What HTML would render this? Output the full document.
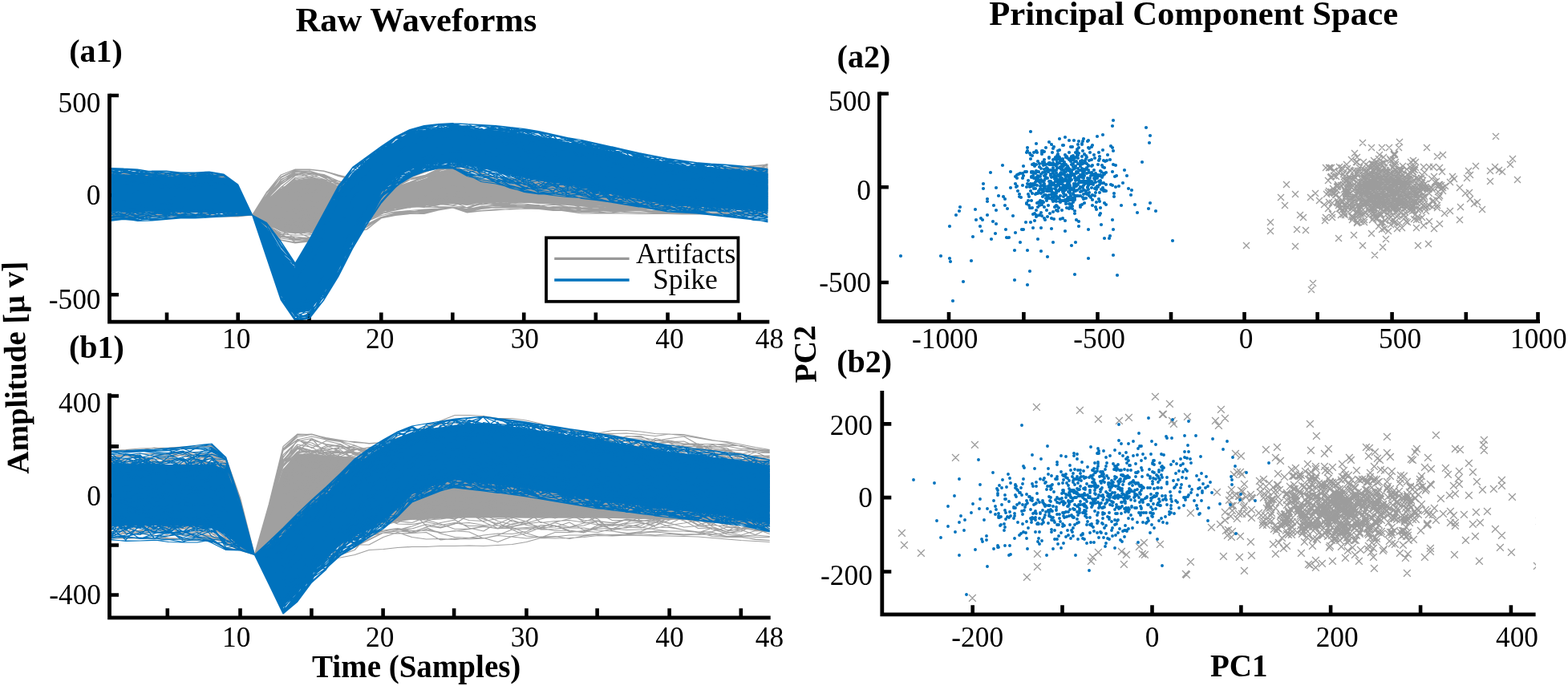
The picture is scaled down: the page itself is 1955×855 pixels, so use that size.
<!DOCTYPE html>
<html><head><meta charset="utf-8"><title>Raw Waveforms and Principal Component Space</title>
<style>html,body{margin:0;padding:0;background:#fff;width:1955px;height:855px;overflow:hidden}svg{display:block}</style>
</head><body>
<svg width="1955" height="855" viewBox="0 0 1955 855"><defs>
<clipPath id="ca1"><rect x="139" y="117" width="819" height="284"/></clipPath>
<clipPath id="cb1"><rect x="139" y="490" width="822" height="280"/></clipPath>
<clipPath id="ca2"><rect x="1098" y="114" width="822" height="287"/></clipPath>
<clipPath id="cb2"><rect x="1101" y="487" width="814" height="278"/></clipPath>
</defs>
<path d="M208.0 401.1v-11.5M296.7 401.1v-11.5M385.5 401.1v-11.5M475.3 401.1v-11.5M564.3 401.1v-11.5M653.2 401.1v-11.5M742.8 401.1v-11.5M832.5 401.1v-11.5M921.7 401.1v-11.5M136.5 119.0h11.5M136.5 243.2h11.5M136.5 367.3h11.5" stroke="#000" stroke-width="4.6" fill="none"/>
<path d="M208.8 769.8v-11.5M299.5 769.8v-11.5M388.4 769.8v-11.5M477.6 769.8v-11.5M566.1 769.8v-11.5M656.4 769.8v-11.5M744.6 769.8v-11.5M834.6 769.8v-11.5M923.8 769.8v-11.5M136.5 493.5h11.5M136.5 556.4h11.5M136.5 617.5h11.5M136.5 679.5h11.5M136.5 741.5h11.5" stroke="#000" stroke-width="4.6" fill="none"/>
<path d="M1183.0 400.6v-11.5M1276.4 400.6v-11.5M1368.5 400.6v-11.5M1460.0 400.6v-11.5M1551.5 400.6v-11.5M1642.6 400.6v-11.5M1735.6 400.6v-11.5M1827.8 400.6v-11.5M1917.5 400.6v-11.5M1096.4 116.8h11.5M1096.4 233.3h11.5M1096.4 352.0h11.5" stroke="#000" stroke-width="4.6" fill="none"/>
<path d="M1212.7 765.8v-11.5M1324.5 765.8v-11.5M1436.5 765.8v-11.5M1547.4 765.8v-11.5M1659.1 765.8v-11.5M1771.1 765.8v-11.5M1883.9 765.8v-11.5M1099.8 528.4h11.5M1099.8 620.1h11.5M1099.8 712.5h11.5" stroke="#000" stroke-width="4.6" fill="none"/>
<g clip-path="url(#ca1)" fill="none" stroke-linejoin="round">
<path d="M136.0 223.0L153.9 223.2L171.7 223.5L189.6 223.7L207.4 224.0L225.3 224.5L243.1 225.0L261.0 225.5L278.8 225.9L296.7 240.7L314.6 268.0L332.4 250.8L350.3 235.4L368.1 224.8L386.0 221.8L403.8 223.7L421.7 231.4L439.5 233.2L457.4 234.9L475.3 237.7L493.1 234.7L511.0 228.8L528.8 222.9L546.7 216.0L564.5 209.2L582.4 218.0L600.3 224.7L618.1 229.6L636.0 230.1L653.8 230.6L671.7 230.6L689.5 230.6L707.4 230.7L725.2 230.7L743.1 229.9L761.0 229.1L778.8 228.2L796.7 227.4L814.5 226.6L832.4 225.8L850.2 223.9L868.1 221.9L885.9 220.0L903.8 218.0L921.7 216.1L939.5 213.7L957.4 211.3L957.4 260.7L939.5 259.3L921.7 257.9L903.8 257.8L885.9 257.6L868.1 257.5L850.2 257.3L832.4 257.2L814.5 257.0L796.7 256.9L778.8 256.8L761.0 256.6L743.1 256.5L725.2 256.3L707.4 255.3L689.5 254.4L671.7 253.4L653.8 252.4L636.0 252.4L618.1 252.4L600.3 252.3L582.4 256.0L564.5 253.8L546.7 254.0L528.8 256.1L511.0 258.2L493.1 260.3L475.3 264.3L457.4 271.1L439.5 276.9L421.7 283.6L403.8 286.4L386.0 289.2L368.1 291.2L350.3 288.6L332.4 279.2L314.6 268.0L296.7 265.4L278.8 262.1L261.0 261.8L243.1 261.5L225.3 261.3L207.4 261.0L189.6 261.0L171.7 261.0L153.9 261.0L136.0 261.0Z" fill="#A0A0A0"/>
<path transform="translate(136.00 0) scale(17.8560 0.5)" vector-effect="non-scaling-stroke" stroke="#A0A0A0" stroke-width="1.2" d="M0 486l1-1 1-4 1-1 1-3 1 3 1 8 1-2 1-1 1 21 1 30 1-5 1-11 1-8 1 1 1-12 1 6 1-12 1-4 1-3 1-4 1-11 1-5 1-7 1-7 1 3 1 9 1 9 1 3 1-3 1 2 1-1 1 1 1 6 1-2 1 0 1 4 1-3 1-1 1 1 1-2 1-7 1 0 1 6 1-10 1 4 1 0M0 482l1 0 1-9 1 0 1 2 1-2 1 3 1-1 1 3 1 25 1 33 1-15 1-18 1-13 1-16 1-1 1 12 1 6 1 5 1-7 1-9 1-6 1-18 1-12 1-9 1 23 1 9 1 6 1-1 1 0 1 6 1-2 1 0 1 1 1-2 1-1 1-5 1-1 1-2 1 5 1-1 1-3 1 0 1-6 1 2 1-4 1 0M0 453l1-8 1-6 1 2 1-1 1 5 1 13 1-3 1-2 1 30 1 53 1-31 1-29 1-14 1-2 1-7 1 14 1 4 1-2 1 8 1-9 1-7 1-10 1-13 1-16 1 17 1 6 1 9 1 4 1-3 1 4 1-3 1 4 1-2 1 3 1-1 1-6 1 4 1 4 1-3 1-5 1-5 1-8 1 2 1-6 1-5 1-9M0 459l1 8 1 0 1 5 1 0 1-3 1 0 1-1 1 2 1 23 1 43 1-25 1-25 1 1 1-11 1-5 1 16 1 9 1-9 1 1 1-8 1-15 1-5 1-11 1-9 1 12 1 12 1 6 1 1 1-2 1-2 1 6 1 0 1 2 1-1 1-2 1-3 1 2 1-2 1-1 1-2 1 2 1 0 1-2 1-7 1-11 1 4M0 508l1 3 1 3 1 2 1 3 1-4 1 6 1-8 1 4 1 9 1 10 1 24 1 25 1-11 1-22 1 3 1-10 1-9 1-4 1-17 1-13 1-3 1-4 1-7 1-1 1 4 1-5 1 5 1-1 1-2 1 5 1 2 1 4 1 0 1-2 1-2 1-1 1 3 1-2 1 4 1 1 1 9 1-8 1 4 1-1 1 1 1-8M0 477l1-1 1 0 1-2 1 5 1 0 1-10 1-1 1-6 1 19 1 55 1-23 1-16 1-21 1-9 1 16 1 12 1 0 1-2 1 0 1-4 1-7 1-9 1-16 1-6 1 9 1 11 1 2 1 1 1 1 1-3 1 7 1 5 1-2 1 1 1-1 1-11 1 1 1 0 1-1 1-6 1-2 1-3 1 5 1-1 1-3 1 7M0 467l1-7 1 10 1 5 1 3 1 2 1 0 1 0 1-2 1 20 1 38 1-11 1-9 1-14 1-13 1-5 1 20 1-2 1-4 1-4 1-11 1-9 1-6 1-13 1-10 1 13 1 8 1 3 1 1 1-1 1 5 1-1 1 3 1 5 1-3 1-3 1 0 1-1 1-5 1 1 1 6 1-5 1-5 1-8 1 0 1-9 1-8M0 510l1 7 1 7 1-1 1 1 1 7 1-3 1-5 1-6 1 9 1 10 1 25 1 12 1-4 1-7 1-1 1-4 1-10 1-9 1-14 1-7 1-4 1-5 1-3 1 8 1 4 1-10 1-6 1 1 1-5 1-1 1 6 1 5 1 1 1-5 1 0 1-1 1 4 1 10 1-1 1-4 1-5 1 0 1 0 1-5 1 5 1-4M0 520l1 3 1-5 1 1 1-2 1-2 1-2 1-5 1-4 1 17 1 15 1 14 1 18 1-13 1-8 1 1 1 3 1-12 1-4 1-11 1-12 1-8 1-1 1-4 1-12 1 16 1-3 1 4 1-2 1-1 1-2 1 9 1 0 1 6 1-4 1 0 1-7 1 0 1 4 1-5 1 5 1 1 1-5 1-2 1-2 1 3 1-1M0 461l1-4 1-4 1 3 1 6 1-5 1 3 1-1 1-1 1 32 1 46 1-20 1-24 1-12 1-7 1-4 1 17 1-1 1 3 1 0 1-10 1-10 1-10 1-6 1-16 1 15 1 4 1 12 1-2 1-2 1 2 1 5 1-4 1-2 1-1 1-3 1 2 1-2 1-2 1 3 1-5 1 0 1-7 1-7 1-10 1 11 1-4M0 490l1 1 1 0 1 9 1-7 1-7 1-2 1-3 1 7 1 22 1 26 1-9 1-7 1 6 1-28 1 10 1 1 1 4 1-8 1-3 1-11 1-10 1 0 1-4 1-8 1 6 1-3 1 7 1 2 1 2 1 1 1-1 1 2 1 2 1 5 1 5 1-2 1-5 1-1 1-3 1-4 1-1 1-5 1 3 1-1 1 1 1-1M0 459l1 1 1-1 1 3 1 2 1-5 1 4 1-4 1 1 1 28 1 48 1-29 1-21 1-15 1-6 1 2 1 9 1 3 1 1 1 4 1-9 1-8 1-8 1-12 1-12 1 19 1 3 1 11 1 2 1 2 1 2 1-2 1 0 1 3 1 0 1-1 1-7 1 2 1 3 1 2 1-3 1-11 1 2 1-4 1-16 1 1 1-10M0 446l1 8 1-2 1 2 1 8 1 5 1-3 1-2 1-6 1 26 1 54 1-30 1-27 1-11 1-15 1 3 1 18 1 4 1 5 1 2 1-9 1-10 1-17 1-20 1-9 1 18 1 14 1 5 1 1 1 1 1-1 1-5 1 2 1 5 1 0 1-2 1-1 1 2 1-12 1 0 1 1 1 0 1 4 1 1 1-5 1-4 1-2M0 470l1 5 1 8 1-4 1-2 1 1 1 5 1-2 1 6 1 13 1 36 1-15 1-10 1-5 1-21 1-6 1 14 1-4 1-6 1 7 1-4 1-8 1-12 1-5 1-12 1 18 1 1 1 4 1 1 1 0 1 3 1 1 1-2 1 1 1-2 1 3 1-4 1-2 1 4 1 7 1 4 1-6 1-4 1 2 1-7 1-10 1-2M0 490l1-6 1-4 1 8 1-2 1 3 1 4 1 4 1 0 1 17 1 22 1-1 1-6 1 6 1-5 1-8 1 3 1-7 1-1 1-12 1-9 1-7 1 4 1-4 1-6 1 10 1 3 1-1 1-2 1 2 1 2 1 2 1-2 1 7 1 3 1-1 1-1 1-10 1 1 1-1 1 0 1 1 1-4 1-10 1 2 1-4 1 0M0 466l1-10 1 10 1 2 1 6 1 9 1-3 1-9 1-3 1 22 1 46 1-23 1-31 1-9 1-14 1 11 1 14 1 0 1 2 1 0 1-7 1-15 1-8 1-1 1 1 1 16 1 4 1 1 1 3 1-1 1-1 1-1 1 1 1-1 1-2 1-4 1-2 1 8 1-2 1-3 1-1 1 0 1-9 1-4 1 3 1-2 1-3M0 519l1 2 1-2 1 8 1-10 1-1 1 1 1 5 1 4 1 10 1 0 1 25 1 19 1 0 1 2 1-13 1-17 1-9 1-14 1-9 1-4 1-2 1 3 1-6 1-8 1 3 1-8 1 0 1 3 1 0 1-3 1 6 1 3 1 4 1 2 1 2 1 1 1 4 1 1 1 0 1 1 1-7 1 0 1 0 1 2 1-5 1 15M0 478l1-5 1 2 1 3 1-1 1 4 1 0 1 5 1-1 1 20 1 31 1 5 1-7 1-11 1-12 1 6 1-4 1-6 1-2 1-7 1-8 1-9 1-15 1-13 1-6 1 18 1 7 1 2 1 2 1 5 1 3 1 1 1-1 1 4 1-2 1-4 1-2 1 6 1 0 1 4 1-5 1 2 1-5 1-3 1 11 1 1 1-6M0 484l1 5 1-3 1-9 1 0 1 3 1 2 1 7 1 1 1 19 1 27 1-4 1 7 1-3 1-9 1-6 1 12 1-17 1-8 1-4 1-5 1-11 1-7 1-11 1-7 1 10 1-1 1 7 1 3 1-2 1 0 1 4 1-2 1 2 1-4 1 4 1 7 1 5 1-4 1 0 1-4 1-3 1 3 1-11 1 3 1-3 1 6M0 484l1 3 1 4 1 0 1 2 1-3 1-8 1 7 1 4 1 17 1 26 1 2 1-4 1-12 1-6 1 8 1-7 1 2 1-9 1-9 1-2 1-8 1-13 1-9 1 0 1 15 1-2 1 5 1 2 1-2 1 2 1 0 1-1 1 0 1 0 1 0 1-2 1-2 1 5 1 0 1 2 1 2 1-1 1 8 1-10 1 2 1-5M0 539l1-8 1-4 1 4 1 2 1 2 1 0 1 0 1 2 1 1 1-2 1 26 1 27 1 1 1 4 1-8 1-12 1-11 1-17 1-17 1-11 1-2 1 0 1 1 1-1 1 8 1-10 1-2 1 1 1 2 1 0 1 1 1 1 1 3 1-3 1 4 1-1 1 2 1-2 1 2 1 2 1-1 1 7 1 1 1 3 1 3 1 1M0 477l1 0 1 0 1-2 1-8 1 2 1-7 1 6 1 0 1 24 1 44 1-18 1-23 1-25 1-7 1-6 1 15 1 17 1-3 1 5 1-10 1-7 1-9 1-10 1-5 1 22 1 3 1 4 1-3 1 3 1-1 1 4 1 0 1 5 1-9 1-1 1 2 1-2 1-4 1-1 1-8 1 0 1 10 1 2 1-10 1-7 1-4M0 504l1-2 1 6 1 5 1-3 1-4 1-5 1 0 1-7 1 22 1 20 1 9 1 21 1 10 1-17 1 1 1 3 1-20 1-14 1-10 1-13 1 1 1-15 1-10 1-2 1 10 1 1 1 4 1 0 1 4 1-4 1 2 1 1 1 3 1 1 1-2 1-2 1 5 1 1 1-2 1 8 1 8 1-10 1 0 1 12 1 2 1 0M0 475l1 0 1-1 1 5 1-1 1-1 1-4 1 3 1-2 1 24 1 38 1-9 1-6 1-7 1-7 1-3 1 4 1 0 1-9 1 2 1-7 1-12 1-10 1-13 1-6 1 10 1 11 1 3 1-5 1 0 1-3 1 4 1 6 1 3 1-5 1-2 1 7 1 0 1-1 1 3 1 7 1 0 1-5 1-3 1-1 1-8 1-9M0 479l1 1 1 2 1 12 1-6 1 0 1 0 1 3 1 4 1 14 1 27 1-12 1-14 1-2 1-2 1-7 1 7 1-1 1 1 1-6 1-7 1-14 1-11 1 0 1-18 1 14 1 9 1 6 1-1 1 2 1 2 1 1 1-4 1 2 1-2 1 0 1 2 1 3 1 3 1-3 1 2 1 3 1 1 1 3 1-6 1-4 1 3M0 450l1-2 1-1 1-6 1-1 1 3 1 7 1 6 1 0 1 27 1 53 1-33 1-30 1-16 1 8 1-1 1 0 1 0 1-1 1 5 1 1 1-11 1-17 1-9 1-6 1 14 1 10 1 9 1 2 1 3 1 3 1 3 1 2 1 3 1-2 1-9 1-3 1-1 1-4 1 2 1-6 1-8 1 4 1-2 1-4 1 0 1 0M0 475l1 2 1 2 1-1 1 5 1 9 1-1 1-3 1 11 1 13 1 24 1-2 1 2 1-11 1 3 1-6 1-2 1-4 1-1 1-8 1-6 1-8 1 5 1-13 1 1 1 5 1-4 1 5 1 1 1 3 1 0 1-2 1-1 1 2 1 1 1 4 1-1 1 2 1 3 1-3 1-10 1-7 1-7 1 8 1-5 1 7 1 3M0 534l1-2 1-2 1 0 1 0 1-2 1 0 1 6 1-7 1 7 1 2 1 25 1 27 1 6 1 1 1-19 1 2 1-19 1-9 1-16 1-16 1-6 1-1 1 4 1 1 1 5 1-15 1 4 1 4 1-1 1 0 1-3 1 5 1 10 1 0 1 2 1 0 1-4 1 3 1-5 1 0 1 1 1 4 1 1 1 1 1-1 1-5M0 481l1-5 1-3 1 1 1-5 1-1 1-1 1 7 1 6 1 28 1 28 1-10 1-2 1-9 1-7 1 14 1-1 1-13 1-9 1 1 1-5 1-13 1-11 1-5 1-3 1 8 1 7 1 6 1-4 1 0 1 3 1 0 1-5 1 2 1 4 1 5 1-8 1 10 1-6 1 3 1 2 1 1 1-3 1-9 1 1 1-6 1-16M0 543l1 0 1-2 1 0 1-1 1 0 1 0 1 0 1 0 1 0 1-4 1 33 1 29 1 7 1-4 1-5 1-6 1-11 1-7 1-29 1-7 1-3 1-2 1-7 1-6 1 11 1-4 1-3 1 0 1-2 1 1 1 1 1 5 1 5 1 0 1 0 1 0 1 0 1 1 1 0 1 1 1 0 1 0 1 1 1-1 1 3 1 2M0 474l1 2 1 4 1-6 1-2 1-1 1 7 1 10 1 3 1 15 1 30 1-9 1 2 1-16 1-29 1 26 1 14 1-15 1-4 1-5 1-7 1-13 1-11 1-6 1-6 1 18 1 2 1 11 1-4 1 1 1-6 1-2 1 6 1-2 1 2 1-1 1-4 1-1 1-2 1-1 1 2 1 1 1-5 1-6 1 1 1-1 1 5M0 543l1-1 1-1 1-2 1-1 1-1 1 1 1 0 1 1 1 1 1-4 1 33 1 30 1 7 1-4 1-6 1-6 1-11 1-8 1-27 1-7 1-4 1 0 1-9 1-6 1 12 1-4 1-2 1-3 1-1 1 1 1 2 1 3 1 3 1-2 1 4 1 1 1 1 1-1 1 0 1 1 1 1 1-1 1 1 1 2 1 2 1 2M0 493l1 7 1-7 1 1 1 7 1-2 1-2 1 1 1-2 1 21 1 19 1 5 1-7 1 1 1-6 1-23 1 10 1-9 1-2 1 3 1-11 1-10 1 0 1-7 1 3 1 8 1-6 1 3 1 4 1 2 1 0 1 0 1 1 1-2 1 7 1-2 1-6 1-2 1 3 1 2 1-3 1-5 1-1 1-9 1-6 1 7 1-2M0 503l1 1 1-2 1 8 1-1 1-4 1 1 1 0 1-5 1 13 1 22 1-5 1-3 1-6 1-6 1-12 1 9 1-2 1-1 1-8 1-3 1-11 1-7 1-1 1-9 1 8 1 6 1 3 1-1 1 1 1 5 1-6 1-1 1 0 1-3 1-1 1-1 1 3 1-2 1 2 1 2 1-4 1 1 1 8 1-1 1-4 1-1M0 462l1 4 1-5 1-1 1 6 1-2 1 1 1-4 1-2 1 27 1 50 1-23 1-24 1-21 1-6 1 9 1 13 1 10 1-2 1 3 1-9 1-9 1-17 1-13 1-12 1 14 1 3 1 13 1 1 1 0 1 0 1 1 1 2 1-3 1-3 1 1 1 0 1-2 1-2 1-4 1-2 1 3 1-8 1 6 1 0 1-7 1 0M0 435l1-1 1 2 1 2 1 1 1 3 1-4 1 5 1-2 1 32 1 63 1-45 1-42 1-22 1-1 1 11 1 23 1-1 1 3 1 6 1-2 1-18 1-6 1-15 1-16 1 21 1 19 1 10 1 4 1 0 1 3 1 2 1-2 1 3 1-3 1-3 1-6 1-3 1 1 1-8 1 0 1-3 1-3 1-15 1-2 1 0 1-9M0 470l1 7 1 0 1 7 1-8 1 7 1 1 1 5 1-3 1 18 1 32 1-4 1-9 1-9 1-12 1 12 1 15 1-13 1-13 1 1 1-3 1-6 1-4 1-14 1-8 1 3 1-1 1 11 1-1 1 7 1 1 1-2 1 3 1 6 1 0 1-7 1 1 1 3 1-4 1-4 1 2 1-2 1-7 1-3 1-5 1 2 1 1M0 518l1-8 1 3 1 4 1 1 1 4 1-4 1-4 1 5 1 4 1 13 1 13 1 7 1 0 1-13 1-9 1-1 1-5 1-2 1-15 1-2 1-9 1-8 1 0 1-2 1 2 1 6 1-1 1 2 1 1 1 5 1 0 1 4 1-1 1 3 1-3 1-2 1 8 1-1 1-1 1 8 1-1 1-6 1 2 1-8 1 8 1 8M0 465l1 2 1 1 1-3 1 4 1-8 1 2 1 1 1 2 1 27 1 43 1-20 1-18 1-18 1-14 1-3 1 20 1-2 1 4 1 6 1-3 1-4 1-12 1-17 1-4 1 13 1 9 1 4 1 3 1 1 1 2 1 0 1 0 1 0 1-1 1 1 1-5 1 4 1-3 1 1 1-5 1-5 1 6 1-7 1-11 1-6 1-4M0 538l1 1 1-3 1 1 1 0 1 2 1-1 1 0 1 1 1 0 1-3 1 32 1 17 1 14 1-1 1-7 1-13 1-7 1-12 1-18 1-6 1-5 1-1 1-6 1-5 1 9 1-10 1 1 1-1 1-1 1 1 1 3 1 0 1 1 1 1 1 0 1 1 1-1 1 7 1 2 1 0 1 0 1 3 1 0 1 0 1 3 1 2M0 520l1 10 1-7 1 3 1-6 1 8 1-2 1-1 1 4 1 7 1 0 1 22 1 8 1 6 1-3 1-6 1-7 1-12 1-12 1-7 1-3 1-12 1-4 1-6 1 3 1 1 1-5 1-1 1 4 1 1 1 1 1 4 1 1 1-3 1 3 1 2 1 0 1 4 1 4 1-5 1-4 1 8 1 5 1-5 1-7 1 0 1 0M0 444l1-5 1-3 1 6 1-2 1 2 1 5 1 5 1-2 1 30 1 56 1-32 1-26 1-32 1-6 1 9 1 17 1 11 1 5 1-2 1-8 1-17 1-11 1-14 1 1 1 13 1 2 1 9 1 2 1-2 1-1 1 0 1 2 1 0 1-3 1 2 1-3 1-3 1-6 1-2 1 0 1-9 1-3 1 1 1-5 1-3 1-9M0 525l1-1 1-9 1-4 1 6 1 8 1 0 1 5 1-5 1 5 1 6 1 22 1 7 1 12 1 6 1-18 1-13 1-7 1-12 1-18 1-2 1-4 1-6 1 6 1-1 1 0 1-6 1-3 1-1 1 2 1 1 1 1 1 8 1 4 1 2 1 0 1 1 1 4 1-3 1 6 1-7 1-2 1-7 1-1 1 3 1 11 1-3M0 482l1-3 1-4 1 3 1-6 1 5 1 3 1-1 1-1 1 19 1 39 1-12 1 2 1-3 1-10 1-10 1 14 1 4 1-12 1-7 1-3 1-8 1 0 1-13 1-5 1 1 1 10 1 1 1-7 1 2 1 1 1 7 1 0 1 0 1 1 1 4 1-2 1 2 1-1 1-4 1-2 1-3 1-7 1 5 1-10 1 6 1 4M0 476l1 1 1 4 1 4 1 1 1 4 1-3 1 1 1-7 1 23 1 32 1-9 1 0 1-4 1-31 1 4 1 0 1 7 1 9 1-9 1-7 1-10 1-7 1-6 1-1 1 2 1 8 1 0 1 1 1 3 1 2 1-3 1-1 1-1 1 0 1 3 1-5 1 1 1 2 1 1 1-1 1 4 1-2 1 0 1-2 1 7 1-17M0 515l1-1 1-4 1-6 1 1 1 1 1 6 1-5 1 10 1 10 1 9 1 15 1 9 1-5 1-4 1 0 1 0 1-17 1-6 1-11 1-5 1 3 1-3 1-7 1-10 1 1 1-7 1 7 1 0 1 2 1 1 1 3 1 7 1-1 1-1 1-2 1 4 1-3 1-3 1-4 1-3 1 5 1 13 1-5 1 5 1 3 1-5M0 475l1-2 1 10 1-10 1 3 1 3 1-2 1 2 1 5 1 19 1 33 1-6 1-22 1 2 1 12 1 0 1 5 1-19 1-6 1-6 1-8 1-5 1-12 1-11 1-18 1 16 1 9 1 6 1 0 1 7 1-3 1-1 1-1 1 6 1 6 1-1 1-4 1-3 1 3 1-5 1 4 1 2 1-4 1-1 1 0 1 5 1-12M0 512l1-3 1 2 1 0 1-4 1-5 1 0 1 10 1 11 1 8 1 5 1 21 1 15 1 5 1-15 1-12 1 1 1-11 1-13 1-7 1-8 1-1 1-5 1-6 1-1 1 5 1-8 1 1 1 3 1 2 1 5 1-4 1 1 1 1 1 1 1-1 1-1 1 4 1 0 1-4 1 6 1 4 1-4 1 3 1-5 1 8 1 0M0 461l1-3 1 3 1 2 1 1 1-1 1-15 1 6 1-4 1 34 1 52 1-23 1-23 1-16 1-5 1-1 1 10 1-2 1 9 1 2 1-3 1-12 1-10 1-12 1-8 1 17 1 7 1 4 1-1 1 5 1-1 1 0 1 4 1 3 1-1 1-4 1 6 1-2 1-2 1-4 1-10 1-9 1 0 1 0 1-4 1-9 1-11M0 465l1 7 1 7 1 12 1 1 1-6 1-5 1-15 1 1 1 26 1 43 1-12 1-8 1-9 1-1 1 8 1-6 1-7 1-9 1 6 1-3 1-7 1-15 1-9 1-10 1 12 1 5 1 7 1-1 1 3 1 1 1 0 1 0 1-1 1 2 1-2 1 0 1-2 1-7 1 4 1-6 1 1 1 0 1-10 1-6 1-3 1-4M0 459l1-2 1 1 1-2 1 2 1-3 1 1 1 4 1 1 1 25 1 50 1-31 1-25 1-21 1-11 1 10 1 30 1-5 1 0 1 2 1-15 1-10 1-13 1-6 1-14 1 13 1 12 1 11 1-1 1 2 1-3 1 0 1 4 1 7 1-1 1-1 1 1 1 0 1 3 1-1 1-7 1-4 1-5 1-4 1-4 1-10 1-17M0 453l1 4 1 3 1-5 1 6 1 7 1 1 1 9 1 7 1 13 1 38 1-12 1-12 1-8 1-15 1-6 1 4 1-4 1 2 1-2 1-8 1-7 1-9 1-9 1-20 1 15 1 11 1 11 1 0 1 5 1 0 1 1 1 1 1 3 1-3 1 3 1 0 1-2 1-2 1 0 1 1 1 0 1-4 1 0 1-5 1 3 1-6M0 440l1-1 1-4 1 0 1-1 1 7 1 1 1-4 1 3 1 31 1 64 1-45 1-50 1-17 1-1 1 4 1 11 1 9 1 11 1 4 1-3 1-14 1-5 1-15 1-15 1 20 1 15 1 8 1 2 1-1 1-4 1 5 1-2 1-2 1-1 1-6 1-4 1-1 1-2 1-1 1-1 1-5 1-3 1-2 1-7 1-4 1-4M0 514l1 0 1-7 1 2 1-3 1 5 1 1 1-3 1 6 1 11 1 10 1 19 1 11 1-1 1-4 1-11 1-3 1-10 1-1 1-8 1-10 1 0 1-7 1-5 1 1 1 3 1 0 1-3 1-5 1 3 1-1 1 0 1-8 1 7 1 3 1 2 1 3 1 5 1-3 1 2 1-5 1-3 1 4 1 0 1-8 1 4 1 0M0 466l1-2 1-7 1-3 1 11 1-6 1 3 1 5 1 4 1 19 1 46 1-24 1-15 1-20 1-15 1 13 1 18 1-1 1-5 1 2 1-6 1-8 1-16 1-10 1-12 1 10 1 12 1 9 1 0 1 2 1-3 1 1 1 3 1 2 1 2 1-6 1-6 1 1 1 1 1 8 1-2 1-9 1 1 1-9 1-10 1 13 1-3M0 506l1 8 1-2 1 4 1-8 1-7 1 8 1 6 1 0 1 9 1 12 1 9 1 17 1 3 1-4 1-6 1 1 1-12 1-9 1-18 1-6 1 1 1-10 1-8 1 0 1 9 1-5 1-5 1 2 1-3 1-1 1 4 1 1 1 4 1 10 1 0 1 0 1-6 1-4 1-5 1-2 1-5 1-2 1 0 1-4 1-5 1-4M0 496l1 5 1 4 1-4 1 2 1-8 1 12 1 3 1-3 1 7 1 22 1-2 1-6 1 3 1-3 1-5 1 10 1-14 1-3 1-8 1-10 1-4 1-11 1 2 1-8 1 18 1-8 1 5 1-4 1-3 1 3 1 4 1-3 1 6 1-3 1 1 1 1 1 2 1-8 1 7 1 1 1-4 1-6 1-9 1-6 1 6 1 0M0 451l1 9 1-2 1-3 1 7 1 2 1-1 1-3 1-6 1 26 1 56 1-34 1-25 1-13 1-4 1 4 1 6 1-8 1 5 1 5 1-5 1-11 1-15 1-16 1-10 1 21 1 13 1 13 1 1 1-1 1 1 1 7 1-3 1 4 1 2 1 2 1-6 1 4 1-3 1-5 1-5 1-2 1-4 1-5 1 2 1-9 1-11M0 509l1 4 1-7 1 5 1 1 1 6 1-8 1 1 1-2 1 6 1 21 1 9 1 4 1-7 1 5 1 4 1 3 1-18 1-9 1-7 1-10 1-9 1-2 1 0 1-11 1-5 1-2 1 4 1 2 1 4 1 2 1 0 1 3 1-1 1 1 1-1 1 10 1 2 1-5 1-4 1-2 1-8 1-2 1-2 1 7 1 0 1-3M0 441l1 3 1 1 1 7 1-3 1 7 1 1 1 0 1-9 1 28 1 60 1-30 1-26 1-14 1-12 1 0 1 10 1 9 1 4 1 2 1-7 1-10 1-10 1-18 1-3 1 15 1 10 1 12 1 2 1-2 1 1 1-4 1-2 1-7 1 4 1-7 1 2 1-3 1-4 1 0 1-2 1 0 1 5 1-3 1-1 1-10 1-1M0 485l1 0 1 1 1 2 1 2 1-2 1-2 1 5 1-7 1 19 1 33 1-12 1-12 1 0 1-16 1 25 1-14 1 7 1 2 1-5 1-9 1-7 1-12 1-5 1-13 1 10 1 7 1 0 1 0 1 2 1-2 1 5 1 2 1-4 1 1 1-3 1-1 1 1 1-2 1 4 1-4 1 3 1-2 1 3 1-6 1-3 1-7M0 505l1 9 1 2 1-3 1-4 1 0 1-2 1 6 1 2 1 5 1 16 1 11 1 7 1-5 1 4 1-11 1-4 1-12 1-15 1-1 1-10 1-8 1-9 1-2 1-5 1 10 1-5 1 5 1-2 1 3 1 3 1 2 1 8 1 2 1 1 1-1 1-3 1 3 1 2 1-7 1 3 1 0 1 2 1-1 1-9 1-7 1 13M0 480l1 5 1 0 1-7 1-7 1-1 1 7 1 5 1 2 1 22 1 30 1-10 1-7 1-11 1-11 1 2 1 11 1-3 1-8 1-1 1 1 1-11 1-13 1-6 1-2 1 14 1-3 1 8 1-1 1-3 1 1 1 2 1 4 1 3 1 0 1 2 1-1 1 2 1-7 1-6 1 3 1-7 1-2 1 0 1-2 1-2 1 10M0 431l1 5 1-1 1-1 1 1 1 4 1-3 1 1 1 0 1 32 1 67 1-49 1-45 1-18 1-2 1 4 1 12 1 7 1 6 1 10 1-6 1-13 1-12 1-13 1-9 1 13 1 14 1 11 1 1 1 1 1 3 1-5 1 0 1 0 1-3 1-3 1 1 1-2 1 2 1-2 1-5 1-5 1-3 1-3 1-4 1-5 1-4M0 524l1-6 1-3 1 3 1-3 1 0 1-3 1 2 1 4 1 12 1 6 1 28 1 19 1 20 1-4 1-8 1-14 1-33 1-9 1-11 1-1 1-10 1 3 1-7 1 3 1-10 1-3 1 1 1 3 1 0 1-1 1 5 1 4 1 3 1 3 1 2 1-2 1-6 1-5 1 7 1 3 1-1 1-2 1 0 1 0 1 0 1-1M0 538l1-2 1-4 1-2 1 4 1 2 1 0 1 1 1-1 1 1 1-1 1 33 1 30 1 6 1-4 1-6 1-7 1-19 1-17 1-15 1-7 1-3 1 0 1-4 1-5 1 10 1-10 1-1 1 1 1-1 1 3 1 1 1-2 1 0 1 4 1 2 1 4 1 0 1 1 1 1 1 1 1 0 1 0 1 0 1-1 1 4 1 4M0 486l1-5 1-3 1-2 1-4 1 3 1 1 1 8 1 1 1 19 1 32 1-17 1-15 1-19 1 5 1 0 1 19 1-2 1-2 1-5 1-8 1-8 1-6 1-15 1-7 1 22 1-1 1 2 1-2 1-4 1 5 1 0 1 2 1 6 1 5 1-7 1 1 1 0 1-2 1-1 1-5 1 3 1-2 1-3 1 1 1 0 1-3M0 505l1-1 1-3 1-6 1-2 1-4 1 3 1 2 1-8 1 20 1 30 1-1 1-7 1 6 1-11 1-11 1 0 1-1 1 2 1-2 1-7 1-12 1-10 1-11 1-6 1 4 1 7 1 9 1 0 1 2 1-1 1-2 1 0 1 7 1 3 1-2 1 4 1-3 1 5 1-1 1-4 1 1 1-6 1-7 1-8 1 3 1 1M0 479l1 8 1-3 1-3 1 6 1 6 1 0 1-9 1-2 1 23 1 31 1-2 1-14 1-3 1-11 1 10 1 1 1-1 1-9 1-10 1-9 1-10 1-11 1-2 1 0 1 11 1-2 1 6 1-1 1 5 1 1 1 2 1-1 1-6 1-2 1-3 1 3 1 1 1-3 1-1 1 6 1-6 1-6 1-2 1-4 1-2 1 4M0 516l1 3 1 2 1 2 1 0 1 1 1 6 1-2 1 0 1 6 1 2 1 26 1 28 1 7 1-4 1-7 1-14 1-18 1-15 1-10 1-10 1-6 1-1 1-1 1-8 1 15 1-9 1-1 1 3 1 0 1 0 1 8 1-2 1 1 1 3 1-4 1 0 1 2 1 8 1-4 1 0 1 2 1 0 1-5 1 3 1 4 1 5M0 520l1 0 1 0 1-7 1 0 1 1 1-1 1 1 1-3 1 16 1 9 1 22 1 17 1 0 1 4 1-6 1-8 1-17 1-11 1-16 1-5 1-8 1-3 1-5 1 4 1 3 1-3 1-4 1 2 1-1 1 2 1 1 1 5 1-6 1 2 1-5 1 6 1-7 1-2 1-4 1 9 1-5 1 3 1-2 1-8 1 3 1 9M0 486l1-3 1-1 1-2 1 2 1 9 1 0 1-1 1-4 1 16 1 34 1-10 1-15 1-10 1-7 1 17 1-12 1 1 1 2 1-7 1-8 1-6 1-1 1-15 1-16 1 19 1 10 1 3 1-6 1 6 1 0 1 4 1 0 1-1 1-2 1 4 1 4 1-11 1-4 1 7 1-4 1-8 1-1 1-2 1-2 1-3 1-2M0 475l1-4 1-1 1 1 1 6 1 2 1-1 1 3 1 1 1 22 1 32 1-3 1-1 1-14 1-14 1 3 1 6 1-8 1-12 1-6 1-4 1-6 1-5 1-17 1-3 1 9 1 8 1 8 1-2 1-1 1-5 1 0 1-3 1 5 1 1 1 4 1 0 1-3 1 1 1-3 1 1 1-1 1-8 1-2 1-1 1-4 1 4M0 525l1-1 1-9 1 3 1 0 1-7 1 6 1 6 1-1 1 7 1 7 1 24 1 11 1 6 1 15 1-7 1-6 1-16 1-19 1-13 1-7 1-7 1-2 1 2 1 1 1-1 1-12 1-4 1 5 1 2 1 4 1-1 1-1 1 3 1 2 1-2 1 2 1 3 1 2 1-4 1-8 1 2 1 4 1 1 1-1 1 1 1 10M0 484l1-5 1-2 1 3 1-3 1-4 1 3 1 8 1 2 1 23 1 27 1-6 1-15 1-13 1 10 1 0 1 9 1-4 1-7 1-7 1-7 1-6 1-7 1-7 1-8 1 5 1 3 1 2 1 4 1-5 1 2 1 8 1 0 1-3 1-1 1 5 1-2 1 1 1-1 1-3 1 11 1-5 1-6 1-6 1 0 1 0 1 3M0 478l1 5 1 0 1 0 1-5 1 1 1 0 1 3 1-3 1 23 1 34 1-11 1-11 1-13 1 8 1-18 1 11 1-8 1 1 1 4 1-7 1-7 1-10 1 1 1-1 1 13 1-7 1 1 1 4 1-1 1 1 1 2 1-3 1 4 1 0 1 1 1-3 1 1 1-3 1 3 1 3 1 1 1-1 1-1 1-17 1 5 1-3M0 484l1-5 1 0 1 5 1 7 1-3 1-3 1 8 1-4 1 24 1 23 1-3 1 2 1 6 1-22 1 10 1-3 1-1 1-11 1-12 1-5 1-5 1 1 1-3 1-5 1 3 1-5 1 2 1-2 1 0 1-6 1 4 1 2 1 10 1 1 1-4 1 1 1-6 1-2 1-8 1 7 1 1 1-7 1-2 1 5 1 1 1 1M0 458l1 2 1 5 1-4 1-4 1 8 1-4 1 7 1 2 1 26 1 40 1-13 1-11 1-25 1-13 1 6 1 18 1 3 1 4 1-6 1-9 1-8 1-12 1-14 1-17 1 19 1 3 1 9 1-3 1 4 1-3 1 4 1-5 1 0 1 4 1-4 1 0 1-3 1-9 1 3 1 0 1-7 1 1 1-6 1-7 1-1 1-6M0 531l1 5 1 2 1-5 1-5 1 5 1 1 1 2 1 2 1 1 1-3 1 26 1 27 1 6 1 2 1-5 1-12 1-7 1-9 1-22 1-9 1-4 1-4 1-4 1-4 1 8 1-8 1-1 1-1 1 3 1 2 1-5 1 2 1 4 1 4 1 0 1 0 1 0 1 3 1-1 1 0 1-1 1 4 1 0 1-4 1 7 1 3M0 496l1 5 1 3 1-5 1-2 1-6 1 9 1 2 1 5 1 9 1 20 1 4 1 1 1-4 1-5 1 1 1 3 1-19 1 1 1-10 1-8 1-1 1-4 1-11 1-16 1 12 1 4 1 3 1-3 1 0 1-2 1 4 1 5 1 4 1-3 1 1 1 1 1-3 1-1 1 8 1-2 1 1 1-5 1-2 1-11 1 1 1 8M0 540l1 0 1-1 1-2 1-1 1 1 1-2 1 2 1-2 1 0 1 1 1 22 1 15 1 21 1-2 1-3 1-3 1-12 1-15 1-18 1-7 1-4 1-2 1-8 1-3 1 6 1-8 1-2 1 0 1 2 1 5 1 3 1 3 1 1 1-1 1 0 1 0 1-1 1 4 1-1 1-2 1 3 1 4 1 0 1 1 1 2 1 2M0 465l1 9 1-6 1 7 1-6 1 0 1 4 1 3 1 1 1 15 1 44 1-23 1-3 1-16 1-6 1-10 1 8 1-6 1 7 1 1 1-5 1-12 1-11 1-5 1-16 1 7 1 14 1 6 1 1 1 4 1-1 1 4 1-2 1 6 1 3 1-5 1-2 1-5 1 0 1 4 1-10 1 2 1-9 1-6 1-11 1 12 1-2M0 486l1 6 1-10 1 3 1 11 1-2 1 0 1 4 1-4 1 16 1 26 1 2 1 2 1-10 1-3 1-3 1 11 1-6 1-11 1-16 1-4 1-4 1-12 1-17 1-11 1 20 1 1 1 5 1 3 1 4 1 1 1 1 1 0 1 6 1 2 1-2 1-7 1-3 1 3 1-3 1 3 1 0 1-1 1 1 1 0 1-6 1-3M0 534l1 0 1 4 1-1 1-2 1-2 1 3 1 2 1 1 1 1 1-4 1 33 1 29 1 6 1-3 1-6 1-6 1-15 1-9 1-24 1-9 1-3 1-6 1-3 1-2 1 8 1-7 1-3 1 0 1-3 1 3 1 1 1 2 1 3 1 2 1-3 1-3 1 3 1 4 1 2 1 3 1 3 1 1 1 0 1-1 1 1 1 3M0 492l1 0 1-1 1 3 1 1 1 1 1 1 1-3 1-4 1 20 1 26 1-1 1-4 1 13 1-15 1-5 1 4 1-14 1-4 1 2 1-6 1-6 1-6 1-9 1-1 1 4 1-4 1 4 1 2 1 1 1 2 1-6 1 5 1 8 1 2 1-4 1-5 1 0 1-5 1 3 1-4 1 2 1 5 1-14 1 1 1-4 1-8M0 467l1 5 1-7 1 6 1 9 1 1 1 0 1-1 1-7 1 25 1 38 1-13 1 2 1-9 1-8 1 5 1-10 1-11 1-3 1-1 1-4 1-10 1-3 1-5 1-7 1 7 1 6 1 7 1-4 1 1 1 2 1 1 1 4 1 3 1-6 1-2 1-5 1 1 1-4 1 2 1-1 1 1 1-5 1-11 1 7 1-5 1 5M0 500l1 7 1-1 1 4 1-10 1 3 1-2 1-1 1 0 1 15 1 21 1 1 1 2 1-10 1 6 1-7 1 5 1-11 1-3 1-4 1-10 1-7 1-13 1-6 1 0 1 5 1 4 1-3 1-4 1-1 1 2 1 3 1 3 1 2 1 3 1-2 1-4 1-4 1 10 1-9 1-1 1 7 1 1 1-6 1-1 1 6 1 6M0 466l1 1 1 4 1 4 1-4 1-8 1 3 1 8 1 2 1 21 1 39 1-17 1-12 1-22 1-7 1 0 1 19 1-10 1-3 1-3 1-4 1-12 1-8 1-16 1-12 1 22 1 9 1 10 1 1 1 0 1-4 1 4 1 1 1 3 1-9 1-6 1-6 1-2 1 6 1 3 1-3 1-2 1 1 1-5 1-1 1-3 1-17M0 484l1-4 1-2 1-3 1-2 1 6 1-1 1-4 1-12 1 27 1 47 1-32 1-14 1-4 1-18 1 14 1 15 1-5 1 4 1-7 1-9 1-13 1-11 1-4 1-15 1 12 1 10 1 11 1 1 1 4 1 0 1-3 1 1 1 2 1-2 1 1 1 6 1-3 1-1 1 4 1-6 1-6 1-7 1 1 1 1 1-3 1-2M0 522l1-8 1 1 1 0 1 4 1-1 1-3 1-1 1-6 1 13 1 15 1 14 1 7 1 0 1-9 1-7 1 9 1-12 1-5 1-14 1-6 1-11 1-5 1-6 1 3 1 8 1-4 1 4 1 0 1 1 1 4 1 1 1 0 1 2 1-1 1 1 1 4 1 2 1-3 1-6 1 0 1 0 1 5 1-2 1-2 1 6 1-1M0 490l1 4 1-1 1-2 1-7 1 2 1-1 1 1 1-3 1 20 1 33 1-10 1 0 1-8 1-22 1-6 1 0 1-2 1 6 1 1 1-8 1-7 1-11 1-16 1-14 1 14 1 16 1 3 1 6 1 4 1 0 1 0 1-1 1 1 1 2 1-2 1 3 1 2 1-1 1-1 1-4 1-2 1-8 1 0 1-2 1-6 1 11M0 451l1 3 1-7 1-1 1-3 1 0 1 5 1 5 1 8 1 29 1 46 1-20 1-24 1-9 1-13 1-5 1 23 1 1 1-1 1 2 1-6 1-17 1-11 1-18 1-10 1 13 1 18 1 9 1-2 1 1 1-3 1 1 1 3 1 1 1-8 1-1 1 2 1 0 1 3 1-7 1 0 1-7 1-1 1-2 1 0 1-7 1-3M0 442l1 6 1 1 1-6 1-1 1 4 1 10 1 5 1 4 1 18 1 53 1-30 1-24 1-16 1-10 1 16 1 18 1-6 1-6 1 10 1-11 1-7 1-5 1-19 1-12 1 11 1 12 1 9 1 5 1 1 1-2 1 2 1-2 1-2 1 5 1-6 1-4 1-2 1-6 1-9 1 3 1-6 1-5 1-4 1-7 1-8 1-1M0 541l1 0 1-4 1 0 1-3 1 3 1 0 1 0 1 1 1 1 1-3 1 32 1 23 1 4 1-1 1-7 1-4 1-10 1-12 1-20 1-8 1-2 1-6 1-3 1-4 1 4 1-8 1-1 1 2 1 2 1-3 1 3 1 8 1 3 1 2 1 0 1-3 1-2 1 3 1 2 1-1 1 1 1 1 1-3 1 1 1 7 1 4M0 492l1-5 1-6 1-10 1 7 1-1 1 12 1 1 1-1 1 11 1 36 1-9 1-10 1-28 1 7 1 9 1 1 1-3 1-1 1 0 1-7 1-3 1-11 1-14 1-10 1 0 1 7 1 12 1 2 1-1 1 2 1-4 1 1 1 4 1 2 1-3 1 3 1 6 1-4 1 1 1-10 1-10 1 2 1 0 1-1 1-4 1-3M0 515l1-4 1-10 1 7 1 1 1 2 1 0 1 9 1-3 1 9 1 10 1 6 1 1 1-2 1 0 1-8 1 14 1-17 1-10 1-6 1-11 1-4 1-3 1-8 1 7 1 4 1-4 1-2 1-4 1 0 1 1 1 1 1 5 1-5 1-2 1-4 1 7 1 0 1-1 1-3 1 5 1-2 1 2 1-10 1 8 1 3 1 5M0 513l1-1 1 4 1 1 1-2 1 1 1-2 1 4 1 4 1 6 1 8 1 18 1 12 1 16 1-11 1-19 1 8 1-10 1-18 1-8 1-11 1-10 1-4 1-7 1-7 1 9 1-4 1 4 1 2 1 3 1 1 1-2 1-1 1 3 1 6 1 3 1-2 1 3 1-5 1 5 1-2 1 3 1 2 1-3 1 1 1-5 1 2M0 537l1-3 1-5 1-9 1 2 1-10 1-3 1 3 1-5 1 18 1 11 1 15 1 8 1-9 1-14 1 6 1 6 1-8 1-8 1-13 1-6 1-11 1-5 1 2 1 4 1 1 1-7 1 5 1 4 1-6 1 0 1 2 1 5 1-2 1 2 1-2 1 9 1-1 1-3 1-2 1 3 1 1 1-7 1 0 1-8 1-1 1-5M0 444l1-3 1 5 1 5 1-1 1-4 1 5 1-7 1-4 1 37 1 59 1-32 1-30 1-31 1-8 1 12 1 11 1 2 1 1 1 6 1-1 1-9 1-16 1-17 1-14 1 22 1 12 1 12 1-4 1 1 1 3 1 4 1-3 1-1 1 2 1-2 1-3 1 2 1-1 1 3 1-1 1-8 1-5 1-4 1-11 1-8 1 2M0 449l1 0 1-2 1 2 1 1 1 5 1-4 1-1 1-1 1 36 1 51 1-35 1-34 1-29 1-5 1 7 1 31 1-11 1 10 1 6 1-9 1-13 1-14 1-14 1-9 1 10 1 21 1 9 1 5 1 1 1 2 1 0 1 2 1-2 1-6 1 0 1 0 1 4 1-11 1-3 1 0 1-11 1-5 1 7 1 1 1-13 1 3M0 519l1 0 1 0 1-6 1-2 1 4 1 1 1 9 1-4 1-1 1 16 1 13 1 14 1 3 1-11 1 9 1-9 1-8 1-12 1-16 1-2 1-15 1-7 1-2 1-3 1 12 1-5 1 1 1 6 1-2 1 1 1-2 1 0 1 5 1 2 1 0 1-3 1 3 1-7 1 0 1 0 1-2 1 2 1-2 1-3 1 14 1 6M0 515l1 4 1 2 1 4 1 7 1-4 1-2 1-2 1-17 1 9 1 20 1 13 1 8 1 13 1 6 1-12 1 5 1-7 1-15 1-20 1-4 1-7 1-7 1-5 1-5 1 10 1-5 1 3 1 0 1-4 1 1 1 4 1-1 1 11 1-3 1-4 1 4 1 1 1-2 1-2 1 1 1 2 1 2 1-4 1 1 1 6 1 4M0 428l1 1 1 1 1 1 1 1 1 1 1 1 1 1 1 1 1 30 1 70 1-56 1-44 1-14 1 0 1 4 1 10 1 9 1 6 1 7 1-5 1-12 1-12 1-13 1-8 1 12 1 11 1 11 1 2 1 1 1 0 1-1 1-1 1-1 1-1 1-2 1-2 1-2 1-1 1-3 1-3 1-3 1-3 1-3 1-3 1-3 1-3M0 458l1-10 1 1 1-1 1 6 1 6 1-3 1 9 1-3 1 20 1 53 1-31 1-26 1-22 1-9 1-1 1 28 1 2 1 10 1-1 1-14 1-7 1-12 1-13 1-3 1 13 1 13 1 6 1-2 1 2 1-2 1 4 1 3 1-1 1 0 1-1 1-3 1 1 1-4 1 0 1-8 1-3 1-1 1-8 1-5 1-6 1 2M0 469l1 6 1 0 1-9 1 1 1 6 1-2 1 5 1 2 1 21 1 37 1-19 1-19 1-14 1-1 1 3 1 6 1-1 1 0 1-6 1-7 1-12 1-10 1-11 1-11 1 13 1 14 1 9 1-3 1 2 1-2 1 7 1-1 1 0 1-1 1-1 1-1 1 5 1-2 1 2 1 0 1-9 1 4 1-1 1-1 1-10 1 1M0 491l1 12 1 1 1-3 1 0 1 3 1 4 1 1 1 3 1 13 1 11 1 5 1-4 1-3 1 8 1-1 1-9 1-10 1-1 1-11 1-7 1-6 1-14 1-4 1-2 1 11 1-5 1 3 1-1 1 2 1 2 1 2 1 7 1 4 1-4 1-3 1 5 1-3 1 4 1 4 1-6 1-4 1-2 1-6 1-6 1-1 1 6M0 472l1-2 1-5 1 10 1-11 1 1 1 6 1-4 1 6 1 27 1 36 1-15 1-20 1-7 1-4 1 3 1 16 1-3 1 1 1-4 1-13 1-8 1-8 1-18 1-1 1 12 1 5 1 3 1 1 1 2 1-1 1 1 1-5 1 6 1-4 1-8 1-2 1-1 1 4 1-3 1 1 1-6 1 10 1 0 1 6 1-10 1 1M0 464l1 3 1-9 1-4 1-3 1-3 1 1 1 1 1-2 1 34 1 54 1-33 1-28 1-15 1-4 1 0 1 22 1 7 1 3 1-1 1-1 1-5 1-14 1-14 1-5 1 7 1 9 1 6 1-2 1 1 1-4 1 0 1-5 1 10 1 4 1 2 1-2 1 1 1 1 1 0 1-2 1-10 1-2 1-8 1-10 1-9 1 1M0 502l1 10 1 7 1-4 1-3 1 0 1 5 1-2 1-5 1 13 1 13 1 9 1 17 1 4 1 1 1-3 1-1 1-14 1-16 1-12 1-8 1-1 1 1 1-5 1-8 1 1 1-5 1 6 1 0 1-1 1-1 1 4 1 2 1 1 1 0 1 5 1-2 1 5 1 3 1-3 1 1 1-3 1-6 1-2 1-5 1 5 1 2M0 504l1-15 1 4 1-7 1 4 1-1 1 4 1 9 1-7 1 17 1 24 1-4 1 4 1-2 1-7 1-5 1 26 1-15 1-17 1-9 1-7 1-7 1-6 1-12 1 0 1 8 1-3 1 4 1 1 1 4 1 3 1 1 1 1 1 3 1 6 1-4 1 1 1 1 1-5 1 0 1 0 1-4 1 2 1 4 1 3 1-3 1 1M0 535l1 2 1 2 1-1 1 0 1 1 1 0 1 1 1-1 1 1 1-4 1 33 1 29 1 6 1-3 1-5 1-6 1-11 1-13 1-23 1-8 1-4 1 1 1-9 1-5 1 11 1-8 1-4 1 1 1-2 1 5 1 4 1-1 1 1 1 0 1-2 1-1 1 2 1 1 1-3 1 1 1 5 1-2 1-1 1 8 1 4 1 1M0 452l1-6 1 1 1-1 1 4 1-9 1-4 1 1 1 7 1 33 1 58 1-38 1-27 1-22 1-7 1 9 1 23 1 1 1 4 1 2 1-8 1-15 1-10 1-15 1-14 1 23 1 13 1 10 1-4 1 3 1-2 1-2 1-2 1 5 1 2 1-5 1-5 1-1 1-2 1 6 1-11 1-11 1-2 1-2 1-1 1 0 1 8M0 471l1-6 1 4 1 6 1-1 1 7 1 0 1 7 1 0 1 13 1 35 1-19 1-26 1-7 1 6 1 17 1 3 1-7 1-8 1 2 1-6 1-11 1-6 1-8 1-19 1 18 1 6 1 5 1 0 1 5 1 5 1 4 1-5 1-2 1 2 1-6 1-4 1-6 1 8 1 3 1-1 1-3 1-5 1-5 1 1 1-6 1 6M0 465l1 8 1-1 1 3 1-2 1-9 1 5 1-4 1 9 1 18 1 44 1-23 1-15 1-11 1-13 1 12 1 0 1 0 1-2 1 3 1-3 1-11 1-6 1-7 1-19 1 10 1 10 1 8 1 3 1-4 1 4 1 4 1 1 1-4 1 0 1-2 1 3 1-1 1 2 1-3 1 4 1-14 1-6 1 2 1-9 1 3 1-8M0 480l1 0 1 3 1 0 1 0 1 11 1 0 1-5 1 5 1 18 1 24 1 8 1-6 1 1 1 0 1-8 1-1 1-26 1-4 1 5 1-13 1-9 1-6 1-5 1 2 1 0 1 3 1 8 1-4 1 1 1 7 1 4 1 1 1-8 1-1 1 2 1-2 1 0 1 11 1-4 1-7 1-1 1-4 1-3 1-2 1 4 1 0M0 452l1 3 1-2 1 6 1 3 1-5 1 2 1 9 1 5 1 20 1 43 1-24 1-34 1-14 1-4 1 6 1 11 1 2 1-2 1 5 1-4 1-12 1-8 1-22 1-16 1 25 1 17 1 7 1-1 1-4 1 2 1 2 1-4 1 2 1 0 1 0 1-6 1 1 1-7 1 5 1-3 1-9 1 4 1 1 1-9 1 8 1-13M0 500l1-12 1 6 1-1 1 0 1-4 1 3 1-3 1-2 1 18 1 31 1-2 1-10 1-10 1-4 1 3 1 12 1-2 1-9 1-7 1-7 1-4 1-5 1-11 1-17 1 23 1 2 1 3 1 0 1-2 1-2 1 1 1 1 1 0 1-5 1 0 1 4 1-2 1 1 1-8 1 0 1 0 1-5 1-8 1 5 1-3 1 6M0 478l1-3 1-7 1 2 1 0 1 5 1-1 1-1 1 6 1 24 1 33 1-6 1-7 1-6 1-3 1-3 1 1 1-6 1 6 1-9 1-10 1-11 1-10 1-9 1-16 1 5 1 12 1 4 1 3 1 3 1 4 1 6 1 0 1-2 1-5 1-3 1 0 1-8 1 2 1 0 1 2 1-4 1-1 1-6 1-3 1-11 1 1M0 525l1 1 1-5 1 7 1-4 1 4 1 0 1-5 1 6 1 4 1 3 1 27 1 21 1 2 1 0 1-11 1-5 1-18 1-17 1-12 1-8 1-3 1 2 1-12 1 1 1-4 1-5 1 3 1-4 1-1 1 5 1 5 1 3 1 1 1 9 1 0 1-3 1 7 1 2 1-3 1 5 1 0 1 1 1 0 1-6 1 8 1 3M0 453l1 6 1-1 1 1 1 3 1 1 1-6 1 5 1 5 1 27 1 42 1-17 1-14 1-6 1-14 1 9 1 13 1-5 1 1 1-4 1-14 1-7 1-11 1-12 1-12 1 18 1 6 1 3 1 1 1 2 1-3 1-1 1-1 1-1 1 0 1 3 1 4 1 1 1 0 1 1 1-1 1-8 1-3 1-4 1-6 1-8 1-7M0 468l1 5 1 2 1 1 1 2 1 4 1-2 1 0 1-6 1 17 1 45 1-18 1-25 1-5 1 11 1-4 1 19 1 3 1-4 1-1 1-9 1-13 1-8 1-13 1-16 1 7 1 16 1 3 1 0 1-1 1 1 1 1 1-1 1-2 1-4 1-2 1 3 1 8 1 2 1 5 1-2 1-5 1-10 1-3 1-13 1-1 1 10M0 501l1-4 1-7 1-1 1 0 1 7 1 9 1-5 1-2 1 14 1 24 1-4 1-1 1-2 1-1 1-11 1 5 1-14 1 3 1-8 1-7 1-8 1-8 1-12 1-14 1 25 1 3 1 5 1 7 1-2 1 2 1 0 1 5 1 1 1-1 1-3 1 0 1 3 1-10 1 0 1-3 1-2 1-9 1 5 1-5 1 1 1-2M0 439l1-5 1 0 1 2 1 2 1 2 1 2 1 12 1 1 1 24 1 57 1-41 1-36 1-25 1-8 1 17 1 17 1 2 1 3 1 6 1-1 1-11 1-8 1-29 1-11 1 24 1 20 1 7 1-5 1 3 1-2 1-5 1 0 1 4 1 3 1 0 1-6 1 7 1-8 1-2 1-11 1 3 1-3 1 0 1-5 1-7 1-5M0 444l1 3 1-4 1 0 1 1 1 7 1 0 1-1 1-3 1 26 1 63 1-44 1-39 1-21 1-1 1 7 1 18 1 7 1 4 1 5 1-5 1-19 1-7 1-20 1-10 1 18 1 18 1 10 1-2 1 4 1 0 1-1 1 0 1 2 1 0 1-2 1-9 1-3 1-1 1 6 1-4 1-6 1 0 1-7 1-6 1-6 1-11M0 513l1-2 1-5 1 2 1 8 1-4 1-4 1 4 1-7 1 8 1 23 1 4 1 5 1-2 1 3 1-2 1-2 1-10 1-3 1-7 1-5 1-3 1-20 1-9 1-2 1 11 1-7 1 9 1 2 1-1 1 2 1 1 1 0 1 4 1-1 1-4 1-1 1 1 1-3 1 7 1-4 1 9 1 3 1-6 1 0 1 8 1-1M0 456l1 10 1-9 1 3 1 0 1 0 1-1 1 0 1 6 1 26 1 45 1-22 1-30 1-12 1-6 1 11 1 10 1 3 1-3 1 3 1-7 1-4 1-16 1-8 1-11 1 12 1 4 1 9 1-4 1-3 1 4 1-4 1 6 1-1 1 0 1-1 1 0 1-3 1-3 1-1 1 1 1 1 1 1 1-4 1-7 1-14 1 1M0 505l1 5 1 6 1-1 1 3 1 0 1-9 1-1 1-1 1 15 1 14 1 8 1 3 1 1 1-1 1 6 1 2 1-12 1-9 1-12 1-8 1 0 1-17 1-6 1-1 1 13 1-9 1 3 1 3 1-2 1-4 1 2 1-1 1 5 1-2 1 7 1 0 1-3 1-2 1-3 1 2 1 7 1-2 1 4 1-7 1 3 1 16M0 459l1 4 1-11 1-6 1-2 1 8 1-1 1 1 1 5 1 28 1 51 1-31 1-20 1-26 1 8 1-4 1 7 1 6 1 3 1-4 1-4 1-16 1-14 1-8 1-17 1 22 1 12 1 16 1 0 1-3 1-3 1-1 1 1 1 2 1 2 1-1 1-1 1-1 1-2 1-1 1-1 1-1 1-8 1-12 1-7 1-1 1-16M0 477l1-3 1-4 1 9 1 6 1-3 1 6 1 4 1-8 1 27 1 25 1-10 1-17 1-11 1-16 1 4 1 18 1-3 1-4 1 4 1-11 1-6 1-11 1-9 1-9 1 12 1 4 1 4 1-1 1 3 1 0 1-2 1-1 1 0 1 1 1 0 1 0 1-2 1 0 1-6 1-12 1 1 1-7 1-3 1-5 1 6 1-7M0 489l1-5 1-5 1 6 1 4 1 5 1 9 1 0 1 0 1 12 1 21 1 1 1-6 1 12 1-23 1 1 1 7 1-7 1-10 1-6 1-8 1-10 1-7 1-9 1-7 1 16 1-2 1 7 1-1 1 3 1 1 1 2 1-2 1 0 1-2 1 1 1 3 1 4 1-3 1-1 1-8 1-10 1-2 1-1 1-6 1-7 1 8M0 451l1 14 1 1 1-2 1 4 1-4 1 9 1-8 1-4 1 27 1 48 1-22 1-30 1-20 1 0 1 9 1 18 1-1 1 9 1-6 1-8 1-8 1-12 1-14 1-13 1 12 1 6 1 8 1-2 1 4 1-3 1 8 1 6 1 3 1-4 1-4 1 3 1-2 1-1 1-5 1 1 1-8 1-2 1-12 1-5 1 1 1-5M0 477l1-2 1 5 1-13 1 4 1 3 1-6 1-4 1 8 1 20 1 44 1-19 1-18 1-9 1-12 1 6 1 17 1-2 1-13 1 5 1-6 1-13 1-3 1-19 1 2 1 8 1 12 1 5 1-4 1 1 1 2 1 2 1 4 1-3 1 0 1 1 1-3 1-5 1-4 1 3 1 1 1-7 1-8 1 5 1-11 1 0 1-6M0 439l1-1 1 7 1 9 1-4 1 3 1 2 1-5 1-4 1 35 1 55 1-39 1-37 1-25 1-8 1 9 1 24 1 0 1-1 1 8 1-9 1-13 1-8 1-5 1-14 1 11 1 17 1 4 1 1 1 5 1 2 1-4 1-4 1 3 1-2 1-3 1 0 1-3 1-6 1 2 1-6 1-6 1-5 1-2 1-4 1-3 1-4M0 507l1-2 1-8 1-2 1 7 1 16 1-7 1-4 1 3 1 13 1 13 1 12 1-1 1-1 1 7 1 9 1-7 1-14 1-8 1-8 1-8 1-9 1-4 1-2 1-7 1-1 1 0 1 4 1 2 1 0 1-1 1 1 1-2 1 0 1-1 1 0 1 5 1-4 1 1 1-1 1 7 1 0 1-2 1 3 1-1 1-2 1 11M0 513l1 2 1 0 1-3 1-8 1 3 1 0 1 2 1-1 1 9 1 19 1 6 1 13 1-5 1-3 1 6 1-11 1-12 1-13 1-2 1-7 1-9 1-13 1-7 1 2 1 7 1-2 1 6 1-3 1 1 1 4 1-1 1-1 1 3 1 0 1 0 1 1 1 1 1-4 1-2 1 2 1 4 1 5 1-7 1 4 1 4 1-2M0 501l1 7 1-8 1 2 1-2 1-2 1 6 1 2 1-6 1 13 1 23 1-2 1 5 1-5 1-3 1 0 1 12 1-12 1-11 1-3 1-11 1-9 1-13 1-2 1-4 1 11 1-1 1 2 1-2 1-2 1 3 1 2 1 7 1-2 1-3 1-3 1 5 1-5 1 3 1 5 1-3 1 1 1-12 1-2 1-9 1 4 1 2M0 470l1 0 1-3 1-3 1-6 1 2 1 12 1-4 1 3 1 21 1 44 1-18 1-20 1-30 1-7 1 15 1 9 1 4 1-3 1-5 1-3 1-9 1-12 1-13 1-8 1 13 1 12 1 7 1-5 1 2 1 0 1 0 1 3 1 0 1 2 1 3 1-1 1-8 1-3 1 4 1-4 1-6 1-2 1 0 1-1 1 0 1-8M0 475l1 0 1-9 1 2 1-3 1 10 1 8 1 7 1 2 1 13 1 31 1-7 1-5 1-19 1-11 1 5 1 17 1-8 1 5 1 0 1-15 1-10 1-14 1-11 1-11 1 13 1 9 1 7 1 1 1-1 1 1 1 0 1 2 1 0 1 1 1-6 1 2 1 5 1-2 1-8 1 4 1-5 1-17 1 0 1 3 1 1 1 6M0 500l1-9 1-3 1 4 1 5 1-3 1-1 1 5 1-7 1 13 1 32 1-2 1-2 1-20 1 3 1-6 1 14 1-4 1-3 1-4 1-9 1-3 1-1 1-7 1 2 1 1 1-1 1 2 1-4 1 0 1 0 1 0 1 2 1 5 1-2 1 0 1-5 1 1 1 5 1 2 1 0 1-4 1-6 1-1 1-7 1-5 1 9M0 473l1-9 1 1 1-6 1 2 1-4 1 3 1 1 1 0 1 29 1 46 1-22 1-16 1-16 1-7 1 16 1-10 1-2 1-6 1 6 1-6 1 4 1-10 1-5 1-6 1 6 1 6 1 9 1-1 1-1 1 1 1-5 1-3 1 2 1 1 1-5 1-2 1-1 1-1 1 2 1-3 1-2 1-10 1-7 1 0 1-11 1 1M0 449l1 5 1-2 1-3 1-1 1 4 1 14 1-10 1 2 1 27 1 51 1-28 1-41 1-7 1-13 1 6 1 7 1 2 1 5 1 11 1-3 1-13 1-8 1-15 1-11 1 17 1 13 1 6 1 1 1 1 1 1 1-2 1 6 1-2 1 0 1-1 1 2 1-11 1 7 1-4 1-9 1-2 1 7 1-3 1-12 1-7 1 5M0 430l1 0 1 4 1 0 1 2 1-1 1 0 1 2 1 2 1 29 1 68 1-50 1-45 1-17 1-1 1 4 1 11 1 8 1 6 1 7 1-6 1-12 1-12 1-13 1-8 1 13 1 17 1 13 1-2 1 3 1-1 1-1 1-2 1 0 1 1 1-2 1-4 1-4 1-2 1-1 1 0 1-8 1-4 1-4 1-4 1-3 1-3M0 429l1 2 1 1 1 1 1 0 1 1 1 1 1 1 1 1 1 30 1 69 1-55 1-39 1-17 1-3 1 4 1 13 1 9 1 7 1 5 1-7 1-10 1-13 1-13 1-9 1 15 1 12 1 14 1-1 1 3 1 1 1-4 1 0 1-1 1-2 1-2 1-4 1-2 1-1 1 0 1-5 1-5 1-1 1-2 1-4 1-6 1-3M0 486l1 9 1 0 1 2 1-6 1-3 1-1 1 4 1 0 1 17 1 28 1 0 1 8 1-7 1-14 1-2 1 13 1-13 1-6 1-8 1-5 1-7 1-11 1-8 1 0 1 13 1 1 1 4 1-3 1-1 1 3 1-3 1 1 1-4 1-1 1-1 1-3 1 3 1-2 1 0 1-1 1-3 1 7 1-4 1 0 1-7 1-1M0 467l1-2 1 2 1 8 1-2 1-1 1-1 1 12 1 5 1 17 1 31 1-12 1-15 1-13 1-6 1-8 1 5 1 4 1 1 1-7 1-5 1-4 1-13 1-9 1-18 1 21 1 4 1 5 1 2 1 8 1-1 1-3 1 2 1 2 1 4 1-6 1-6 1-1 1 1 1 1 1 2 1-10 1-5 1-2 1 2 1 0 1-5M0 445l1 4 1 10 1-5 1 4 1-8 1-4 1-2 1-1 1 30 1 63 1-44 1-39 1-18 1-5 1 5 1 26 1 4 1 3 1 5 1-6 1-11 1-16 1-10 1-7 1 19 1 8 1 4 1 0 1 2 1 3 1-1 1-2 1 5 1-5 1 2 1 0 1-8 1-1 1-4 1-7 1-9 1-5 1-2 1-3 1-4 1-5M0 467l1-6 1-5 1 6 1 3 1-2 1 2 1 6 1 9 1 17 1 39 1-8 1-12 1-3 1-32 1 13 1 6 1-14 1 5 1 3 1-3 1-7 1-11 1-15 1-13 1 14 1 8 1 5 1 1 1 3 1 1 1 7 1 5 1-6 1-4 1-6 1-5 1 2 1-4 1-4 1-2 1 2 1-3 1-4 1 3 1 0 1-1M0 516l1 2 1-1 1 6 1 3 1-5 1 7 1-6 1 6 1 6 1 2 1 18 1 16 1 5 1-8 1 2 1-12 1-10 1-9 1-18 1-4 1-8 1-13 1-4 1 0 1 15 1-6 1 6 1 3 1 2 1 4 1 1 1-1 1 3 1 2 1 0 1-2 1-6 1 3 1 2 1-6 1 2 1 4 1-1 1 5 1 6 1-8M0 473l1 4 1 5 1-12 1 0 1 4 1 6 1 6 1-6 1 18 1 38 1-16 1-23 1-4 1 2 1 1 1-8 1-3 1 5 1-4 1-6 1-9 1-5 1-10 1-8 1 11 1 7 1 7 1 2 1 0 1 4 1-5 1 4 1 0 1 2 1-1 1 1 1 3 1-6 1-2 1-4 1-2 1-11 1-2 1-3 1-6 1-2M0 431l1 1 1 3 1-2 1 0 1 1 1 0 1 1 1 1 1 30 1 70 1-57 1-36 1-18 1-3 1 4 1 11 1 8 1 6 1 7 1-4 1-12 1-13 1-13 1-8 1 13 1 12 1 10 1 2 1 1 1-1 1 1 1 0 1-2 1-2 1-3 1-2 1-1 1 0 1-1 1-5 1-4 1-3 1-4 1-3 1-3 1-3M0 442l1-7 1-1 1 1 1 1 1 0 1 4 1 1 1 1 1 32 1 62 1-47 1-31 1-22 1-6 1 11 1 11 1 9 1 4 1 3 1-3 1-17 1-10 1-17 1-11 1 23 1 15 1 8 1 0 1 0 1-3 1-2 1 1 1 2 1-6 1-1 1 1 1-1 1-4 1 2 1-8 1-1 1 2 1-13 1-3 1-4 1-4M0 445l1-5 1 2 1 4 1-2 1-2 1 1 1 3 1 2 1 31 1 57 1-40 1-49 1-15 1 9 1-6 1 16 1 9 1 10 1 8 1-3 1-13 1-11 1-12 1-17 1 22 1 12 1 10 1-2 1 3 1-4 1 0 1-8 1-1 1 2 1-2 1 0 1-7 1 6 1 0 1-4 1-2 1-3 1 2 1-5 1-15 1-6M0 536l1-3 1 2 1-1 1 1 1-6 1-2 1 4 1 0 1 6 1-1 1 32 1 26 1 5 1-7 1-6 1-16 1-23 1 0 1-15 1-4 1-3 1-3 1-2 1-2 1 3 1-6 1-5 1 1 1 6 1 1 1 5 1-1 1 3 1-1 1 1 1-3 1-3 1 2 1-5 1-1 1 5 1-1 1-2 1-3 1 7 1 4M0 484l1 9 1-4 1-10 1 3 1 1 1 2 1-5 1 7 1 19 1 30 1-12 1-5 1-8 1 7 1-6 1-3 1-2 1-7 1 0 1-10 1-7 1-9 1-8 1-9 1 9 1 7 1 5 1 2 1 0 1-4 1 3 1 6 1 2 1 1 1 1 1-3 1-6 1 4 1 3 1 0 1-1 1-2 1-3 1-1 1-2 1 0M0 436l1 3 1 0 1-6 1 3 1-2 1 6 1 4 1 4 1 28 1 60 1-44 1-37 1-26 1-2 1 9 1 20 1-1 1 0 1 10 1-6 1-11 1-6 1-7 1-15 1 20 1 16 1 6 1 0 1 2 1-2 1-3 1-3 1 0 1-3 1 1 1-3 1 3 1 1 1-8 1 0 1-7 1 1 1-4 1-6 1-3 1-11M0 496l1-1 1 1 1-5 1 3 1-4 1 4 1 3 1 3 1 12 1 24 1 8 1 3 1-11 1 5 1-10 1 7 1-16 1-5 1-9 1-4 1-9 1-10 1-6 1-11 1 7 1 7 1-1 1 4 1 0 1 0 1 3 1 3 1 0 1 0 1 2 1 2 1-1 1-4 1-4 1-2 1 2 1 2 1 0 1 5 1-3 1-4M0 479l1-12 1 1 1 2 1 0 1 10 1 3 1 1 1-7 1 22 1 37 1-17 1-16 1-18 1-1 1 12 1 10 1-6 1-12 1 4 1-4 1-11 1-12 1-9 1-15 1 18 1 3 1 6 1 2 1-3 1 2 1 3 1-3 1 5 1-3 1 1 1 0 1-3 1-2 1-7 1-4 1-4 1 7 1 2 1-10 1 2 1-2M0 471l1 3 1-3 1-2 1 1 1-3 1 2 1 1 1-1 1 22 1 45 1-17 1-14 1-20 1 1 1 1 1 12 1 2 1-8 1-1 1-9 1-12 1-2 1-7 1-20 1 17 1 5 1 11 1 0 1 0 1 1 1 1 1 0 1 0 1-2 1 1 1-5 1-1 1-1 1-2 1 1 1-8 1-4 1-5 1 2 1-5 1-1M0 489l1 5 1-2 1 1 1 2 1 5 1 4 1 7 1-1 1 9 1 17 1 8 1 15 1-1 1-12 1-4 1 0 1-10 1-12 1-15 1-7 1-2 1-5 1-16 1-3 1 3 1 12 1 4 1-3 1 3 1 0 1 3 1 2 1-2 1 2 1-4 1 5 1 0 1-4 1-6 1 7 1 5 1-7 1 6 1-1 1-2 1 0M0 483l1-2 1-9 1 9 1 3 1-6 1-2 1-3 1 2 1 24 1 37 1-16 1-18 1-5 1-6 1 17 1-3 1 0 1-5 1-5 1-3 1-9 1-14 1-11 1-4 1 6 1 12 1 7 1-1 1 4 1 4 1 0 1 0 1 4 1 2 1-7 1-3 1-3 1-3 1-7 1 2 1-2 1-2 1 4 1-6 1-3 1-1"/>
<path d="M136.0 217.2L153.9 217.2L171.7 218.2L189.6 219.2L207.4 220.2L225.3 220.2L243.1 220.2L261.0 220.2L278.8 222.1L296.7 233.8L314.6 268.0L332.4 285.9L350.3 316.4L368.1 334.5L386.0 305.2L403.8 273.4L421.7 239.5L439.5 215.2L457.4 201.8L475.3 188.2L493.1 176.2L511.0 167.2L528.8 162.2L546.7 160.1L564.5 159.2L582.4 160.2L600.3 161.3L618.1 162.3L636.0 164.4L653.8 166.4L671.7 169.5L689.5 173.4L707.4 177.4L725.2 180.4L743.1 184.4L761.0 188.4L778.8 192.4L796.7 196.4L814.5 199.9L832.4 203.3L850.2 205.8L868.1 208.3L885.9 209.6L903.8 210.9L921.7 212.2L939.5 214.2L957.4 216.2L957.4 262.8L939.5 261.3L921.7 259.8L903.8 259.1L885.9 258.4L868.1 257.7L850.2 256.2L832.4 254.7L814.5 251.6L796.7 248.6L778.8 245.3L761.0 241.9L743.1 238.6L725.2 233.6L707.4 229.6L689.5 227.6L671.7 225.5L653.8 221.6L636.0 217.6L618.1 213.7L600.3 209.7L582.4 205.8L564.5 202.8L546.7 202.9L528.8 205.8L511.0 211.8L493.1 221.8L475.3 235.8L457.4 269.2L439.5 300.8L421.7 333.5L403.8 365.6L386.0 387.8L368.1 390.5L350.3 368.6L332.4 318.1L314.6 268.0L296.7 265.2L278.8 264.9L261.0 263.9L243.1 263.9L225.3 263.9L207.4 263.9L189.6 263.8L171.7 263.8L153.9 263.8L136.0 263.8Z" fill="#0072BD"/>
<path transform="translate(136.00 0) scale(17.8560 0.5)" vector-effect="non-scaling-stroke" stroke="#0072BD" stroke-width="1.2" d="M0 467l1 8 1-2 1 12 1-14 1 3 1-14 1 5 1 1 1 30 1 40 1 66 1 94 1 43 1-36 1-87 1-96 1-39 1-38 1-41 1-23 1-31 1 14 1-19 1-3 1 14 1-13 1 23 1 15 1-4 1-7 1 8 1-8 1 36 1 7 1-3 1 2 1 21 1 23 1-16 1 1 1-9 1 22 1 5 1 25 1-10 1-6M0 469l1-21 1 15 1 3 1-5 1-7 1 16 1 14 1-12 1 18 1 46 1 56 1 68 1 24 1-41 1-54 1-71 1-59 1-48 1-31 1-22 1-2 1-14 1-9 1 11 1 8 1-8 1 0 1 17 1 8 1-7 1 14 1 7 1 19 1-8 1 20 1 8 1-8 1 22 1 13 1-18 1 30 1-19 1-5 1 5 1 16 1 8M0 494l1-5 1 9 1 18 1-17 1-34 1 5 1-4 1 12 1 18 1 40 1 54 1 80 1 43 1-77 1-9 1-62 1-55 1-39 1-59 1-21 1-7 1-5 1-8 1-10 1-5 1 23 1 5 1-5 1-20 1 10 1-4 1 39 1 9 1-1 1 8 1 42 1 6 1-23 1 7 1-8 1-6 1 18 1 33 1 6 1-10 1-7M0 499l1-21 1-13 1 32 1-1 1 12 1-8 1 9 1-14 1 12 1 29 1 86 1 74 1 50 1-45 1-81 1-38 1-29 1-51 1-78 1-14 1-16 1-21 1-28 1 22 1 14 1 6 1-20 1-3 1 32 1 17 1 6 1-3 1 11 1-1 1 6 1 0 1 17 1 3 1 21 1 7 1-11 1 24 1-21 1 9 1 14 1 9M0 425l1 5 1 7 1-11 1 0 1 4 1 0 1 1 1 3 1 28 1 74 1 19 1 47 1 54 1-60 1-65 1-67 1-47 1-26 1-26 1-24 1-18 1-10 1-4 1-2 1 11 1-6 1 1 1 4 1 9 1 2 1 8 1 13 1 8 1 0 1 9 1 10 1 7 1 10 1 2 1 5 1 5 1 3 1 2 1 3 1 4 1 4M0 468l1 2 1-1 1 0 1-17 1 22 1-6 1 0 1-2 1 29 1 41 1 62 1 89 1 52 1-25 1-64 1-110 1-24 1-36 1-51 1-26 1-27 1-20 1 6 1 6 1-16 1 16 1 3 1 12 1 2 1 15 1 9 1 5 1-20 1 23 1 4 1-8 1 23 1-11 1 25 1 21 1-13 1 10 1 1 1 3 1-17 1 15M0 495l1-5 1 10 1-4 1 3 1 8 1-8 1 4 1-3 1 9 1 27 1 77 1 96 1 30 1-17 1-54 1-99 1-42 1-28 1-68 1-45 1-8 1-14 1 18 1-9 1 1 1-3 1 11 1 0 1-2 1 14 1 0 1 29 1-12 1 13 1 2 1-3 1 38 1-23 1 34 1-16 1 11 1 29 1-33 1-6 1 29 1 2M0 465l1-9 1 8 1 18 1-10 1 0 1 11 1 12 1-16 1 14 1 43 1 52 1 71 1 36 1-68 1-78 1-49 1-27 1-11 1-55 1-26 1-11 1-7 1-11 1-3 1 22 1-10 1-4 1-13 1 22 1 6 1 32 1-9 1 14 1 13 1 18 1-23 1 28 1-3 1 2 1-1 1 2 1 1 1-19 1 23 1 8 1-5M0 507l1-10 1-12 1 16 1-17 1-2 1-4 1 1 1 13 1 12 1 32 1 66 1 82 1 35 1-31 1-66 1-72 1-43 1-55 1-30 1-27 1-26 1-12 1-3 1 2 1 8 1 4 1-3 1 28 1 11 1 0 1 12 1 1 1-2 1 9 1 38 1 1 1 5 1-11 1 10 1 24 1-8 1 4 1 5 1-4 1 11 1-7M0 490l1 31 1-9 1-6 1 10 1-14 1-1 1-8 1 6 1 8 1 29 1 80 1 81 1 41 1-22 1-58 1-39 1-55 1-60 1-73 1-16 1-32 1-3 1-3 1-6 1 0 1 5 1 35 1-5 1 1 1 20 1 3 1 12 1-16 1 0 1 55 1-11 1-4 1 7 1 16 1-17 1 11 1 2 1 9 1 0 1-5 1-4M0 422l1-2 1 2 1 6 1-1 1 3 1 0 1-1 1 5 1 26 1 76 1 22 1 44 1 54 1-60 1-66 1-66 1-47 1-14 1-38 1-23 1-19 1-10 1-4 1-2 1 2 1 2 1 2 1 4 1 4 1 6 1 8 1 10 1 8 1 4 1 8 1 8 1 8 1 7 1 8 1 4 1 5 1 5 1 0 1 3 1 5 1 4M0 529l1 5 1-10 1-8 1 5 1-23 1 19 1 14 1 0 1-3 1 8 1 102 1 108 1 53 1-6 1-45 1-63 1-73 1-68 1-71 1-20 1-42 1-9 1 4 1-9 1 8 1 3 1 17 1 17 1 19 1 3 1-13 1 8 1 13 1 20 1-27 1 20 1-12 1 26 1 12 1 6 1 8 1-1 1-11 1 6 1 14 1-5M0 469l1 20 1-7 1-5 1 1 1-4 1 4 1 17 1 5 1 14 1 22 1 71 1 87 1 55 1 3 1-109 1-95 1-31 1-49 1-54 1-15 1-26 1-28 1 9 1 6 1 12 1 13 1 1 1-1 1-2 1-9 1 14 1 26 1 12 1 28 1-10 1-19 1 25 1 16 1-13 1-9 1 17 1 13 1-12 1 4 1 0 1-2M0 444l1-4 1-4 1-10 1 26 1-11 1 2 1-8 1 15 1 13 1 73 1 38 1 76 1 19 1-62 1-58 1-18 1-98 1-18 1-37 1-18 1-12 1-12 1-4 1-2 1-5 1 2 1-12 1 9 1 3 1 11 1 22 1 10 1 8 1 17 1-27 1 22 1 10 1 7 1-7 1 19 1 18 1 7 1-8 1 6 1 8 1 15M0 520l1 0 1 1 1 1 1-6 1 9 1-10 1-6 1 11 1 0 1 16 1 78 1 110 1 44 1-13 1-35 1-65 1-81 1-24 1-85 1-20 1-9 1-29 1-7 1-10 1 19 1 0 1-4 1 29 1 13 1-11 1 20 1 0 1 32 1 8 1-14 1-1 1-4 1 13 1 8 1 12 1 0 1-17 1 1 1 24 1 10 1-7M0 475l1 1 1-15 1 19 1-5 1 4 1-23 1 15 1 21 1-8 1 52 1 71 1 69 1 23 1-7 1-52 1-59 1-71 1-56 1-29 1-38 1-6 1-30 1-6 1-7 1 27 1-15 1 1 1 24 1 10 1 32 1 13 1-6 1 3 1-22 1 5 1 12 1 12 1-5 1 6 1 5 1 25 1 5 1-5 1 0 1 8 1-4M0 454l1 17 1 12 1 0 1 1 1-1 1 16 1-10 1-16 1 11 1 52 1 70 1 84 1 43 1-39 1-93 1-69 1-74 1-20 1-43 1-13 1-16 1-26 1 13 1 8 1-14 1 12 1 14 1-1 1 17 1 3 1 15 1 0 1 0 1 14 1 12 1 4 1-2 1-2 1 8 1 2 1 12 1 5 1 1 1 2 1 6 1 18M0 510l1 8 1-4 1 1 1-1 1-4 1-9 1-14 1 21 1 19 1 9 1 94 1 92 1 48 1-27 1-45 1-61 1-103 1-25 1-54 1-49 1 2 1-9 1-3 1 3 1-1 1-2 1 8 1 9 1 39 1 17 1-18 1-5 1 12 1 14 1-5 1-3 1 37 1 9 1-22 1-11 1 7 1 15 1 11 1-4 1-12 1 15M0 498l1-5 1 9 1-2 1-10 1 6 1-10 1 17 1 5 1-3 1 31 1 88 1 62 1 49 1 11 1-94 1-58 1-79 1-32 1-71 1-26 1-9 1 0 1 2 1 3 1 14 1 6 1 8 1-13 1 7 1 49 1 11 1-10 1 1 1 9 1-9 1 27 1-11 1 1 1 30 1-34 1 15 1-16 1 5 1 9 1 4 1 9M0 455l1-12 1 5 1-7 1 18 1-12 1 14 1-4 1 2 1 30 1 47 1 39 1 79 1 5 1-31 1-57 1-86 1-29 1-31 1-8 1-40 1-1 1-9 1-23 1-12 1 20 1-4 1 4 1 0 1-9 1 10 1 2 1-1 1 16 1 38 1 19 1-7 1 3 1 9 1 18 1-3 1-8 1-2 1 17 1 25 1-21 1-22M0 504l1 2 1 12 1-6 1-16 1-14 1 13 1-5 1 14 1 1 1 31 1 70 1 91 1 44 1-3 1-23 1-84 1-84 1-16 1-71 1-27 1-20 1-3 1-7 1-4 1 5 1-10 1 0 1 10 1 11 1 8 1 9 1 4 1 1 1-8 1 29 1 14 1-7 1 16 1 9 1 1 1-19 1-1 1 8 1 27 1-11 1 2M0 439l1 7 1-19 1-1 1 14 1 6 1-4 1 14 1 10 1-2 1 72 1 48 1 56 1 36 1-33 1-74 1-94 1-49 1-33 1-9 1-39 1 1 1-27 1 5 1-13 1 8 1 20 1 13 1 12 1-9 1 2 1 7 1 12 1-4 1 22 1 5 1 16 1 3 1 7 1-9 1 1 1-6 1 8 1 7 1 15 1-13 1 44M0 491l1 3 1-35 1 8 1 22 1-29 1 18 1-8 1 4 1 20 1 42 1 59 1 73 1 36 1-17 1 16 1-99 1-70 1-61 1-59 1-21 1-3 1-18 1-1 1-10 1 27 1-27 1 14 1 10 1 4 1-11 1-2 1 14 1 14 1-4 1 4 1 25 1 21 1-6 1-1 1 1 1 39 1-5 1-7 1 9 1 20 1 0M0 434l1-4 1 1 1-3 1 3 1 0 1 6 1 2 1-4 1 25 1 76 1 35 1 67 1 33 1-75 1-66 1-66 1-47 1-26 1-24 1-24 1 13 1-15 1-15 1-6 1 0 1 4 1-3 1 6 1 18 1 10 1 2 1 18 1-2 1-11 1 3 1 8 1 11 1 16 1 19 1-8 1-3 1 15 1 14 1-11 1 7 1 16M0 489l1-22 1 27 1 5 1-3 1-7 1-11 1 7 1 5 1 21 1 25 1 81 1 83 1 53 1-52 1-42 1-42 1-73 1-79 1-42 1-16 1-34 1-18 1 9 1-7 1 18 1-8 1-9 1 11 1 37 1-8 1 9 1 11 1-5 1 28 1 5 1 9 1-17 1-5 1-10 1 26 1 13 1 17 1 17 1-11 1-2 1 9M0 518l1 11 1-3 1-3 1 11 1-12 1-7 1 13 1 1 1-1 1 8 1 103 1 95 1 55 1-2 1-39 1-58 1-70 1-73 1-72 1-36 1 3 1-22 1-6 1 4 1-12 1 1 1 10 1 1 1 1 1 14 1 30 1 8 1 2 1 7 1-15 1 25 1 12 1-10 1 15 1 2 1-1 1-6 1 2 1-1 1 17 1 8M0 488l1-4 1 25 1-28 1 18 1 0 1-3 1-7 1 2 1 4 1 41 1 67 1 67 1 64 1-6 1-134 1-65 1-17 1-32 1-47 1-22 1-14 1-8 1 5 1-13 1 7 1-19 1 10 1-5 1 33 1 32 1-7 1-21 1 9 1 12 1 10 1 19 1 11 1-34 1 35 1-5 1 0 1 21 1-8 1-14 1-3 1 15M0 526l1-12 1-7 1 18 1-13 1 13 1-6 1-3 1-3 1 7 1 16 1 81 1 93 1 37 1-7 1-46 1-71 1-63 1-55 1-36 1-37 1-30 1-13 1 4 1-5 1 3 1 5 1 10 1 12 1 10 1-17 1 1 1-14 1 39 1 27 1 18 1-3 1 15 1-4 1 0 1-15 1 4 1 4 1 19 1 17 1-12 1 5M0 480l1-14 1 6 1-4 1 10 1 6 1 2 1 1 1 10 1 1 1 38 1 63 1 87 1 50 1-44 1-78 1-31 1-68 1-27 1-46 1-32 1-22 1-3 1-7 1-14 1 8 1 12 1 5 1 6 1 2 1 6 1-5 1-5 1 33 1-1 1 14 1-11 1 19 1 0 1 48 1-24 1-7 1 18 1 10 1-28 1 15 1 15M0 450l1-10 1-8 1 5 1 2 1-7 1 29 1-12 1-5 1 32 1 60 1 51 1 58 1 39 1-55 1-62 1-75 1-51 1-3 1-54 1-30 1-19 1-1 1-2 1 4 1-17 1 10 1 1 1 2 1 9 1-13 1 19 1 14 1-9 1 16 1 31 1-5 1 14 1 0 1-3 1 0 1 8 1 23 1 6 1-12 1 15 1-3M0 463l1-12 1-11 1 25 1-18 1 14 1-14 1 8 1 6 1 18 1 57 1 43 1 73 1 31 1-42 1-32 1-90 1-44 1-54 1-22 1-17 1 2 1-17 1-12 1 5 1-17 1 15 1-8 1-2 1 23 1 4 1 19 1-21 1 14 1 3 1 8 1-11 1 32 1 9 1-5 1-5 1 6 1 27 1-2 1-3 1 11 1 1M0 496l1-1 1 5 1-17 1 5 1-3 1 4 1 0 1-3 1 13 1 37 1 71 1 69 1 56 1-10 1-67 1-65 1-76 1-42 1-32 1-24 1-24 1-18 1-20 1 10 1 11 1 15 1 22 1-5 1 9 1-18 1 23 1 9 1 15 1 4 1 3 1 16 1-13 1 12 1 14 1-13 1-8 1 14 1 4 1 8 1 6 1-10M0 505l1-11 1-3 1-10 1 16 1 17 1-24 1 10 1 8 1-2 1 30 1 67 1 79 1 51 1-13 1-53 1-51 1-68 1-74 1-28 1-21 1-35 1 5 1-10 1-6 1 20 1-33 1-4 1 29 1 5 1-2 1 32 1 4 1-13 1 6 1 24 1 26 1-29 1 17 1 4 1-13 1 14 1-9 1 9 1 27 1 3 1 6M0 505l1 7 1-17 1 1 1 12 1-10 1-2 1 15 1 13 1-10 1 22 1 84 1 92 1 31 1-8 1-42 1-71 1-11 1-70 1-75 1-29 1-2 1-21 1-27 1-1 1 3 1-2 1 12 1 9 1 5 1 0 1 19 1-18 1 26 1 8 1 9 1-23 1 41 1-18 1 6 1 20 1-3 1 2 1-18 1 12 1 15 1 13M0 477l1 3 1-9 1-4 1 26 1-17 1 13 1-5 1 13 1-1 1 40 1 68 1 74 1 43 1-51 1-51 1-71 1-35 1-50 1-60 1-21 1-15 1-16 1 14 1-2 1 9 1-10 1 1 1 21 1-17 1 19 1 8 1 0 1 11 1-3 1 17 1-5 1 2 1 34 1-4 1-17 1 29 1-6 1-30 1 24 1 24 1 7M0 534l1 6 1-12 1 6 1 10 1-2 1-2 1-20 1 7 1-3 1 12 1 101 1 109 1 33 1 15 1-56 1-56 1-62 1-61 1-81 1-22 1-16 1-14 1-25 1 9 1-13 1 40 1 5 1 0 1 18 1 9 1-14 1 26 1-1 1-12 1 31 1 10 1 6 1 6 1-5 1 11 1 5 1 3 1 4 1-8 1 10 1 6M0 421l1 2 1 10 1 10 1-1 1 0 1-1 1 2 1 10 1 22 1 61 1 41 1 56 1 48 1-69 1-27 1-86 1-52 1-47 1-27 1-19 1-17 1-16 1-10 1 4 1 7 1 9 1 14 1-9 1-15 1 10 1 4 1 8 1 21 1 15 1-4 1 4 1 12 1-3 1 17 1 4 1 28 1-18 1 15 1-10 1 17 1-12M0 501l1-5 1 5 1 9 1 3 1 13 1-2 1-35 1 10 1-1 1 38 1 85 1 77 1 35 1-7 1-48 1-25 1-72 1-58 1-50 1-45 1-22 1-23 1 2 1 11 1 14 1-4 1-6 1 0 1-4 1 21 1 27 1-30 1-7 1 46 1-12 1 21 1-5 1 25 1 14 1 0 1 9 1-4 1 4 1 17 1 2 1-16M0 456l1-1 1 5 1-5 1 12 1-2 1 3 1-2 1 8 1 4 1 58 1 59 1 75 1 41 1-28 1-58 1-77 1-68 1-64 1-19 1-26 1-18 1 16 1-35 1 4 1 18 1 8 1 10 1-22 1-4 1 22 1 3 1 28 1 0 1 4 1 9 1 0 1 8 1-2 1 11 1 1 1 11 1-13 1-6 1 21 1 9 1-7M0 465l1 29 1-24 1 23 1-14 1 5 1-4 1-3 1 15 1 13 1 31 1 60 1 106 1 47 1-40 1-71 1-63 1-59 1-29 1-70 1-23 1-26 1 6 1 8 1-14 1 5 1 15 1-9 1-9 1 24 1 8 1-2 1 22 1 0 1-19 1 21 1 8 1 31 1-5 1-1 1 8 1 3 1-16 1 11 1 1 1 21 1 22M0 439l1-3 1 3 1 2 1 9 1 14 1-18 1-10 1-1 1 43 1 58 1 40 1 51 1 51 1-25 1-46 1-78 1-49 1-41 1-48 1-4 1-29 1-26 1-5 1-12 1 13 1 19 1-15 1 24 1 26 1-5 1-17 1 0 1 9 1-1 1 3 1 18 1 14 1 18 1-9 1 33 1 8 1 1 1-14 1 20 1-10 1 20M0 508l1 2 1 24 1 2 1-10 1-1 1-1 1-10 1 4 1 1 1 17 1 95 1 86 1 58 1-9 1-33 1-55 1-61 1-69 1-70 1-38 1-16 1-25 1-6 1 10 1 3 1 11 1-8 1 29 1-6 1 14 1 1 1 15 1-3 1-3 1-10 1 19 1 2 1 24 1 25 1-31 1-1 1 18 1 18 1-1 1 2 1 5M0 523l1-4 1-21 1-1 1 7 1-7 1 2 1-2 1 1 1 18 1 20 1 75 1 85 1 50 1 23 1-62 1-46 1-76 1-104 1-37 1-34 1-27 1-12 1 22 1-21 1 5 1 25 1 10 1-19 1 13 1 6 1 9 1 18 1-3 1 8 1 28 1-24 1 11 1 18 1-8 1 4 1-3 1 14 1-1 1 16 1 12 1-3M0 476l1-1 1-12 1 19 1 0 1 5 1-19 1 14 1 21 1 3 1 30 1 61 1 77 1 44 1-41 1-44 1-81 1-48 1-54 1-36 1-14 1-29 1-4 1-17 1-1 1 4 1 21 1-10 1 23 1-20 1 11 1 22 1 10 1-11 1-3 1 28 1-9 1 22 1 0 1 10 1 32 1 8 1-5 1-25 1 8 1 4 1 2M0 507l1 15 1 4 1-7 1 21 1-19 1 4 1 2 1-19 1 5 1 23 1 99 1 111 1 47 1-5 1-97 1-38 1-67 1-36 1-61 1-23 1-26 1-15 1-22 1 2 1-6 1 24 1-8 1 12 1 2 1 9 1 17 1-2 1 14 1-3 1 31 1-7 1 19 1 14 1-27 1 0 1 11 1 20 1-9 1 7 1-7 1 13M0 456l1-34 1 1 1 31 1 1 1-11 1 26 1 0 1 4 1 5 1 57 1 50 1 45 1 52 1-55 1-32 1-54 1-86 1-44 1-24 1-18 1-26 1-10 1 2 1 0 1 11 1-2 1-13 1-12 1 26 1 2 1 6 1 8 1-9 1 14 1-2 1 12 1 9 1 39 1 5 1-3 1 5 1 9 1-11 1 2 1 2 1 34M0 463l1 21 1 30 1-24 1 35 1-20 1 1 1-15 1-1 1 3 1 43 1 50 1 104 1 26 1-16 1-44 1-83 1-50 1-47 1-53 1-22 1-17 1-21 1-12 1 0 1 14 1 24 1 17 1-3 1 11 1-2 1 14 1-3 1 7 1 0 1 7 1 30 1-20 1 9 1 0 1 20 1 20 1-15 1-33 1 24 1 13 1-17M0 475l1-25 1 23 1 8 1 2 1-13 1-2 1 0 1 14 1 6 1 48 1 71 1 50 1 73 1-35 1-72 1-61 1-92 1-16 1-66 1-19 1 9 1 0 1-17 1-12 1 18 1 1 1 6 1 12 1-14 1 23 1-24 1 38 1-17 1 10 1 7 1 25 1 15 1 6 1 8 1 4 1-3 1-22 1-12 1-5 1 26 1 12M0 481l1-4 1-9 1-8 1-7 1 28 1 10 1-19 1 6 1 20 1 38 1 67 1 82 1 54 1-73 1-59 1-53 1-63 1 3 1-55 1-34 1-34 1 1 1-2 1-12 1 0 1-9 1 14 1 22 1 16 1 6 1 8 1-11 1 1 1 28 1 6 1-9 1 16 1 14 1 9 1-3 1-6 1 9 1 19 1-8 1-10 1 9M0 445l1-5 1 13 1-2 1 9 1 17 1-19 1-14 1 10 1 19 1 63 1 37 1 72 1 36 1-85 1-59 1-47 1-24 1-53 1-38 1-7 1-29 1-8 1 1 1 3 1-3 1-12 1 20 1-5 1-1 1 37 1 6 1-18 1 3 1 9 1 2 1 0 1 25 1 18 1 5 1-3 1 8 1 9 1-14 1 4 1 2 1 16M0 475l1 2 1 27 1-16 1 4 1-6 1 17 1-6 1-4 1 3 1 40 1 78 1 92 1 18 1 8 1-69 1-91 1-44 1-55 1-50 1-27 1-14 1-13 1-18 1 16 1 1 1 23 1 7 1 8 1 1 1 20 1-10 1-9 1 16 1-25 1 22 1 21 1 6 1 26 1 8 1-3 1-4 1 15 1-13 1-1 1 15 1 6M0 543l1-17 1 17 1 5 1-4 1 0 1 0 1-3 1-2 1-5 1 2 1 106 1 106 1 45 1-5 1-59 1-76 1-64 1-64 1-49 1-17 1-18 1-15 1-10 1 2 1 15 1 5 1 10 1 5 1 5 1 12 1-7 1 20 1-10 1 21 1-5 1 21 1 6 1 2 1 4 1-4 1 9 1 6 1 7 1-5 1 12 1-4M0 501l1 0 1-1 1-6 1-1 1 1 1 11 1-22 1 3 1 7 1 43 1 62 1 102 1 66 1-11 1-101 1-62 1-82 1-27 1-36 1-28 1-17 1-21 1-27 1-12 1 18 1 20 1 21 1-6 1 6 1 9 1 17 1-4 1-10 1 29 1 7 1 7 1-13 1 13 1-11 1-7 1 20 1 7 1 15 1 17 1-6 1 19M0 471l1-18 1 8 1-1 1 2 1 8 1-21 1 11 1-1 1 24 1 53 1 53 1 69 1 26 1-26 1-72 1-49 1-83 1 1 1-58 1-9 1-28 1-5 1-9 1 5 1 0 1 16 1 4 1 5 1 18 1-18 1 21 1-3 1-16 1 22 1 6 1 30 1-10 1 6 1 9 1-20 1 22 1-8 1 25 1 15 1-9 1-19M0 489l1 7 1-8 1-11 1 6 1-6 1 25 1-14 1-3 1 15 1 36 1 64 1 84 1 38 1-30 1-21 1-67 1-96 1-42 1-32 1-35 1-16 1-10 1 0 1-5 1 2 1-3 1 15 1-5 1 35 1-3 1-1 1 15 1 1 1 8 1 6 1-2 1 1 1 6 1 28 1-7 1 2 1 0 1 14 1 22 1-20 1 9M0 481l1 8 1-15 1 16 1 1 1-12 1 21 1 2 1 6 1-11 1 39 1 65 1 92 1 56 1-73 1-41 1-62 1-34 1-57 1-66 1-22 1-25 1-11 1 3 1-3 1 11 1-11 1 41 1 12 1 2 1-21 1-17 1 13 1 17 1 44 1 11 1-13 1 19 1 12 1-6 1 13 1-3 1-12 1-10 1 8 1 19 1-15M0 436l1-16 1 19 1-7 1 10 1 15 1-25 1-3 1 27 1 12 1 68 1 34 1 71 1 46 1-68 1-80 1-70 1-42 1-8 1-39 1-10 1-39 1-6 1 10 1 1 1-7 1-14 1-1 1 5 1 9 1 3 1 4 1 8 1 11 1 19 1-8 1 9 1 7 1 7 1 47 1-13 1-8 1-4 1 1 1 2 1 5 1 4M0 509l1 15 1 16 1-26 1 15 1-17 1 14 1 13 1-3 1-1 1 1 1 102 1 109 1 39 1-9 1-36 1-55 1-106 1-48 1-69 1-18 1-10 1-15 1-2 1-14 1 3 1 0 1 15 1 13 1 6 1-6 1 13 1 3 1 20 1 5 1 21 1 3 1-20 1 14 1-5 1 26 1 14 1-4 1 2 1-19 1-14 1 13M0 455l1 11 1 8 1 8 1 13 1-2 1-13 1-1 1 8 1 1 1 48 1 72 1 73 1 28 1 38 1-72 1-74 1-46 1-61 1-65 1-26 1-35 1-2 1-23 1 10 1 10 1-15 1 35 1-17 1 23 1-6 1 12 1-4 1 41 1 7 1 16 1-2 1 2 1-2 1-2 1 10 1 2 1-3 1-13 1 7 1 16 1-3M0 491l1-10 1-2 1 2 1 5 1 3 1 15 1-16 1-13 1 29 1 32 1 73 1 118 1 46 1-25 1-48 1-83 1-52 1-76 1-60 1-27 1 1 1-2 1-23 1 9 1-4 1 15 1-5 1 16 1-2 1 1 1 6 1 8 1 0 1-5 1 40 1-5 1-15 1-9 1-6 1 24 1 36 1-18 1 8 1-13 1 30 1 7M0 509l1 9 1-2 1-18 1-14 1-4 1-9 1 32 1-3 1 9 1 27 1 93 1 75 1 54 1-26 1-63 1-110 1-18 1-63 1-50 1-19 1-18 1 0 1-18 1 2 1 6 1 5 1 13 1-2 1 22 1-11 1-12 1 16 1 27 1-3 1 0 1 8 1 13 1 5 1 12 1-18 1 32 1 3 1-13 1 20 1 1 1 13M0 465l1-10 1-26 1 20 1-2 1-8 1 4 1-13 1 20 1 22 1 64 1 52 1 64 1 25 1-69 1-52 1-38 1-72 1-45 1-9 1-26 1-20 1 10 1-28 1 1 1-16 1 9 1 16 1 18 1-20 1 22 1 14 1-1 1 34 1-9 1-11 1 15 1-15 1 36 1 13 1-8 1 10 1 4 1 19 1-19 1-13 1-5M0 454l1 9 1 11 1-3 1-6 1 19 1-6 1 2 1 11 1-3 1 48 1 77 1 72 1 22 1-38 1-63 1-83 1-43 1-28 1-38 1-19 1-39 1-17 1 15 1-4 1 19 1 3 1-17 1 19 1-7 1 17 1 23 1 24 1-12 1 10 1 3 1 12 1-32 1 16 1 18 1 12 1-7 1 15 1 11 1-5 1-3 1-1M0 502l1 8 1-17 1-11 1-3 1 16 1 0 1 0 1 5 1 8 1 28 1 65 1 79 1 48 1-19 1-63 1-71 1-25 1-69 1-48 1-31 1-27 1-21 1 1 1-2 1 21 1-8 1 7 1 20 1 3 1 13 1 13 1-22 1 10 1 3 1 34 1 1 1 12 1 22 1-11 1 2 1 6 1-4 1 16 1 3 1 6 1-6M0 468l1-2 1-13 1 16 1 13 1-4 1-6 1 2 1 6 1 16 1 40 1 62 1 82 1 45 1-39 1-65 1-88 1-54 1-17 1-30 1-42 1-15 1-8 1 1 1-6 1 4 1 10 1-17 1 10 1-15 1-6 1 17 1 2 1 29 1 25 1-1 1 6 1 5 1 6 1 11 1 8 1-3 1-5 1 2 1 17 1-3 1 20M0 491l1-21 1-3 1 11 1 6 1-5 1 20 1-10 1 0 1 4 1 43 1 75 1 81 1 11 1-23 1-64 1-52 1-40 1-66 1-39 1-17 1-23 1-17 1-15 1-2 1-3 1 25 1 5 1-10 1 13 1-6 1-24 1 49 1 24 1-15 1 6 1 18 1 5 1 0 1 8 1 8 1 2 1 10 1 0 1-4 1 9 1-11M0 507l1 11 1 9 1 5 1 0 1 8 1-17 1 2 1 5 1-3 1 9 1 105 1 93 1 40 1-8 1-44 1-55 1-69 1-55 1-68 1-25 1-12 1-27 1 7 1-9 1 11 1 5 1 2 1-15 1 40 1-6 1-2 1 23 1 5 1 24 1 8 1 4 1 1 1 7 1-15 1 10 1 6 1-5 1 7 1-15 1 22 1 14M0 443l1 16 1-4 1-15 1-5 1 15 1 16 1-21 1 5 1 17 1 69 1 41 1 63 1 29 1-13 1-82 1-78 1-30 1-44 1-38 1-15 1-34 1 1 1 3 1-2 1-6 1 1 1-17 1 12 1 13 1 18 1 3 1 0 1-3 1 14 1 12 1 23 1 0 1-2 1 7 1 1 1 6 1-11 1 3 1 3 1 15 1 7M0 500l1-18 1 15 1-1 1-10 1 16 1-21 1-6 1 9 1 19 1 33 1 56 1 84 1 47 1 21 1-45 1-90 1-93 1-36 1-62 1-18 1-13 1-17 1-1 1-5 1 0 1 26 1 5 1-4 1-5 1 14 1 13 1 13 1 17 1 3 1-16 1 35 1 9 1 3 1 11 1-26 1 3 1 0 1 20 1-16 1 5 1 23M0 497l1 22 1-22 1 8 1-3 1 6 1-5 1-8 1 9 1-1 1 33 1 80 1 101 1 32 1-32 1-35 1-41 1-115 1-33 1-44 1-43 1-21 1 2 1-13 1-2 1 27 1-10 1-2 1-14 1 11 1 7 1 42 1 15 1-17 1 37 1 4 1-5 1 13 1 4 1-8 1-13 1 5 1 13 1 3 1-2 1 20 1-11M0 503l1 5 1-11 1 7 1-4 1-11 1 11 1 5 1 13 1 4 1 14 1 81 1 66 1 45 1 18 1-19 1-66 1-75 1-59 1-64 1-51 1-21 1 8 1 3 1-5 1-3 1 2 1 3 1 0 1-8 1 26 1 6 1 8 1 32 1 7 1-9 1 14 1-13 1 26 1 6 1-2 1 10 1 14 1-14 1-10 1 30 1-7M0 520l1 8 1-7 1 10 1-4 1-6 1 17 1-2 1-22 1 10 1 12 1 87 1 98 1 46 1 0 1-57 1-92 1-47 1-30 1-83 1-14 1-16 1-19 1-1 1-9 1 5 1 1 1 21 1 24 1-8 1 23 1-29 1 4 1 6 1 42 1-6 1 17 1-22 1 19 1 16 1 1 1-27 1 19 1 17 1 12 1-1 1-20M0 485l1-14 1 9 1-6 1 4 1 7 1-11 1 30 1-10 1 7 1 35 1 63 1 75 1 23 1-57 1-29 1-60 1-101 1-40 1-12 1-16 1-7 1-24 1 7 1-5 1 0 1 7 1 18 1 8 1 10 1-10 1 3 1-5 1 9 1 11 1 8 1 22 1 10 1 12 1 2 1 12 1-3 1 8 1 0 1 3 1-4 1-12M0 459l1-9 1-1 1-6 1-5 1 30 1-25 1-2 1 4 1 17 1 74 1 26 1 60 1 38 1-40 1-88 1-52 1-19 1-32 1-56 1-32 1-11 1-2 1-11 1 13 1-8 1 3 1-9 1 13 1-1 1 4 1 26 1 5 1-12 1 21 1 17 1-8 1 6 1 12 1 5 1 9 1 12 1-7 1 27 1-17 1-3 1 27M0 548l1-1 1-5 1 6 1-1 1-5 1 1 1-1 1-2 1-2 1-2 1 106 1 106 1 52 1-6 1-46 1-58 1-70 1-60 1-55 1-38 1-29 1-10 1-8 1 0 1 16 1 9 1-7 1 17 1-2 1 21 1 5 1 10 1 4 1 6 1 5 1 5 1 0 1 12 1 6 1 2 1 2 1 3 1 0 1 6 1 9 1 2M0 429l1 23 1-15 1 14 1-6 1 6 1-6 1-15 1 7 1 43 1 56 1 43 1 56 1 35 1-51 1-56 1-27 1-81 1-44 1-38 1-31 1-19 1-1 1-12 1 15 1 8 1-6 1-11 1 10 1 7 1 21 1-8 1 5 1 9 1 6 1 4 1 3 1 8 1 7 1 10 1 22 1 27 1 6 1-11 1 13 1-13 1-8M0 540l1 2 1 2 1 5 1-4 1-1 1-1 1-5 1 2 1-2 1-2 1 106 1 105 1 52 1-5 1-46 1-58 1-70 1-60 1-68 1-39 1-19 1-8 1-7 1 1 1 4 1 13 1 17 1-1 1 15 1 5 1-4 1 18 1-5 1 17 1 4 1 2 1 4 1 6 1 5 1 8 1-8 1 15 1 4 1 4 1 0 1-16M0 460l1 4 1-5 1 3 1 4 1-15 1 26 1-17 1 9 1 25 1 42 1 54 1 92 1 25 1-25 1-63 1-72 1-47 1-53 1-44 1-14 1-22 1-9 1-21 1 4 1 17 1 8 1 0 1-7 1-2 1 17 1 23 1-3 1 18 1-6 1 19 1-13 1 12 1-6 1 21 1 10 1-10 1-2 1 3 1-8 1 5 1 5M0 522l1-13 1-4 1 4 1-6 1 0 1 11 1-1 1-1 1 0 1 24 1 85 1 94 1 28 1-24 1-38 1-69 1-44 1-57 1-75 1-43 1 7 1-15 1 12 1-6 1-6 1 16 1 1 1 8 1-4 1 22 1 17 1-10 1 29 1-9 1 9 1-15 1-6 1 48 1 16 1 5 1-28 1 9 1 7 1 0 1 5 1-8M0 463l1 4 1 10 1-6 1 3 1-1 1 4 1 11 1 1 1 12 1 35 1 59 1 90 1 26 1-39 1-69 1-23 1-74 1-53 1-31 1-16 1-21 1-7 1-11 1-7 1-2 1 1 1 2 1 16 1 4 1 9 1 13 1 2 1-11 1 7 1 3 1-3 1 26 1 0 1 2 1 6 1 26 1-1 1 15 1-4 1-3 1 11M0 501l1-11 1 1 1-6 1 7 1 6 1 17 1 7 1-2 1 4 1 12 1 104 1 101 1 54 1-28 1-62 1-58 1-78 1-59 1-74 1-13 1-22 1-5 1-13 1-20 1 19 1 20 1-14 1 0 1 11 1 11 1-11 1 39 1 14 1-7 1-15 1 24 1 33 1 5 1 9 1-20 1 7 1-16 1 32 1 0 1-26 1-7M0 498l1-4 1 8 1 18 1-8 1-26 1 5 1-9 1 4 1 21 1 29 1 70 1 89 1 34 1-9 1-56 1-55 1-68 1-38 1-62 1-28 1-25 1-7 1-22 1 35 1-12 1 6 1 0 1 3 1 16 1 0 1 3 1-6 1 7 1 6 1 42 1-15 1 0 1 18 1 26 1-23 1-6 1 16 1 10 1-13 1-8 1 8M0 503l1 8 1-5 1-1 1 7 1-5 1 1 1-10 1 1 1 16 1 21 1 78 1 100 1 47 1-22 1-68 1-39 1-21 1-101 1-77 1-27 1-21 1-15 1-6 1 18 1 15 1 18 1 4 1-8 1 18 1-8 1 2 1-7 1 31 1 18 1-7 1 2 1 9 1 9 1 15 1-1 1 5 1-19 1 6 1-12 1 35 1 13M0 515l1 14 1-5 1-27 1 2 1-21 1 6 1-1 1 14 1 16 1 23 1 77 1 95 1 40 1-23 1-97 1-46 1-26 1-50 1-75 1-22 1-11 1-21 1 7 1-9 1 5 1 8 1 35 1-10 1-4 1 18 1-4 1 9 1-21 1 28 1 11 1-6 1 33 1-1 1 3 1-10 1-6 1 9 1-5 1 21 1 15 1-7M0 425l1-4 1 6 1 6 1-2 1 3 1 11 1 11 1-13 1 27 1 66 1 25 1 75 1 36 1-63 1-62 1-78 1-52 1-2 1-28 1-31 1-13 1-5 1-17 1 0 1-6 1 9 1-5 1 33 1-17 1 8 1 7 1-1 1 17 1 0 1 2 1 9 1 5 1 21 1 9 1 10 1-16 1 7 1-2 1 6 1 18 1 0M0 487l1 3 1 11 1-32 1 8 1-4 1-7 1 7 1-6 1 7 1 62 1 54 1 102 1 22 1-57 1-86 1-45 1-42 1-28 1-57 1-24 1-33 1 8 1-14 1-17 1 34 1 13 1 7 1 7 1-11 1 26 1-12 1 34 1 0 1-20 1 27 1 30 1-10 1 15 1-5 1-5 1-22 1 33 1-3 1 9 1-9 1 0M0 510l1-2 1-9 1 11 1 11 1-8 1-1 1-10 1 23 1-6 1 17 1 102 1 90 1 20 1-25 1-40 1-15 1-75 1-72 1-54 1-19 1-37 1 2 1-5 1-4 1-25 1 20 1 26 1-2 1 34 1-7 1-16 1 15 1 9 1 16 1-2 1 20 1-9 1 7 1-9 1 2 1 14 1-3 1 1 1 5 1 9 1 11M0 516l1-4 1-10 1-14 1 7 1-2 1-11 1 29 1-18 1 19 1 24 1 84 1 121 1 27 1-39 1-10 1-101 1-88 1-51 1-47 1-17 1-13 1-27 1 6 1 23 1-13 1 4 1 14 1 18 1-12 1-5 1 0 1 28 1 16 1-25 1-8 1 12 1 6 1 29 1 14 1 27 1 0 1-7 1 9 1-17 1-11 1 12M0 491l1 20 1 9 1-10 1 2 1-3 1 2 1 8 1-10 1 15 1 12 1 99 1 67 1 26 1 8 1-56 1-71 1-64 1-62 1-42 1-28 1-19 1 0 1-16 1 17 1-21 1 45 1-19 1 19 1 16 1 1 1 10 1-3 1-16 1 25 1 23 1-6 1-13 1 11 1 19 1 9 1 15 1 0 1 1 1-27 1 37 1-5M0 503l1 1 1 3 1 17 1 7 1-6 1 11 1-19 1 3 1-4 1 20 1 91 1 103 1 56 1-66 1 8 1-78 1-82 1-87 1-42 1-44 1-3 1-6 1 16 1-12 1 15 1 13 1 21 1-14 1 10 1-21 1-1 1 12 1 14 1-3 1 12 1 23 1 0 1 6 1-2 1 27 1 17 1-10 1-7 1 18 1-3 1-12M0 430l1 28 1-16 1 30 1-15 1-10 1 11 1-11 1 6 1 11 1 72 1 27 1 68 1 31 1-66 1-56 1-64 1-50 1-31 1-30 1-5 1-26 1-3 1 7 1 2 1-6 1-3 1 3 1 12 1 4 1-7 1 13 1 9 1 11 1 4 1 21 1-1 1 12 1-1 1-4 1-4 1 9 1 13 1 15 1-7 1-5 1 1M0 524l1-6 1 10 1-16 1 7 1 2 1 0 1-11 1 19 1 8 1-1 1 96 1 107 1 59 1-18 1-72 1-57 1-32 1-74 1-71 1-15 1-53 1-26 1 18 1 9 1-12 1 19 1 8 1 10 1-4 1 7 1-1 1 14 1 8 1 33 1 5 1-21 1 18 1 23 1 1 1 8 1-6 1 6 1-16 1 14 1-16 1 24M0 419l1 8 1 3 1 6 1 6 1-2 1-8 1 5 1 8 1 26 1 65 1 36 1 61 1 42 1-71 1-74 1-66 1-26 1-38 1-19 1-35 1-11 1-18 1-6 1 2 1 4 1 19 1-22 1 13 1 24 1 13 1-13 1-3 1 4 1 14 1 11 1 11 1 12 1-9 1 4 1 5 1 5 1 4 1 9 1 31 1-5 1-6M0 518l1 8 1 11 1 2 1-3 1-8 1-13 1 5 1 0 1 12 1 4 1 104 1 80 1 65 1-24 1-72 1-72 1-49 1-25 1-63 1-45 1-15 1-11 1-21 1-1 1-6 1 14 1-12 1 21 1 12 1 12 1 6 1 30 1 0 1 14 1 15 1 11 1 6 1-8 1-7 1 2 1 6 1 8 1 3 1 15 1-4 1 19M0 508l1 13 1-34 1 30 1 3 1 1 1-20 1 33 1-11 1-1 1 14 1 93 1 85 1 55 1-34 1-23 1-66 1-44 1-93 1-41 1-30 1-4 1-31 1 10 1-4 1 5 1-9 1 14 1 12 1-9 1-5 1 5 1 32 1 4 1 18 1 2 1 3 1 6 1-1 1 22 1-2 1 1 1-17 1 12 1-5 1 3 1 19M0 444l1 8 1 10 1-12 1 5 1 1 1-14 1-13 1 5 1 36 1 66 1 33 1 61 1 40 1-54 1-55 1-15 1-92 1-31 1-42 1-27 1-22 1-5 1-5 1 6 1 6 1-9 1 31 1-20 1 12 1 34 1-18 1 21 1 14 1-1 1-24 1 34 1 3 1-2 1 24 1-11 1 18 1-10 1 9 1-12 1 5 1-2M0 460l1-3 1 4 1 14 1-7 1-22 1 6 1 7 1 15 1 20 1 42 1 56 1 78 1 14 1-16 1-57 1-65 1-72 1-35 1-45 1-15 1-34 1 6 1-2 1 15 1-10 1-3 1 4 1 3 1 3 1-8 1 1 1 12 1 11 1 0 1 4 1 17 1 24 1 3 1 15 1 12 1 5 1-11 1-3 1-16 1 8 1 19M0 462l1 7 1-15 1 8 1-20 1-5 1 4 1 6 1 4 1 17 1 68 1 51 1 68 1 41 1-53 1-72 1-80 1-73 1 13 1-49 1-38 1-16 1-13 1 25 1-3 1 13 1 10 1-4 1 2 1-13 1 6 1 1 1 13 1-1 1 30 1 11 1-2 1-15 1 25 1 17 1-2 1-12 1 15 1 14 1-24 1 18 1-14M0 504l1-10 1 0 1-8 1 1 1 23 1 0 1-16 1-5 1 12 1 35 1 79 1 93 1 25 1-56 1-15 1-77 1-77 1-49 1-45 1-25 1-29 1 13 1-3 1 6 1-5 1 7 1 5 1 18 1 8 1 2 1-10 1-7 1 6 1 10 1 10 1-1 1 39 1 4 1-21 1 2 1 1 1 18 1 19 1-14 1 15 1-2M0 534l1-6 1 2 1-7 1-6 1-11 1 10 1 1 1-1 1 6 1 14 1 85 1 92 1 65 1-19 1-18 1-105 1-84 1-37 1-48 1-38 1-10 1-5 1-2 1-10 1 2 1-12 1 16 1 16 1 25 1-18 1-1 1 0 1 29 1-23 1 10 1 46 1 8 1-17 1 10 1 16 1 5 1-6 1-8 1 15 1 0 1 10M0 488l1 18 1-11 1 5 1-8 1 0 1-1 1-4 1 10 1 19 1 20 1 95 1 80 1 53 1-25 1-25 1-120 1-28 1-76 1-40 1-39 1-10 1-20 1-24 1-1 1 12 1 11 1-18 1 8 1 12 1 16 1 16 1-3 1-5 1 26 1 7 1 21 1-3 1 16 1-8 1 11 1 5 1 7 1-12 1 5 1-3 1 8M0 536l1-19 1-1 1-7 1 8 1-3 1 4 1-5 1 20 1-2 1 5 1 82 1 90 1 13 1-27 1-43 1-66 1-42 1-74 1-27 1-17 1-20 1-19 1-5 1-5 1 19 1 7 1 24 1-13 1 21 1-12 1 1 1-7 1 21 1 8 1 15 1 21 1-5 1 6 1 12 1-5 1-6 1 8 1 6 1 6 1 6 1-11M0 510l1-13 1 4 1-9 1 5 1 18 1-8 1-15 1 9 1 10 1 25 1 72 1 78 1 48 1-50 1-10 1-112 1-52 1-52 1-37 1-8 1-14 1-6 1-6 1-27 1 16 1-12 1 11 1 11 1 6 1 21 1-5 1 31 1 6 1 16 1 4 1 8 1-4 1 25 1-21 1 10 1 1 1-2 1 6 1-8 1 16 1 8M0 493l1-16 1-13 1 7 1 7 1 30 1-14 1 7 1 3 1 17 1 15 1 80 1 77 1 27 1-45 1-58 1-20 1-62 1-57 1-50 1-32 1-16 1-10 1 2 1 5 1-19 1 14 1 22 1-13 1 5 1 13 1 19 1 6 1-3 1 14 1 15 1 3 1 23 1-4 1-15 1-2 1 8 1 4 1 11 1 3 1 19 1 0M0 519l1 1 1 12 1-1 1 4 1-1 1-9 1 15 1 0 1-14 1 10 1 98 1 110 1 40 1-31 1-15 1-71 1-49 1-67 1-65 1-28 1-20 1-24 1 2 1-3 1-10 1 8 1 9 1 18 1 15 1-11 1 19 1 0 1-5 1 27 1-5 1-4 1 25 1 15 1-6 1 15 1 6 1-10 1 17 1-7 1 1 1-26M0 495l1 8 1-17 1 21 1 13 1 10 1-44 1 16 1 7 1-16 1 43 1 75 1 109 1 26 1-15 1-51 1-57 1-72 1-37 1-54 1-49 1-4 1-23 1-6 1 13 1 1 1 10 1 11 1 7 1-7 1-4 1 20 1 12 1 7 1 2 1 16 1 1 1-12 1 18 1 13 1 10 1-12 1-4 1 11 1-2 1 5 1 15M0 517l1-8 1 11 1-2 1 14 1-18 1-10 1 10 1-11 1 4 1 29 1 82 1 70 1 52 1-28 1-47 1-59 1-65 1-32 1-59 1-34 1-20 1-2 1-4 1 5 1-7 1 4 1 27 1-8 1 22 1 4 1-13 1-14 1 23 1 0 1 3 1-6 1 35 1 6 1 6 1 7 1 4 1 0 1 5 1-5 1-24 1 27M0 499l1 17 1-23 1-24 1 33 1 4 1-19 1 4 1 14 1-2 1 33 1 96 1 101 1 27 1-20 1-77 1-55 1-66 1-62 1-57 1 4 1-25 1-24 1-5 1 18 1 15 1-12 1 6 1 16 1-5 1-8 1 2 1 15 1 2 1 1 1 16 1 25 1 12 1-2 1 27 1-18 1 2 1-13 1 19 1-1 1-14 1 5M0 546l1-2 1 3 1-17 1-2 1-6 1 3 1 5 1 9 1-1 1-2 1 106 1 106 1 50 1-4 1-48 1-63 1-64 1-72 1-60 1-22 1-33 1-32 1 9 1-5 1 16 1 7 1 16 1 19 1 9 1-1 1-11 1-18 1 1 1 23 1 24 1 4 1 7 1-5 1 0 1 0 1 27 1-16 1 22 1-6 1 14 1 5M0 520l1-15 1-9 1 3 1-2 1 12 1-2 1 1 1 6 1 0 1 22 1 75 1 98 1 50 1-33 1-57 1-35 1-74 1-82 1-52 1-3 1-29 1 7 1 2 1-12 1 8 1-7 1 5 1 2 1 21 1-10 1 12 1 10 1 15 1-19 1-1 1 14 1 18 1 16 1 11 1 26 1-2 1-2 1-11 1 9 1 6 1 4M0 484l1 12 1-18 1-20 1 21 1 8 1-6 1-5 1 32 1-7 1 35 1 59 1 87 1 31 1-39 1-43 1-75 1-49 1-43 1-56 1-18 1-28 1 5 1-15 1 0 1-11 1 11 1-2 1 35 1 0 1 12 1-19 1 2 1 17 1-1 1 33 1 1 1 11 1 9 1 3 1 13 1-8 1 8 1 14 1-4 1 0 1-2M0 490l1-7 1-17 1 12 1 3 1 6 1-1 1 15 1-18 1 8 1 45 1 61 1 87 1 41 1-68 1-22 1-34 1-69 1-76 1-28 1-39 1-15 1-4 1-13 1-14 1 13 1 10 1-2 1 4 1 23 1 4 1 1 1 2 1 14 1 12 1 5 1-8 1 13 1 6 1 14 1 19 1 9 1 0 1-4 1-6 1 7 1-3M0 459l1 5 1 3 1 21 1-3 1-10 1 6 1-9 1 13 1 14 1 37 1 63 1 74 1 37 1-34 1-44 1-96 1-61 1-24 1-30 1-42 1-30 1 10 1 2 1 4 1-14 1 4 1 9 1 10 1 1 1 5 1 19 1-5 1 0 1 7 1 6 1 14 1 7 1 3 1 27 1 0 1-5 1 16 1-11 1 2 1 2 1-1M0 469l1-15 1 5 1 9 1 5 1 2 1 20 1-7 1-7 1 10 1 45 1 62 1 71 1 58 1-66 1-40 1-61 1-84 1-21 1-38 1-35 1 5 1-16 1-16 1-8 1-3 1 12 1 5 1-10 1 1 1 9 1 12 1 10 1 4 1 22 1 18 1 2 1-21 1 17 1 19 1 3 1 8 1 1 1-14 1-16 1 28 1 3M0 488l1 0 1 16 1-17 1 4 1-9 1 7 1 7 1 8 1 5 1 27 1 73 1 96 1 49 1 6 1-65 1-105 1-66 1-41 1-39 1-43 1-6 1-9 1-18 1 8 1-5 1 8 1 4 1 11 1-7 1 21 1-20 1 15 1 9 1 35 1 7 1-5 1-2 1 12 1 2 1 33 1-37 1 14 1-19 1 28 1-3 1 24M0 475l1-5 1 9 1-7 1-30 1 7 1-5 1 22 1 9 1 13 1 48 1 58 1 66 1 65 1-46 1-70 1-100 1-49 1-23 1-36 1-27 1-16 1-19 1 2 1-13 1 4 1 5 1 21 1 10 1 2 1-9 1 9 1 21 1 19 1-18 1 8 1 14 1 13 1 6 1 13 1-16 1 28 1-16 1 7 1 9 1 13 1 5M0 520l1-10 1 5 1 10 1-17 1-14 1-2 1 21 1 11 1-6 1 18 1 89 1 103 1 11 1-23 1-44 1-50 1-60 1-60 1-51 1-54 1 24 1-14 1-6 1-15 1 8 1 26 1 14 1-8 1-16 1 13 1 2 1 17 1-11 1 13 1 14 1 2 1 22 1-12 1-2 1 9 1 19 1-4 1-3 1 13 1 3 1-5M0 481l1 8 1-1 1-8 1-1 1 1 1 7 1 3 1-6 1 14 1 38 1 78 1 83 1 59 1-39 1-48 1-86 1-78 1-34 1-41 1-24 1-21 1-16 1-12 1 1 1 12 1 15 1-37 1 30 1 23 1 17 1-1 1 6 1-5 1 8 1 13 1-8 1 4 1 16 1-6 1 13 1-8 1 15 1 5 1-2 1-2 1 5M0 419l1 2 1 6 1 0 1 0 1 6 1 9 1-13 1 8 1 28 1 71 1 21 1 47 1 52 1-42 1-83 1-56 1-33 1-51 1-26 1-21 1-15 1-12 1-7 1-1 1 0 1 16 1-12 1 4 1 4 1 8 1 6 1 8 1 6 1 8 1 8 1 8 1 8 1 7 1 10 1 3 1 4 1 17 1-11 1 2 1 4 1 4M0 503l1-18 1-1 1 21 1-17 1-4 1 7 1-2 1-3 1 27 1 23 1 76 1 80 1 40 1-50 1-20 1-77 1-31 1-79 1-50 1-17 1-19 1-18 1-3 1-12 1 13 1-19 1 23 1 29 1 12 1 9 1-9 1 10 1-1 1 9 1 7 1-31 1 40 1 16 1 14 1-12 1 14 1 5 1-26 1-5 1 19 1 3M0 472l1 19 1-24 1-5 1 3 1-3 1 6 1 8 1-6 1 25 1 41 1 78 1 100 1 38 1-43 1-28 1-76 1-42 1-79 1-79 1-27 1-7 1-2 1-8 1 9 1-12 1 1 1 21 1 4 1 5 1 23 1 8 1-14 1 9 1-12 1 17 1 17 1-13 1 35 1 24 1-5 1 4 1 8 1-13 1 8 1 0 1-18M0 447l1 15 1-2 1 8 1-9 1-13 1 27 1 18 1-11 1 5 1 51 1 46 1 68 1 22 1-32 1-52 1-77 1-60 1-47 1-25 1-3 1-25 1 3 1-19 1-1 1 0 1 3 1 15 1-22 1 25 1 15 1 3 1 6 1 2 1 18 1 4 1-4 1 14 1 18 1 5 1 1 1 4 1-5 1-1 1-13 1 14 1 20M0 459l1 15 1 0 1 1 1 4 1 3 1-5 1-10 1 23 1 6 1 40 1 60 1 89 1 15 1-11 1-68 1-28 1-68 1-62 1-35 1-22 1-33 1-11 1-12 1 8 1-14 1 8 1-16 1 27 1-18 1 10 1 24 1 7 1 6 1 2 1 11 1-6 1 25 1 20 1 12 1-2 1 15 1-2 1 6 1-2 1-2 1-7M0 419l1 1 1 7 1-1 1 0 1 4 1 0 1-2 1 6 1 26 1 76 1 21 1 52 1 48 1-61 1-66 1-66 1-47 1-26 1-26 1-24 1-18 1-10 1-4 1-2 1 3 1 1 1 2 1 4 1 4 1 6 1 8 1 8 1 6 1 15 1 2 1 7 1 11 1 4 1 7 1 5 1 5 1 3 1 2 1 3 1 5 1 7M0 498l1-4 1 11 1-9 1 2 1-5 1-4 1 5 1 4 1 6 1 32 1 77 1 82 1 36 1-23 1-32 1-48 1-72 1-64 1-54 1-8 1-21 1-29 1-5 1-5 1 4 1-9 1 17 1-4 1 10 1 35 1 11 1-14 1-3 1 6 1-6 1 13 1 17 1 2 1 25 1 3 1-2 1 23 1 1 1-6 1 18 1 5M0 464l1-6 1-11 1 28 1 9 1-22 1 6 1-17 1 21 1 14 1 50 1 62 1 70 1 33 1-28 1-72 1-50 1-64 1-30 1-42 1-24 1-35 1 9 1-15 1 12 1-13 1 0 1 1 1 21 1-6 1 11 1-14 1 10 1 16 1 9 1-13 1 26 1 0 1 35 1-4 1 26 1-3 1-4 1-10 1 1 1 8 1-18M0 499l1 4 1-22 1 23 1 12 1 1 1 1 1-6 1 4 1 12 1 8 1 93 1 102 1 34 1-11 1-46 1-79 1-15 1-89 1-49 1-28 1-51 1-2 1 5 1 3 1-10 1 11 1-7 1 2 1 14 1 16 1 26 1-1 1 13 1-14 1-3 1 10 1 34 1-17 1-7 1 15 1 22 1-20 1 6 1-7 1 28 1 6M0 489l1-2 1 4 1-6 1-4 1-4 1 9 1-4 1 17 1-7 1 44 1 77 1 98 1 30 1-56 1-59 1-25 1-70 1-54 1-52 1-22 1-19 1-24 1-2 1 16 1 17 1-4 1-4 1 24 1-4 1-9 1 11 1 17 1 23 1-8 1 12 1-1 1 20 1 2 1 5 1-11 1 5 1 2 1-33 1 34 1 8 1 4M0 471l1 2 1-13 1 9 1 4 1 1 1-14 1 6 1-4 1 27 1 47 1 70 1 70 1 31 1-46 1-43 1-80 1-57 1-68 1-22 1-21 1-14 1 8 1-21 1-8 1 18 1-4 1 8 1 12 1 6 1-3 1 23 1 20 1-16 1 7 1 21 1 0 1-5 1 8 1 21 1-9 1 12 1 6 1-6 1 11 1 8 1 9M0 493l1 18 1 6 1 6 1-15 1 10 1 0 1-15 1 19 1-6 1 20 1 87 1 87 1 50 1-20 1-40 1-50 1-74 1-48 1-61 1-43 1-10 1-10 1-9 1 7 1 15 1 3 1-20 1 17 1 4 1 5 1 11 1 0 1 28 1 3 1 1 1 13 1 10 1 11 1 3 1-6 1 1 1-24 1-2 1 26 1 0 1 24M0 522l1 11 1 17 1-10 1 0 1-4 1-2 1-2 1 4 1 1 1-1 1 106 1 99 1 53 1-2 1-55 1-55 1-79 1-69 1-47 1-50 1-6 1-7 1-13 1 7 1 13 1-10 1 18 1 12 1-3 1 18 1 9 1-9 1-13 1 28 1 2 1-7 1 16 1-13 1 21 1 27 1-29 1 21 1-4 1 4 1-1 1 17M0 472l1-8 1 7 1 19 1-14 1 8 1 4 1-21 1 23 1 10 1 36 1 88 1 73 1 32 1-51 1-74 1-30 1-62 1-48 1-44 1-16 1-13 1-17 1-10 1 0 1 24 1-28 1-2 1 21 1 10 1 22 1 13 1 16 1-20 1 14 1-1 1 17 1 3 1 13 1-10 1 7 1-2 1 3 1 0 1-5 1 23 1 3M0 504l1-14 1 8 1 9 1 13 1 8 1 6 1 4 1-3 1-6 1 7 1 96 1 89 1 34 1 3 1-44 1-50 1-89 1-38 1-69 1-34 1-28 1-19 1-11 1 24 1-12 1 20 1 4 1 2 1 6 1 11 1 19 1 6 1 2 1-9 1-6 1 44 1-10 1-8 1 31 1-16 1 20 1 11 1-2 1 8 1-19 1-5M0 476l1-1 1 7 1-9 1-16 1 16 1 1 1 11 1 20 1-1 1 32 1 62 1 90 1 40 1-33 1-42 1-102 1-38 1-40 1-34 1-55 1-15 1 13 1-19 1-8 1 23 1 23 1-12 1-12 1-2 1 6 1 1 1 4 1 18 1 12 1 14 1 5 1-8 1 22 1 8 1-5 1 4 1 8 1 2 1 0 1 12 1 11M0 472l1-11 1 6 1 9 1 9 1-3 1-4 1-8 1 8 1 7 1 51 1 61 1 67 1 49 1-40 1-41 1-82 1-43 1-23 1-59 1-23 1-32 1-14 1-21 1 8 1-2 1 14 1-15 1 10 1 18 1 17 1-14 1 13 1 44 1 5 1-2 1-31 1 12 1 26 1 11 1 9 1 12 1-4 1 7 1-23 1 37 1-11M0 479l1-3 1 3 1-13 1 3 1 5 1-15 1 2 1 4 1 18 1 53 1 43 1 81 1 43 1-22 1-70 1-86 1-75 1-17 1-35 1-1 1-6 1-12 1-30 1-17 1 7 1-1 1 27 1 1 1-3 1 8 1 22 1-12 1 15 1-10 1 13 1 5 1 18 1 9 1 20 1 4 1-10 1-12 1 2 1 6 1 8 1 0M0 525l1-8 1-6 1 0 1 2 1 1 1-15 1 5 1-9 1 19 1 22 1 84 1 100 1 36 1-22 1 2 1-63 1-73 1-79 1-58 1-32 1-15 1-23 1-3 1-2 1-6 1 34 1 11 1-9 1-9 1 9 1 4 1 8 1-2 1 13 1 19 1 17 1-17 1 19 1 0 1 1 1 10 1 1 1 15 1 8 1-4 1-4M0 549l1-4 1-5 1 4 1 2 1-8 1 5 1-3 1 0 1-4 1 0 1 103 1 106 1 52 1-15 1-44 1-52 1-75 1-52 1-85 1-8 1-31 1-9 1-6 1-1 1-6 1 8 1 13 1 16 1 16 1 11 1 6 1-14 1 18 1-15 1 17 1-3 1-6 1 31 1 7 1 9 1-15 1-5 1 11 1-1 1 10 1-1M0 457l1 21 1-6 1-11 1 15 1 4 1-1 1-1 1-3 1 15 1 46 1 42 1 67 1 57 1-12 1-67 1-75 1-31 1-60 1-36 1-26 1-36 1-2 1-2 1-13 1-2 1-1 1 31 1 28 1-1 1 15 1-27 1 25 1 22 1 12 1-22 1 18 1-2 1 17 1-9 1 4 1-2 1 11 1 0 1 14 1 6 1 0M0 476l1 2 1 10 1-2 1 2 1-3 1-2 1-6 1-12 1 30 1 41 1 61 1 105 1 16 1-12 1-56 1-67 1-42 1-48 1-62 1-42 1-27 1 0 1 13 1 1 1-4 1 5 1 9 1 21 1-18 1 15 1 4 1-8 1-2 1 33 1 6 1 1 1 8 1 17 1 0 1 19 1-11 1-10 1 4 1-6 1 7 1 21M0 541l1-2 1-11 1-7 1 11 1 3 1-6 1-1 1 12 1-2 1-2 1 106 1 106 1 49 1-4 1-74 1-85 1-76 1-63 1-34 1-15 1-26 1-2 1-3 1-2 1-9 1 31 1 18 1-7 1 25 1-1 1-11 1 2 1-11 1 20 1-4 1 34 1 9 1-12 1 20 1-16 1 15 1 10 1 1 1-12 1 8 1 5M0 501l1 8 1 3 1-21 1-10 1 3 1 5 1-22 1 8 1 33 1 28 1 62 1 75 1 54 1-32 1-59 1-94 1-25 1-44 1-54 1-22 1-9 1-30 1-13 1 0 1 5 1-19 1 20 1 34 1 2 1 22 1-36 1 22 1 31 1 23 1-12 1-5 1 16 1-8 1 10 1-9 1 18 1 7 1 22 1-3 1-10 1 4M0 441l1-3 1 8 1 9 1-23 1 11 1 9 1-15 1 27 1 7 1 65 1 54 1 71 1 29 1-41 1-98 1-80 1-54 1-13 1-31 1-11 1-14 1-28 1 8 1 0 1 2 1 6 1-2 1 3 1 17 1-14 1-2 1 8 1 27 1 1 1 32 1-33 1 9 1 11 1 17 1 22 1-5 1-11 1 17 1 17 1-31 1 17M0 480l1 1 1 9 1 2 1-2 1-10 1 10 1-5 1 8 1 7 1 36 1 80 1 86 1 46 1-57 1-33 1-60 1-74 1-45 1-77 1-8 1-16 1-28 1 15 1-4 1 12 1 4 1 13 1 5 1 2 1 14 1 13 1-28 1 19 1 7 1 0 1 33 1 15 1-14 1-3 1 21 1-4 1 1 1-16 1 14 1 22 1-5M0 498l1-3 1 6 1-5 1 3 1-27 1-3 1-10 1 36 1 7 1 34 1 60 1 69 1 12 1 22 1-63 1-68 1-85 1-28 1-34 1-27 1-13 1-22 1 1 1 7 1 5 1 4 1-1 1-8 1 18 1 1 1-3 1 23 1-14 1 11 1 25 1 18 1-4 1 6 1 12 1 0 1-6 1 11 1 3 1 2 1 14 1 0M0 468l1 20 1-18 1-3 1-6 1 9 1-13 1 12 1 11 1 6 1 50 1 43 1 80 1 29 1-45 1-54 1-70 1-24 1-19 1-82 1-25 1-8 1-19 1-3 1 6 1 20 1 10 1-10 1 4 1-1 1 6 1-6 1-5 1 17 1 30 1 14 1-20 1 14 1 5 1 17 1-7 1 22 1-3 1 9 1 8 1-24 1 10M0 528l1 11 1-2 1-10 1 4 1 7 1 3 1 0 1-12 1 7 1 0 1 96 1 100 1 55 1-1 1-38 1-79 1-53 1-66 1-74 1-42 1-9 1-9 1-1 1-5 1 1 1 13 1 11 1 12 1 22 1-12 1 22 1-42 1 32 1-1 1 33 1-11 1 19 1-11 1-4 1 21 1 11 1-12 1 23 1-9 1 13 1-17M0 452l1-11 1 12 1-20 1 15 1-1 1-5 1 10 1 3 1 19 1 62 1 51 1 71 1 51 1-58 1-49 1-88 1-41 1-33 1-49 1-39 1-22 1-9 1 12 1-2 1 1 1 11 1 10 1 16 1-14 1 12 1 11 1-11 1 11 1-2 1 12 1 17 1-13 1 7 1 8 1 15 1 1 1 12 1-6 1 2 1 16 1 6M0 485l1 11 1 9 1-13 1-9 1-7 1 24 1-15 1-8 1 22 1 37 1 65 1 83 1 26 1-36 1-6 1-73 1-70 1-46 1-47 1-29 1-31 1-16 1 23 1-15 1 18 1-9 1 22 1 7 1-4 1 30 1-21 1 3 1-2 1 6 1 11 1 2 1 12 1 31 1-21 1-2 1 4 1 8 1 21 1 7 1 3 1 0M0 541l1-4 1 7 1 2 1-1 1-4 1-5 1 4 1-1 1-1 1-2 1 106 1 106 1 52 1-6 1-46 1-58 1-70 1-61 1-65 1-44 1-13 1-10 1-14 1 4 1 18 1 18 1 5 1 9 1 12 1 5 1 0 1-1 1 12 1 4 1 4 1 6 1 6 1 6 1 6 1 2 1-3 1 10 1 4 1 4 1 4 1 4M0 508l1-24 1 13 1-8 1 6 1-3 1 21 1-1 1-4 1 14 1 14 1 77 1 88 1 39 1-19 1-31 1-76 1-64 1-38 1-62 1-21 1-26 1-28 1-11 1-8 1 28 1 10 1-1 1-4 1 18 1 7 1 11 1-7 1-1 1 38 1-11 1 11 1 24 1-22 1 22 1 4 1 1 1 5 1-12 1-16 1 40 1-4M0 522l1-5 1 1 1 2 1 10 1-6 1 5 1-14 1-4 1 7 1 18 1 92 1 114 1 40 1-23 1-17 1-84 1-72 1-61 1-72 1-39 1-12 1-13 1-11 1 6 1 5 1 3 1-10 1 18 1 36 1 11 1 7 1-7 1 15 1-7 1 2 1 16 1-12 1 15 1 13 1 22 1-15 1 6 1-8 1-2 1-20 1 11M0 523l1-2 1 21 1-7 1-22 1 1 1 1 1 17 1-14 1 7 1 11 1 91 1 98 1 18 1-1 1-85 1-44 1-12 1-65 1-71 1-28 1-2 1-18 1-5 1-13 1-1 1-2 1 12 1 3 1 26 1 12 1-3 1-4 1-24 1 23 1 24 1 18 1-32 1-2 1 31 1 2 1 11 1 3 1 13 1-19 1 7 1 21M0 478l1 10 1 4 1-10 1 12 1 4 1-5 1 8 1-15 1 21 1 29 1 66 1 79 1 61 1-41 1-58 1-74 1-63 1-19 1-31 1-27 1-28 1-12 1-17 1-7 1-6 1 28 1-3 1-3 1 3 1 16 1 1 1 10 1 11 1 25 1-16 1 14 1-1 1 6 1 30 1 3 1-8 1 6 1-2 1 13 1-9 1 8M0 475l1-2 1-4 1 6 1 12 1-11 1-2 1 6 1-5 1 24 1 37 1 50 1 75 1 35 1-13 1-36 1-102 1-60 1-31 1-43 1-14 1-12 1-12 1 0 1-1 1-5 1-4 1-3 1 21 1 13 1 13 1-9 1 0 1 11 1 23 1 3 1 4 1-7 1 15 1 12 1-11 1 28 1-17 1 14 1-5 1 4 1-6M0 472l1-6 1-3 1 12 1 4 1-5 1-1 1 14 1-9 1 15 1 43 1 49 1 53 1 55 1-22 1-57 1-82 1-62 1-17 1-47 1-41 1-3 1-8 1-2 1 6 1 11 1 0 1-6 1-23 1 21 1 9 1 25 1 14 1 1 1 17 1-6 1 1 1-4 1 8 1 13 1 16 1-10 1 13 1 23 1-28 1 2 1 6M0 535l1 1 1-13 1-14 1 2 1 1 1 3 1-9 1 21 1-8 1 17 1 93 1 81 1 49 1-12 1-50 1-45 1-81 1-19 1-72 1-50 1-45 1 14 1-4 1-1 1-6 1-4 1-4 1 54 1 19 1-14 1 24 1-31 1 22 1 16 1-9 1 5 1-1 1 15 1 25 1 8 1-2 1 8 1-28 1 30 1-7 1-14M0 462l1 5 1 6 1-23 1 26 1 15 1-20 1 16 1 7 1 10 1 32 1 58 1 85 1 23 1 8 1-95 1-92 1-18 1-38 1-50 1-27 1-15 1 2 1-23 1-7 1 0 1 7 1 7 1-9 1 18 1-7 1 13 1 10 1 8 1 31 1 18 1 6 1 12 1-13 1 18 1-8 1 2 1 2 1-16 1 2 1 9 1 11M0 467l1-7 1 11 1-7 1-2 1 9 1 7 1-7 1-9 1 29 1 45 1 64 1 75 1 13 1-6 1-76 1-37 1-70 1-39 1-44 1-42 1 20 1-37 1 0 1-8 1 7 1 23 1-23 1 12 1 17 1 8 1 9 1-6 1-9 1 5 1 17 1 26 1 7 1 25 1-3 1 0 1 3 1-20 1 18 1-9 1 6 1 33M0 444l1 2 1 1 1 0 1-4 1 22 1-29 1-3 1 26 1 20 1 57 1 33 1 64 1 75 1-55 1-98 1-59 1-63 1 1 1-40 1-17 1-26 1 5 1-14 1-7 1-13 1 1 1 11 1-2 1 38 1-9 1-9 1 22 1-6 1 14 1 4 1-1 1 29 1 1 1 16 1-8 1-13 1 0 1 6 1 8 1 9 1 11M0 445l1-15 1 2 1 34 1 3 1-15 1 14 1 3 1-1 1 19 1 47 1 43 1 53 1 49 1-78 1-62 1-47 1-59 1-19 1-12 1-46 1-3 1-24 1-13 1 5 1 14 1-10 1-4 1 5 1 0 1 16 1 1 1 11 1 14 1 3 1 24 1-6 1 0 1 36 1 14 1-9 1 7 1-2 1-8 1 10 1 3 1 14M0 433l1-4 1-5 1 3 1 1 1 2 1 0 1 2 1 2 1 26 1 76 1 20 1 60 1 41 1-60 1-67 1-65 1-48 1-21 1-26 1-27 1-5 1-21 1 4 1-7 1-1 1 10 1 0 1-2 1 2 1 7 1 8 1 6 1 5 1 8 1 8 1 8 1 17 1 7 1 15 1 15 1-11 1-7 1 8 1-3 1 4 1 16M0 511l1-21 1 6 1 13 1-17 1 7 1 5 1-25 1 30 1-1 1 28 1 91 1 65 1 54 1-31 1-45 1-81 1-22 1-81 1-44 1-21 1-24 1-15 1-6 1 11 1 5 1 0 1-8 1 15 1 15 1 4 1 22 1-28 1 45 1-5 1-12 1-8 1 32 1 13 1 0 1 3 1 6 1-4 1 17 1 2 1-4 1-16M0 519l1-8 1 21 1 1 1-25 1-7 1 9 1-4 1 11 1 21 1-2 1 106 1 105 1 48 1-14 1-81 1-28 1-75 1-56 1-63 1-42 1-1 1-19 1-8 1-7 1 14 1 15 1-6 1 15 1-2 1-6 1 9 1 18 1 13 1 18 1-10 1 4 1 10 1 14 1 0 1-8 1-9 1 27 1 11 1-13 1 19 1-6M0 511l1-14 1-8 1-12 1 15 1 8 1 7 1 1 1-2 1 13 1 17 1 80 1 93 1 36 1 8 1-58 1-51 1-67 1-75 1-39 1-29 1-31 1-18 1-17 1 3 1 5 1 10 1 2 1 16 1 3 1-14 1 11 1 3 1 1 1 19 1 26 1-9 1-11 1 20 1 50 1-19 1 3 1-5 1 12 1 13 1-9 1 12M0 450l1-15 1 11 1-3 1 9 1-11 1 9 1 3 1-2 1 18 1 67 1 37 1 73 1 37 1-47 1-35 1-89 1-49 1-24 1-38 1-27 1-22 1 6 1-17 1-10 1 9 1 17 1 9 1-9 1 8 1 4 1 0 1 12 1 8 1 3 1 25 1-11 1 21 1 21 1 13 1-14 1-9 1-19 1 10 1 32 1-25 1-9M0 516l1-23 1 8 1 9 1-15 1 18 1-15 1 18 1 1 1-3 1 22 1 79 1 94 1 44 1-25 1-46 1-40 1-87 1-51 1-49 1-29 1-11 1-2 1-20 1-1 1-27 1 17 1 24 1-6 1 31 1-22 1 32 1-6 1-3 1 11 1 10 1 0 1-1 1 14 1 26 1 6 1 15 1-15 1-3 1 0 1 8 1 8M0 543l1-2 1 6 1-11 1-13 1 14 1 1 1-1 1 3 1-4 1 0 1 106 1 106 1 51 1-6 1-45 1-107 1-23 1-88 1-56 1-8 1-29 1-29 1 11 1-6 1 6 1 8 1 17 1 13 1 1 1 17 1-13 1 13 1-2 1 19 1-2 1 4 1 20 1-7 1-4 1 18 1 1 1-2 1 4 1 17 1-11 1 1M0 475l1 6 1 9 1-10 1 17 1-16 1 3 1 6 1 33 1-22 1 35 1 91 1 71 1 51 1-31 1-90 1-46 1-74 1-34 1-62 1-9 1-43 1 1 1 14 1 0 1-3 1 2 1 2 1 42 1-10 1-1 1-6 1 4 1 19 1 0 1 0 1 8 1 10 1 13 1 2 1 6 1-2 1 22 1-2 1-5 1 8 1 1M0 430l1 18 1-2 1 7 1-14 1-9 1 1 1 14 1-8 1 24 1 75 1 34 1 58 1 42 1-60 1-72 1-61 1-59 1-23 1-16 1-36 1-16 1-13 1 5 1 3 1 9 1 6 1 5 1 2 1-15 1 18 1-9 1 39 1-4 1 7 1-13 1 24 1 17 1-18 1 6 1 6 1 4 1 21 1 20 1-24 1 14 1-5M0 525l1 11 1 13 1-5 1 3 1-4 1 1 1-2 1-2 1-2 1-2 1 106 1 106 1 50 1-4 1-46 1-58 1-70 1-63 1-65 1-32 1-29 1-5 1-10 1 0 1 21 1 0 1 18 1 14 1 8 1 5 1 0 1-9 1 15 1 10 1 4 1 2 1 11 1 3 1 9 1 1 1-6 1 13 1 4 1 3 1-5 1 7M0 486l1 22 1-27 1 16 1-18 1-6 1 1 1 18 1-1 1 10 1 35 1 62 1 81 1 39 1-22 1-49 1-106 1-37 1-8 1-62 1-25 1-26 1-13 1 0 1-12 1 12 1-8 1 21 1-8 1 26 1 21 1-21 1 22 1 1 1 26 1-6 1 4 1 6 1 24 1-23 1 22 1 4 1-5 1 2 1 15 1 7 1 15M0 421l1 4 1 8 1 2 1 19 1 18 1-11 1-26 1 20 1 13 1 68 1 45 1 66 1 32 1-52 1-50 1-65 1-23 1-98 1-24 1-22 1-3 1-10 1 3 1-21 1 5 1 13 1 0 1-1 1 10 1 26 1-29 1 34 1 3 1-7 1 20 1 5 1 21 1-11 1 20 1-12 1 12 1 10 1-3 1 8 1-7 1 17M0 439l1 3 1 4 1-6 1 15 1-3 1 6 1-18 1-2 1 30 1 68 1 38 1 75 1 50 1-30 1-63 1-101 1-41 1-47 1-24 1-38 1 1 1-12 1-12 1-15 1 12 1-1 1 10 1-4 1 3 1 20 1 23 1-18 1 7 1 16 1 5 1 3 1 37 1-16 1 11 1-4 1 6 1-18 1 23 1 2 1-5 1 28M0 453l1-6 1 19 1-1 1-3 1-13 1-1 1 12 1 5 1 4 1 67 1 48 1 105 1 14 1-88 1-23 1-75 1-72 1-8 1-39 1-33 1-25 1-2 1 2 1-18 1 24 1-11 1 27 1 3 1-1 1 10 1-4 1 9 1 28 1-8 1 17 1-9 1 10 1 20 1-13 1 14 1-19 1 3 1 10 1 20 1 10 1-11M0 470l1-18 1 14 1 16 1 6 1-15 1-5 1-8 1 5 1 20 1 51 1 60 1 63 1 55 1-26 1-80 1-70 1-53 1-61 1-21 1-15 1-1 1-21 1-14 1-4 1 10 1 10 1-12 1 10 1 13 1-23 1 36 1 0 1 17 1 2 1 2 1 7 1 12 1 15 1-3 1-9 1 3 1-1 1 19 1-8 1 25 1-1M0 486l1-13 1-4 1 10 1 5 1-16 1 27 1-6 1-18 1 17 1 48 1 64 1 85 1 63 1-34 1-35 1-85 1-94 1-20 1-67 1-16 1-18 1-25 1-9 1 1 1 11 1 18 1-3 1 24 1 2 1-13 1-3 1 11 1 2 1 11 1 20 1 6 1 15 1-9 1-2 1-6 1-4 1 13 1 13 1 4 1 7 1 26M0 421l1 0 1 1 1 11 1-2 1 10 1-11 1 14 1 17 1 1 1 74 1 26 1 62 1 32 1-60 1-60 1-72 1-47 1-26 1-26 1-22 1-19 1-11 1-2 1-1 1 6 1-2 1 10 1 2 1-5 1 6 1 12 1 6 1 19 1-5 1 12 1 2 1 8 1 7 1 7 1 5 1 5 1 4 1 2 1 2 1 4 1 6M0 430l1-10 1 3 1 6 1 9 1-7 1-1 1-2 1 7 1 25 1 76 1 21 1 56 1 43 1-55 1-71 1-66 1-47 1-26 1-26 1-24 1-16 1-10 1-6 1-2 1 2 1 3 1 2 1 3 1 8 1 2 1 22 1-5 1 5 1 9 1 13 1 15 1 13 1-2 1 0 1 5 1 4 1 2 1 11 1 13 1-10 1 0M0 435l1 4 1 5 1 8 1-5 1-12 1 20 1 19 1-25 1 27 1 60 1 43 1 55 1 49 1-47 1-67 1-23 1-38 1-51 1-53 1-32 1-9 1-18 1 9 1 3 1-14 1 11 1 16 1 1 1-17 1 5 1 6 1 12 1 7 1 5 1 20 1 20 1-10 1-12 1 20 1 6 1 10 1-7 1 8 1-7 1 20 1 18M0 419l1 3 1 4 1 9 1 5 1 5 1 25 1-21 1-4 1 26 1 65 1 37 1 54 1 30 1-61 1-51 1-48 1-34 1-40 1-47 1-17 1-22 1 12 1-36 1 18 1 4 1 0 1-4 1-5 1-3 1 4 1 35 1 12 1 5 1 4 1-17 1 10 1 15 1 23 1-12 1 12 1 2 1 4 1-5 1 11 1 5 1-9M0 551l1-4 1 3 1-6 1-2 1 2 1 0 1-2 1-2 1-2 1-2 1 106 1 106 1 52 1-6 1-46 1-60 1-68 1-60 1-69 1-25 1-26 1-12 1-8 1 0 1 15 1 1 1-6 1 28 1-1 1 23 1 3 1 5 1-3 1 8 1 10 1 7 1 1 1 10 1 3 1 5 1 2 1 3 1 4 1 5 1 3 1 8M0 441l1-13 1 10 1-6 1 8 1 8 1-12 1-7 1 9 1 32 1 66 1 33 1 74 1 30 1-42 1-88 1-52 1-29 1-54 1-31 1-16 1-16 1-10 1-9 1-17 1 8 1-5 1 10 1-5 1 23 1 29 1-1 1-12 1 4 1 22 1 11 1-7 1 24 1 8 1 5 1-6 1 4 1-5 1 8 1-3 1 20 1-1M0 504l1 2 1-17 1 20 1-2 1-8 1-7 1-1 1 3 1 15 1 27 1 79 1 92 1 33 1 23 1-70 1-66 1-67 1-60 1-49 1-17 1-29 1-24 1 3 1-23 1 17 1 8 1 13 1-12 1 11 1 1 1 10 1 20 1 5 1 3 1 26 1 1 1-19 1 6 1 23 1 11 1 5 1 2 1-10 1 5 1-7 1 3M0 428l1 2 1 4 1-2 1 17 1-7 1 16 1 2 1-17 1 32 1 61 1 45 1 64 1 20 1-69 1-65 1-67 1-25 1-46 1-22 1-14 1-19 1-8 1-8 1 5 1-10 1 11 1-12 1 12 1-5 1 9 1 21 1 20 1-22 1 8 1 7 1 27 1-5 1 19 1-1 1-5 1 11 1-3 1 16 1 11 1 13 1-17M0 551l1-6 1 6 1-1 1-3 1-3 1-2 1 0 1-2 1-2 1-2 1 106 1 106 1 52 1-6 1-46 1-58 1-70 1-60 1-54 1-41 1-22 1-19 1-5 1 0 1 20 1 9 1 6 1 11 1 8 1 9 1-1 1-5 1 2 1 21 1 3 1 7 1 4 1 9 1 5 1 3 1 2 1 4 1 4 1 3 1 2 1 4M0 455l1 19 1 6 1 5 1-16 1 7 1 6 1 9 1-8 1 17 1 36 1 69 1 73 1 36 1-60 1-48 1-19 1-88 1-41 1-28 1-26 1-23 1-18 1-6 1 0 1 11 1 2 1 13 1-23 1 25 1-1 1 9 1 3 1 17 1 5 1 15 1-7 1 13 1 21 1 12 1-11 1 3 1-3 1 2 1 3 1 17 1 3M0 551l1-5 1 3 1-3 1-8 1-1 1 3 1 2 1-2 1-2 1-2 1 106 1 106 1 51 1-7 1-44 1-58 1-70 1-60 1-58 1-39 1-21 1-14 1-10 1 0 1 11 1 12 1 8 1 14 1 13 1 6 1 5 1 4 1 2 1 6 1 5 1 6 1 5 1 6 1 7 1 2 1-1 1 5 1 4 1 1 1 6 1 9M0 453l1-6 1 9 1 1 1-7 1 4 1 20 1-24 1-4 1 32 1 58 1 59 1 50 1 27 1-49 1-26 1-56 1-54 1-43 1-29 1-53 1-10 1 4 1-21 1 4 1 14 1 10 1-8 1 23 1-3 1 10 1-18 1 1 1 3 1 36 1-28 1-1 1 33 1 11 1-25 1 18 1 11 1 22 1-22 1 6 1 22 1 9M0 431l1-9 1 21 1-6 1 15 1 1 1-15 1 0 1 11 1 24 1 63 1 50 1 61 1 37 1-76 1-73 1-49 1-46 1-47 1-21 1-28 1-18 1 7 1-18 1-4 1 11 1 3 1 3 1-10 1 8 1 6 1 5 1 8 1 8 1 22 1 27 1-4 1 18 1-4 1-15 1 11 1 21 1 11 1-18 1 26 1-16 1-5"/>
</g>
<g clip-path="url(#cb1)" fill="none" stroke-linejoin="round">
<path d="M138.9 581.9L156.8 581.9L174.6 581.9L192.4 581.9L210.3 581.4L228.1 581.0L246.0 580.5L263.8 580.0L281.7 587.1L299.5 631.3L317.3 691.6L335.2 639.2L353.0 584.5L370.9 565.9L388.7 565.0L406.6 567.8L424.4 568.6L442.2 569.5L460.1 570.3L477.9 568.2L495.8 565.2L513.6 562.2L531.5 559.0L549.3 555.7L567.1 552.5L585.0 553.4L602.8 554.4L620.7 555.4L638.5 556.4L656.4 557.3L674.2 558.3L692.0 559.3L709.9 560.2L727.7 561.2L745.6 562.2L763.4 563.0L781.3 563.8L799.1 564.7L816.9 565.5L834.8 566.3L852.6 567.1L870.5 568.8L888.3 570.4L906.2 572.1L924.0 573.8L941.8 575.4L959.7 577.1L959.7 655.9L941.8 654.6L924.0 653.2L906.2 651.9L888.3 650.6L870.5 649.2L852.6 647.9L834.8 647.5L816.9 647.2L799.1 646.8L781.3 646.5L763.4 646.1L745.6 645.8L727.7 645.8L709.9 645.8L692.0 645.7L674.2 645.7L656.4 645.7L638.5 645.6L620.7 645.6L602.8 645.6L585.0 645.6L567.1 645.5L549.3 646.3L531.5 647.0L513.6 647.8L495.8 650.3L477.9 652.8L460.1 657.7L442.2 662.5L424.4 667.4L406.6 672.2L388.7 677.0L370.9 675.1L353.0 679.5L335.2 684.8L317.3 691.6L299.5 680.7L281.7 665.9L263.8 658.0L246.0 656.7L228.1 655.5L210.3 654.3L192.4 653.1L174.6 653.1L156.8 653.1L138.9 653.1Z" fill="#A0A0A0"/>
<path transform="translate(138.91 0) scale(17.8430 0.5)" vector-effect="non-scaling-stroke" stroke="#A0A0A0" stroke-width="1.2" d="M0 1231l1-1 1 4 1-24 1 1 1 0 1 7 1-5 1 26 1 59 1 85 1-87 1-68 1-17 1-11 1 17 1-7 1-4 1-18 1-8 1-1 1-1 1-9 1 9 1 10 1-12 1 5 1-17 1 8 1-8 1 3 1 6 1 1 1 13 1-8 1-2 1 7 1 1 1 4 1 0 1-6 1 11 1 4 1 11 1 14 1-5 1-7M0 1209l1-15 1 20 1 5 1 20 1-9 1 3 1 0 1 11 1 66 1 73 1-65 1-67 1-56 1-5 1-1 1 24 1 4 1 3 1-3 1-12 1 9 1-12 1-24 1 3 1 13 1-2 1 2 1 8 1 12 1-1 1 11 1-6 1 14 1-24 1 6 1-2 1-3 1-15 1 11 1-3 1-8 1-1 1 3 1 7 1-4 1-3M0 1257l1 17 1-7 1 4 1 14 1-6 1 6 1-1 1 11 1 50 1 38 1-42 1-62 1-18 1 19 1-7 1 4 1-16 1 6 1-11 1-12 1 11 1-7 1 1 1-6 1 5 1-3 1-15 1 4 1 5 1 3 1-4 1 18 1-12 1 0 1 1 1-11 1-10 1 12 1 8 1 2 1-13 1 3 1 8 1 11 1 14 1 4M0 1304l1-24 1 9 1-5 1 6 1 3 1-8 1-5 1 22 1 41 1 40 1-28 1-3 1-19 1 26 1-28 1-7 1-2 1-29 1-20 1 1 1 6 1 10 1-2 1 4 1-20 1-7 1 15 1-10 1-3 1-19 1 3 1-12 1 10 1 19 1 4 1 1 1-5 1 6 1-11 1-2 1 26 1-13 1-2 1-9 1 19 1 1M0 1164l1 13 1 7 1 5 1-3 1 6 1 8 1 1 1-6 1 69 1 119 1-104 1-120 1-43 1 8 1 3 1-5 1 22 1 10 1 5 1 2 1 6 1-12 1-12 1-28 1 2 1-2 1 16 1 9 1 15 1 8 1 6 1-1 1-4 1-8 1-2 1-10 1 5 1 1 1-19 1-18 1 6 1 8 1 8 1 22 1-1 1-6M0 1265l1 11 1-14 1-5 1-3 1 14 1 4 1-2 1 19 1 41 1 53 1-46 1-52 1-23 1 8 1-1 1 11 1-2 1-13 1-34 1-17 1-5 1-3 1-12 1-1 1 9 1-1 1 5 1 4 1-3 1-4 1 5 1 8 1-7 1-14 1 0 1 14 1-9 1 18 1-1 1 6 1-1 1 12 1 5 1 7 1-15 1 14M0 1152l1 5 1-2 1 4 1 0 1-1 1-10 1 9 1 23 1 81 1 122 1-110 1-124 1-36 1 10 1 13 1 15 1 0 1-15 1-13 1 0 1 12 1-15 1-19 1 8 1-3 1 7 1 9 1-14 1-3 1-4 1 9 1 8 1-5 1 8 1-17 1 8 1 6 1 2 1-11 1 5 1-3 1 20 1 1 1 2 1 4 1 9M0 1243l1-10 1 10 1-6 1 7 1 1 1 8 1-3 1-1 1 54 1 80 1-57 1-63 1-22 1 17 1-13 1-2 1-3 1-12 1-5 1 4 1 2 1-11 1 24 1-10 1-10 1-13 1-11 1 10 1-30 1 6 1-7 1 7 1 6 1-7 1-2 1 21 1-2 1 4 1 1 1 11 1 14 1 9 1 3 1 4 1-13 1 15M0 1196l1 0 1-4 1 7 1 8 1 11 1-3 1-7 1 12 1 65 1 98 1-74 1-86 1-34 1 10 1 4 1 5 1-14 1-12 1 10 1-14 1-5 1-3 1-24 1-2 1-1 1 12 1 0 1-19 1 17 1-20 1 6 1 3 1 3 1 9 1 15 1-5 1-1 1 12 1 8 1 7 1 5 1-2 1-2 1-1 1 13 1 15M0 1309l1 1 1 3 1 1 1-5 1 23 1 9 1-1 1 12 1 19 1 12 1-9 1 5 1 12 1 11 1-7 1-28 1-48 1 10 1-7 1-5 1 10 1-13 1-11 1-7 1 20 1 8 1-21 1 17 1-2 1 1 1-9 1 15 1-1 1 3 1-9 1 3 1-1 1-3 1-8 1-5 1-6 1 1 1 7 1 12 1-11 1-2M0 1184l1 3 1 2 1 2 1 7 1 9 1 7 1 0 1 18 1 60 1 91 1-78 1-75 1-3 1-11 1-17 1 0 1-8 1-10 1 10 1 12 1-8 1-17 1-5 1-8 1-15 1 12 1 5 1 13 1-9 1 0 1-1 1-16 1 30 1-23 1-7 1 3 1-9 1 12 1 2 1 6 1 8 1 6 1 5 1 3 1 7 1 11M0 1216l1-2 1 4 1-2 1-2 1-11 1 22 1-11 1 32 1 65 1 72 1-58 1-58 1-25 1 3 1 3 1 6 1-24 1-3 1 6 1 1 1-24 1-5 1-5 1-5 1-27 1 14 1-16 1 29 1 6 1-4 1 6 1-1 1-7 1-1 1 5 1-8 1 9 1 11 1 9 1 7 1 9 1 1 1 8 1-5 1 0 1 10M0 1321l1-11 1 20 1 4 1 7 1 2 1 1 1-1 1 10 1 19 1 11 1 0 1 4 1-11 1-2 1-12 1-42 1 4 1 13 1-15 1-3 1-1 1-11 1 7 1-9 1-2 1 6 1 1 1 2 1-8 1 10 1-11 1 11 1-4 1-11 1 4 1-7 1 1 1 4 1 12 1 8 1 5 1-1 1-11 1 4 1 2 1 4M0 1205l1 9 1-12 1 2 1 13 1-7 1-9 1 1 1 14 1 76 1 91 1-71 1-68 1-36 1-7 1 5 1-10 1 14 1-9 1-8 1-16 1-7 1-13 1-5 1-20 1 10 1 28 1-19 1 25 1-1 1 11 1-12 1 23 1-14 1-1 1 17 1-16 1-21 1 6 1-1 1-3 1 0 1-4 1 26 1 18 1-11 1 5M0 1229l1-11 1 13 1-4 1-10 1-1 1-5 1 22 1 12 1 57 1 81 1-61 1-80 1-50 1 22 1 7 1-11 1-4 1 9 1-38 1 13 1-8 1 4 1-7 1 30 1-16 1 8 1-34 1 4 1 11 1-17 1-16 1 10 1 17 1 15 1-7 1 5 1-14 1 22 1-6 1 13 1-2 1-2 1 18 1-10 1 15 1-5M0 1182l1 13 1-1 1-3 1-14 1 15 1 9 1 1 1 20 1 48 1 113 1-94 1-92 1-37 1 6 1-4 1-3 1-10 1 9 1-7 1-6 1 14 1-6 1-6 1-22 1 0 1 18 1 8 1 2 1-2 1 3 1 5 1-3 1-24 1 28 1 13 1-3 1 13 1-17 1 14 1 0 1 9 1-5 1 2 1 7 1 10 1 3M0 1248l1 17 1 0 1-4 1-3 1-10 1-3 1-10 1 24 1 59 1 65 1-56 1-56 1-25 1 22 1-21 1-17 1 19 1 2 1-24 1 14 1 10 1 6 1-32 1-1 1-9 1 1 1-14 1 26 1-6 1 5 1 10 1 6 1 2 1-7 1 2 1-3 1-22 1 16 1-4 1-1 1 2 1-7 1-3 1-7 1 17 1 21M0 1223l1 15 1-2 1-14 1-12 1 9 1 19 1-2 1 10 1 62 1 75 1-67 1-60 1-31 1 19 1-14 1 9 1 0 1-9 1-10 1-8 1 14 1-15 1 9 1 4 1-8 1 16 1-33 1 5 1 3 1 1 1 10 1-6 1-1 1 13 1-3 1-12 1 8 1 0 1-5 1 8 1-5 1-5 1 4 1 5 1 6 1-6M0 1325l1-1 1 0 1-23 1 15 1-6 1 10 1-7 1 29 1 23 1 18 1-3 1 10 1-24 1-5 1-6 1-12 1 1 1-19 1-29 1-9 1 0 1 9 1 10 1 13 1-1 1-6 1 6 1-5 1-7 1-5 1 10 1 11 1 5 1-18 1 9 1-13 1-3 1 8 1-14 1-8 1 0 1 25 1 12 1-8 1 5 1 3M0 1240l1 15 1-5 1 7 1-15 1 6 1 4 1 14 1-13 1 65 1 65 1-50 1-35 1 6 1 4 1-6 1-1 1-13 1-3 1-12 1-21 1-21 1 8 1 0 1-15 1-1 1 16 1-24 1-8 1 12 1 10 1-13 1-8 1 6 1 18 1 0 1-24 1 16 1 2 1-3 1-8 1 19 1 5 1 7 1 5 1 5 1 9M0 1303l1 3 1-1 1 17 1-1 1-12 1 5 1-1 1 12 1 32 1 26 1-29 1 7 1-6 1-6 1 4 1 7 1-33 1-12 1-4 1-12 1 4 1-14 1-4 1 2 1 10 1 2 1-6 1-1 1-20 1 31 1-4 1-2 1 5 1 6 1 3 1-8 1-15 1 3 1-3 1 0 1 8 1 8 1 17 1 0 1-14 1 12M0 1257l1 11 1 4 1-3 1 6 1 7 1 7 1 12 1 12 1 35 1 35 1-24 1-29 1-20 1 13 1 4 1-30 1 6 1-24 1 19 1-18 1 3 1-10 1 3 1-15 1 0 1-1 1 1 1 8 1-8 1-4 1-13 1 3 1-2 1 13 1 8 1-8 1 6 1 14 1-5 1-13 1 28 1 3 1 5 1 21 1-15 1 0M0 1150l1 2 1-8 1-7 1-1 1-1 1 13 1-5 1 12 1 94 1 134 1-122 1-139 1-33 1-6 1 9 1 7 1 2 1 4 1-1 1-10 1-6 1-6 1-14 1-16 1 20 1-1 1 10 1-4 1 8 1-8 1-5 1 0 1 4 1 4 1 4 1 9 1 1 1 12 1-3 1 9 1 16 1 17 1-22 1 19 1-15 1 15M0 1239l1-10 1 9 1 5 1-6 1-6 1 10 1 9 1 19 1 48 1 66 1-51 1-47 1-11 1-5 1-20 1-3 1-2 1-14 1-3 1-16 1-2 1-11 1 21 1 5 1-3 1-20 1-13 1 12 1-1 1 5 1-16 1-11 1 9 1 4 1-8 1 0 1 16 1 0 1 10 1 19 1 3 1 1 1-6 1 14 1-14 1-7M0 1214l1 14 1-4 1 7 1-2 1 0 1 2 1-17 1 10 1 71 1 88 1-54 1-50 1-39 1 13 1 10 1-2 1 18 1-33 1-23 1-9 1-16 1-1 1 3 1-4 1 2 1 5 1 9 1-10 1-7 1 16 1-5 1-8 1 5 1-2 1 4 1 1 1 8 1 9 1-10 1-11 1 22 1-6 1-12 1-11 1 10 1 3M0 1137l1-4 1 9 1 3 1-1 1-11 1 0 1 6 1 17 1 101 1 126 1-108 1-113 1-50 1 14 1 5 1 7 1-16 1-7 1-3 1-11 1 0 1-3 1 5 1-3 1-15 1 12 1-7 1-6 1 4 1 4 1 13 1 30 1-3 1 9 1-10 1-1 1-9 1-6 1 14 1 2 1 4 1-9 1 19 1-4 1-6 1 3M0 1276l1 11 1-15 1-5 1 15 1 19 1-12 1-4 1-2 1 43 1 57 1-47 1-57 1-1 1 4 1-6 1 8 1-11 1-20 1-4 1 19 1-8 1 0 1-9 1-7 1 5 1-32 1-7 1 2 1 5 1 23 1 27 1 1 1-2 1 2 1 10 1-17 1-8 1 1 1 3 1-20 1 10 1-11 1 16 1 12 1-19 1 12M0 1235l1 11 1 17 1-1 1-13 1-13 1-8 1-5 1 32 1 61 1 67 1-50 1-52 1-21 1-12 1-9 1 0 1-16 1 19 1-7 1-12 1 5 1-17 1 9 1-4 1 20 1-12 1-7 1-10 1-11 1 8 1-8 1 9 1-3 1 16 1-25 1 12 1 5 1 4 1-3 1 21 1-3 1 7 1-1 1-1 1 4 1 10M0 1174l1-11 1 8 1-5 1-4 1 9 1 2 1 4 1 13 1 85 1 108 1-99 1-99 1-38 1-2 1 11 1-6 1-8 1 18 1 14 1-14 1 4 1-6 1-18 1-17 1-1 1-1 1 0 1 3 1-8 1 16 1-9 1-6 1 17 1 12 1 16 1-2 1-8 1 12 1-3 1-2 1-7 1 8 1-20 1 14 1-13 1 19M0 1168l1 19 1-9 1-15 1 15 1-10 1-14 1 11 1-13 1 93 1 138 1-122 1-140 1-25 1 14 1 9 1 0 1-8 1 11 1-7 1 3 1 6 1-7 1-31 1-12 1 23 1 6 1 17 1-26 1 4 1 3 1-12 1 2 1 17 1 10 1-4 1 7 1 14 1-12 1 5 1 12 1-6 1 15 1-1 1 12 1 8 1 0M0 1211l1 4 1 3 1 13 1-3 1 1 1 15 1-2 1 14 1 64 1 63 1-56 1-55 1-32 1-20 1-20 1 0 1 14 1 8 1 7 1-3 1-19 1-24 1-9 1-6 1-5 1 16 1-7 1 10 1 10 1-20 1 0 1 18 1 10 1-1 1-12 1-5 1 5 1 16 1 4 1-2 1 3 1 9 1-17 1-5 1 7 1 17M0 1275l1 3 1-4 1-1 1 6 1 1 1-1 1-7 1 6 1 53 1 52 1-31 1-36 1-21 1 26 1-2 1 1 1-19 1-16 1-20 1 9 1-17 1-17 1-4 1 19 1 3 1 4 1 2 1 0 1-1 1-14 1 22 1-2 1 12 1-19 1 7 1-11 1-10 1 9 1 15 1 14 1 12 1-6 1 7 1-8 1-4 1 5M0 1239l1-19 1 12 1-6 1 14 1 8 1-14 1-1 1 21 1 52 1 77 1-69 1-59 1-13 1-7 1 8 1 10 1-1 1-20 1-19 1-3 1 3 1-3 1-11 1-16 1 17 1-3 1 20 1-18 1-4 1-6 1 22 1 10 1-10 1-22 1 16 1 1 1-11 1-11 1 10 1 2 1 8 1 8 1 0 1 1 1 11 1 2M0 1230l1-20 1 14 1 3 1-8 1 0 1 12 1 4 1-5 1 63 1 90 1-62 1-58 1-31 1 6 1-6 1-10 1 0 1-28 1 9 1 0 1-11 1-13 1-16 1 4 1 6 1 5 1 21 1-26 1-4 1-2 1 16 1 0 1-7 1 7 1 8 1 18 1 0 1-6 1-6 1-6 1 10 1 11 1 0 1 1 1 16 1 0M0 1245l1-2 1-15 1-4 1 13 1 18 1 0 1-8 1 20 1 63 1 53 1-39 1-41 1-36 1-8 1-2 1 27 1-4 1-13 1-8 1-5 1-13 1-5 1-6 1 6 1 16 1 10 1-11 1 2 1-13 1-13 1 3 1 8 1-1 1 9 1 7 1 4 1-5 1-16 1 20 1-8 1 9 1 4 1-3 1 18 1 4 1-3M0 1203l1-8 1 10 1-1 1-1 1 8 1-2 1 8 1 9 1 67 1 90 1-75 1-68 1-20 1-2 1-23 1-13 1-7 1-7 1 12 1-10 1-13 1-3 1 0 1-18 1 17 1 15 1-4 1 13 1-15 1 0 1 4 1 6 1 16 1-4 1-8 1 6 1 4 1 6 1-2 1 3 1-2 1 9 1-3 1-2 1 17 1-5M0 1242l1-4 1 7 1-8 1 10 1-16 1-10 1 5 1 31 1 67 1 59 1-57 1-64 1-51 1 18 1-3 1 16 1-2 1-12 1-14 1-6 1 1 1-9 1 28 1-7 1-18 1 1 1 12 1 2 1-7 1-8 1-7 1-9 1 1 1 8 1-1 1 21 1 3 1-5 1 1 1 15 1-17 1 6 1 30 1 6 1-13 1 1M0 1260l1-15 1-8 1-6 1-14 1-27 1 6 1 12 1 15 1 76 1 84 1-62 1-85 1-3 1 10 1 3 1-9 1-8 1-12 1-3 1 2 1-15 1 3 1-12 1 1 1-3 1 9 1 19 1-5 1-10 1-7 1 6 1-7 1 11 1 1 1 7 1-9 1-10 1-5 1 7 1-5 1 12 1-16 1 2 1 7 1-10 1 5M0 1163l1-1 1 7 1-9 1-14 1-1 1 4 1 3 1 18 1 98 1 115 1-104 1-119 1-44 1 16 1 10 1-29 1 21 1-15 1-3 1 8 1-3 1 1 1 2 1-6 1-15 1 7 1-6 1-21 1 7 1 14 1 6 1 5 1 21 1 2 1 7 1 0 1 14 1-9 1 8 1 13 1-9 1 7 1-16 1 4 1 8 1-8M0 1152l1-3 1 2 1 2 1 6 1 11 1-2 1-21 1 20 1 93 1 123 1-100 1-108 1-48 1 1 1-17 1 15 1 2 1 19 1-3 1-7 1-10 1-23 1-8 1-4 1 13 1 3 1 6 1 5 1-9 1 2 1-2 1-12 1-9 1 14 1 18 1 13 1-12 1 15 1 12 1-13 1 4 1 16 1-3 1 9 1-9 1-4M0 1277l1 2 1 1 1-9 1 17 1-1 1-2 1-3 1 18 1 36 1 47 1-32 1-21 1-27 1-9 1-13 1 2 1-18 1 9 1-10 1 7 1-10 1 7 1-15 1-14 1 12 1-5 1 15 1-8 1 7 1-9 1-16 1 22 1-1 1 11 1 1 1-18 1 8 1 12 1 12 1 13 1-1 1-5 1-1 1-12 1 10 1 8M0 1243l1 8 1-4 1 13 1-6 1-3 1-1 1-7 1 11 1 60 1 69 1-52 1-46 1-15 1-10 1 2 1-4 1-3 1-21 1-4 1-22 1 0 1-7 1-4 1-1 1 17 1 17 1-1 1-12 1 19 1-17 1-3 1 1 1-4 1 19 1 4 1 10 1-5 1 7 1-4 1-3 1 5 1 5 1 6 1-3 1-13 1 2M0 1125l1-3 1 1 1-7 1 4 1-3 1-5 1 1 1 28 1 100 1 142 1-125 1-139 1-34 1-3 1 10 1 7 1 2 1 5 1-3 1-7 1-13 1-12 1-14 1-4 1 0 1 15 1-12 1 5 1-5 1 15 1 12 1-10 1 6 1 1 1-7 1 0 1 3 1 5 1 1 1 4 1 6 1 6 1 3 1 7 1 7 1 6M0 1326l1-3 1 10 1-10 1-9 1-4 1-3 1 22 1 14 1 23 1 17 1-2 1 1 1-15 1 4 1 2 1-20 1 1 1-14 1-18 1-3 1 10 1-10 1 8 1-3 1-5 1-6 1 4 1 0 1-2 1 1 1-14 1-9 1-10 1 0 1 1 1 0 1 9 1-8 1 1 1 12 1 19 1-1 1 10 1 8 1-11 1 2M0 1181l1 4 1-10 1 7 1-1 1-1 1 5 1-8 1 0 1 91 1 115 1-100 1-112 1-41 1-7 1 0 1 3 1 3 1 12 1 34 1-15 1-23 1 3 1-18 1-12 1 4 1 8 1 6 1 7 1 1 1 15 1 8 1-7 1-2 1-13 1 12 1 0 1 21 1-9 1 15 1-12 1-15 1-2 1 11 1 16 1-6 1 14M0 1203l1-1 1 16 1-1 1 1 1-15 1 3 1 4 1 30 1 56 1 87 1-82 1-90 1-16 1-10 1 22 1-3 1-13 1-7 1-16 1-15 1 14 1 7 1-16 1-7 1 22 1-8 1 4 1 6 1-2 1-1 1-2 1 3 1-14 1 6 1 6 1-10 1 11 1-6 1-20 1-8 1 16 1 17 1 4 1-5 1 8 1 18M0 1212l1 8 1 1 1 1 1 3 1 7 1-1 1-8 1 16 1 66 1 78 1-66 1-67 1-35 1 9 1-5 1-37 1 21 1-4 1-12 1-14 1-7 1-10 1 4 1 6 1 6 1 11 1-6 1 12 1 2 1 7 1 7 1-4 1 13 1 6 1-8 1 17 1 11 1-23 1-23 1-1 1 11 1 14 1 9 1 1 1 10 1 6M0 1215l1 8 1-8 1-7 1-6 1 16 1 5 1 5 1 8 1 64 1 83 1-69 1-59 1-31 1-5 1 4 1 3 1 11 1-16 1 5 1-22 1-18 1-29 1 9 1 13 1-15 1-1 1 1 1-14 1 8 1 9 1-2 1-6 1 8 1 10 1-11 1 4 1 10 1-24 1 12 1 23 1-10 1 18 1 0 1 8 1 0 1-8M0 1184l1-19 1-5 1 10 1-2 1-3 1-23 1-4 1 10 1 95 1 140 1-115 1-128 1-42 1 6 1 19 1-9 1 17 1 11 1-8 1-19 1 0 1 0 1 10 1-20 1 16 1-9 1 4 1-4 1 0 1 15 1-11 1 8 1-5 1 0 1-7 1 4 1-16 1 3 1 15 1 11 1-14 1-2 1 4 1 23 1-1 1 3M0 1227l1-9 1 3 1 5 1 9 1-11 1 9 1 16 1 17 1 54 1 63 1-61 1-43 1-14 1-3 1-2 1 22 1-30 1-18 1-1 1-9 1-34 1-1 1 0 1-16 1 8 1 4 1-18 1 11 1 27 1 15 1-19 1-15 1 3 1 5 1-12 1-3 1 19 1 3 1 11 1-2 1 11 1-7 1-3 1-7 1-13 1 6M0 1164l1 3 1 2 1 4 1-5 1-1 1 10 1-4 1 13 1 68 1 129 1-106 1-118 1-47 1 18 1-8 1 20 1 1 1-4 1-22 1 13 1-22 1-14 1 9 1-17 1 14 1 5 1 2 1-7 1 0 1 11 1-6 1 14 1 7 1 8 1 3 1 6 1 3 1 8 1 1 1 1 1-10 1-14 1 8 1 15 1-6 1-9M0 1212l1 6 1-5 1-12 1 1 1 8 1-1 1 9 1 7 1 74 1 84 1-72 1-87 1-19 1 41 1-7 1-14 1 5 1-13 1-29 1-16 1 11 1-24 1-18 1 10 1 6 1 16 1-12 1-6 1 1 1-9 1 5 1 5 1 14 1 1 1-2 1 8 1 13 1 8 1 0 1-7 1-4 1-10 1 7 1 5 1 20 1 3M0 1287l1-21 1-5 1 0 1 4 1-7 1 13 1 10 1 19 1 44 1 39 1-31 1-40 1-42 1 9 1 5 1-13 1-22 1-11 1-1 1-26 1 17 1 13 1-3 1 11 1-3 1-13 1 10 1 7 1-11 1-13 1-5 1 19 1-1 1 32 1-12 1 5 1 0 1-5 1 8 1-11 1 1 1-9 1-15 1 11 1-3 1-3M0 1259l1 4 1 15 1-3 1 2 1-13 1 9 1 8 1 2 1 51 1 49 1-40 1-40 1 14 1-15 1-15 1-7 1-11 1-26 1 3 1 6 1 11 1-14 1-19 1 5 1-11 1 3 1-2 1 5 1-3 1 10 1-9 1 28 1 4 1-12 1-11 1 0 1-3 1-5 1 18 1 10 1-11 1 9 1 2 1 9 1-6 1 23M0 1264l1-11 1 8 1-7 1 12 1-7 1-14 1-11 1 11 1 67 1 71 1-56 1-45 1-3 1-20 1 7 1 17 1-24 1-17 1-6 1-6 1-14 1-5 1 13 1 3 1-15 1-21 1-8 1 9 1-4 1-4 1 15 1 0 1 0 1 6 1 18 1 1 1 6 1-2 1 13 1-17 1-9 1-1 1 26 1 14 1-13 1-4M0 1262l1 8 1-7 1-15 1 10 1 14 1-15 1-15 1 17 1 49 1 75 1-58 1-43 1-20 1 8 1 8 1-8 1-17 1 7 1-23 1 13 1-12 1-8 1 3 1 2 1 6 1-18 1-6 1 9 1 7 1 0 1 15 1-4 1 9 1 8 1-1 1-6 1 5 1 1 1 3 1-13 1 6 1 17 1-6 1 1 1-2 1 9M0 1158l1-1 1-7 1-1 1 6 1-3 1 0 1 6 1 8 1 93 1 124 1-105 1-125 1-35 1 18 1-10 1 1 1 1 1 6 1-14 1-10 1 11 1-7 1-20 1-3 1-2 1 15 1-22 1 2 1 11 1-13 1-3 1 9 1 3 1 0 1 5 1-8 1-1 1 18 1-4 1 6 1 3 1 10 1 5 1 5 1 11 1 1M0 1147l1 14 1 8 1-5 1-17 1-5 1 20 1 8 1 21 1 68 1 124 1-117 1-132 1-34 1-7 1 16 1 5 1 1 1 11 1 2 1-5 1-10 1-7 1-26 1-20 1 4 1 10 1 26 1 7 1-10 1-1 1-7 1 6 1 5 1 5 1 7 1 13 1 7 1-13 1 11 1-10 1 8 1 4 1 20 1-2 1-1 1-1M0 1281l1-4 1 8 1 16 1 10 1 8 1-12 1-5 1 13 1 23 1 45 1-34 1-28 1-31 1 8 1 7 1-2 1-19 1-14 1 4 1-7 1-4 1 7 1-33 1 5 1 17 1 19 1 2 1-14 1 8 1 15 1-15 1-11 1-3 1-4 1-19 1-17 1-2 1 5 1 15 1 2 1 10 1 20 1 31 1 4 1-14 1 8M0 1241l1 7 1 4 1-15 1-9 1 5 1 9 1 20 1 15 1 44 1 62 1-59 1-75 1-37 1 1 1 8 1-7 1 3 1-2 1-5 1-7 1 1 1-2 1-31 1 6 1 8 1-1 1 7 1-3 1 6 1-5 1 12 1 6 1-13 1-2 1 12 1 7 1 3 1-10 1-3 1 6 1 9 1 4 1-5 1 4 1 1 1-5M0 1174l1-11 1 10 1 9 1 8 1-9 1-7 1 4 1 11 1 82 1 112 1-104 1-88 1-52 1-16 1 25 1-8 1 20 1 5 1-1 1-11 1-20 1-14 1 0 1-3 1-7 1-5 1 0 1 10 1 12 1 15 1-2 1 17 1 6 1 13 1-14 1 4 1 9 1-21 1 10 1 4 1 9 1 1 1 11 1-6 1-5 1 9M0 1252l1 14 1 11 1 6 1-8 1 12 1 3 1 6 1 10 1 34 1 43 1-41 1-29 1-26 1-5 1 3 1-9 1-27 1-6 1-4 1 16 1 2 1-15 1-13 1-4 1 7 1-5 1 9 1-12 1 9 1 16 1-27 1 6 1 8 1 8 1 3 1 1 1 4 1 1 1 2 1 15 1 9 1 6 1-10 1-5 1 11 1-10M0 1265l1 22 1 10 1-9 1-3 1-16 1 5 1 16 1 21 1 35 1 37 1-17 1-16 1-20 1 7 1 19 1-16 1-37 1-9 1 8 1 1 1-18 1-3 1-22 1 5 1-10 1-4 1-3 1-4 1 22 1 15 1-8 1-1 1 15 1-9 1-7 1-9 1 17 1-1 1-2 1-5 1-7 1 14 1-5 1-1 1-11 1-2M0 1205l1-12 1 0 1 3 1-19 1 13 1 3 1-8 1 18 1 84 1 96 1-79 1-79 1-18 1-19 1-2 1 8 1 0 1-11 1-5 1-9 1-1 1-20 1-16 1-12 1 12 1 37 1 12 1 11 1-4 1 14 1-2 1-5 1 8 1-18 1-21 1-6 1 21 1 11 1 2 1-3 1 1 1 7 1-6 1 12 1-7 1 17M0 1206l1 1 1-5 1 2 1-12 1 2 1 7 1 8 1 13 1 80 1 81 1-77 1-82 1-24 1 0 1 21 1-4 1-15 1 26 1-12 1-11 1 1 1-15 1-9 1 5 1-15 1-3 1 14 1 19 1-5 1-4 1 10 1-19 1-6 1-4 1-16 1-19 1 10 1 21 1 13 1 16 1-24 1 8 1 20 1-5 1-7 1 12M0 1242l1-2 1 9 1 2 1-1 1-6 1 5 1-9 1 23 1 60 1 60 1-57 1-54 1-20 1 10 1-28 1-10 1-2 1 13 1-15 1 3 1-6 1 14 1-6 1-28 1-2 1 4 1 15 1 4 1-6 1-15 1 3 1 0 1 16 1 8 1-18 1-21 1 3 1 10 1-5 1 1 1 19 1 11 1-14 1 9 1 6 1 2M0 1268l1 19 1-4 1-12 1-6 1 7 1 17 1 1 1 15 1 37 1 41 1-38 1-53 1-7 1 7 1-5 1-19 1-8 1-11 1-2 1-7 1 0 1 7 1 8 1-19 1-4 1-11 1 17 1-10 1 17 1-7 1 10 1-8 1-2 1 2 1 1 1-1 1 8 1 11 1 5 1-9 1-18 1 7 1-23 1 17 1 13 1-6M0 1254l1 13 1-8 1-6 1-3 1 7 1-6 1 26 1 9 1 57 1 40 1-38 1-48 1-27 1 11 1 11 1-8 1-19 1-3 1-17 1-30 1 4 1-16 1-2 1 6 1 3 1 4 1 23 1 10 1 14 1-3 1-3 1 15 1-14 1 0 1-2 1 0 1 4 1-2 1 6 1-12 1 7 1-9 1 14 1 10 1-3 1-4M0 1240l1-14 1-7 1 12 1-1 1-10 1-16 1 4 1 5 1 81 1 89 1-60 1-75 1-13 1-15 1-9 1 1 1-7 1 22 1-8 1-13 1 19 1-16 1-10 1-6 1-7 1 10 1 14 1-16 1-3 1-1 1-10 1-7 1 5 1-2 1 12 1 14 1 4 1 4 1-8 1-2 1 9 1 10 1 2 1 8 1-1 1-8M0 1241l1-13 1 11 1 5 1 7 1-4 1 14 1 3 1 20 1 41 1 58 1-44 1-48 1-23 1 19 1 2 1-12 1 8 1-32 1-11 1-13 1 9 1 9 1-15 1-6 1 7 1 1 1-1 1 6 1 15 1-8 1-18 1-3 1-1 1-4 1 8 1 7 1 6 1 2 1-1 1-13 1-1 1-4 1 8 1 3 1 3 1 9M0 1233l1 5 1-13 1 9 1-6 1-8 1-3 1-10 1 21 1 76 1 79 1-71 1-66 1-19 1 6 1 0 1-13 1 5 1-4 1-2 1-7 1-12 1-7 1 0 1 4 1-25 1-11 1-11 1 3 1 2 1 10 1 3 1 19 1-5 1-4 1-4 1 2 1 7 1-1 1-5 1-7 1 12 1 2 1-1 1 6 1 11 1 25M0 1295l1-1 1-13 1-10 1-5 1 20 1 6 1-6 1 17 1 42 1 38 1-17 1-34 1-12 1 14 1 2 1-33 1 2 1-17 1-8 1-15 1 11 1 35 1 5 1-10 1-23 1 11 1 12 1-16 1 10 1-21 1-10 1 7 1-10 1 14 1 17 1 0 1 4 1 13 1 1 1 6 1 7 1-12 1 16 1 4 1-2 1 3M0 1251l1-9 1-2 1-1 1 13 1 4 1 3 1-1 1 25 1 31 1 69 1-53 1-56 1-12 1 22 1 0 1-29 1-8 1-16 1 1 1 6 1-10 1 2 1-8 1 17 1-4 1-2 1 3 1 7 1 2 1-6 1-4 1 3 1 2 1-7 1-7 1-1 1 5 1-4 1-8 1 0 1 2 1 12 1-1 1 1 1 23 1 4M0 1208l1-7 1-9 1 6 1-14 1 2 1 6 1 7 1 8 1 73 1 103 1-81 1-107 1-19 1 3 1 18 1-19 1 12 1-13 1-3 1-10 1-30 1 0 1 3 1 7 1-6 1-9 1 13 1 0 1 14 1 15 1-6 1-3 1-7 1-18 1 7 1 13 1 13 1-1 1 18 1-9 1 0 1-3 1-1 1 1 1-2 1 2M0 1250l1-9 1 6 1-6 1 7 1 2 1-16 1-4 1 30 1 54 1 69 1-59 1-54 1-11 1-2 1 19 1-16 1-12 1-6 1-5 1 9 1 15 1-15 1-10 1-1 1-5 1 7 1-16 1 9 1-24 1 10 1 9 1 25 1-15 1 4 1 4 1-13 1 3 1-8 1-9 1-10 1 7 1-2 1-10 1 16 1-7 1 18M0 1236l1-10 1-3 1-5 1 4 1 4 1 29 1-20 1 14 1 66 1 68 1-43 1-58 1-10 1-40 1 3 1 11 1 5 1-21 1-12 1-23 1-5 1-10 1 9 1-6 1 15 1 4 1 0 1 23 1 11 1-18 1 15 1 5 1 10 1-2 1-23 1-3 1-21 1-6 1 2 1 22 1 6 1 7 1 11 1-7 1 15 1 3M0 1182l1 0 1 7 1 12 1-5 1-4 1 15 1 25 1 21 1 52 1 78 1-73 1-79 1-46 1 14 1 26 1-25 1-17 1-9 1-18 1 5 1-20 1 4 1 0 1 3 1-17 1 5 1 6 1 12 1 3 1-7 1 13 1 12 1 10 1-14 1 2 1-12 1-1 1 9 1-15 1 31 1 9 1-11 1-5 1 1 1 1 1-8M0 1208l1 0 1 20 1 0 1-3 1 16 1 1 1 3 1 6 1 66 1 66 1-55 1-53 1-4 1 5 1-15 1-25 1-10 1-11 1 10 1-13 1-30 1 4 1 7 1-14 1 12 1-14 1 8 1 1 1 6 1 7 1-7 1 11 1-6 1 3 1 16 1-12 1 2 1 16 1 9 1-11 1-7 1 8 1-5 1 4 1-10 1 12M0 1160l1 6 1-8 1-13 1-8 1-10 1 19 1-15 1 15 1 102 1 135 1-109 1-99 1-34 1-7 1-5 1-1 1 14 1 5 1-1 1-27 1-13 1-11 1-9 1-13 1 15 1 16 1 22 1-10 1-1 1 1 1 0 1-8 1 12 1-19 1 1 1-10 1 14 1-7 1-1 1 8 1 0 1 11 1 5 1 25 1-10 1-1M0 1264l1 3 1-4 1 8 1 3 1 11 1-16 1 3 1 12 1 50 1 49 1-40 1-55 1-4 1 9 1-30 1 3 1-26 1 8 1-21 1 0 1-3 1-16 1-17 1 13 1 3 1 20 1 2 1 32 1-4 1 15 1-5 1-6 1 1 1-13 1-8 1 18 1-5 1-14 1 7 1-8 1 6 1 15 1 14 1 16 1 6 1 0M0 1267l1-2 1 20 1-6 1 13 1-6 1 8 1-32 1 19 1 45 1 57 1-29 1-40 1-20 1 13 1-7 1-10 1 1 1-27 1 9 1-5 1-40 1-9 1 2 1 27 1-2 1-19 1 19 1 3 1-2 1 11 1-8 1-3 1 10 1 2 1 7 1-8 1 15 1-20 1-14 1 9 1 0 1 6 1 4 1 2 1-7 1 9M0 1294l1 20 1 11 1-11 1 8 1-10 1 2 1-8 1 14 1 25 1 38 1-28 1-29 1-30 1 18 1 27 1-12 1-9 1-20 1-10 1-10 1-15 1-4 1 1 1 10 1 1 1 9 1 17 1 9 1-9 1-20 1 2 1 4 1 12 1 1 1 24 1-8 1 2 1-13 1-11 1-1 1 6 1 10 1-29 1 20 1 20 1 13M0 1280l1 6 1 11 1-12 1 7 1 5 1-1 1 17 1 4 1 27 1 39 1-32 1-14 1-36 1-12 1 6 1 5 1-20 1 10 1-29 1 10 1-14 1-5 1 21 1-6 1-8 1 3 1 21 1-4 1-13 1 2 1-14 1-5 1-2 1 12 1-3 1 8 1 13 1 14 1-22 1 0 1-9 1 12 1 6 1 2 1-2 1-5M0 1170l1-5 1-1 1 1 1 5 1 13 1-9 1 1 1-7 1 88 1 127 1-115 1-105 1-37 1-2 1 7 1-2 1 0 1-4 1-6 1-8 1-5 1-21 1-1 1-3 1 11 1-8 1-3 1 16 1-3 1 10 1-3 1-7 1-6 1 4 1 3 1-2 1 20 1 5 1-5 1 19 1 11 1-7 1-7 1 4 1 12 1-9M0 1288l1 9 1-2 1 4 1 6 1 12 1-9 1 18 1-2 1 34 1 25 1-16 1-6 1-35 1 4 1 6 1-11 1-23 1-5 1-7 1-15 1 12 1-9 1-13 1 2 1-5 1 2 1 6 1-3 1 9 1 3 1 13 1-14 1 1 1 2 1 3 1-22 1-5 1 10 1 10 1 2 1 5 1 15 1-3 1-6 1 18 1 5M0 1222l1 17 1-4 1-8 1 14 1-15 1 2 1 8 1 12 1 58 1 77 1-67 1-68 1-12 1-14 1 21 1-8 1-5 1-9 1 0 1-11 1-2 1 9 1 6 1-26 1 15 1-8 1 3 1 0 1 2 1-8 1 7 1 10 1-8 1-1 1 9 1 9 1-1 1 0 1 2 1-6 1 4 1-3 1-1 1-20 1-8 1 15M0 1280l1 0 1-4 1 5 1-3 1 1 1 16 1-15 1 10 1 45 1 48 1-50 1-30 1-6 1 2 1 12 1-22 1 15 1-14 1-18 1 5 1-3 1-4 1-7 1-26 1-19 1 9 1 17 1-6 1 5 1-14 1-9 1 9 1 14 1 11 1 13 1-10 1-1 1 9 1-11 1-1 1 5 1 4 1 12 1 5 1-3 1-20M0 1287l1 2 1-1 1 1 1 9 1-8 1-1 1-10 1 14 1 40 1 50 1-51 1-44 1 3 1-36 1 25 1-2 1-11 1 1 1-9 1-4 1 12 1-3 1-1 1-8 1-3 1-10 1 1 1-5 1 16 1-3 1 9 1 12 1 6 1-13 1 15 1-24 1 15 1-28 1-4 1 5 1 0 1-13 1-3 1 15 1-6 1 18M0 1307l1-2 1-4 1-7 1 25 1 7 1 0 1-2 1 20 1 9 1 30 1-22 1-48 1 6 1-6 1 2 1-15 1-10 1 13 1-8 1-3 1-24 1 9 1-10 1 4 1-11 1 7 1 7 1-17 1 7 1-7 1 17 1 3 1 0 1 29 1 1 1-12 1 4 1-2 1 8 1-16 1 19 1-9 1-5 1-7 1 0 1 22M0 1230l1 3 1 5 1 10 1-3 1 3 1 28 1-7 1 11 1 39 1 64 1-51 1-31 1-9 1 4 1-21 1-15 1-12 1-5 1-12 1-10 1-3 1-3 1-7 1 8 1 11 1-9 1 23 1-2 1 7 1 13 1-25 1 2 1 5 1 7 1 2 1 4 1-22 1-11 1 8 1-20 1 2 1 6 1 10 1 14 1 4 1-6M0 1196l1 4 1 1 1-1 1-2 1-14 1 1 1 8 1 3 1 84 1 103 1-72 1-83 1-38 1-21 1-10 1-15 1-12 1 20 1 0 1 2 1-20 1-22 1-16 1 24 1 20 1-13 1 7 1 6 1-7 1-1 1 16 1 10 1 10 1 1 1 0 1 3 1-3 1 16 1-2 1 2 1-3 1-6 1 1 1 0 1-4 1 13M0 1332l1-1 1-5 1-10 1 11 1 8 1-2 1 4 1 11 1 24 1 11 1 0 1 20 1-20 1 12 1-11 1-15 1-11 1 0 1-19 1-12 1 12 1 5 1-1 1 2 1-4 1-7 1-4 1 1 1-6 1-16 1 2 1 5 1 0 1 6 1 2 1 5 1-1 1-2 1 3 1 3 1-1 1-4 1 10 1-1 1 3 1 0M0 1268l1 10 1-18 1-14 1-27 1 14 1 20 1 4 1 12 1 58 1 56 1-47 1-32 1-6 1 4 1-21 1-14 1-18 1 16 1 0 1-12 1-11 1-3 1-14 1 2 1 4 1 3 1-2 1-29 1 4 1-10 1-10 1 34 1-4 1 2 1 0 1-6 1 21 1-18 1 10 1-4 1 18 1 10 1 1 1-14 1 12 1 12M0 1265l1 7 1-7 1 3 1 5 1-1 1-7 1 2 1 9 1 46 1 61 1-41 1-44 1-21 1 12 1-7 1-13 1 1 1-3 1-17 1-13 1 13 1-5 1 11 1 2 1-4 1-5 1 17 1-12 1-6 1-9 1 1 1-7 1 5 1-9 1 11 1 7 1 4 1-5 1 15 1 18 1-4 1-10 1 8 1-2 1 3 1 8M0 1182l1-11 1-10 1-1 1 16 1-8 1 5 1-10 1 22 1 86 1 112 1-92 1-99 1-61 1 6 1 17 1 2 1 1 1 5 1 2 1-19 1-8 1-2 1-4 1-19 1-19 1 12 1 14 1 21 1 2 1-11 1 5 1-1 1-6 1-11 1-12 1 2 1 5 1 9 1 7 1 7 1 24 1 0 1 14 1-9 1-6 1-1M0 1173l1-3 1 1 1 10 1-4 1 7 1-31 1 10 1 13 1 82 1 125 1-106 1-122 1-60 1 22 1-18 1 8 1 20 1 8 1-12 1-9 1-11 1-3 1-7 1-20 1-8 1 19 1-8 1-4 1 32 1-8 1-9 1-2 1 14 1-3 1 4 1-13 1 3 1 7 1 7 1 18 1 8 1-22 1-1 1 5 1 7 1 8M0 1242l1-14 1 16 1-4 1-14 1 2 1 6 1-2 1 13 1 74 1 64 1-50 1-43 1-21 1 38 1-28 1 25 1-25 1-12 1-6 1 4 1-2 1-11 1-9 1 9 1 14 1-13 1 10 1 0 1-3 1-17 1-14 1 8 1-27 1 3 1 13 1-12 1 25 1 19 1-13 1 1 1 2 1-2 1 0 1 10 1 20 1 0M0 1241l1-6 1 6 1-5 1-7 1 10 1-16 1 0 1 16 1 66 1 78 1-73 1-68 1-10 1 3 1-1 1-11 1 2 1-31 1 11 1 9 1-4 1-13 1 14 1-12 1 17 1-5 1-9 1 0 1-5 1 2 1 9 1-1 1-3 1 3 1 7 1 1 1 7 1 5 1 2 1 6 1-1 1 11 1 2 1 7 1-5 1-14M0 1214l1 3 1-1 1 12 1-14 1-16 1 2 1-2 1 19 1 78 1 88 1-70 1-85 1-27 1-18 1-2 1 21 1-1 1-2 1 6 1-25 1-2 1-4 1 0 1-16 1 0 1 3 1 13 1-7 1 10 1-21 1 11 1 13 1-8 1 1 1 4 1 6 1 14 1 0 1-3 1-2 1 6 1 9 1 3 1-4 1-1 1-4M0 1188l1-3 1 9 1-10 1 2 1-8 1 10 1 4 1 27 1 73 1 91 1-85 1-95 1-37 1-11 1 5 1 6 1 6 1 27 1-13 1-8 1-9 1-10 1-10 1-4 1-1 1 10 1 5 1-11 1 3 1 5 1-2 1 0 1 1 1 9 1 2 1-5 1 2 1 13 1-10 1 8 1 0 1 37 1 0 1-4 1-4 1-16M0 1237l1-3 1-8 1-4 1-2 1-10 1 2 1 5 1 0 1 73 1 93 1-97 1-80 1-8 1 26 1-21 1-2 1-5 1 10 1-5 1-6 1-2 1-12 1 5 1-12 1 12 1-1 1 0 1-14 1-14 1-11 1 14 1-16 1 24 1 1 1-9 1 10 1-7 1 7 1 3 1 16 1 12 1 9 1-5 1 13 1-2 1 1M0 1259l1-12 1 8 1-13 1 8 1 2 1 4 1-8 1 27 1 50 1 58 1-47 1-54 1-17 1 17 1-22 1-10 1-7 1-3 1-9 1 9 1 2 1-5 1 4 1 5 1-11 1-10 1 9 1 21 1-31 1-4 1 11 1-8 1 11 1 3 1-13 1-1 1 8 1-7 1 10 1 5 1 0 1 7 1-1 1 5 1-6 1 18M0 1238l1 14 1 6 1-9 1-4 1-5 1 0 1-11 1-3 1 73 1 84 1-61 1-44 1-47 1-14 1 11 1 9 1-7 1-6 1-28 1 20 1-16 1 0 1-2 1-17 1 11 1 15 1-5 1-2 1 5 1 7 1 4 1-14 1-11 1-4 1-23 1-3 1 8 1 2 1 1 1 17 1 9 1 13 1 0 1-1 1-4 1 8M0 1143l1 6 1 8 1-2 1-11 1 5 1-7 1 0 1 9 1 108 1 124 1-108 1-128 1-39 1 7 1 21 1-3 1-13 1 6 1-1 1-19 1-6 1-8 1-13 1-2 1 17 1 12 1-10 1-4 1 11 1-2 1-1 1 25 1-27 1-1 1-2 1 6 1 21 1-1 1-2 1 3 1 1 1 7 1 27 1-10 1-1 1 0M0 1147l1-2 1-14 1 0 1 2 1-6 1 8 1-5 1 13 1 102 1 138 1-120 1-140 1-39 1-1 1 11 1 6 1 10 1 15 1-6 1-9 1 10 1-13 1-1 1-19 1-2 1-3 1-5 1 6 1-5 1 3 1 7 1 23 1-20 1 4 1 7 1-2 1 9 1 5 1 3 1-5 1 1 1 1 1-2 1 7 1 0 1 4M0 1185l1-8 1-9 1 8 1-6 1 3 1-3 1 2 1 15 1 71 1 125 1-94 1-117 1-23 1-6 1 6 1 15 1 7 1 5 1 8 1-5 1-21 1-25 1 1 1-28 1 1 1 0 1-2 1 20 1 4 1-2 1 11 1-5 1 13 1 18 1-7 1-6 1 9 1-23 1-9 1-5 1-6 1 10 1 12 1 6 1 6 1 14M0 1300l1-6 1-2 1 10 1 1 1 10 1-9 1-2 1 8 1 37 1 36 1-28 1-4 1-35 1 14 1-24 1-3 1-16 1-4 1-7 1-13 1-14 1-5 1 3 1 10 1 19 1-21 1 7 1-5 1 2 1 5 1 8 1 3 1-3 1 14 1-2 1-4 1 9 1-16 1-9 1 16 1-2 1-15 1 14 1 14 1-7 1-9M0 1237l1-7 1-7 1 7 1 5 1-13 1-7 1 2 1 14 1 71 1 81 1-53 1-54 1-14 1-26 1-9 1 10 1-21 1 13 1-3 1-6 1-9 1-17 1-14 1-6 1 2 1 19 1-10 1-2 1-13 1 10 1 6 1 16 1 20 1 1 1-12 1 2 1 2 1-1 1-10 1 6 1-8 1 5 1 3 1-18 1 16 1 27M0 1209l1 10 1-12 1 3 1 4 1-4 1 1 1-6 1 13 1 78 1 87 1-79 1-85 1-17 1-2 1-7 1 7 1-21 1-13 1 7 1 19 1-10 1 0 1-19 1 0 1 7 1 8 1-7 1 23 1-12 1 16 1-14 1 9 1 12 1 17 1-9 1-21 1 9 1-8 1-9 1-2 1-2 1 14 1 7 1 10 1 10 1-3M0 1281l1 12 1-6 1-7 1-10 1-2 1 1 1 4 1 3 1 50 1 57 1-47 1-50 1-9 1-8 1 7 1-16 1 1 1-14 1 8 1 3 1 7 1-16 1-18 1-15 1 4 1 17 1 9 1 6 1-15 1 13 1 6 1-9 1-25 1-2 1 6 1 21 1 3 1 0 1 15 1 12 1-1 1 3 1 9 1-11 1 2 1-4M0 1197l1 7 1 12 1 0 1 4 1-9 1-19 1-6 1 19 1 73 1 105 1-75 1-86 1-12 1-1 1 12 1-16 1-1 1-12 1-10 1 2 1 8 1-12 1-9 1-21 1-3 1 5 1-14 1-1 1-7 1 8 1 14 1 4 1-2 1-8 1-12 1 8 1 20 1-1 1 1 1-2 1-7 1 17 1 10 1-12 1-6 1 21M0 1194l1-8 1 5 1-5 1-4 1-7 1 22 1 23 1 10 1 68 1 85 1-75 1-83 1-38 1 8 1-17 1-10 1 11 1-15 1 15 1-10 1-4 1 8 1-10 1-6 1-8 1 7 1 7 1-11 1 8 1 10 1 3 1-10 1 9 1 12 1-9 1-19 1-4 1 5 1 17 1 11 1 6 1-7 1 8 1 0 1-9 1-12M0 1261l1 16 1 20 1-4 1-8 1-4 1-3 1 8 1 25 1 32 1 40 1-35 1-17 1-2 1-12 1-11 1-5 1-27 1-8 1-2 1-16 1 3 1 1 1-5 1 12 1-10 1 8 1-2 1 14 1-10 1 7 1 5 1 10 1 11 1-22 1-2 1-10 1 12 1 13 1-7 1 1 1 13 1 0 1-3 1-15 1-2 1 15M0 1172l1 1 1-2 1 6 1-9 1 11 1-8 1 8 1 5 1 86 1 113 1-92 1-113 1-45 1 19 1 11 1-5 1-6 1-14 1-5 1 0 1 7 1 1 1 5 1-9 1-12 1-5 1 17 1-3 1 13 1-22 1-4 1-5 1 7 1-5 1-8 1 6 1-15 1 4 1 13 1-4 1 9 1 0 1 6 1 10 1 11 1 9M0 1220l1-2 1-10 1 10 1-8 1 15 1 2 1-7 1 5 1 63 1 95 1-86 1-71 1-28 1-4 1 6 1-8 1-16 1-13 1 15 1-8 1 12 1 12 1-9 1-3 1-9 1-5 1 0 1-1 1 15 1-5 1 7 1-2 1 3 1 16 1-23 1 11 1-9 1 1 1-3 1-4 1-9 1-19 1 33 1 13 1 1 1-15M0 1289l1-1 1-19 1-5 1 5 1 2 1 12 1-10 1 10 1 34 1 66 1-39 1-42 1-39 1 21 1-20 1-14 1-19 1-9 1-5 1-6 1 18 1 9 1 1 1-8 1 3 1-12 1 10 1-7 1 0 1 9 1-6 1-9 1 18 1-15 1-5 1-3 1 2 1 8 1-24 1 9 1 28 1 19 1 12 1 1 1 3 1-4M0 1159l1 8 1 0 1-4 1 5 1-2 1 6 1-10 1-5 1 98 1 128 1-112 1-113 1-30 1-35 1 40 1 9 1-5 1-13 1-14 1 29 1-14 1-2 1-18 1-12 1 9 1-10 1 2 1 1 1 9 1 11 1-2 1 15 1-8 1-4 1 2 1-2 1 10 1-27 1-6 1-5 1 20 1 15 1-1 1 10 1-8 1 5M0 1316l1 14 1-9 1 6 1-1 1 2 1 1 1 6 1 22 1 14 1 12 1-5 1-2 1-21 1 17 1-6 1-11 1-15 1-21 1-21 1-14 1-9 1 14 1 5 1-18 1-7 1 22 1 19 1 5 1 14 1-14 1-1 1-12 1 19 1-3 1-1 1-1 1-11 1-2 1-24 1 1 1-2 1 16 1 19 1 4 1-10 1-6M0 1271l1-1 1-8 1 6 1 5 1 11 1-8 1 2 1 3 1 53 1 49 1-38 1-24 1-32 1 28 1-4 1-4 1-8 1-19 1-16 1 6 1-7 1 0 1-8 1 7 1 5 1-18 1 23 1 7 1 3 1-4 1-6 1 5 1 22 1-12 1-19 1-2 1-1 1 9 1-15 1-4 1 1 1 15 1 12 1 2 1 10 1-2M0 1214l1 0 1-2 1 13 1 6 1-5 1 7 1 3 1 22 1 55 1 70 1-52 1-55 1-7 1-14 1-5 1-7 1-14 1 8 1-21 1 2 1-26 1 11 1 0 1 12 1 23 1-14 1-2 1-15 1-2 1 4 1 3 1 11 1 4 1 9 1-10 1 1 1-11 1 1 1-24 1 8 1 10 1 3 1 3 1-9 1 4 1 4M0 1253l1-5 1-2 1 4 1-8 1 12 1 19 1-1 1 6 1 49 1 56 1-36 1-58 1-17 1-12 1-8 1 0 1 1 1-9 1-17 1-5 1-14 1 19 1-22 1 6 1 3 1 1 1-11 1-1 1 1 1-1 1 2 1 6 1-2 1 9 1 9 1-5 1 9 1 0 1-6 1 7 1 13 1-4 1-16 1 13 1 13 1-10M0 1235l1-22 1 10 1 8 1 7 1 12 1-14 1 9 1 33 1 31 1 74 1-60 1-71 1-49 1 12 1 6 1-10 1 4 1 9 1 2 1-4 1-22 1-8 1-28 1-10 1 12 1 13 1 4 1 3 1-18 1-6 1-3 1 5 1 3 1 32 1 11 1-11 1-5 1-2 1-2 1 0 1-13 1 23 1 13 1 9 1 3 1 7M0 1189l1 7 1 5 1-8 1-15 1 19 1-5 1 3 1 13 1 89 1 86 1-73 1-104 1-11 1-4 1-23 1 10 1 5 1-13 1 6 1-1 1 3 1-18 1-9 1-10 1 10 1 0 1-4 1 23 1-3 1 16 1 8 1-9 1-18 1 8 1 11 1 13 1 3 1 2 1-8 1-7 1 36 1 8 1-19 1 4 1 4 1-17M0 1225l1 13 1 9 1-11 1-7 1-7 1 2 1 7 1 2 1 65 1 85 1-78 1-83 1 1 1 22 1 9 1-34 1-2 1 21 1-11 1-20 1-3 1-11 1-11 1-3 1 5 1-3 1 0 1-11 1 3 1 11 1 1 1-1 1-14 1 17 1-11 1 11 1-2 1 11 1 10 1-5 1-29 1-11 1 3 1 4 1 16 1 29M0 1263l1 12 1-4 1 6 1 2 1-20 1 13 1 17 1 8 1 45 1 41 1-34 1-41 1-5 1-10 1-14 1 5 1 2 1 6 1-22 1-23 1 7 1-21 1-6 1-2 1 23 1-2 1-15 1 2 1 17 1-22 1-10 1 17 1 4 1-9 1 2 1 5 1-9 1 0 1 20 1 4 1 13 1-1 1-5 1 5 1-7 1 8M0 1215l1-2 1-7 1 15 1-14 1 5 1-10 1 13 1 14 1 70 1 84 1-67 1-67 1-23 1 3 1-10 1-7 1-6 1-9 1-9 1 11 1-21 1 16 1-12 1 2 1-1 1-2 1 7 1 18 1-7 1-3 1-8 1 22 1 7 1 5 1-7 1-24 1 6 1-18 1-1 1 15 1-2 1-2 1-14 1 18 1 11 1 0M0 1230l1-3 1 8 1 11 1 2 1-9 1 0 1 15 1 10 1 57 1 62 1-51 1-50 1-44 1 0 1 5 1 8 1 12 1-14 1-3 1-8 1-15 1-10 1-2 1-1 1-5 1 35 1-5 1 4 1-6 1 28 1-33 1-4 1 3 1 12 1-2 1-12 1 18 1 4 1-6 1-4 1-1 1 5 1-15 1 8 1 0 1 11M0 1235l1 15 1 6 1-10 1-8 1-3 1 8 1 15 1 5 1 51 1 69 1-52 1-53 1-22 1-2 1 22 1 2 1-16 1 4 1 6 1-9 1-10 1-15 1-6 1-4 1 12 1-16 1-19 1-2 1 9 1-19 1 6 1-2 1-5 1 10 1 18 1-11 1 7 1 2 1 10 1 1 1-3 1 13 1 6 1-9 1-15 1 2M0 1252l1-8 1-4 1-16 1 1 1 5 1-1 1 3 1 8 1 62 1 81 1-70 1-65 1-3 1-6 1-5 1-11 1-13 1-2 1-13 1 0 1-5 1-10 1 4 1 13 1 11 1-3 1 1 1-10 1 1 1 11 1 9 1 13 1-19 1 17 1 1 1 13 1-6 1 8 1-6 1-14 1 5 1-4 1 3 1 8 1 9 1 7M0 1255l1 14 1-6 1 3 1 0 1-7 1 14 1-7 1 13 1 61 1 43 1-53 1-32 1-19 1 18 1-5 1-12 1 4 1-16 1-12 1 0 1-16 1-14 1-15 1 17 1 27 1 12 1-11 1-7 1-10 1 3 1 14 1-2 1 0 1-33 1 12 1-6 1 6 1 10 1 5 1 11 1 18 1-24 1-9 1 24 1 8 1-5M0 1218l1 8 1-5 1-1 1-13 1 16 1 3 1-6 1 1 1 73 1 89 1-57 1-43 1-38 1-13 1-18 1 3 1-13 1 5 1-4 1-3 1-18 1 9 1-9 1-20 1 4 1 5 1 3 1 12 1 12 1 21 1-10 1 7 1-34 1 21 1-4 1 11 1-6 1 3 1 3 1-9 1-5 1-25 1 16 1 5 1 4 1 18M0 1253l1-17 1 4 1 0 1 12 1-4 1-9 1 2 1 36 1 43 1 63 1-46 1-72 1-9 1 36 1-6 1-26 1-9 1-14 1 24 1-5 1-36 1 7 1 1 1-17 1-5 1 3 1 23 1-9 1-8 1 13 1-8 1-9 1 2 1 12 1 3 1-3 1 16 1 12 1-21 1-11 1-4 1 5 1 9 1 4 1 6 1 8M0 1143l1 9 1 16 1 2 1-4 1 5 1-4 1-13 1 14 1 98 1 117 1-96 1-108 1-28 1 16 1-7 1-9 1 14 1-3 1-20 1-9 1 9 1-4 1 12 1-6 1-3 1 8 1-13 1 10 1-6 1-5 1 4 1-6 1-11 1-5 1 11 1 7 1 3 1 9 1-9 1-2 1 21 1-9 1 17 1-3 1 7 1 3M0 1224l1 8 1-8 1-9 1 10 1-3 1-1 1-1 1 12 1 57 1 94 1-77 1-90 1-29 1 12 1 29 1-12 1 13 1-11 1-3 1-11 1 2 1-5 1-11 1-23 1 16 1-15 1-2 1 26 1 2 1 1 1 1 1 2 1-4 1 4 1-1 1-3 1 7 1 7 1 2 1 8 1 17 1 12 1-6 1-15 1 11 1-1M0 1268l1 9 1-11 1 3 1-9 1 23 1-2 1-19 1 32 1 50 1 39 1-32 1-28 1 1 1-5 1-6 1-14 1-14 1 7 1-21 1-6 1 0 1-4 1 5 1-28 1 16 1-14 1 1 1-1 1 8 1 0 1-3 1 9 1 22 1-12 1-8 1-5 1-10 1-7 1 2 1 13 1 1 1-2 1 6 1-2 1 34 1 14M0 1217l1 0 1-2 1-2 1-12 1 5 1 4 1 2 1 10 1 78 1 83 1-80 1-82 1-5 1 24 1-14 1-1 1 7 1 7 1-14 1-2 1-11 1-23 1 11 1-3 1 7 1-1 1-9 1-1 1 8 1-11 1 22 1 23 1-28 1 11 1-5 1 7 1 2 1-3 1 10 1-1 1 15 1 1 1-16 1 2 1 3 1-2M0 1204l1-7 1-5 1-17 1 5 1-2 1 9 1 13 1 3 1 71 1 109 1-84 1-89 1-27 1-12 1-2 1-3 1-25 1 13 1 5 1-17 1-10 1 0 1 3 1-7 1-4 1 7 1 2 1-9 1 0 1 0 1 12 1-12 1-2 1 2 1 7 1 28 1-4 1 10 1 5 1 9 1 13 1-1 1-14 1-4 1 15 1 18M0 1326l1-1 1-14 1-2 1 2 1 7 1 6 1-10 1 25 1 21 1 23 1-12 1-5 1-7 1-9 1-13 1 0 1-18 1-23 1-33 1 3 1-9 1 4 1-8 1-1 1 3 1 17 1-8 1-8 1 7 1 13 1-8 1 8 1 1 1 6 1-18 1 6 1 1 1 5 1-4 1 2 1-16 1 10 1 21 1 5 1 4 1 6M0 1293l1-10 1-5 1 0 1 9 1 14 1-3 1-5 1 29 1 40 1 21 1-13 1-14 1-16 1 3 1-19 1-25 1-17 1-6 1 3 1 4 1 7 1-10 1 0 1-16 1-6 1 19 1 1 1 22 1 4 1-10 1-9 1-21 1 19 1 11 1 30 1 6 1-5 1-15 1-22 1-2 1 3 1-10 1 13 1 14 1-8 1 2M0 1181l1-12 1-10 1-14 1-5 1-8 1 15 1 9 1 4 1 92 1 131 1-109 1-123 1-16 1 7 1 29 1-41 1-12 1 16 1 1 1-8 1-16 1 3 1-10 1 11 1 13 1 8 1-25 1 7 1 21 1 16 1 6 1 4 1-16 1 11 1 13 1-5 1-3 1-8 1-2 1-6 1 5 1-1 1-14 1 0 1 10 1 7M0 1342l1 0 1 0 1 0 1 1 1 1 1 3 1 2 1 16 1 7 1 11 1 1 1 24 1 11 1 18 1-27 1-27 1-12 1-40 1-6 1-8 1 6 1-1 1 6 1-5 1 3 1 16 1-8 1-14 1 16 1 4 1-2 1-4 1 0 1-3 1 3 1-1 1-2 1 3 1-3 1 3 1-2 1 1 1 4 1 1 1 7 1 2M0 1225l1 11 1 4 1-15 1 9 1 9 1-4 1-6 1 7 1 69 1 74 1-58 1-30 1-22 1 2 1-27 1 3 1 7 1-17 1 16 1-16 1-6 1-9 1-8 1-36 1 20 1-20 1 25 1-8 1 0 1 34 1-12 1-1 1-11 1 3 1 8 1 19 1-28 1 5 1 10 1 11 1-6 1 5 1 22 1 2 1 19 1-17M0 1175l1-9 1 8 1-10 1 5 1-13 1-5 1 7 1 23 1 81 1 121 1-105 1-118 1-26 1 19 1 11 1-21 1 18 1 10 1-15 1-12 1 9 1-6 1-5 1 3 1 1 1 27 1 4 1-10 1-7 1-9 1 9 1-18 1 9 1-8 1-19 1 16 1 6 1 4 1-3 1 1 1-3 1 18 1 14 1-2 1 0 1 3M0 1313l1-5 1-1 1 3 1 2 1-1 1 15 1 4 1 22 1 15 1 16 1-6 1-7 1-18 1-4 1-12 1-4 1-8 1 13 1-9 1-7 1-9 1-13 1-10 1 5 1-16 1 23 1 16 1-21 1 13 1 8 1 6 1-1 1 6 1-13 1-7 1 4 1-2 1-16 1 10 1 10 1-3 1 5 1 9 1-21 1-1 1-3M0 1210l1-7 1 8 1 20 1-11 1 17 1 8 1 6 1 23 1 44 1 65 1-62 1-73 1-19 1 11 1-22 1-23 1 10 1 5 1 3 1-6 1-20 1 11 1 5 1-5 1 23 1-4 1 11 1-10 1-37 1-8 1-22 1 10 1 23 1-13 1 16 1 2 1 14 1 5 1-10 1 9 1 3 1 12 1 20 1-6 1 15 1-5M0 1292l1-6 1 2 1-3 1 8 1-8 1-4 1 14 1 22 1 38 1 28 1-13 1-10 1-2 1-15 1-5 1-22 1-24 1-7 1 1 1-5 1 14 1 1 1-2 1-5 1-20 1 2 1 0 1 20 1-13 1-3 1-8 1 3 1-17 1 9 1 4 1 5 1 28 1-6 1 2 1-4 1 10 1 19 1 9 1-4 1-18 1 3M0 1123l1-2 1-3 1-1 1-1 1-2 1 0 1-3 1 30 1 101 1 141 1-125 1-145 1-31 1 1 1 8 1 6 1 6 1 2 1-2 1-12 1-10 1-17 1-15 1-14 1 0 1 2 1 6 1 0 1 5 1 8 1 14 1 1 1 6 1 4 1 0 1-1 1 3 1 4 1-5 1 1 1 7 1 7 1 6 1 10 1 8 1 1M0 1341l1-2 1 3 1 0 1-1 1 4 1 2 1 2 1 17 1 6 1 11 1 1 1 22 1 2 1-4 1-13 1-1 1-7 1-12 1-2 1-4 1-2 1 0 1-2 1 0 1-1 1 1 1-2 1-2 1-6 1-10 1 1 1-1 1-2 1-4 1 1 1-2 1 1 1 1 1 0 1 1 1 1 1 3 1 3 1 3 1 2 1 2M0 1308l1 12 1-14 1 1 1 0 1 12 1-28 1-5 1 1 1 58 1 38 1-23 1-18 1-10 1 6 1-18 1-35 1 2 1-6 1-12 1-9 1 13 1-11 1-13 1 10 1 18 1-18 1-9 1-8 1 11 1 10 1 16 1-4 1-4 1-7 1 13 1-8 1-7 1 0 1 3 1 6 1-3 1 22 1 19 1-16 1 2 1-10M0 1196l1 2 1 6 1 4 1-11 1-14 1-11 1 22 1 18 1 77 1 94 1-76 1-72 1-37 1 5 1-23 1 1 1 4 1 4 1-18 1-2 1 9 1-5 1 7 1 1 1 1 1-6 1 1 1-10 1 11 1 4 1 13 1 21 1 1 1-2 1-5 1 3 1 9 1-11 1-17 1-14 1 16 1 7 1 7 1-17 1 0 1-9M0 1137l1-3 1 13 1-11 1-4 1-4 1 1 1 6 1 12 1 95 1 141 1-122 1-138 1-27 1-8 1 8 1 5 1 17 1 9 1-4 1-17 1-14 1-12 1 8 1 6 1-1 1-9 1-16 1 2 1 10 1 10 1 6 1-6 1 8 1 1 1 10 1 2 1 7 1 2 1-7 1 12 1-10 1 9 1-2 1 0 1 6 1 1M0 1140l1-5 1 4 1 5 1 0 1-12 1 3 1 10 1 6 1 95 1 137 1-115 1-108 1-45 1-18 1 10 1 5 1 8 1-4 1-4 1 15 1-15 1 10 1-24 1-5 1 5 1 10 1-2 1-8 1 3 1-13 1-16 1-1 1 22 1 13 1 22 1 3 1-18 1-7 1 7 1-4 1-2 1 0 1 4 1 0 1 10 1 4M0 1341l1-1 1 1 1 0 1 2 1 1 1 3 1 2 1 16 1 7 1 11 1 1 1 20 1-3 1 6 1-14 1-17 1-12 1-20 1-16 1 2 1-1 1-2 1 19 1-4 1 2 1-2 1-7 1 3 1 4 1-4 1-1 1 6 1-7 1-4 1 1 1-1 1-5 1-3 1 0 1 0 1 3 1 10 1 2 1 0 1 5 1 3M0 1143l1-6 1 5 1 9 1-3 1 10 1-9 1-5 1 14 1 96 1 129 1-112 1-112 1-40 1 12 1-16 1-7 1 22 1 14 1 2 1-14 1 1 1-13 1-23 1-9 1-1 1-8 1-1 1 0 1 11 1 15 1 13 1 9 1-14 1 6 1 8 1 2 1-12 1-23 1 8 1-1 1 15 1-6 1 12 1 2 1-2 1 6M0 1235l1 5 1 7 1 1 1-9 1-7 1 1 1-5 1-1 1 58 1 98 1-72 1-48 1-33 1 13 1-4 1-1 1-7 1 5 1-7 1-16 1-9 1-8 1-4 1-3 1-5 1-5 1 3 1-17 1 12 1 8 1-30 1-1 1 11 1-14 1 17 1 19 1 9 1 11 1-1 1 8 1 7 1-2 1 2 1-16 1-7 1 18M0 1309l1-11 1-12 1 19 1 9 1 20 1 7 1 6 1 17 1 8 1 11 1 0 1-5 1 1 1-3 1 4 1-21 1-21 1 1 1-46 1 13 1 1 1-6 1 8 1-6 1 8 1 0 1 7 1-12 1-7 1 21 1-1 1-5 1-10 1-5 1 5 1-10 1 4 1 0 1-16 1 8 1 20 1-1 1 3 1 6 1-2 1-12M0 1231l1-4 1 15 1-1 1-7 1-4 1 17 1 7 1-6 1 66 1 69 1-63 1-48 1-14 1-14 1-2 1 4 1-8 1-1 1-16 1 9 1 7 1-17 1-22 1-8 1 13 1 3 1 0 1 2 1-16 1 4 1 2 1-3 1 13 1-6 1-3 1 11 1 8 1 1 1 3 1 3 1 4 1-9 1 12 1 21 1 1 1-5M0 1333l1-5 1-1 1-3 1 10 1-7 1 12 1-2 1 19 1 15 1 12 1 0 1 16 1-14 1 2 1-10 1 5 1-19 1-17 1-18 1-4 1 2 1-11 1 15 1 9 1 2 1 0 1 10 1-14 1-8 1 11 1-13 1 0 1-4 1-9 1-7 1 1 1 6 1 6 1 4 1 0 1 2 1 6 1-3 1-8 1 12 1-16M0 1297l1-15 1-20 1-3 1 10 1-4 1 16 1 9 1 5 1 49 1 39 1-38 1-30 1 5 1 11 1 8 1-35 1 28 1-29 1-12 1 8 1-7 1 4 1-24 1-18 1-4 1-4 1 5 1-1 1-10 1 8 1-12 1-1 1 10 1-4 1 5 1 12 1 17 1 10 1 5 1-1 1-15 1-7 1-5 1 1 1 5 1-3M0 1213l1-7 1-19 1 0 1 1 1-1 1 23 1 6 1 27 1 54 1 86 1-72 1-81 1-44 1 2 1-24 1 17 1 32 1 6 1-37 1-5 1-15 1-11 1-6 1 10 1 8 1-11 1 8 1 2 1 22 1-21 1-1 1-9 1 3 1-18 1-1 1 7 1 2 1-2 1 7 1 1 1-1 1 7 1 9 1 10 1-12 1 5"/>
<path d="M138.9 578.0L156.8 578.4L174.6 578.7L192.4 579.0L210.3 579.0L228.1 579.0L246.0 579.0L263.8 579.0L281.7 584.2L299.5 632.3L317.3 691.6L335.2 681.1L353.0 666.4L370.9 648.4L388.7 631.2L406.6 616.1L424.4 598.1L442.2 580.3L460.1 567.4L477.9 556.4L495.8 546.3L513.6 539.0L531.5 535.9L549.3 532.8L567.1 529.8L585.0 528.4L602.8 527.0L620.7 529.3L638.5 531.6L656.4 534.0L674.2 536.8L692.0 539.6L709.9 542.4L727.7 545.2L745.6 548.0L763.4 551.0L781.3 554.0L799.1 556.9L816.9 559.9L834.8 562.9L852.6 565.1L870.5 567.3L888.3 569.5L906.2 571.7L924.0 573.9L941.8 577.4L959.7 580.9L959.7 653.1L941.8 649.1L924.0 645.1L906.2 643.1L888.3 641.1L870.5 639.1L852.6 637.1L834.8 635.1L816.9 632.9L799.1 630.7L781.3 628.4L763.4 626.2L745.6 624.0L727.7 621.0L709.9 618.0L692.0 615.0L674.2 612.0L656.4 609.0L638.5 606.7L620.7 604.4L602.8 602.0L585.0 600.1L567.1 598.2L549.3 602.2L531.5 609.1L513.6 616.0L495.8 633.7L477.9 648.6L460.1 659.6L442.2 667.7L424.4 678.9L406.6 696.9L388.7 713.8L370.9 739.6L353.0 755.6L335.2 722.9L317.3 691.6L299.5 680.7L281.7 666.8L263.8 656.0L246.0 655.7L228.1 655.5L210.3 655.2L192.4 655.0L174.6 655.0L156.8 655.0L138.9 655.0Z" fill="#0072BD"/>
<path transform="translate(138.91 0) scale(17.8430 0.5)" vector-effect="non-scaling-stroke" stroke="#0072BD" stroke-width="1.2" d="M0 1264l1 18 1-3 1 26 1 14 1-9 1-18 1-26 1 25 1 44 1 48 1 65 1 81 1-42 1-65 1-43 1-33 1-32 1 19 1-57 1-27 1-45 1 8 1 7 1-14 1-7 1-3 1 10 1-11 1 34 1 14 1 4 1 2 1-17 1 32 1-36 1-3 1 48 1-17 1-12 1-16 1 38 1 22 1-4 1-29 1 18 1 1M0 1309l1-8 1-4 1 18 1 10 1-44 1 9 1-24 1 14 1 70 1 33 1 42 1 73 1-35 1-89 1-22 1-34 1-38 1 36 1-38 1-36 1-18 1-21 1-40 1 1 1 13 1 4 1 20 1 8 1 1 1-8 1 4 1 37 1-41 1 32 1 5 1-15 1 8 1 16 1-23 1 18 1 16 1-14 1 13 1 28 1-1 1-13M0 1130l1 29 1-3 1 1 1-2 1-10 1 38 1-1 1 26 1 55 1 120 1-12 1-50 1-40 1-34 1-6 1-36 1-53 1-6 1-41 1-12 1-15 1-18 1 15 1-10 1-24 1-1 1 36 1-28 1 23 1 9 1-14 1 12 1-2 1 4 1 14 1 16 1-12 1 7 1 13 1-3 1 25 1-9 1 16 1 13 1-14 1 18M0 1252l1-11 1 19 1 4 1 16 1 0 1-41 1-5 1 31 1 67 1 51 1 27 1 31 1-39 1-26 1-60 1-22 1-46 1-4 1-42 1-22 1-2 1-33 1-3 1 5 1-5 1-5 1 7 1-9 1 25 1 15 1 27 1-9 1 13 1-18 1 11 1-16 1 15 1 1 1 23 1-35 1 16 1 7 1 21 1-10 1 6 1 33M0 1199l1 24 1-43 1 23 1 9 1 3 1-33 1-9 1 18 1 88 1 104 1 3 1 30 1-48 1-35 1-52 1-44 1-16 1-6 1-46 1 4 1-39 1 14 1-43 1-8 1 14 1-5 1-6 1 20 1 17 1-12 1 18 1-9 1-7 1 35 1-12 1-2 1 23 1-15 1-2 1 11 1 13 1 21 1-5 1-8 1-8 1 16M0 1236l1-38 1-20 1-9 1 22 1 22 1 30 1-42 1 26 1 67 1 89 1 20 1 37 1-56 1-32 1-40 1-57 1-11 1-37 1-68 1 0 1-31 1 16 1 17 1-15 1 1 1-28 1-2 1 6 1 47 1-15 1 8 1-28 1 13 1 19 1 7 1 4 1 16 1 11 1-19 1-9 1 29 1 19 1-23 1 23 1-16 1 16M0 1270l1 18 1 4 1-14 1 27 1-17 1-3 1-8 1 43 1 41 1 22 1 63 1 43 1 4 1-76 1-20 1-18 1-24 1-68 1-31 1-27 1-3 1-27 1 5 1-9 1 3 1 0 1-9 1 33 1-2 1 21 1-21 1-22 1 46 1-20 1 15 1 1 1 6 1 3 1-9 1-3 1 23 1-2 1 39 1-5 1 22 1-12M0 1263l1-10 1 8 1 4 1 50 1-44 1-9 1 20 1 13 1 45 1 43 1 45 1 29 1-54 1-29 1-15 1-34 1-5 1-41 1-18 1-48 1-56 1 20 1-16 1 8 1-10 1-20 1 6 1 15 1 3 1 12 1 22 1 4 1 14 1-2 1-7 1-6 1-19 1 39 1 29 1-19 1-6 1 1 1 22 1 9 1 4 1 9M0 1143l1-1 1 11 1-14 1-3 1 9 1 47 1-35 1 42 1 60 1 124 1-31 1-13 1-44 1-36 1-16 1-25 1-66 1-23 1-31 1 2 1-38 1 23 1-22 1-19 1-1 1-5 1 7 1 7 1 23 1-17 1 9 1 25 1-17 1 17 1 16 1-11 1 1 1 7 1 6 1 29 1-10 1 13 1 2 1 1 1-6 1 6M0 1236l1-1 1 15 1-5 1 9 1-7 1 2 1-14 1-9 1 91 1 66 1 33 1 4 1-7 1-54 1-34 1-52 1-34 1-26 1-4 1-38 1-18 1-15 1-24 1 8 1 8 1 3 1-45 1 50 1 7 1-9 1 47 1-7 1 12 1-2 1-39 1 44 1-16 1 32 1-2 1-11 1-29 1 22 1 3 1 21 1-4 1 32M0 1196l1 39 1-3 1-25 1 6 1-31 1 0 1 11 1 7 1 79 1 104 1 0 1-16 1-35 1-39 1-5 1-34 1-64 1 18 1-8 1-46 1-42 1 0 1-14 1 7 1-2 1 20 1-35 1 4 1 20 1-1 1 4 1-7 1 51 1-9 1 14 1-16 1 2 1 10 1 35 1 13 1 19 1 2 1 3 1-23 1-13 1 30M0 1205l1-15 1-15 1 13 1-10 1 5 1 22 1-8 1 31 1 61 1 94 1-8 1 21 1-86 1-14 1-17 1-86 1-41 1-27 1 7 1-12 1-16 1 9 1 24 1-42 1 4 1-4 1 21 1-41 1-8 1 9 1 7 1 28 1 4 1-21 1 15 1-4 1 15 1 20 1 2 1 35 1 34 1-10 1-35 1 34 1 31 1-18M0 1271l1-8 1 14 1-5 1-22 1-8 1 1 1-7 1 49 1 46 1 52 1 38 1 29 1-17 1-31 1-51 1-58 1-50 1 28 1-27 1-49 1-27 1-27 1 21 1-9 1-10 1-23 1 53 1-6 1-39 1 13 1 18 1 15 1-11 1 36 1 8 1-2 1-9 1-20 1 16 1 12 1-7 1 22 1 20 1-8 1 3 1 11M0 1337l1-39 1 1 1 43 1-17 1 18 1-6 1 7 1 3 1 20 1 16 1 68 1 67 1-19 1-58 1-24 1-53 1-29 1-1 1-20 1-27 1-41 1-20 1-23 1-29 1 11 1 31 1-1 1 7 1 14 1-13 1 15 1-5 1 25 1-23 1 8 1 4 1 7 1 2 1 32 1-3 1-2 1-19 1-5 1 10 1 2 1 33M0 1193l1 2 1-11 1-11 1 5 1 17 1 3 1-12 1 51 1 65 1 81 1 22 1-20 1-16 1-46 1-33 1-69 1-36 1-9 1-16 1 11 1-44 1-7 1-16 1-25 1 5 1 8 1 37 1 10 1-21 1-13 1 13 1-1 1 53 1 1 1-12 1-10 1-10 1 14 1-30 1 23 1 12 1 39 1-32 1 30 1-1 1 21M0 1202l1 11 1 33 1-41 1-7 1-2 1-10 1 5 1 16 1 78 1 98 1-5 1-34 1-18 1-11 1-60 1-28 1-24 1-23 1-31 1-16 1-6 1-30 1-4 1 8 1-14 1-18 1 30 1 15 1 13 1-6 1-10 1 34 1 14 1 2 1-17 1 5 1-10 1-4 1 19 1 14 1 12 1 1 1 33 1-30 1 28 1-11M0 1262l1 47 1 8 1-47 1 28 1-6 1 9 1-10 1 12 1 26 1 54 1 42 1 15 1-33 1-26 1-17 1-45 1 6 1-41 1-10 1-10 1-63 1 7 1-25 1-23 1 33 1 19 1-21 1 16 1 9 1-9 1 35 1-18 1-14 1 8 1 4 1-1 1 4 1-12 1 29 1-17 1 34 1 11 1-10 1-2 1 0 1 15M0 1330l1-10 1 23 1-13 1-8 1 26 1-2 1 3 1 17 1 6 1 11 1 73 1 74 1-34 1-94 1-16 1-49 1 1 1-31 1-5 1-15 1-43 1-24 1 0 1-18 1 7 1 5 1-14 1 30 1-13 1 24 1 7 1-10 1 7 1 21 1-1 1 12 1-2 1 10 1-18 1 10 1 19 1-25 1 22 1-9 1-2 1 13M0 1199l1-4 1-6 1-32 1 52 1 36 1-11 1-17 1-7 1 87 1 86 1 1 1 0 1-14 1-41 1-38 1-36 1-47 1-17 1-17 1-36 1-15 1 10 1 1 1-51 1-11 1 34 1 11 1 8 1-24 1 17 1 19 1 10 1-12 1 0 1 18 1 9 1 25 1-44 1 11 1 36 1-20 1 14 1 29 1-23 1 16 1 37M0 1136l1 37 1-8 1 4 1 3 1 22 1-17 1 15 1 16 1 72 1 103 1-4 1-23 1 22 1-110 1-45 1-39 1-29 1-9 1-23 1 27 1-50 1-28 1 1 1-9 1-5 1 19 1 5 1 18 1-26 1 20 1 2 1-7 1-13 1 19 1-5 1 31 1 14 1 9 1 44 1-3 1-51 1 21 1 6 1 5 1-4 1 25M0 1124l1 0 1-1 1 2 1-6 1-3 1 1 1-2 1 25 1 110 1 133 1-33 1-34 1-36 1-34 1-32 1-34 1-36 1-26 1-22 1-20 1-14 1-6 1-6 1-6 1-3 1-3 1 5 1 4 1 5 1 6 1 5 1 6 1 5 1 6 1 6 1 6 1 6 1 6 1 6 1 5 1 4 1 4 1 5 1 4 1 7 1 7M0 1236l1 1 1 38 1 0 1-31 1 22 1 20 1 4 1 8 1 38 1 47 1 34 1 46 1 19 1-34 1-69 1-78 1-20 1-20 1-22 1-54 1-9 1-13 1-2 1-27 1 17 1-12 1 5 1 8 1 8 1 7 1 6 1 5 1 4 1 7 1 10 1 44 1 6 1-19 1-19 1 34 1-1 1 8 1 19 1-39 1 10 1 21M0 1303l1 3 1-1 1-1 1 4 1-11 1-7 1 3 1 40 1 37 1 13 1 61 1 83 1-33 1-50 1-48 1-47 1-12 1-23 1-1 1-58 1-25 1-15 1-30 1-5 1-7 1 10 1 9 1 41 1-20 1 17 1-8 1 14 1-2 1-6 1 36 1 10 1-34 1 11 1 5 1-16 1 23 1 18 1 3 1 10 1 22 1-7M0 1336l1-69 1 13 1 33 1-2 1-17 1 28 1 3 1-22 1 55 1 25 1 58 1 35 1-10 1-48 1-52 1-34 1 11 1-5 1-67 1-12 1-42 1-20 1-4 1 15 1 1 1-23 1 9 1 14 1 19 1-7 1 4 1 6 1 14 1-34 1 42 1 3 1-1 1-16 1 18 1 33 1-18 1-25 1 25 1 6 1 8 1-16M0 1269l1-80 1 41 1 28 1-15 1-28 1 26 1 47 1 9 1 61 1 25 1 39 1 17 1 1 1-84 1-35 1-34 1-13 1-18 1-52 1-32 1 22 1-18 1-16 1-14 1 8 1-13 1 30 1 11 1-6 1 16 1-8 1-4 1 25 1-4 1-11 1 37 1-10 1 9 1 24 1-32 1 3 1 24 1-7 1-3 1 9 1 6M0 1228l1-3 1 28 1-12 1 18 1-18 1 20 1-24 1 30 1 48 1 68 1 15 1 1 1-22 1-61 1 3 1-50 1-22 1-8 1-24 1-53 1-44 1-23 1-1 1-2 1 0 1 21 1-16 1-9 1 29 1 43 1-23 1 7 1 7 1 26 1 10 1-14 1 19 1-3 1 14 1 24 1-51 1-8 1-1 1 4 1 29 1 17M0 1342l1-4 1-9 1 7 1 0 1-12 1 12 1-13 1 23 1 22 1 15 1 62 1 76 1-30 1-72 1-2 1-32 1-21 1-24 1-23 1-43 1-49 1-30 1 2 1-23 1 25 1 16 1-2 1 1 1 11 1 15 1 1 1 15 1-3 1-2 1 2 1 9 1 12 1 9 1-1 1 12 1-21 1 18 1 7 1-17 1-2 1 27M0 1299l1-6 1-6 1-6 1-1 1 18 1 15 1-2 1-2 1 46 1 28 1 41 1 60 1-41 1-39 1-55 1-41 1-11 1-20 1-22 1-35 1-10 1 6 1-37 1 0 1-4 1 11 1 22 1-1 1-4 1-14 1 33 1 26 1-43 1 25 1 1 1-15 1 45 1 3 1 23 1-26 1-6 1-17 1 19 1-16 1 20 1 36M0 1276l1-8 1 7 1-11 1-24 1 18 1 0 1-13 1 5 1 84 1 49 1 21 1 40 1-18 1-47 1-64 1-4 1-34 1-50 1 16 1-34 1-60 1-37 1 18 1-2 1 17 1 7 1-8 1 19 1 8 1-14 1 27 1 6 1-1 1 12 1-11 1-2 1 13 1-5 1 40 1-1 1 10 1 23 1 8 1 15 1-33 1 29M0 1207l1 6 1 1 1-1 1 5 1 22 1-52 1-11 1 9 1 105 1 92 1 12 1 41 1-55 1-78 1-13 1-4 1-9 1-52 1-32 1-26 1-19 1-20 1-18 1 19 1 13 1-18 1-14 1-4 1-8 1-2 1 19 1 4 1 21 1 0 1-4 1 10 1-27 1 38 1 10 1 32 1-13 1 2 1-9 1 45 1-2 1 18M0 1227l1-22 1-4 1 4 1-8 1 23 1 13 1 12 1-16 1 66 1 88 1 16 1-18 1-28 1-14 1-37 1-42 1-53 1-18 1 1 1-8 1-64 1 8 1-13 1-18 1 38 1-1 1-24 1-8 1 19 1-15 1 17 1 23 1-17 1 20 1 16 1-7 1 16 1 15 1 5 1-12 1 20 1-7 1 8 1 3 1 6 1-25M0 1291l1-3 1 6 1-14 1-1 1 10 1-39 1 6 1 22 1 56 1 49 1 36 1 53 1-14 1-48 1-23 1-40 1-7 1-7 1-57 1-52 1-35 1-10 1 5 1-3 1 0 1-12 1 1 1 7 1 13 1-44 1 37 1 24 1-6 1 37 1 7 1 4 1-32 1 27 1 4 1 4 1-35 1-1 1 21 1-5 1 46 1-14M0 1273l1 44 1-27 1 12 1-27 1-23 1 15 1 22 1-2 1 58 1 38 1 43 1 43 1-35 1-62 1-25 1-28 1-44 1-66 1 23 1-33 1-9 1-26 1 1 1-11 1-1 1 5 1 12 1-26 1 40 1 18 1 0 1-29 1 31 1 3 1 31 1-18 1-1 1 21 1-38 1 13 1 11 1-26 1 12 1 27 1 19 1 34M0 1253l1 27 1 6 1-2 1-22 1 41 1 17 1-16 1-8 1 32 1 55 1 47 1 12 1 8 1-56 1-27 1-26 1 11 1-30 1-48 1-29 1-37 1-16 1-13 1-24 1 14 1-19 1 36 1-6 1-13 1 28 1 16 1 1 1-23 1-4 1 32 1 44 1-10 1-1 1 6 1-18 1 26 1-14 1 6 1-8 1-4 1 9M0 1177l1 31 1-7 1-18 1 9 1-13 1 23 1 5 1-5 1 81 1 100 1-14 1-34 1-21 1-44 1-18 1-15 1-43 1-13 1 7 1-53 1 0 1-37 1-24 1 6 1-1 1-24 1 41 1 14 1-22 1 7 1 8 1-13 1 24 1-14 1-9 1 51 1-8 1-2 1 10 1-1 1 47 1-3 1 7 1 6 1 28 1-53M0 1276l1 0 1 18 1-1 1-40 1 16 1 0 1 22 1-28 1 74 1 46 1 49 1 50 1-83 1-13 1-33 1-49 1 0 1-25 1 9 1-27 1-71 1 3 1-18 1-10 1-1 1 20 1-18 1 15 1-23 1 24 1-12 1-3 1 23 1-5 1 38 1-17 1 39 1 7 1-6 1 8 1-1 1 36 1-11 1-20 1 13 1-2M0 1218l1-2 1 22 1-4 1 11 1-13 1-1 1-8 1 44 1 67 1 49 1 31 1-13 1-50 1-10 1-63 1 32 1-28 1-6 1-53 1-63 1-30 1-11 1 16 1-24 1-5 1 37 1-25 1 1 1 37 1 39 1-49 1-32 1 18 1 27 1 10 1-1 1-10 1 34 1-4 1-2 1 12 1 31 1-5 1 39 1-23 1 9M0 1127l1 1 1-2 1-2 1-1 1-4 1 0 1 5 1 21 1 105 1 133 1-33 1-34 1-17 1-49 1-32 1-38 1-35 1-27 1-22 1-19 1 14 1-19 1-19 1-6 1 14 1-22 1 7 1 3 1 3 1 6 1 6 1 6 1 5 1 5 1 6 1 6 1 8 1 24 1-10 1 12 1 0 1 38 1-17 1 30 1-36 1 5M0 1260l1 25 1 2 1 2 1-27 1 1 1 16 1-17 1 21 1 62 1 38 1 42 1 62 1-40 1-87 1-20 1-32 1-19 1 26 1-26 1-51 1-54 1 4 1-16 1 8 1-6 1 10 1-22 1 3 1 8 1-8 1 20 1 0 1 3 1-1 1 12 1-18 1 37 1 12 1 10 1 17 1-5 1-10 1 24 1-14 1 8 1-30M0 1210l1 13 1 3 1 9 1-22 1-9 1 8 1-13 1 14 1 83 1 87 1-15 1 13 1-41 1-14 1-43 1-51 1-8 1-29 1-12 1-40 1-29 1-4 1-14 1 1 1-11 1 16 1 20 1 7 1-24 1 35 1-32 1 23 1 11 1 19 1-13 1 1 1 30 1 17 1-25 1 2 1-4 1-29 1 49 1-4 1 15 1 14M0 1185l1-21 1-21 1 20 1 6 1-9 1 4 1 32 1 11 1 72 1 104 1 2 1-31 1-73 1 2 1-44 1-59 1-36 1-26 1-22 1-20 1-11 1 33 1-17 1-18 1-2 1 5 1 21 1 17 1-44 1-1 1 16 1 47 1-17 1 22 1-14 1-4 1 7 1 34 1-13 1 5 1 9 1 16 1-4 1 14 1 24 1 1M0 1212l1 7 1-6 1-17 1-5 1 5 1-22 1 74 1 15 1 41 1 79 1 20 1-22 1-44 1-4 1-37 1-23 1-36 1-27 1-38 1-7 1-22 1-8 1-20 1 14 1-8 1 5 1-23 1-16 1 36 1-4 1-2 1 23 1 30 1-10 1-3 1 15 1 11 1 0 1-28 1 31 1-8 1 44 1-22 1 7 1 4 1 10M0 1345l1 4 1-1 1-2 1 5 1 1 1 0 1-7 1 24 1 3 1 11 1 73 1 74 1-30 1-48 1-33 1-43 1-13 1-23 1-22 1-30 1-36 1-14 1-14 1-11 1 5 1 6 1 5 1-4 1 13 1 6 1 6 1 6 1 6 1 5 1 5 1 4 1-2 1 12 1 4 1 4 1-3 1 11 1-2 1 5 1 7 1 11M0 1275l1-3 1-27 1 30 1 13 1-2 1 28 1-48 1 1 1 50 1 66 1 36 1 38 1-44 1-21 1-45 1-50 1-36 1-38 1-8 1-32 1-15 1 2 1-4 1-19 1 34 1-33 1 20 1 0 1 7 1-10 1-3 1 26 1-25 1 23 1-14 1-10 1 31 1 6 1 46 1-37 1 16 1 9 1 7 1-4 1-15 1 35M0 1279l1 1 1 16 1 4 1-3 1-24 1 18 1-25 1 30 1 31 1 56 1 47 1 35 1-12 1-68 1-2 1-55 1 20 1-33 1-46 1-60 1-28 1 28 1-47 1-28 1 22 1 28 1-11 1-11 1 9 1 7 1 30 1 30 1-19 1-16 1-12 1-11 1 26 1-11 1 36 1 2 1-5 1 36 1-34 1 30 1 7 1 9M0 1210l1 23 1 20 1-46 1 16 1 4 1-2 1 12 1 11 1 59 1 76 1 15 1 9 1-35 1-50 1-29 1 0 1-55 1 36 1-82 1-67 1-5 1-12 1 30 1-2 1-22 1 4 1 4 1 55 1-15 1-1 1 7 1 1 1 0 1-12 1 14 1 11 1-18 1 19 1-11 1-10 1 24 1 23 1 19 1-13 1-15 1 6M0 1215l1 9 1-7 1 19 1-21 1 10 1 8 1-1 1 18 1 45 1 88 1 10 1 4 1-52 1-21 1-38 1-43 1-8 1-41 1-7 1-21 1-16 1-15 1-31 1 4 1 9 1 30 1 18 1-6 1 1 1-56 1 13 1-1 1 32 1 16 1 11 1 8 1 2 1-3 1-7 1 20 1 0 1 20 1-14 1 0 1-4 1 26M0 1143l1 12 1 7 1 16 1 1 1 29 1-4 1 10 1 27 1 66 1 76 1 0 1 0 1-43 1-26 1-50 1-22 1-48 1-6 1-3 1-16 1-50 1 10 1-49 1 5 1-22 1 12 1-9 1 18 1-1 1 37 1 36 1-4 1 5 1-4 1-9 1-3 1-14 1 3 1 31 1-4 1 13 1-12 1 49 1 9 1-14 1 30M0 1284l1-14 1-12 1 28 1 1 1 2 1 4 1-13 1 2 1 54 1 47 1 31 1 60 1-47 1-13 1-60 1-60 1-7 1-26 1-8 1-46 1-15 1-14 1-10 1 4 1-20 1 1 1 27 1 16 1 1 1-27 1 14 1-1 1 4 1-16 1-14 1 49 1 21 1-25 1 10 1 13 1-3 1 19 1-4 1-15 1 14 1 25M0 1202l1 11 1-3 1-1 1-12 1 5 1-19 1-37 1 22 1 123 1 92 1-8 1-14 1-46 1-49 1-20 1-11 1-35 1-31 1-65 1 47 1-53 1-1 1 8 1-10 1 8 1-50 1 7 1 9 1-5 1-1 1 42 1-13 1 37 1 17 1-11 1-19 1 8 1 4 1 7 1 2 1 17 1 5 1 8 1 7 1 28 1 30M0 1232l1-2 1 19 1 4 1-8 1-8 1 9 1 13 1-4 1 64 1 64 1 8 1 29 1-65 1-51 1-4 1-64 1-14 1 36 1-31 1-3 1-24 1-48 1-17 1-1 1 16 1 13 1 0 1-6 1-23 1 29 1-11 1 24 1 21 1-36 1 46 1-14 1 18 1 8 1 21 1 1 1 10 1-6 1-27 1 0 1 20 1 17M0 1228l1-14 1 17 1 58 1-27 1-19 1 11 1 7 1 10 1 29 1 83 1 14 1 36 1-47 1-41 1-47 1-33 1 26 1-20 1-32 1-55 1-44 1 20 1-14 1 0 1 1 1-3 1-41 1 42 1 36 1-9 1-5 1 8 1-2 1-24 1 17 1 16 1 28 1-19 1 6 1 10 1 14 1 32 1-4 1 1 1-24 1 38M0 1172l1 2 1-13 1-23 1 14 1-10 1 27 1-51 1 28 1 104 1 133 1-31 1-22 1-50 1-34 1-32 1-34 1-35 1-26 1-23 1-19 1-5 1-3 1-19 1-6 1-3 1-3 1 5 1 10 1-1 1 13 1 9 1-2 1 11 1 2 1 2 1 23 1-12 1 34 1-2 1-9 1 11 1-8 1 5 1 36 1 0 1-6M0 1244l1 7 1-19 1 18 1-12 1-6 1 11 1-21 1-10 1 87 1 84 1 17 1 32 1-19 1-68 1-36 1-40 1-16 1-17 1-27 1-4 1-37 1-16 1-28 1-3 1 23 1 1 1-5 1-4 1-13 1 1 1 34 1 1 1 5 1 26 1-15 1-5 1 33 1 4 1-31 1 13 1-4 1 5 1 9 1-16 1 13 1 51M0 1217l1 22 1-30 1 7 1 29 1-9 1 2 1-9 1 22 1 67 1 65 1 19 1 19 1-76 1-4 1-1 1-39 1-41 1-39 1-15 1 9 1-24 1-45 1 10 1-32 1-11 1 3 1 19 1-3 1 22 1 2 1 25 1-35 1 13 1 18 1 25 1-46 1 13 1-20 1 34 1 0 1 17 1 21 1 10 1-11 1 14 1 51M0 1225l1-13 1 17 1-21 1 15 1-28 1 15 1 48 1-28 1 65 1 88 1 4 1-39 1-39 1-3 1 0 1-41 1-32 1-3 1-36 1-3 1-16 1-36 1 5 1-10 1-14 1-5 1 21 1-27 1-15 1 43 1 36 1-9 1 12 1-37 1-8 1 12 1 12 1 17 1 0 1 8 1 4 1 17 1 18 1 7 1 17 1-14M0 1179l1-8 1 39 1 13 1-2 1-7 1-19 1-26 1 29 1 92 1 93 1 11 1-6 1-18 1-18 1-19 1-62 1-18 1-16 1-38 1-26 1-46 1 1 1-19 1-4 1 5 1 17 1-8 1-1 1-1 1 58 1-25 1 7 1-28 1 18 1-11 1 9 1 29 1 32 1-8 1 5 1-2 1-9 1 7 1 20 1 2 1-5M0 1222l1-10 1 17 1-32 1 23 1-17 1 5 1 41 1 17 1 38 1 79 1 18 1 24 1-49 1-33 1-50 1-87 1 17 1-31 1-3 1-32 1-27 1-21 1 13 1 4 1 12 1-3 1-2 1-14 1 5 1 13 1-41 1 7 1 24 1 31 1 26 1 20 1-30 1 4 1-5 1-6 1 8 1 13 1 20 1-26 1 15 1-3M0 1339l1-21 1-16 1 16 1 12 1-26 1-3 1 12 1 2 1 56 1 12 1 66 1 42 1 3 1-84 1-37 1-35 1-14 1-40 1-19 1 1 1-35 1-11 1-1 1-9 1 8 1-3 1-16 1 32 1-31 1-7 1 4 1 57 1 0 1 12 1-29 1-5 1 24 1 0 1 12 1 15 1 1 1 3 1 5 1-2 1 14 1 18M0 1193l1 13 1-12 1-4 1 32 1 2 1 21 1 3 1-23 1 58 1 100 1 3 1-69 1-10 1 1 1-36 1-33 1-42 1-59 1 18 1-31 1-8 1-11 1 21 1-17 1-6 1-12 1-13 1 18 1 22 1-5 1-36 1 10 1 55 1-15 1 9 1-28 1 13 1 4 1 32 1 14 1 7 1 13 1-16 1 30 1-12 1 17M0 1334l1 7 1-1 1 2 1 3 1-1 1 0 1 7 1 3 1 16 1 13 1 66 1 81 1-31 1-54 1-46 1-33 1-5 1-28 1-15 1-30 1-36 1-22 1-14 1 0 1 3 1 2 1 3 1 9 1-10 1 21 1 6 1 3 1 9 1-22 1 8 1 26 1 7 1 2 1-6 1 14 1 6 1 1 1 2 1 10 1 6 1-5M0 1240l1-2 1-13 1-27 1 8 1 55 1-14 1 2 1-32 1 76 1 90 1 24 1 0 1-39 1-51 1-79 1 15 1-66 1-13 1-38 1-9 1-11 1-6 1 23 1-33 1 0 1 15 1-5 1-1 1 44 1 3 1-22 1 11 1-11 1 21 1-20 1 32 1 10 1 7 1 0 1 6 1-13 1 12 1 16 1 7 1-14 1 23M0 1158l1-7 1 2 1 10 1 17 1 15 1-4 1-22 1 28 1 91 1 95 1-24 1-23 1 13 1-62 1-38 1-23 1-65 1-37 1-9 1 5 1-28 1-17 1-23 1 32 1-28 1 28 1-15 1 27 1 24 1-30 1 15 1 13 1 17 1-16 1 23 1-6 1-18 1 28 1 20 1-10 1-4 1 15 1 24 1-34 1 27 1 32M0 1199l1-5 1 4 1 17 1-42 1 0 1-15 1 12 1 58 1 52 1 103 1-12 1-2 1-41 1-49 1-35 1-27 1-51 1-47 1 27 1-17 1-30 1-4 1 8 1-25 1 4 1-8 1 31 1-45 1 0 1 51 1-19 1 2 1-3 1-10 1 26 1 31 1 11 1-18 1 7 1 41 1-10 1-14 1 26 1-5 1-23 1 10M0 1277l1 0 1 13 1-18 1-21 1 16 1-3 1 10 1 10 1 46 1 53 1 41 1 87 1-77 1-21 1-30 1-59 1-44 1 5 1-30 1-30 1-34 1 26 1-53 1 7 1 33 1-11 1 30 1-18 1-4 1 13 1-17 1 9 1 16 1-10 1 17 1 20 1-26 1 8 1 15 1-9 1 26 1 18 1-19 1 6 1-5 1 10M0 1256l1 5 1-8 1 24 1 7 1-23 1 10 1 41 1-17 1 54 1 34 1 48 1 50 1-94 1-1 1-28 1-30 1-34 1-7 1-14 1-33 1-51 1-18 1-11 1-11 1-10 1-12 1 18 1-3 1 11 1-7 1-2 1 19 1 15 1 51 1-13 1 16 1 0 1 0 1-8 1 14 1 7 1-26 1 24 1-1 1-17 1 9M0 1291l1-11 1 18 1 0 1-39 1-10 1 20 1-12 1 17 1 62 1 47 1 35 1 14 1 30 1-89 1-32 1-8 1-35 1-41 1-36 1 14 1-23 1-54 1-19 1 20 1 31 1-20 1 20 1-32 1-13 1 5 1 35 1 14 1 19 1-32 1 48 1-12 1 49 1-16 1-38 1 13 1-4 1 39 1-2 1 18 1-19 1-4M0 1244l1-17 1 18 1 20 1-18 1-10 1-4 1 16 1 12 1 63 1 59 1 29 1 18 1-38 1-12 1-48 1-40 1-37 1 1 1-23 1-58 1 0 1-10 1 2 1-12 1-10 1-20 1 29 1 20 1-25 1 6 1 16 1-1 1 12 1-4 1-4 1 33 1-33 1 28 1-8 1 12 1-4 1 14 1-4 1 15 1-16 1 3M0 1238l1-21 1 39 1-22 1 10 1-41 1-4 1-2 1 9 1 75 1 102 1 2 1 47 1-46 1-41 1-75 1 11 1-5 1-64 1-41 1-26 1 17 1-40 1-17 1-19 1 23 1 22 1-17 1 31 1 0 1-14 1 21 1 25 1 15 1-3 1 15 1-14 1 3 1 28 1-16 1-17 1-12 1 9 1-16 1 10 1 7 1 23M0 1158l1 2 1 15 1 12 1 14 1-25 1-32 1 24 1 16 1 81 1 118 1 4 1-20 1-60 1-33 1-51 1 9 1-75 1-37 1 9 1-30 1-34 1 18 1 9 1-43 1 16 1 13 1 26 1-9 1 3 1-6 1 11 1 25 1-3 1-21 1 3 1 40 1-34 1-1 1 3 1 35 1-18 1 2 1 9 1 16 1 14 1-19M0 1146l1 37 1-8 1 4 1-1 1-27 1-14 1 2 1 68 1 70 1 106 1-18 1 35 1-58 1-80 1-28 1-20 1-13 1-42 1-9 1-24 1-21 1-19 1 1 1 9 1-13 1-13 1 54 1-10 1-2 1-34 1 32 1-29 1 38 1 6 1-9 1-3 1 16 1 0 1-16 1 38 1-23 1 15 1 4 1 37 1-29 1 33M0 1201l1 7 1 16 1 1 1 23 1 16 1 16 1-23 1 29 1 42 1 55 1 36 1 33 1-41 1-32 1-34 1-57 1-61 1 28 1-5 1-37 1-10 1-25 1-18 1-15 1 25 1 23 1-20 1-14 1 25 1 12 1 5 1-31 1 20 1 10 1-2 1 15 1-1 1 12 1 1 1-2 1 34 1-11 1 8 1 11 1-20 1 8M0 1186l1-18 1 28 1-2 1-23 1 20 1-17 1-15 1 38 1 87 1 99 1 1 1 0 1-38 1-24 1-39 1-21 1-41 1-28 1-90 1-1 1 32 1-30 1-10 1-12 1-27 1 27 1 39 1 17 1-22 1-18 1 1 1 22 1-3 1 23 1 4 1-21 1-4 1 34 1 18 1-3 1 24 1-11 1-7 1 4 1 16 1-35M0 1245l1-15 1-7 1 33 1-15 1-3 1 20 1-29 1 71 1 21 1 62 1 10 1 13 1-39 1-34 1-40 1-63 1 24 1-2 1-16 1-26 1-27 1-33 1 37 1-40 1-25 1 44 1-17 1 2 1-14 1 10 1 20 1 10 1-19 1 28 1-11 1-15 1 38 1 10 1-2 1-8 1 24 1-4 1-6 1 19 1 11 1-16M0 1267l1 4 1 22 1 2 1 17 1 4 1-49 1 42 1 8 1 36 1 30 1 43 1 73 1-23 1-51 1-50 1-4 1-28 1-15 1-32 1-30 1-21 1-12 1-13 1-18 1-2 1-21 1 10 1 0 1-1 1 17 1 12 1-4 1-16 1 21 1 15 1 15 1-11 1-9 1-10 1 27 1 5 1 24 1-20 1 38 1-2 1 4M0 1255l1 7 1-43 1 3 1 19 1 11 1-1 1-19 1 30 1 55 1 66 1 37 1 20 1-29 1-24 1-33 1-76 1-45 1-49 1 29 1-28 1-33 1-5 1-25 1 13 1-13 1 23 1 5 1-1 1 13 1-4 1 5 1 26 1 23 1-5 1 14 1-41 1 13 1 7 1-2 1 17 1 33 1-6 1 9 1 11 1 10 1-11M0 1226l1 4 1-21 1 26 1-30 1-20 1 11 1-17 1 26 1 85 1 93 1 3 1-24 1-66 1 10 1-10 1-27 1-51 1-14 1-35 1 1 1-55 1 3 1-16 1 9 1-4 1-33 1 14 1-1 1 25 1 22 1-21 1 20 1-11 1 6 1 17 1 28 1 3 1 8 1-12 1 2 1 15 1 2 1 3 1 8 1 29 1 12M0 1317l1-17 1-14 1 16 1-12 1-21 1 18 1 50 1 10 1 20 1 16 1 65 1 39 1-13 1-34 1-36 1-36 1-27 1-6 1-53 1-59 1-17 1 1 1 2 1-21 1 11 1 4 1 17 1-9 1 17 1 11 1-6 1 2 1-1 1-1 1 2 1-3 1 30 1 11 1-2 1 6 1 3 1 20 1 4 1-8 1 15 1-25M0 1197l1 15 1-9 1-7 1-2 1-13 1-4 1 4 1 38 1 81 1 83 1 28 1 23 1-91 1-40 1 6 1-43 1-29 1-25 1-55 1-3 1-23 1-23 1 6 1 20 1-16 1-27 1 12 1-5 1-24 1 24 1 28 1-6 1 15 1 9 1 1 1 5 1 7 1 6 1 8 1 16 1-6 1-6 1 20 1-6 1 46 1-12M0 1335l1 2 1 6 1-1 1-6 1-5 1-13 1-6 1 48 1-8 1 31 1 73 1 73 1-29 1-48 1-32 1-61 1-47 1 23 1-38 1-12 1-40 1-9 1-17 1-7 1-18 1 19 1-3 1 22 1-1 1 11 1 7 1 5 1-3 1 13 1 4 1 8 1-4 1-8 1 23 1 5 1 6 1 4 1-11 1 14 1 10 1 8M0 1313l1-24 1-9 1 8 1 6 1-11 1 11 1 14 1-6 1 52 1 29 1 55 1 26 1-47 1-60 1-20 1-26 1-23 1-22 1-21 1-32 1-29 1-3 1-19 1 0 1-13 1-11 1 34 1-7 1 13 1-8 1-9 1 2 1 11 1 45 1-11 1 14 1-2 1 10 1-14 1 32 1 3 1-7 1 19 1-26 1 7 1 24M0 1294l1 35 1 4 1-31 1 10 1 14 1-28 1 29 1-18 1 58 1 16 1 73 1 73 1-36 1-92 1 8 1-37 1-19 1-41 1-68 1 6 1-43 1-4 1 1 1-31 1 20 1-8 1 2 1 26 1-23 1 8 1 13 1 30 1-2 1 15 1-21 1-13 1 19 1 38 1 3 1-12 1-6 1 31 1 4 1-28 1-15 1 60M0 1234l1 6 1-5 1-3 1 0 1-32 1 13 1 4 1 45 1 64 1 57 1 20 1 20 1 5 1-47 1-64 1-13 1-61 1 5 1-32 1-54 1-22 1-4 1 11 1 6 1-41 1 1 1 31 1 7 1 6 1 9 1 9 1 16 1-17 1-37 1 33 1-2 1-14 1 25 1 0 1 14 1-24 1 33 1 8 1 10 1-5 1 0M0 1286l1-12 1-21 1 20 1-8 1 19 1-17 1 7 1 26 1 34 1 49 1 31 1 69 1-50 1-54 1-31 1-39 1-34 1-6 1-32 1-24 1-21 1-14 1-22 1 13 1 30 1-26 1 16 1-16 1 2 1-8 1 7 1 4 1 16 1 6 1 47 1-27 1 15 1 13 1-33 1-12 1 38 1-13 1 10 1-30 1 17 1 25M0 1321l1-32 1 21 1-15 1-10 1-5 1-2 1-22 1 33 1 39 1 55 1 70 1 23 1 2 1-87 1-35 1-13 1-22 1-3 1-12 1-57 1-48 1 0 1-10 1 12 1-48 1 30 1 9 1-7 1-9 1 0 1 4 1 44 1-3 1-3 1 6 1 14 1 12 1-5 1-2 1-8 1 10 1 5 1-3 1 6 1 33 1 12M0 1266l1-11 1 13 1-13 1 18 1-7 1-17 1-22 1 28 1 64 1 64 1 20 1 12 1-18 1-66 1-19 1 4 1-24 1-38 1 1 1-55 1-18 1-15 1-24 1 1 1 34 1-34 1-13 1 40 1-19 1 4 1 0 1-2 1 23 1-12 1-3 1 15 1 22 1 27 1-8 1 13 1 15 1-5 1 6 1-12 1-21 1 32M0 1183l1-20 1-14 1 12 1-14 1 16 1 2 1 1 1 43 1 81 1 93 1-3 1-12 1-52 1-61 1-30 1 12 1-46 1-20 1 3 1-59 1-1 1-56 1-5 1-9 1 5 1 10 1-2 1 3 1 64 1-10 1 1 1-21 1-4 1 18 1 2 1 7 1 4 1-14 1 25 1 13 1 13 1 11 1 25 1-22 1 5 1 25M0 1233l1-20 1-8 1-14 1 9 1 42 1 15 1-23 1 13 1 70 1 66 1 4 1 0 1-67 1-31 1-25 1-28 1-26 1-63 1 16 1-25 1-4 1 0 1-18 1 19 1-42 1 6 1 10 1 30 1-10 1 10 1 2 1 35 1-21 1-16 1 3 1 19 1 28 1-46 1 0 1 45 1-7 1-5 1 4 1-3 1 2 1 23M0 1222l1-61 1 25 1-10 1 36 1-29 1 12 1 25 1 8 1 56 1 99 1-3 1 20 1-49 1-36 1-61 1-29 1-6 1-41 1-35 1-25 1 7 1-8 1-10 1-25 1-27 1 33 1-4 1 22 1 7 1-12 1-11 1 33 1-34 1-8 1 54 1-9 1 15 1 25 1 30 1-34 1 0 1 20 1-3 1-12 1 28 1-26M0 1277l1 0 1-12 1 3 1 23 1-2 1 13 1-2 1 1 1 37 1 45 1 40 1 74 1-70 1-8 1-61 1-52 1-17 1-40 1 29 1-7 1-31 1-8 1-19 1-57 1 19 1-13 1 25 1-6 1-3 1-5 1 26 1 24 1-23 1 17 1 12 1-2 1 0 1 26 1 16 1-1 1 2 1 4 1-18 1 3 1 9 1-8M0 1304l1 15 1-32 1-19 1-14 1 20 1-4 1 20 1-13 1 56 1 50 1 39 1 35 1-69 1-8 1-31 1-33 1-29 1-39 1-10 1-8 1-8 1-27 1-30 1 11 1-11 1-4 1 5 1 15 1-21 1 17 1 8 1 0 1 39 1-34 1 13 1 12 1 9 1 27 1-43 1 11 1-2 1-7 1 13 1 23 1 6 1 42M0 1156l1 2 1-2 1 8 1-11 1 8 1-10 1-8 1 3 1 107 1 130 1-27 1-20 1-45 1-35 1-7 1-66 1-35 1-5 1-19 1-23 1 1 1-30 1-7 1 18 1-36 1 9 1 11 1 3 1 5 1-13 1 11 1 5 1 13 1 6 1 34 1 4 1 23 1-4 1-8 1 3 1 13 1-25 1-9 1 4 1 17 1 3M0 1223l1 13 1-14 1-13 1-1 1 21 1-6 1 10 1 29 1 47 1 74 1 0 1 1 1-42 1-19 1-50 1-18 1-34 1 1 1-50 1-12 1-8 1-41 1 9 1-13 1-10 1-15 1 25 1 2 1 7 1 26 1-48 1 46 1 48 1-15 1-9 1 3 1 21 1 37 1-33 1-48 1 34 1 11 1 7 1 4 1-24 1 33M0 1199l1-11 1-12 1-20 1 45 1-5 1 5 1 23 1 7 1 66 1 86 1 2 1 10 1-68 1-58 1-6 1-35 1-1 1-63 1-15 1-6 1-17 1-34 1-22 1 3 1 43 1-28 1-2 1 24 1 6 1 22 1-21 1-7 1 26 1-3 1 5 1-11 1 2 1 4 1 8 1 4 1 10 1 6 1 28 1 26 1-16 1 26M0 1212l1 28 1-17 1 36 1-11 1 30 1 12 1-27 1-4 1 75 1 49 1 29 1 50 1-45 1-35 1-6 1-53 1-26 1-45 1-76 1 8 1-16 1 2 1-13 1-18 1-4 1 10 1-8 1-9 1 26 1 11 1 17 1-7 1 7 1-7 1 8 1 27 1 29 1-17 1 7 1-14 1-15 1 10 1 11 1 7 1 1 1 20M0 1278l1 12 1 8 1 11 1 0 1 5 1-12 1-28 1 8 1 53 1 48 1 38 1 48 1-25 1-51 1-21 1-3 1-61 1-28 1-38 1 9 1-23 1-44 1 2 1-30 1 20 1 5 1 6 1-24 1 24 1 14 1 28 1-3 1-1 1-8 1 19 1 15 1 8 1 9 1-11 1-22 1 16 1 31 1 12 1-22 1 38 1 11M0 1257l1 22 1 14 1 27 1-31 1-11 1 20 1 8 1 21 1 16 1 40 1 45 1 53 1-20 1-74 1-58 1-1 1-30 1-22 1-1 1-66 1-19 1-13 1 0 1-10 1 12 1-24 1 6 1-1 1 33 1 23 1-7 1 11 1-7 1-7 1 32 1-7 1 23 1 27 1-39 1 11 1-6 1 10 1-35 1 32 1-3 1 21M0 1273l1-8 1 2 1-9 1-25 1 5 1 4 1 4 1 28 1 56 1 53 1 57 1 13 1-31 1-41 1-42 1-24 1-76 1 14 1-24 1-59 1-10 1 31 1-25 1 19 1 18 1-20 1-17 1 12 1 21 1 18 1-12 1-22 1 33 1-38 1 12 1 13 1 16 1-9 1 12 1 19 1-3 1-13 1 22 1 2 1-11 1 3M0 1328l1 9 1-9 1 0 1 2 1-6 1 16 1 8 1 20 1 4 1 11 1 55 1 91 1-32 1-69 1-41 1-8 1-25 1-14 1-23 1-29 1-37 1-51 1 22 1-23 1 21 1 3 1-1 1 2 1-2 1 18 1 9 1-9 1-14 1 40 1 5 1-10 1 19 1 5 1 5 1 4 1 1 1-38 1 41 1-3 1 23 1 6M0 1252l1-16 1 8 1 49 1-13 1-40 1 34 1 18 1-9 1 51 1 49 1 32 1 41 1-63 1-19 1-11 1-59 1-9 1-8 1-21 1-11 1-52 1-32 1 4 1-5 1-39 1 18 1-1 1 8 1 15 1 34 1 0 1-15 1-2 1 15 1 13 1 47 1-38 1-7 1 24 1-9 1 7 1-23 1-9 1 36 1-5 1 30M0 1217l1 18 1-26 1-12 1 28 1-6 1-6 1 16 1-12 1 79 1 87 1-9 1 18 1-7 1-51 1-65 1-27 1-18 1-24 1 3 1-54 1-13 1-16 1-8 1-10 1 11 1-24 1 10 1 18 1 19 1 16 1-5 1 17 1 14 1-15 1 31 1 10 1-23 1-5 1-4 1 5 1 12 1 7 1-5 1 14 1 23 1 10M0 1262l1-1 1 33 1-13 1-19 1 20 1 22 1-44 1 55 1 17 1 51 1 44 1 28 1-48 1-52 1-39 1-24 1 6 1-29 1 18 1-54 1-49 1-8 1 16 1-33 1 3 1 19 1-13 1 14 1-3 1 2 1 5 1 4 1 22 1-27 1-4 1 14 1-8 1 9 1 2 1 20 1-13 1 18 1 5 1 31 1-22 1-7M0 1133l1-2 1 19 1-11 1 3 1 3 1 13 1-26 1 12 1 111 1 128 1-26 1-40 1-21 1-37 1-32 1-4 1-68 1-12 1 8 1-55 1 19 1-19 1-18 1 6 1-15 1-31 1 7 1 7 1 0 1 16 1-1 1 3 1 43 1 10 1 14 1 13 1-41 1 36 1-27 1-3 1 12 1 2 1 34 1-15 1 15 1 0M0 1190l1-4 1 8 1-1 1 16 1-11 1 4 1 25 1 7 1 91 1 58 1 10 1 6 1-23 1-44 1-47 1-46 1-41 1-19 1-52 1-27 1-17 1 34 1-9 1 5 1-15 1 2 1-13 1-23 1 21 1 9 1 5 1-8 1 33 1 21 1 9 1 15 1-21 1 17 1 0 1-5 1 8 1-9 1 8 1 11 1-18 1 48M0 1298l1 21 1-9 1-5 1 16 1-28 1-27 1 26 1 12 1 51 1 28 1 46 1 48 1-54 1-33 1-32 1-18 1 6 1-34 1-42 1-29 1-36 1-20 1-4 1-25 1-2 1 18 1 23 1 6 1-7 1 23 1 1 1 27 1-5 1-8 1-21 1 34 1 13 1 14 1-22 1-16 1 34 1-4 1-38 1 33 1-9 1 43M0 1252l1 26 1 6 1 14 1-25 1-14 1 33 1-34 1 36 1 54 1 35 1 58 1 88 1-32 1-75 1-45 1-52 1-15 1 25 1-29 1-50 1-60 1-44 1 12 1-7 1 20 1-14 1 29 1-1 1-5 1 18 1-2 1 9 1-4 1 22 1-25 1 19 1 21 1 17 1 5 1 16 1-7 1 26 1-21 1-35 1-13 1 3M0 1199l1-7 1 34 1-27 1 20 1 22 1 16 1-9 1-18 1 66 1 87 1 38 1 8 1-22 1-41 1-51 1-20 1-57 1-5 1-14 1-37 1-37 1 20 1-35 1-19 1-14 1 13 1 11 1-3 1 34 1 2 1 12 1-25 1 10 1 40 1 12 1-2 1 13 1 2 1-3 1 2 1 4 1-9 1 32 1 27 1-17 1-7M0 1346l1 2 1 0 1-1 1-2 1 6 1-13 1 15 1 18 1 1 1 11 1 73 1 74 1-30 1-48 1-34 1-53 1-5 1-21 1-22 1-30 1-37 1-13 1-30 1 9 1 4 1 4 1 4 1 5 1 5 1 6 1 5 1 7 1 6 1-7 1 17 1 4 1 5 1 4 1 5 1 4 1 3 1 5 1 4 1 4 1 8 1 8M0 1176l1 7 1 34 1-6 1 8 1 18 1-59 1 2 1 6 1 100 1 97 1 9 1-19 1-51 1-49 1-40 1-18 1-36 1-6 1-31 1-7 1-18 1 7 1-8 1-26 1 19 1-22 1-11 1 28 1-21 1 4 1-10 1 0 1 33 1-3 1 46 1 20 1-7 1-16 1 6 1 1 1 25 1-35 1 14 1 13 1 16 1 16M0 1225l1-27 1 28 1 0 1-8 1 17 1-23 1-28 1 40 1 76 1 83 1 2 1 15 1-17 1-69 1-52 1-7 1-52 1 16 1-2 1-56 1 16 1-38 1-18 1-10 1 6 1 10 1 1 1-15 1 3 1-17 1 5 1 26 1 12 1-2 1 16 1-6 1 12 1 10 1 22 1 13 1-25 1 1 1-19 1 54 1-37 1 21M0 1153l1 4 1 9 1-17 1 15 1-17 1-11 1-3 1 12 1 129 1 109 1-11 1-56 1-34 1-18 1-50 1-18 1-51 1-23 1-13 1-23 1-13 1 2 1 8 1 6 1 2 1-21 1-27 1 4 1 6 1 18 1 25 1-12 1-6 1 11 1 11 1 17 1 11 1-7 1-11 1 5 1 4 1 4 1 47 1 8 1-6 1 32M0 1186l1 6 1-18 1-6 1 19 1 1 1-14 1 1 1 28 1 76 1 104 1-8 1-18 1-32 1-60 1-19 1-37 1-57 1 26 1-28 1-22 1-9 1 5 1-9 1-33 1 1 1-15 1 5 1 16 1 23 1-24 1 23 1 7 1-18 1 63 1-21 1 16 1-10 1 5 1 14 1-6 1 0 1 22 1 10 1 28 1-16 1-37M0 1170l1-22 1-14 1 34 1-30 1-10 1 19 1 29 1 19 1 65 1 123 1-26 1-21 1-56 1-34 1-24 1-31 1-23 1-50 1-7 1 0 1 13 1-40 1 4 1-7 1-15 1 3 1 0 1 13 1-6 1 5 1-9 1 5 1 16 1 12 1 10 1 16 1-17 1-4 1 0 1 30 1 33 1-8 1 2 1-19 1 11 1 31M0 1224l1 21 1 4 1 18 1 21 1-18 1 0 1 9 1-12 1 55 1 61 1 26 1 45 1-31 1-44 1-53 1-47 1 8 1-15 1-41 1-16 1-48 1-23 1 6 1-7 1 7 1 40 1-11 1-7 1 32 1-31 1 1 1-2 1 9 1 48 1-49 1 36 1-25 1-13 1 21 1 12 1 5 1-9 1 27 1-17 1 29 1 54M0 1174l1 0 1-28 1 14 1 23 1 10 1 0 1-22 1 9 1 83 1 120 1-17 1-43 1-34 1 10 1-72 1-9 1-23 1-46 1-17 1-51 1 6 1 4 1-23 1 2 1-1 1 8 1 12 1 14 1-12 1 11 1 13 1 22 1-13 1-13 1-6 1 10 1-15 1 6 1 30 1 39 1 10 1-26 1 21 1-3 1-10 1 30M0 1306l1 1 1 8 1-19 1-8 1-9 1 23 1 3 1 32 1 15 1 31 1 51 1 54 1-38 1-19 1-44 1-92 1-15 1 5 1-13 1-27 1-36 1 14 1-39 1 6 1 12 1 9 1 17 1-27 1-10 1 17 1 14 1 10 1-14 1 2 1 37 1 3 1 4 1 7 1 16 1-15 1 1 1-29 1 10 1 17 1 19 1-9M0 1156l1-23 1 5 1 18 1 19 1 26 1-11 1-22 1 20 1 84 1 111 1 3 1-54 1-30 1 12 1-27 1-60 1-83 1 0 1-8 1-26 1-2 1-10 1-4 1-17 1-6 1 5 1-4 1-14 1-3 1 25 1-4 1 1 1 7 1 29 1-25 1 4 1 14 1 15 1 38 1-11 1-22 1 21 1 13 1 8 1 9 1 38M0 1225l1-4 1-31 1-5 1 3 1 11 1-10 1 41 1 8 1 55 1 90 1 8 1-5 1-47 1-47 1-12 1 4 1-98 1-7 1-6 1-34 1 29 1-23 1-45 1 8 1-17 1 25 1 3 1 23 1-23 1 16 1 32 1-15 1-16 1 7 1 15 1 1 1 16 1 22 1-20 1-19 1 5 1-7 1 13 1 16 1-11 1 27M0 1194l1 9 1-17 1 32 1-2 1 13 1 21 1-2 1 2 1 62 1 71 1 14 1 46 1-65 1-46 1-27 1-32 1-20 1-55 1-24 1-17 1-13 1 0 1-9 1-12 1-18 1-13 1-1 1 35 1 31 1-22 1-17 1 13 1 19 1-1 1 7 1 21 1 8 1-7 1-14 1 14 1 28 1-29 1 41 1-1 1 26 1-18M0 1154l1 17 1 6 1-2 1 4 1 7 1-17 1 21 1-23 1 99 1 117 1-12 1-13 1-68 1-24 1-21 1-56 1-8 1-48 1-25 1-28 1 7 1-13 1 12 1 5 1-14 1 6 1 29 1-41 1-15 1 52 1-17 1 58 1-4 1-52 1 34 1 1 1 7 1 19 1-12 1 1 1 11 1-23 1 15 1 18 1 10 1 10M0 1184l1 5 1-16 1 32 1 25 1-2 1-38 1 11 1 40 1 70 1 72 1 26 1-12 1-24 1-36 1-53 1-38 1-24 1 24 1-19 1-45 1-32 1-40 1 5 1 13 1-12 1 9 1 24 1-16 1-24 1 16 1 10 1 55 1-18 1-6 1 19 1-18 1 2 1 7 1 5 1 13 1 5 1-35 1 41 1-4 1 22 1 5M0 1282l1-18 1-12 1 9 1-4 1 30 1-20 1-15 1 57 1 20 1 54 1 31 1 45 1-7 1-42 1-62 1-32 1-11 1-33 1 7 1-22 1-29 1-39 1-17 1-34 1-7 1 22 1-8 1 12 1-11 1 5 1-3 1 28 1-2 1 17 1 18 1-6 1 7 1 43 1-7 1 16 1 8 1-4 1-6 1-34 1 24 1-9M0 1161l1 20 1 1 1 2 1 2 1 1 1-31 1-14 1 23 1 112 1 106 1-23 1-37 1-36 1-37 1-34 1 3 1-40 1-60 1-9 1-5 1-4 1-33 1-18 1 35 1-34 1-12 1 15 1 29 1 14 1-22 1 8 1-6 1 13 1-3 1 56 1 6 1-17 1-4 1 27 1-20 1 0 1-1 1 10 1 34 1-17 1-12M0 1160l1-17 1-4 1 5 1 24 1 7 1-7 1 9 1 11 1 86 1 109 1-9 1-21 1-41 1-41 1-24 1-37 1-57 1-24 1-30 1-23 1-14 1 45 1-47 1 3 1 15 1-9 1 3 1-12 1 2 1 5 1 0 1 17 1 25 1 19 1 26 1-5 1 46 1-28 1-30 1-17 1 22 1 22 1 14 1-6 1 24 1-6M0 1209l1 4 1 11 1-27 1-9 1 35 1-11 1 22 1 17 1 58 1 74 1 15 1 19 1-28 1-35 1-66 1-34 1 0 1-22 1-9 1-17 1-62 1-14 1 12 1-12 1-25 1 10 1 9 1-10 1 1 1 26 1 12 1-23 1-4 1 12 1 14 1 7 1-6 1 19 1-27 1 9 1 21 1 11 1 6 1 12 1 8 1 0M0 1315l1 31 1-38 1 19 1-27 1-20 1 4 1-32 1 47 1 55 1 29 1 55 1 80 1-45 1-29 1-52 1-9 1-28 1-49 1 4 1-29 1-66 1 22 1-24 1-3 1 10 1-1 1-11 1 16 1-38 1 46 1-10 1 32 1 7 1-12 1-15 1 37 1-19 1 14 1 15 1 10 1 1 1-13 1 21 1 6 1 11 1-11M0 1326l1-11 1 11 1-7 1-33 1 6 1 20 1 9 1 25 1 12 1 25 1 56 1 74 1-32 1-43 1-49 1-41 1-26 1-11 1-27 1-20 1-38 1 9 1-29 1-21 1 20 1 18 1 0 1-20 1 26 1-15 1 14 1 5 1-10 1 34 1 7 1-1 1 8 1-17 1 9 1 16 1 14 1-31 1 26 1-12 1-16 1 45M0 1269l1 26 1-2 1 12 1 24 1 1 1-18 1-31 1 12 1 47 1 43 1 51 1 65 1-3 1-52 1-78 1 11 1-44 1-37 1-60 1-5 1 15 1-32 1-12 1-10 1 13 1-22 1-8 1 24 1 19 1-16 1 15 1 20 1 1 1-10 1 39 1 7 1-2 1-14 1-22 1 5 1 13 1-8 1 31 1-21 1 44 1-10M0 1187l1 13 1 15 1-30 1 17 1-12 1-21 1-6 1 52 1 59 1 109 1-6 1 25 1-95 1-16 1-22 1-66 1-26 1-17 1 0 1-31 1-26 1 2 1 10 1-37 1 7 1-2 1 7 1 23 1-14 1-18 1 17 1-8 1 51 1 22 1-31 1 8 1-21 1 19 1 6 1 45 1-2 1-2 1 16 1-16 1 17 1-12M0 1239l1-71 1 29 1-11 1 25 1-18 1 8 1-24 1 48 1 61 1 97 1-32 1-34 1 12 1-52 1-38 1-14 1-27 1-14 1-27 1 19 1-62 1-16 1-4 1 8 1 22 1-15 1 12 1 1 1 48 1-39 1 22 1-12 1 3 1 12 1 18 1-22 1 2 1-10 1-29 1 68 1 0 1-1 1-11 1 7 1 19 1 27M0 1250l1-21 1-1 1 11 1-29 1 12 1 15 1 35 1-28 1 56 1 83 1 4 1 74 1-42 1-36 1-34 1-80 1-4 1-42 1-15 1-18 1-20 1 2 1-18 1 7 1-5 1-16 1 14 1-7 1 21 1-7 1 0 1 27 1-34 1 28 1-2 1 23 1 12 1-19 1 18 1 30 1-19 1 14 1 36 1-54 1 10 1 43M0 1220l1-17 1-37 1 45 1 19 1 20 1-4 1-30 1-17 1 99 1 85 1 24 1 22 1-7 1-79 1-41 1-18 1-48 1-38 1-22 1-2 1-41 1-9 1 1 1-20 1-2 1 11 1 12 1-11 1 2 1 30 1-7 1 7 1 5 1-4 1 25 1-3 1-24 1 50 1-6 1 5 1 8 1-7 1-12 1 0 1 11 1 30M0 1221l1-46 1 3 1 21 1-12 1 27 1-4 1-4 1-1 1 86 1 92 1 10 1 11 1-45 1-60 1-11 1-51 1-2 1-14 1-49 1-24 1 14 1-15 1-6 1-30 1 11 1-30 1 24 1 19 1-9 1 11 1-6 1 2 1 13 1 13 1 3 1 10 1-18 1-12 1 29 1-32 1 0 1 8 1 40 1 19 1 54 1-27M0 1208l1-23 1 32 1-19 1-7 1 14 1-5 1 15 1 26 1 70 1 72 1 2 1 3 1-54 1-54 1-38 1 8 1-58 1 17 1-29 1-33 1-17 1 19 1-47 1 7 1-10 1-15 1-19 1 13 1 8 1 25 1 29 1 8 1-5 1 36 1-22 1 5 1-2 1 20 1 8 1-3 1 12 1 2 1-12 1 23 1-7 1-2M0 1258l1 6 1 47 1-9 1-27 1-13 1 21 1-1 1-5 1 62 1 44 1 46 1 65 1-16 1-100 1-19 1-5 1-38 1-37 1 0 1-74 1-22 1 0 1-22 1-3 1 18 1 8 1-8 1-20 1-12 1 8 1 14 1 5 1 68 1-19 1-5 1 14 1-24 1 4 1 24 1-9 1 27 1-13 1 11 1 27 1 12 1-6M0 1254l1-15 1-18 1 28 1 15 1-7 1-13 1-21 1 15 1 70 1 75 1 32 1 23 1-30 1-75 1-19 1-11 1-52 1-58 1 15 1 7 1-30 1-32 1-2 1-45 1 17 1-6 1 34 1-18 1 46 1 30 1 10 1-9 1-31 1-2 1 22 1 3 1-13 1 4 1-5 1 20 1 3 1 26 1 5 1-13 1 28 1-43M0 1146l1 16 1 32 1-5 1-11 1-10 1-34 1 4 1 41 1 93 1 111 1-22 1-40 1-41 1-33 1-30 1-37 1-34 1-24 1-11 1-18 1-11 1-12 1-15 1-1 1 0 1 16 1-3 1-11 1 23 1 0 1 17 1 34 1-5 1-35 1-2 1 21 1-10 1 7 1 15 1 0 1 0 1 10 1 3 1 3 1 21 1-5M0 1242l1 2 1-13 1-10 1 4 1 1 1-26 1-2 1 47 1 51 1 87 1 25 1 8 1-50 1-37 1-17 1-35 1-12 1-30 1-49 1-12 1-16 1-21 1-27 1-12 1 18 1-15 1 42 1 5 1-39 1-1 1 22 1-10 1 18 1 29 1 11 1-21 1 24 1 18 1-17 1 16 1-11 1-14 1 37 1 18 1-20 1-33M0 1273l1 13 1-23 1 21 1 20 1-7 1 8 1-4 1 31 1 14 1 37 1 28 1 42 1-23 1-59 1 2 1-44 1 29 1-29 1-61 1-29 1-19 1-3 1-2 1-33 1 15 1-9 1 16 1-8 1 0 1 10 1-8 1 10 1 14 1-28 1 12 1 9 1 31 1 2 1 1 1-9 1 17 1-2 1 22 1-8 1 6 1 18M0 1226l1 20 1 5 1-28 1-2 1 36 1 7 1-11 1 38 1 21 1 71 1 31 1 63 1-57 1-58 1-23 1-41 1-5 1-13 1-43 1-32 1-27 1 17 1-27 1 2 1-10 1-18 1-18 1 27 1 18 1 8 1 25 1 5 1 24 1-6 1-27 1 25 1-23 1 8 1-12 1 32 1 25 1-32 1-4 1 3 1-12 1 27M0 1189l1-25 1 3 1 32 1-17 1 19 1 12 1 14 1 8 1 70 1 78 1 12 1 7 1-9 1-79 1-14 1-87 1-40 1-27 1 6 1-6 1-55 1 48 1 17 1-8 1-22 1 0 1-15 1-2 1-1 1 21 1-2 1 4 1 43 1-14 1 13 1 5 1-9 1 0 1 28 1-12 1 16 1-8 1-1 1 32 1-32 1 6M0 1208l1-16 1 6 1 13 1 28 1-4 1-43 1 35 1 0 1 57 1 99 1-7 1-11 1-44 1-33 1-65 1 17 1-30 1-6 1-24 1-34 1 0 1-1 1-33 1 2 1-16 1-10 1 16 1 4 1 1 1-29 1 11 1 24 1 24 1 13 1-12 1 15 1-18 1 22 1 37 1-16 1-18 1 28 1-4 1 2 1 16 1-4M0 1252l1-6 1 16 1 10 1 1 1 8 1-8 1-14 1 31 1 27 1 66 1 45 1 49 1-19 1-70 1-42 1-44 1-31 1-7 1-1 1-38 1-7 1-21 1-56 1 16 1-6 1 8 1-6 1 3 1 47 1 9 1-17 1-11 1 4 1 1 1 24 1 23 1-33 1 22 1 3 1 1 1 19 1-14 1-5 1 12 1 1 1 8M0 1249l1 36 1 18 1-21 1 8 1-26 1 2 1-1 1 10 1 69 1 39 1 55 1 13 1-24 1-49 1-54 1 2 1-25 1-13 1 4 1-58 1-6 1-59 1 19 1-3 1-26 1-14 1 63 1-23 1 23 1 1 1-2 1-1 1-17 1-3 1 7 1 35 1-29 1 4 1 29 1 6 1-1 1-7 1-13 1 12 1 5 1 17M0 1155l1 40 1-41 1 32 1-7 1-6 1-14 1-2 1 19 1 79 1 128 1-5 1-13 1-36 1-17 1-42 1-27 1-56 1 15 1-55 1-44 1-17 1 19 1 13 1-16 1 23 1-42 1-9 1 3 1 34 1-19 1 10 1-12 1 21 1-6 1 67 1-5 1-21 1 16 1-4 1-10 1 17 1-23 1 41 1 17 1-26 1 8M0 1142l1 0 1-1 1-9 1 0 1-6 1 1 1-5 1 19 1 109 1 133 1-33 1-34 1-21 1-48 1-32 1-22 1-49 1-26 1-22 1-20 1-14 1-6 1-6 1 14 1-23 1-3 1 5 1 5 1 4 1 6 1 6 1 6 1 15 1-5 1 7 1 12 1 0 1 16 1-5 1 4 1 5 1 4 1 9 1 1 1 7 1 7M0 1242l1 8 1-10 1 20 1 16 1-47 1 22 1 3 1 36 1 35 1 58 1 23 1 52 1 13 1-71 1-18 1-29 1-56 1-26 1-24 1-11 1-55 1 2 1-31 1 7 1-2 1-29 1 14 1 23 1 2 1 12 1 43 1-38 1-5 1 1 1 16 1 2 1 7 1-3 1 2 1 47 1 33 1-27 1-5 1-29 1 13 1 29M0 1247l1 35 1 35 1-39 1-32 1 14 1 12 1-26 1 20 1 69 1 48 1 26 1 48 1-58 1-10 1-46 1-77 1-29 1 14 1 15 1-41 1-47 1 25 1-55 1 11 1-32 1-19 1 7 1 39 1 10 1 1 1 14 1-10 1 38 1-5 1 8 1-26 1 13 1-11 1 30 1-23 1 31 1 21 1 4 1 16 1 17 1-18M0 1196l1 5 1-1 1-1 1 34 1-13 1-15 1 27 1-21 1 81 1 91 1 14 1-26 1-54 1-41 1-25 1 3 1-37 1-17 1-44 1-26 1 1 1-6 1-17 1 9 1-18 1-9 1 3 1 1 1 27 1-23 1 25 1-25 1-6 1 31 1 21 1 6 1-27 1 45 1 22 1-20 1 28 1-16 1 6 1-9 1-2 1-6M0 1227l1-14 1 12 1 9 1 16 1-1 1-18 1-4 1 6 1 59 1 91 1 20 1-13 1-17 1-18 1-45 1-56 1-21 1 7 1-62 1-39 1-20 1 14 1 0 1-24 1 2 1 15 1-24 1 9 1 17 1 16 1 10 1-29 1 14 1 0 1 17 1 14 1 0 1 9 1 39 1 14 1-7 1-15 1 28 1-28 1-26 1 18M0 1138l1 5 1 15 1 6 1 17 1 12 1 5 1-28 1 33 1 97 1 83 1-7 1-4 1-28 1-47 1-27 1-60 1-61 1-16 1-13 1-10 1-21 1-15 1 8 1 5 1-9 1-7 1 9 1-3 1 19 1-6 1-22 1 56 1 4 1 14 1-9 1-1 1 7 1 7 1 2 1-9 1 23 1 3 1 34 1-26 1 0 1 9M0 1127l1-3 1 0 1 5 1 3 1 17 1-5 1 11 1 6 1 89 1 133 1-33 1-34 1-25 1-21 1-43 1-44 1-39 1-25 1-22 1-21 1-14 1-6 1-6 1-5 1-3 1-4 1 7 1 14 1-2 1 2 1 6 1 4 1 8 1 3 1 12 1 2 1 37 1-27 1 6 1 4 1 5 1 5 1 4 1 5 1 7 1 6M0 1206l1 5 1 0 1-2 1-8 1 21 1 4 1 33 1-39 1 82 1 81 1 22 1 20 1 9 1-88 1-65 1-11 1-46 1-9 1-25 1 21 1-64 1 18 1-17 1-14 1-3 1-21 1 13 1 10 1-1 1-12 1 9 1 13 1 10 1-14 1 24 1 30 1-6 1 27 1-4 1-12 1-12 1-6 1 7 1 14 1-2 1 16M0 1283l1 25 1 9 1 8 1 3 1-4 1-7 1-1 1 9 1 30 1 28 1 67 1 74 1-46 1-67 1 7 1-36 1-20 1-23 1-22 1-29 1-36 1-16 1-14 1-7 1-20 1 12 1 14 1-11 1 2 1 29 1 6 1 3 1-4 1 12 1 14 1 4 1-8 1-21 1 37 1 7 1-13 1 23 1 5 1-5 1-4 1 21M0 1241l1 14 1-23 1 5 1-25 1 22 1 18 1-58 1 13 1 98 1 78 1 12 1 29 1-34 1-32 1-42 1-19 1-47 1-33 1-38 1-46 1 0 1 2 1-9 1-18 1 3 1 25 1 3 1 21 1-1 1-12 1 43 1-30 1-24 1 10 1 23 1 21 1 4 1-9 1 32 1-1 1-1 1-10 1 34 1 10 1-23 1 27M0 1242l1 24 1-21 1 4 1 22 1-8 1-31 1-1 1 31 1 51 1 70 1 34 1 16 1-56 1-21 1 1 1-54 1-24 1-16 1-25 1-58 1-9 1-2 1-28 1 4 1-13 1-11 1 3 1 37 1 16 1-2 1 28 1-25 1 20 1-11 1-30 1 38 1 11 1-20 1 10 1 21 1-2 1 20 1-26 1 50 1-9 1-10M0 1194l1-20 1-1 1 23 1 21 1-26 1 17 1-7 1 60 1 52 1 70 1 16 1 11 1-49 1-57 1 6 1-24 1-28 1-65 1-21 1-8 1-28 1-42 1 6 1-21 1-5 1 24 1-46 1 55 1-10 1 8 1 13 1 4 1 8 1-2 1 18 1-10 1 15 1 12 1 4 1 27 1-8 1-7 1 43 1 10 1-4 1-11M0 1320l1-6 1-3 1 17 1-3 1-16 1-34 1 36 1 25 1 34 1 13 1 72 1 74 1-37 1-60 1-69 1-45 1 38 1-42 1-31 1 4 1-38 1-53 1-40 1-6 1 23 1 34 1 11 1-8 1 21 1-23 1 10 1 31 1 13 1-1 1-18 1 15 1 9 1 13 1 6 1 7 1 5 1 3 1-13 1 1 1 13 1 4M0 1311l1-2 1-5 1 13 1-22 1-18 1 5 1-8 1 25 1 22 1 62 1 44 1 73 1-13 1-52 1-74 1-21 1-15 1-42 1 0 1-46 1-50 1 13 1-18 1 29 1-5 1-15 1 8 1 4 1 1 1-8 1 1 1 44 1-17 1 37 1-23 1 20 1-2 1 23 1-7 1-2 1-8 1 11 1 13 1 12 1-5 1 4M0 1187l1 26 1-12 1 15 1-3 1 0 1 8 1-18 1 29 1 91 1 60 1 44 1 37 1-51 1-25 1-59 1-31 1-31 1-30 1-49 1-12 1 7 1-22 1-27 1-5 1-8 1 1 1-8 1 26 1-5 1 5 1 7 1-20 1 47 1 28 1-25 1 46 1-18 1-14 1 8 1 9 1-10 1 13 1-19 1 26 1-5 1-12M0 1209l1 30 1 25 1-36 1-4 1-14 1-7 1 3 1 29 1 58 1 90 1 42 1-2 1-34 1-54 1-73 1-44 1 37 1-26 1 11 1-43 1-20 1-4 1-33 1 12 1 10 1-21 1 0 1-19 1 42 1-21 1 11 1-3 1 4 1 29 1 2 1 21 1-8 1 18 1-25 1-4 1-43 1 58 1 26 1-25 1 1 1 18M0 1206l1 18 1-18 1-7 1-13 1-25 1-14 1 7 1 25 1 110 1 94 1-5 1 25 1-18 1-53 1-37 1-100 1-28 1-7 1-19 1-5 1-9 1-12 1-35 1-9 1-11 1 27 1 7 1 20 1-7 1-20 1 9 1-7 1-8 1 1 1 41 1 2 1-9 1 7 1 16 1 7 1 3 1 0 1 24 1-6 1 38 1-22M0 1124l1 0 1-1 1 1 1-1 1 10 1-17 1 5 1 20 1 109 1 133 1-32 1-35 1-36 1-34 1-32 1-34 1-36 1-26 1-22 1-20 1-14 1-6 1-6 1-6 1-3 1-3 1 5 1 5 1 4 1 6 1 5 1 6 1 6 1 5 1 6 1 6 1 6 1 6 1 6 1 4 1 5 1 4 1 5 1 4 1 7 1 7M0 1212l1 0 1 35 1-5 1-16 1-17 1-5 1 11 1-6 1 86 1 88 1 2 1 5 1-41 1-23 1 2 1-16 1-72 1-25 1-9 1-38 1-48 1-6 1-12 1-10 1 18 1 4 1-6 1 41 1-10 1 32 1-17 1 5 1-5 1 3 1-8 1-6 1 6 1 33 1 20 1 11 1-28 1 35 1 1 1-20 1 8 1 10M0 1204l1-4 1 35 1 14 1-19 1 7 1 20 1-6 1 8 1 41 1 83 1 22 1 26 1-24 1-69 1-66 1-20 1-19 1-13 1 17 1-11 1-42 1-20 1-11 1-15 1 18 1-36 1 28 1 8 1-5 1-20 1 26 1-9 1-3 1 20 1 11 1 10 1-4 1 12 1 37 1-9 1-17 1-4 1 4 1 38 1 7 1 23M0 1284l1-49 1-18 1 23 1 15 1-21 1 3 1 1 1 37 1 41 1 67 1 19 1 12 1-16 1-40 1-14 1-54 1-32 1-33 1 34 1-60 1-16 1-8 1-34 1 10 1 5 1-17 1-18 1 15 1 7 1-2 1 4 1 29 1-6 1-4 1 21 1 33 1-23 1-9 1 40 1-36 1 15 1 35 1-5 1-8 1 12 1 21M0 1191l1-8 1 13 1 3 1-15 1 3 1 7 1 21 1 1 1 65 1 102 1 17 1 18 1-30 1-93 1 9 1-46 1-38 1-32 1-16 1-71 1 18 1-33 1 30 1-12 1-18 1-16 1 11 1 38 1-7 1 3 1-12 1 39 1-11 1-8 1 16 1-6 1 7 1-17 1-4 1 35 1-3 1 22 1 11 1 11 1 10 1 16M0 1216l1 22 1-27 1-9 1-10 1 4 1 37 1 19 1-7 1 47 1 91 1 11 1 43 1-53 1-29 1-29 1-76 1 1 1-2 1-29 1-42 1-8 1-14 1-19 1-6 1 18 1-32 1 3 1-1 1 14 1 9 1-2 1 13 1 2 1 29 1 12 1-11 1 0 1-3 1-8 1 20 1 20 1-36 1 1 1 37 1 27 1-22M0 1146l1 34 1 0 1-4 1-15 1 21 1-11 1 26 1-3 1 92 1 97 1-6 1-25 1 1 1-34 1-69 1-5 1-75 1-7 1-11 1-31 1-39 1-14 1 19 1-21 1 3 1 4 1-7 1-8 1-2 1 14 1 35 1-1 1 0 1 37 1 14 1 1 1-4 1 4 1 11 1-4 1 11 1-4 1 13 1-30 1-4 1 44M0 1285l1-10 1 33 1-8 1 2 1 23 1-2 1-9 1 38 1-7 1 38 1 73 1 73 1-29 1-77 1-7 1-74 1-8 1-15 1-47 1-9 1-91 1 29 1-9 1-16 1-14 1-3 1 5 1 6 1 23 1-11 1 11 1-10 1 65 1 5 1-48 1 36 1 39 1-2 1 1 1 3 1 15 1 5 1 0 1-40 1 17 1-14M0 1131l1-5 1-2 1 2 1 3 1-11 1 14 1-16 1 26 1 108 1 133 1-33 1-34 1-36 1-34 1-31 1-35 1-36 1-26 1-22 1-20 1-14 1-6 1-6 1-6 1-3 1-3 1 5 1 4 1 5 1 6 1 5 1 6 1 5 1 6 1 6 1 6 1 6 1 6 1 6 1 4 1 5 1 4 1 5 1 4 1 9 1 5M0 1229l1-2 1 49 1-2 1-20 1-47 1 7 1 27 1 18 1 53 1 71 1 26 1 2 1-25 1-28 1-26 1-50 1-44 1-18 1-6 1-25 1-11 1-30 1-13 1-10 1 8 1-21 1 35 1-8 1 28 1 17 1-38 1 15 1 15 1-1 1 13 1-16 1 27 1 3 1-4 1-37 1 39 1-16 1 42 1 14 1-26 1-11M0 1296l1-10 1-3 1-4 1 26 1-9 1-34 1 30 1 28 1 24 1 39 1 56 1 54 1-52 1-29 1-54 1-42 1-60 1-8 1 48 1-85 1-46 1 20 1-26 1 13 1 24 1-21 1-10 1 27 1 5 1 23 1-16 1 7 1-12 1-11 1-1 1 4 1 47 1 12 1-5 1-4 1 0 1 25 1-7 1-28 1 18 1-16M0 1174l1-22 1-8 1 26 1 21 1 8 1-19 1-10 1 27 1 97 1 89 1 4 1-29 1-14 1-36 1-46 1-53 1-32 1 12 1-2 1-48 1-21 1 15 1-46 1-9 1 1 1 10 1-25 1 27 1-18 1 36 1 3 1-3 1 25 1 1 1-14 1 29 1-5 1 11 1 25 1-32 1 23 1 15 1 31 1-50 1 26 1 39M0 1265l1-6 1-27 1 41 1-26 1-22 1 36 1 21 1 26 1 40 1 35 1 36 1 29 1-46 1-26 1-51 1-28 1 9 1-34 1-30 1-11 1-61 1 3 1 7 1-8 1-19 1 18 1-9 1 19 1-19 1-8 1 46 1-6 1 1 1-16 1 9 1 40 1 4 1-4 1-30 1 33 1 11 1 19 1-15 1 11 1-8 1-13M0 1124l1-1 1-2 1-1 1-2 1-4 1-4 1-4 1 34 1 110 1 133 1-33 1-34 1-36 1-34 1-32 1-34 1-36 1-26 1-22 1-20 1-14 1-6 1-6 1-6 1-3 1-3 1 5 1 4 1 5 1 6 1 5 1 6 1 5 1 6 1 6 1 6 1 6 1 6 1 6 1 4 1 5 1 4 1 5 1 4 1 7 1 7M0 1293l1-7 1 11 1 5 1-17 1-4 1 20 1 11 1 44 1 6 1 21 1 50 1 93 1-43 1-54 1-20 1-39 1-53 1-23 1 7 1-35 1-51 1-15 1 6 1-34 1 7 1 26 1 14 1-26 1 6 1 15 1 8 1-1 1-4 1 7 1 13 1 6 1 31 1-3 1 6 1 3 1-11 1 16 1-14 1 22 1 10 1-10M0 1296l1 19 1-23 1 11 1 24 1-21 1-34 1 5 1 46 1 33 1 27 1 47 1 53 1-62 1-29 1-20 1-36 1-25 1 19 1-62 1-28 1-3 1-18 1-39 1 9 1-36 1 17 1 29 1-16 1 29 1 7 1 5 1 32 1 4 1-1 1-34 1-10 1 17 1 18 1 20 1-15 1 4 1 19 1-21 1 15 1 30 1-4M0 1247l1 7 1 3 1-9 1-8 1-2 1 15 1-19 1 48 1 15 1 86 1 42 1 27 1-29 1-50 1 10 1-50 1-20 1-59 1-27 1-39 1-29 1-16 1-1 1-19 1 23 1 0 1 14 1-15 1 15 1 46 1-3 1-3 1 6 1 13 1 10 1-25 1-6 1 11 1 28 1 5 1-18 1 11 1 7 1-10 1-2 1-17M0 1125l1 9 1-4 1 7 1-7 1-6 1 17 1-15 1 19 1 106 1 132 1-33 1-34 1-36 1-34 1-32 1-34 1-36 1-26 1-22 1-20 1-14 1-6 1-6 1-6 1-2 1-4 1 5 1 6 1 3 1 6 1 5 1 6 1 5 1 6 1 6 1 6 1 6 1 6 1 6 1 4 1 5 1 6 1 3 1 4 1 7 1 7M0 1236l1 2 1 3 1 1 1-22 1-27 1 12 1 0 1-10 1 117 1 71 1 24 1-1 1-23 1-37 1-29 1-45 1-35 1-20 1 38 1-30 1-68 1-17 1-28 1 29 1 4 1-14 1-18 1-4 1 11 1 8 1 9 1 9 1-10 1 23 1 9 1 18 1-22 1 28 1 20 1 0 1-17 1-6 1 12 1 14 1 15 1 4M0 1124l1-1 1-1 1 0 1 0 1-7 1-1 1-5 1 31 1 110 1 133 1-33 1-34 1-36 1-34 1-32 1-34 1-36 1-26 1-22 1-20 1-14 1-6 1-6 1-6 1-3 1-3 1 5 1 4 1 5 1 6 1 5 1 6 1 5 1 6 1 6 1 6 1 6 1 6 1 6 1 4 1 5 1 4 1 5 1 4 1 7 1 7M0 1247l1 29 1-12 1 9 1-5 1 5 1 11 1-15 1 35 1 30 1 49 1 40 1 25 1-73 1-31 1-24 1-30 1 11 1-48 1-2 1 22 1-79 1-7 1-6 1-16 1 1 1 10 1 39 1-34 1 8 1 2 1 37 1 11 1 14 1-13 1-7 1-7 1-7 1-7 1 18 1 17 1 2 1-27 1 24 1 49 1-18 1-19M0 1328l1 9 1 5 1-6 1-8 1 12 1-13 1 16 1 24 1 4 1 12 1 71 1 76 1-32 1-60 1-28 1-28 1-19 1-23 1-23 1-30 1-66 1 16 1-14 1-8 1 4 1-13 1 21 1 6 1 4 1 7 1 6 1 5 1 7 1 6 1 2 1-19 1 20 1 9 1-1 1 14 1-9 1 14 1 7 1 5 1 8 1 7M0 1340l1-6 1-21 1 12 1-21 1 30 1-2 1-20 1 53 1-5 1 23 1 68 1 62 1-57 1-68 1-1 1-44 1 11 1-21 1-19 1-26 1-58 1-5 1-19 1 5 1-1 1-4 1-5 1 11 1-13 1 33 1-40 1 41 1 21 1 6 1-2 1 16 1 6 1 5 1-3 1 7 1 0 1-4 1 19 1-19 1 12 1-7M0 1125l1-1 1-2 1-2 1-3 1-2 1-5 1-1 1 31 1 110 1 133 1-33 1-34 1-36 1-34 1-32 1-34 1-36 1-26 1-22 1-20 1-14 1-6 1-6 1-6 1-3 1-3 1 5 1 4 1 5 1 6 1 5 1 6 1 5 1 6 1 6 1 6 1 6 1 6 1 6 1 4 1 5 1 4 1 5 1 4 1 7 1 7M0 1237l1 1 1 2 1-20 1 19 1 15 1-42 1-7 1 65 1 36 1 77 1 36 1 62 1-64 1-68 1-40 1-41 1-50 1-21 1-9 1-17 1-1 1-1 1-17 1-39 1 23 1-2 1-24 1 15 1 4 1 19 1 18 1 33 1-21 1 8 1-15 1 5 1-8 1 21 1 22 1-3 1 29 1-8 1 13 1-10 1 6 1 34M0 1161l1-30 1 5 1 22 1 33 1-8 1-15 1-15 1 2 1 104 1 124 1-13 1-50 1-40 1-15 1-25 1-52 1-40 1-14 1-32 1-25 1-10 1 7 1-22 1-6 1 7 1-15 1 5 1 19 1-8 1 17 1 42 1-6 1-27 1 46 1-2 1 7 1-5 1-17 1 6 1 4 1 35 1 9 1-17 1 3 1 12 1 20M0 1289l1 33 1-26 1 0 1-17 1 12 1 25 1-1 1 39 1 18 1 11 1 60 1 85 1-30 1-49 1-31 1-49 1-41 1-7 1-33 1-37 1-40 1-3 1-13 1 5 1 11 1 11 1 2 1 1 1 6 1 3 1 7 1-9 1 11 1-16 1 35 1 3 1 8 1-24 1-1 1 7 1-18 1 44 1 14 1 0 1 19 1-28M0 1161l1 2 1-13 1 4 1-4 1-11 1-6 1-8 1 21 1 107 1 130 1-33 1-34 1-36 1-34 1-31 1-15 1-13 1-69 1-14 1-28 1-14 1-6 1-6 1-1 1 20 1-31 1 9 1 8 1-2 1 5 1 6 1 5 1 5 1 6 1 8 1 7 1 3 1 11 1 1 1 5 1 4 1 4 1 5 1 4 1 18 1-1"/>
</g>
<g clip-path="url(#ca2)"><path d="M1697 252l8 8m0-8l-8 8M1707 244l8 8m0-8l-8 8M1700 250l8 8m0-8l-8 8M1683 267l8 8m0-8l-8 8M1706 225l8 8m0-8l-8 8M1696 215l8 8m0-8l-8 8M1712 206l8 8m0-8l-8 8M1753 228l8 8m0-8l-8 8M1652 236l8 8m0-8l-8 8M1737 235l8 8m0-8l-8 8M1701 230l8 8m0-8l-8 8M1741 252l8 8m0-8l-8 8M1768 218l8 8m0-8l-8 8M1733 225l8 8m0-8l-8 8M1732 234l8 8m0-8l-8 8M1692 253l8 8m0-8l-8 8M1704 222l8 8m0-8l-8 8M1710 221l8 8m0-8l-8 8M1663 233l8 8m0-8l-8 8M1733 244l8 8m0-8l-8 8M1709 262l8 8m0-8l-8 8M1700 223l8 8m0-8l-8 8M1757 254l8 8m0-8l-8 8M1669 247l8 8m0-8l-8 8M1666 256l8 8m0-8l-8 8M1716 225l8 8m0-8l-8 8M1722 228l8 8m0-8l-8 8M1772 250l8 8m0-8l-8 8M1672 251l8 8m0-8l-8 8M1703 228l8 8m0-8l-8 8M1718 273l8 8m0-8l-8 8M1744 230l8 8m0-8l-8 8M1740 224l8 8m0-8l-8 8M1752 220l8 8m0-8l-8 8M1707 227l8 8m0-8l-8 8M1759 233l8 8m0-8l-8 8M1712 205l8 8m0-8l-8 8M1751 224l8 8m0-8l-8 8M1729 227l8 8m0-8l-8 8M1730 236l8 8m0-8l-8 8M1666 204l8 8m0-8l-8 8M1712 202l8 8m0-8l-8 8M1742 231l8 8m0-8l-8 8M1757 243l8 8m0-8l-8 8M1741 219l8 8m0-8l-8 8M1729 248l8 8m0-8l-8 8M1753 235l8 8m0-8l-8 8M1716 220l8 8m0-8l-8 8M1709 224l8 8m0-8l-8 8M1756 251l8 8m0-8l-8 8M1714 222l8 8m0-8l-8 8M1745 253l8 8m0-8l-8 8M1741 209l8 8m0-8l-8 8M1668 264l8 8m0-8l-8 8M1750 222l8 8m0-8l-8 8M1719 230l8 8m0-8l-8 8M1722 215l8 8m0-8l-8 8M1749 219l8 8m0-8l-8 8M1683 255l8 8m0-8l-8 8M1723 253l8 8m0-8l-8 8M1730 248l8 8m0-8l-8 8M1775 234l8 8m0-8l-8 8M1755 220l8 8m0-8l-8 8M1735 189l8 8m0-8l-8 8M1716 217l8 8m0-8l-8 8M1664 247l8 8m0-8l-8 8M1721 240l8 8m0-8l-8 8M1674 240l8 8m0-8l-8 8M1791 240l8 8m0-8l-8 8M1679 247l8 8m0-8l-8 8M1726 220l8 8m0-8l-8 8M1693 237l8 8m0-8l-8 8M1744 240l8 8m0-8l-8 8M1745 253l8 8m0-8l-8 8M1674 238l8 8m0-8l-8 8M1739 244l8 8m0-8l-8 8M1707 232l8 8m0-8l-8 8M1744 242l8 8m0-8l-8 8M1722 228l8 8m0-8l-8 8M1730 233l8 8m0-8l-8 8M1700 238l8 8m0-8l-8 8M1678 216l8 8m0-8l-8 8M1687 238l8 8m0-8l-8 8M1746 252l8 8m0-8l-8 8M1677 230l8 8m0-8l-8 8M1758 231l8 8m0-8l-8 8M1766 256l8 8m0-8l-8 8M1704 225l8 8m0-8l-8 8M1724 219l8 8m0-8l-8 8M1720 228l8 8m0-8l-8 8M1780 229l8 8m0-8l-8 8M1701 234l8 8m0-8l-8 8M1729 194l8 8m0-8l-8 8M1684 209l8 8m0-8l-8 8M1714 241l8 8m0-8l-8 8M1691 205l8 8m0-8l-8 8M1743 223l8 8m0-8l-8 8M1718 242l8 8m0-8l-8 8M1751 221l8 8m0-8l-8 8M1688 213l8 8m0-8l-8 8M1690 236l8 8m0-8l-8 8M1701 230l8 8m0-8l-8 8M1708 207l8 8m0-8l-8 8M1719 239l8 8m0-8l-8 8M1725 218l8 8m0-8l-8 8M1720 220l8 8m0-8l-8 8M1709 201l8 8m0-8l-8 8M1744 225l8 8m0-8l-8 8M1691 262l8 8m0-8l-8 8M1689 252l8 8m0-8l-8 8M1744 227l8 8m0-8l-8 8M1684 216l8 8m0-8l-8 8M1756 257l8 8m0-8l-8 8M1713 229l8 8m0-8l-8 8M1699 235l8 8m0-8l-8 8M1705 252l8 8m0-8l-8 8M1750 239l8 8m0-8l-8 8M1689 209l8 8m0-8l-8 8M1703 257l8 8m0-8l-8 8M1746 229l8 8m0-8l-8 8M1751 241l8 8m0-8l-8 8M1692 261l8 8m0-8l-8 8M1757 210l8 8m0-8l-8 8M1711 248l8 8m0-8l-8 8M1775 253l8 8m0-8l-8 8M1690 225l8 8m0-8l-8 8M1762 218l8 8m0-8l-8 8M1731 226l8 8m0-8l-8 8M1740 207l8 8m0-8l-8 8M1679 218l8 8m0-8l-8 8M1781 219l8 8m0-8l-8 8M1690 241l8 8m0-8l-8 8M1711 213l8 8m0-8l-8 8M1739 213l8 8m0-8l-8 8M1759 235l8 8m0-8l-8 8M1710 209l8 8m0-8l-8 8M1720 232l8 8m0-8l-8 8M1742 233l8 8m0-8l-8 8M1720 209l8 8m0-8l-8 8M1701 234l8 8m0-8l-8 8M1735 227l8 8m0-8l-8 8M1673 215l8 8m0-8l-8 8M1705 244l8 8m0-8l-8 8M1710 213l8 8m0-8l-8 8M1716 229l8 8m0-8l-8 8M1766 229l8 8m0-8l-8 8M1702 233l8 8m0-8l-8 8M1736 198l8 8m0-8l-8 8M1707 214l8 8m0-8l-8 8M1700 226l8 8m0-8l-8 8M1765 243l8 8m0-8l-8 8M1730 213l8 8m0-8l-8 8M1730 241l8 8m0-8l-8 8M1669 205l8 8m0-8l-8 8M1763 249l8 8m0-8l-8 8M1722 250l8 8m0-8l-8 8M1751 273l8 8m0-8l-8 8M1759 236l8 8m0-8l-8 8M1698 210l8 8m0-8l-8 8M1764 266l8 8m0-8l-8 8M1656 216l8 8m0-8l-8 8M1741 246l8 8m0-8l-8 8M1702 208l8 8m0-8l-8 8M1757 254l8 8m0-8l-8 8M1659 236l8 8m0-8l-8 8M1736 230l8 8m0-8l-8 8M1765 235l8 8m0-8l-8 8M1738 236l8 8m0-8l-8 8M1702 233l8 8m0-8l-8 8M1764 243l8 8m0-8l-8 8M1715 194l8 8m0-8l-8 8M1721 253l8 8m0-8l-8 8M1715 207l8 8m0-8l-8 8M1762 270l8 8m0-8l-8 8M1754 250l8 8m0-8l-8 8M1664 226l8 8m0-8l-8 8M1742 250l8 8m0-8l-8 8M1693 230l8 8m0-8l-8 8M1771 204l8 8m0-8l-8 8M1736 250l8 8m0-8l-8 8M1730 226l8 8m0-8l-8 8M1728 241l8 8m0-8l-8 8M1748 261l8 8m0-8l-8 8M1673 234l8 8m0-8l-8 8M1717 262l8 8m0-8l-8 8M1683 266l8 8m0-8l-8 8M1694 220l8 8m0-8l-8 8M1676 232l8 8m0-8l-8 8M1706 235l8 8m0-8l-8 8M1715 245l8 8m0-8l-8 8M1735 188l8 8m0-8l-8 8M1760 231l8 8m0-8l-8 8M1720 223l8 8m0-8l-8 8M1751 225l8 8m0-8l-8 8M1758 210l8 8m0-8l-8 8M1775 253l8 8m0-8l-8 8M1681 249l8 8m0-8l-8 8M1703 212l8 8m0-8l-8 8M1704 236l8 8m0-8l-8 8M1699 243l8 8m0-8l-8 8M1761 205l8 8m0-8l-8 8M1656 235l8 8m0-8l-8 8M1727 234l8 8m0-8l-8 8M1745 242l8 8m0-8l-8 8M1657 236l8 8m0-8l-8 8M1692 230l8 8m0-8l-8 8M1674 244l8 8m0-8l-8 8M1716 221l8 8m0-8l-8 8M1673 264l8 8m0-8l-8 8M1750 241l8 8m0-8l-8 8M1697 217l8 8m0-8l-8 8M1770 221l8 8m0-8l-8 8M1748 267l8 8m0-8l-8 8M1665 211l8 8m0-8l-8 8M1734 202l8 8m0-8l-8 8M1709 223l8 8m0-8l-8 8M1750 207l8 8m0-8l-8 8M1726 243l8 8m0-8l-8 8M1684 216l8 8m0-8l-8 8M1753 245l8 8m0-8l-8 8M1669 208l8 8m0-8l-8 8M1777 232l8 8m0-8l-8 8M1701 235l8 8m0-8l-8 8M1718 241l8 8m0-8l-8 8M1773 255l8 8m0-8l-8 8M1698 225l8 8m0-8l-8 8M1709 263l8 8m0-8l-8 8M1758 196l8 8m0-8l-8 8M1707 225l8 8m0-8l-8 8M1760 252l8 8m0-8l-8 8M1704 216l8 8m0-8l-8 8M1726 242l8 8m0-8l-8 8M1730 212l8 8m0-8l-8 8M1713 243l8 8m0-8l-8 8M1733 242l8 8m0-8l-8 8M1693 227l8 8m0-8l-8 8M1712 243l8 8m0-8l-8 8M1735 224l8 8m0-8l-8 8M1716 246l8 8m0-8l-8 8M1717 206l8 8m0-8l-8 8M1736 201l8 8m0-8l-8 8M1693 272l8 8m0-8l-8 8M1732 247l8 8m0-8l-8 8M1741 246l8 8m0-8l-8 8M1725 247l8 8m0-8l-8 8M1725 217l8 8m0-8l-8 8M1734 235l8 8m0-8l-8 8M1752 252l8 8m0-8l-8 8M1769 214l8 8m0-8l-8 8M1732 264l8 8m0-8l-8 8M1704 222l8 8m0-8l-8 8M1707 223l8 8m0-8l-8 8M1696 263l8 8m0-8l-8 8M1705 236l8 8m0-8l-8 8M1688 273l8 8m0-8l-8 8M1688 211l8 8m0-8l-8 8M1753 220l8 8m0-8l-8 8M1726 262l8 8m0-8l-8 8M1681 266l8 8m0-8l-8 8M1726 224l8 8m0-8l-8 8M1707 200l8 8m0-8l-8 8M1720 252l8 8m0-8l-8 8M1750 227l8 8m0-8l-8 8M1708 228l8 8m0-8l-8 8M1681 243l8 8m0-8l-8 8M1733 257l8 8m0-8l-8 8M1689 265l8 8m0-8l-8 8M1761 247l8 8m0-8l-8 8M1715 246l8 8m0-8l-8 8M1712 252l8 8m0-8l-8 8M1721 219l8 8m0-8l-8 8M1715 216l8 8m0-8l-8 8M1746 227l8 8m0-8l-8 8M1723 256l8 8m0-8l-8 8M1702 243l8 8m0-8l-8 8M1704 246l8 8m0-8l-8 8M1734 274l8 8m0-8l-8 8M1752 233l8 8m0-8l-8 8M1736 221l8 8m0-8l-8 8M1707 201l8 8m0-8l-8 8M1706 229l8 8m0-8l-8 8M1696 263l8 8m0-8l-8 8M1726 255l8 8m0-8l-8 8M1734 214l8 8m0-8l-8 8M1716 230l8 8m0-8l-8 8M1707 250l8 8m0-8l-8 8M1744 226l8 8m0-8l-8 8M1738 217l8 8m0-8l-8 8M1706 257l8 8m0-8l-8 8M1759 248l8 8m0-8l-8 8M1775 231l8 8m0-8l-8 8M1714 239l8 8m0-8l-8 8M1756 257l8 8m0-8l-8 8M1724 233l8 8m0-8l-8 8M1761 241l8 8m0-8l-8 8M1730 220l8 8m0-8l-8 8M1718 236l8 8m0-8l-8 8M1730 234l8 8m0-8l-8 8M1758 234l8 8m0-8l-8 8M1716 228l8 8m0-8l-8 8M1735 242l8 8m0-8l-8 8M1742 242l8 8m0-8l-8 8M1706 257l8 8m0-8l-8 8M1687 198l8 8m0-8l-8 8M1746 244l8 8m0-8l-8 8M1697 226l8 8m0-8l-8 8M1753 249l8 8m0-8l-8 8M1703 223l8 8m0-8l-8 8M1741 256l8 8m0-8l-8 8M1793 231l8 8m0-8l-8 8M1736 217l8 8m0-8l-8 8M1716 189l8 8m0-8l-8 8M1733 220l8 8m0-8l-8 8M1758 228l8 8m0-8l-8 8M1705 220l8 8m0-8l-8 8M1716 261l8 8m0-8l-8 8M1707 270l8 8m0-8l-8 8M1743 253l8 8m0-8l-8 8M1723 210l8 8m0-8l-8 8M1755 212l8 8m0-8l-8 8M1759 247l8 8m0-8l-8 8M1719 218l8 8m0-8l-8 8M1699 246l8 8m0-8l-8 8M1675 254l8 8m0-8l-8 8M1736 216l8 8m0-8l-8 8M1709 228l8 8m0-8l-8 8M1690 234l8 8m0-8l-8 8M1735 223l8 8m0-8l-8 8M1750 232l8 8m0-8l-8 8M1702 223l8 8m0-8l-8 8M1716 232l8 8m0-8l-8 8M1735 254l8 8m0-8l-8 8M1714 248l8 8m0-8l-8 8M1749 222l8 8m0-8l-8 8M1650 238l8 8m0-8l-8 8M1731 256l8 8m0-8l-8 8M1653 248l8 8m0-8l-8 8M1716 240l8 8m0-8l-8 8M1761 237l8 8m0-8l-8 8M1743 238l8 8m0-8l-8 8M1684 241l8 8m0-8l-8 8M1710 240l8 8m0-8l-8 8M1664 249l8 8m0-8l-8 8M1731 230l8 8m0-8l-8 8M1710 252l8 8m0-8l-8 8M1734 246l8 8m0-8l-8 8M1738 224l8 8m0-8l-8 8M1733 248l8 8m0-8l-8 8M1708 243l8 8m0-8l-8 8M1728 256l8 8m0-8l-8 8M1723 232l8 8m0-8l-8 8M1699 224l8 8m0-8l-8 8M1737 253l8 8m0-8l-8 8M1668 227l8 8m0-8l-8 8M1733 242l8 8m0-8l-8 8M1697 218l8 8m0-8l-8 8M1716 243l8 8m0-8l-8 8M1739 224l8 8m0-8l-8 8M1736 227l8 8m0-8l-8 8M1713 249l8 8m0-8l-8 8M1722 246l8 8m0-8l-8 8M1740 225l8 8m0-8l-8 8M1703 238l8 8m0-8l-8 8M1721 260l8 8m0-8l-8 8M1736 235l8 8m0-8l-8 8M1688 229l8 8m0-8l-8 8M1743 208l8 8m0-8l-8 8M1680 246l8 8m0-8l-8 8M1738 223l8 8m0-8l-8 8M1721 225l8 8m0-8l-8 8M1719 251l8 8m0-8l-8 8M1749 272l8 8m0-8l-8 8M1771 238l8 8m0-8l-8 8M1717 252l8 8m0-8l-8 8M1734 239l8 8m0-8l-8 8M1749 233l8 8m0-8l-8 8M1704 245l8 8m0-8l-8 8M1713 223l8 8m0-8l-8 8M1744 216l8 8m0-8l-8 8M1682 270l8 8m0-8l-8 8M1749 228l8 8m0-8l-8 8M1733 234l8 8m0-8l-8 8M1702 223l8 8m0-8l-8 8M1685 244l8 8m0-8l-8 8M1766 257l8 8m0-8l-8 8M1730 260l8 8m0-8l-8 8M1730 254l8 8m0-8l-8 8M1773 225l8 8m0-8l-8 8M1732 231l8 8m0-8l-8 8M1705 239l8 8m0-8l-8 8M1764 258l8 8m0-8l-8 8M1709 236l8 8m0-8l-8 8M1787 222l8 8m0-8l-8 8M1723 271l8 8m0-8l-8 8M1720 249l8 8m0-8l-8 8M1724 208l8 8m0-8l-8 8M1745 203l8 8m0-8l-8 8M1677 260l8 8m0-8l-8 8M1748 232l8 8m0-8l-8 8M1757 255l8 8m0-8l-8 8M1739 212l8 8m0-8l-8 8M1691 256l8 8m0-8l-8 8M1724 256l8 8m0-8l-8 8M1695 247l8 8m0-8l-8 8M1666 250l8 8m0-8l-8 8M1738 254l8 8m0-8l-8 8M1662 216l8 8m0-8l-8 8M1702 244l8 8m0-8l-8 8M1778 252l8 8m0-8l-8 8M1680 228l8 8m0-8l-8 8M1771 244l8 8m0-8l-8 8M1682 248l8 8m0-8l-8 8M1745 249l8 8m0-8l-8 8M1727 242l8 8m0-8l-8 8M1758 239l8 8m0-8l-8 8M1761 248l8 8m0-8l-8 8M1749 228l8 8m0-8l-8 8M1749 250l8 8m0-8l-8 8M1708 220l8 8m0-8l-8 8M1741 246l8 8m0-8l-8 8M1701 243l8 8m0-8l-8 8M1739 238l8 8m0-8l-8 8M1728 233l8 8m0-8l-8 8M1740 232l8 8m0-8l-8 8M1710 249l8 8m0-8l-8 8M1789 229l8 8m0-8l-8 8M1750 255l8 8m0-8l-8 8M1690 230l8 8m0-8l-8 8M1700 232l8 8m0-8l-8 8M1759 220l8 8m0-8l-8 8M1700 240l8 8m0-8l-8 8M1751 213l8 8m0-8l-8 8M1661 239l8 8m0-8l-8 8M1696 237l8 8m0-8l-8 8M1699 227l8 8m0-8l-8 8M1704 237l8 8m0-8l-8 8M1754 235l8 8m0-8l-8 8M1740 213l8 8m0-8l-8 8M1777 251l8 8m0-8l-8 8M1778 231l8 8m0-8l-8 8M1701 245l8 8m0-8l-8 8M1689 235l8 8m0-8l-8 8M1717 231l8 8m0-8l-8 8M1674 251l8 8m0-8l-8 8M1679 238l8 8m0-8l-8 8M1718 200l8 8m0-8l-8 8M1746 232l8 8m0-8l-8 8M1696 198l8 8m0-8l-8 8M1723 250l8 8m0-8l-8 8M1717 265l8 8m0-8l-8 8M1727 220l8 8m0-8l-8 8M1715 237l8 8m0-8l-8 8M1759 222l8 8m0-8l-8 8M1725 246l8 8m0-8l-8 8M1712 236l8 8m0-8l-8 8M1753 241l8 8m0-8l-8 8M1748 222l8 8m0-8l-8 8M1676 220l8 8m0-8l-8 8M1709 243l8 8m0-8l-8 8M1709 220l8 8m0-8l-8 8M1708 240l8 8m0-8l-8 8M1708 254l8 8m0-8l-8 8M1742 238l8 8m0-8l-8 8M1702 265l8 8m0-8l-8 8M1735 250l8 8m0-8l-8 8M1741 225l8 8m0-8l-8 8M1710 228l8 8m0-8l-8 8M1750 241l8 8m0-8l-8 8M1669 247l8 8m0-8l-8 8M1671 226l8 8m0-8l-8 8M1765 231l8 8m0-8l-8 8M1744 227l8 8m0-8l-8 8M1719 210l8 8m0-8l-8 8M1690 233l8 8m0-8l-8 8M1657 249l8 8m0-8l-8 8M1744 213l8 8m0-8l-8 8M1691 236l8 8m0-8l-8 8M1721 218l8 8m0-8l-8 8M1717 214l8 8m0-8l-8 8M1669 249l8 8m0-8l-8 8M1735 208l8 8m0-8l-8 8M1722 235l8 8m0-8l-8 8M1772 253l8 8m0-8l-8 8M1769 224l8 8m0-8l-8 8M1757 218l8 8m0-8l-8 8M1688 274l8 8m0-8l-8 8M1691 258l8 8m0-8l-8 8M1705 222l8 8m0-8l-8 8M1723 241l8 8m0-8l-8 8M1696 215l8 8m0-8l-8 8M1689 273l8 8m0-8l-8 8M1659 215l8 8m0-8l-8 8M1709 208l8 8m0-8l-8 8M1746 214l8 8m0-8l-8 8M1705 231l8 8m0-8l-8 8M1692 240l8 8m0-8l-8 8M1672 232l8 8m0-8l-8 8M1747 248l8 8m0-8l-8 8M1676 206l8 8m0-8l-8 8M1787 245l8 8m0-8l-8 8M1730 241l8 8m0-8l-8 8M1771 227l8 8m0-8l-8 8M1741 223l8 8m0-8l-8 8M1772 241l8 8m0-8l-8 8M1763 238l8 8m0-8l-8 8M1677 234l8 8m0-8l-8 8M1718 238l8 8m0-8l-8 8M1692 223l8 8m0-8l-8 8M1700 211l8 8m0-8l-8 8M1729 219l8 8m0-8l-8 8M1765 219l8 8m0-8l-8 8M1660 237l8 8m0-8l-8 8M1759 251l8 8m0-8l-8 8M1694 226l8 8m0-8l-8 8M1708 241l8 8m0-8l-8 8M1754 240l8 8m0-8l-8 8M1681 230l8 8m0-8l-8 8M1703 214l8 8m0-8l-8 8M1725 210l8 8m0-8l-8 8M1713 244l8 8m0-8l-8 8M1747 264l8 8m0-8l-8 8M1724 241l8 8m0-8l-8 8M1739 220l8 8m0-8l-8 8M1655 217l8 8m0-8l-8 8M1659 236l8 8m0-8l-8 8M1770 242l8 8m0-8l-8 8M1795 234l8 8m0-8l-8 8M1745 264l8 8m0-8l-8 8M1706 212l8 8m0-8l-8 8M1738 260l8 8m0-8l-8 8M1745 245l8 8m0-8l-8 8M1724 222l8 8m0-8l-8 8M1744 245l8 8m0-8l-8 8M1707 257l8 8m0-8l-8 8M1736 208l8 8m0-8l-8 8M1708 235l8 8m0-8l-8 8M1745 242l8 8m0-8l-8 8M1746 237l8 8m0-8l-8 8M1697 241l8 8m0-8l-8 8M1710 245l8 8m0-8l-8 8M1719 235l8 8m0-8l-8 8M1666 242l8 8m0-8l-8 8M1705 238l8 8m0-8l-8 8M1709 267l8 8m0-8l-8 8M1765 269l8 8m0-8l-8 8M1703 243l8 8m0-8l-8 8M1717 220l8 8m0-8l-8 8M1740 219l8 8m0-8l-8 8M1746 225l8 8m0-8l-8 8M1717 226l8 8m0-8l-8 8M1768 250l8 8m0-8l-8 8M1738 222l8 8m0-8l-8 8M1725 244l8 8m0-8l-8 8M1694 242l8 8m0-8l-8 8M1664 226l8 8m0-8l-8 8M1705 229l8 8m0-8l-8 8M1728 224l8 8m0-8l-8 8M1687 223l8 8m0-8l-8 8M1674 241l8 8m0-8l-8 8M1734 210l8 8m0-8l-8 8M1729 232l8 8m0-8l-8 8M1697 216l8 8m0-8l-8 8M1681 195l8 8m0-8l-8 8M1740 212l8 8m0-8l-8 8M1746 224l8 8m0-8l-8 8M1726 220l8 8m0-8l-8 8M1705 235l8 8m0-8l-8 8M1707 242l8 8m0-8l-8 8M1679 220l8 8m0-8l-8 8M1672 262l8 8m0-8l-8 8M1770 230l8 8m0-8l-8 8M1732 224l8 8m0-8l-8 8M1712 268l8 8m0-8l-8 8M1731 231l8 8m0-8l-8 8M1707 240l8 8m0-8l-8 8M1741 221l8 8m0-8l-8 8M1714 245l8 8m0-8l-8 8M1725 224l8 8m0-8l-8 8M1729 233l8 8m0-8l-8 8M1714 224l8 8m0-8l-8 8M1733 223l8 8m0-8l-8 8M1683 220l8 8m0-8l-8 8M1717 219l8 8m0-8l-8 8M1679 252l8 8m0-8l-8 8M1672 220l8 8m0-8l-8 8M1753 218l8 8m0-8l-8 8M1705 206l8 8m0-8l-8 8M1720 199l8 8m0-8l-8 8M1745 222l8 8m0-8l-8 8M1738 222l8 8m0-8l-8 8M1676 221l8 8m0-8l-8 8M1765 233l8 8m0-8l-8 8M1713 254l8 8m0-8l-8 8M1664 228l8 8m0-8l-8 8M1751 214l8 8m0-8l-8 8M1733 225l8 8m0-8l-8 8M1766 240l8 8m0-8l-8 8M1728 227l8 8m0-8l-8 8M1700 209l8 8m0-8l-8 8M1688 198l8 8m0-8l-8 8M1713 239l8 8m0-8l-8 8M1789 235l8 8m0-8l-8 8M1772 211l8 8m0-8l-8 8M1698 240l8 8m0-8l-8 8M1697 249l8 8m0-8l-8 8M1749 228l8 8m0-8l-8 8M1705 228l8 8m0-8l-8 8M1693 263l8 8m0-8l-8 8M1722 260l8 8m0-8l-8 8M1689 268l8 8m0-8l-8 8M1706 231l8 8m0-8l-8 8M1741 251l8 8m0-8l-8 8M1770 232l8 8m0-8l-8 8M1688 262l8 8m0-8l-8 8M1716 212l8 8m0-8l-8 8M1679 228l8 8m0-8l-8 8M1703 260l8 8m0-8l-8 8M1747 228l8 8m0-8l-8 8M1705 244l8 8m0-8l-8 8M1663 229l8 8m0-8l-8 8M1672 260l8 8m0-8l-8 8M1705 215l8 8m0-8l-8 8M1724 218l8 8m0-8l-8 8M1703 234l8 8m0-8l-8 8M1700 222l8 8m0-8l-8 8M1773 230l8 8m0-8l-8 8M1699 261l8 8m0-8l-8 8M1737 256l8 8m0-8l-8 8M1701 231l8 8m0-8l-8 8M1736 244l8 8m0-8l-8 8M1708 269l8 8m0-8l-8 8M1684 245l8 8m0-8l-8 8M1713 228l8 8m0-8l-8 8M1717 274l8 8m0-8l-8 8M1699 201l8 8m0-8l-8 8M1758 236l8 8m0-8l-8 8M1736 245l8 8m0-8l-8 8M1784 216l8 8m0-8l-8 8M1710 247l8 8m0-8l-8 8M1712 237l8 8m0-8l-8 8M1679 225l8 8m0-8l-8 8M1734 188l8 8m0-8l-8 8M1774 259l8 8m0-8l-8 8M1692 235l8 8m0-8l-8 8M1691 244l8 8m0-8l-8 8M1712 242l8 8m0-8l-8 8M1705 236l8 8m0-8l-8 8M1693 224l8 8m0-8l-8 8M1696 229l8 8m0-8l-8 8M1736 252l8 8m0-8l-8 8M1692 248l8 8m0-8l-8 8M1693 260l8 8m0-8l-8 8M1720 217l8 8m0-8l-8 8M1716 247l8 8m0-8l-8 8M1722 241l8 8m0-8l-8 8M1720 273l8 8m0-8l-8 8M1755 236l8 8m0-8l-8 8M1735 273l8 8m0-8l-8 8M1734 236l8 8m0-8l-8 8M1690 252l8 8m0-8l-8 8M1702 231l8 8m0-8l-8 8M1756 223l8 8m0-8l-8 8M1672 223l8 8m0-8l-8 8M1701 231l8 8m0-8l-8 8M1709 225l8 8m0-8l-8 8M1713 252l8 8m0-8l-8 8M1747 217l8 8m0-8l-8 8M1722 224l8 8m0-8l-8 8M1758 204l8 8m0-8l-8 8M1739 244l8 8m0-8l-8 8M1709 225l8 8m0-8l-8 8M1732 205l8 8m0-8l-8 8M1697 208l8 8m0-8l-8 8M1735 213l8 8m0-8l-8 8M1709 196l8 8m0-8l-8 8M1701 252l8 8m0-8l-8 8M1734 255l8 8m0-8l-8 8M1778 237l8 8m0-8l-8 8M1676 250l8 8m0-8l-8 8M1737 239l8 8m0-8l-8 8M1738 247l8 8m0-8l-8 8M1742 237l8 8m0-8l-8 8M1738 237l8 8m0-8l-8 8M1725 233l8 8m0-8l-8 8M1712 237l8 8m0-8l-8 8M1745 229l8 8m0-8l-8 8M1718 264l8 8m0-8l-8 8M1782 232l8 8m0-8l-8 8M1698 260l8 8m0-8l-8 8M1671 263l8 8m0-8l-8 8M1764 222l8 8m0-8l-8 8M1717 214l8 8m0-8l-8 8M1728 213l8 8m0-8l-8 8M1675 238l8 8m0-8l-8 8M1700 232l8 8m0-8l-8 8M1711 219l8 8m0-8l-8 8M1727 215l8 8m0-8l-8 8M1736 221l8 8m0-8l-8 8M1760 221l8 8m0-8l-8 8M1742 247l8 8m0-8l-8 8M1717 210l8 8m0-8l-8 8M1744 208l8 8m0-8l-8 8M1733 204l8 8m0-8l-8 8M1706 230l8 8m0-8l-8 8M1700 237l8 8m0-8l-8 8M1738 233l8 8m0-8l-8 8M1726 256l8 8m0-8l-8 8M1744 237l8 8m0-8l-8 8M1702 213l8 8m0-8l-8 8M1699 249l8 8m0-8l-8 8M1723 244l8 8m0-8l-8 8M1675 201l8 8m0-8l-8 8M1709 203l8 8m0-8l-8 8M1722 239l8 8m0-8l-8 8M1677 254l8 8m0-8l-8 8M1730 228l8 8m0-8l-8 8M1686 217l8 8m0-8l-8 8M1708 248l8 8m0-8l-8 8M1715 201l8 8m0-8l-8 8M1662 239l8 8m0-8l-8 8M1709 247l8 8m0-8l-8 8M1736 246l8 8m0-8l-8 8M1758 245l8 8m0-8l-8 8M1730 196l8 8m0-8l-8 8M1743 246l8 8m0-8l-8 8M1738 209l8 8m0-8l-8 8M1736 250l8 8m0-8l-8 8M1735 225l8 8m0-8l-8 8M1652 221l8 8m0-8l-8 8M1781 230l8 8m0-8l-8 8M1754 227l8 8m0-8l-8 8M1683 258l8 8m0-8l-8 8M1738 253l8 8m0-8l-8 8M1724 212l8 8m0-8l-8 8M1769 224l8 8m0-8l-8 8M1732 238l8 8m0-8l-8 8M1750 240l8 8m0-8l-8 8M1767 228l8 8m0-8l-8 8M1757 259l8 8m0-8l-8 8M1713 213l8 8m0-8l-8 8M1718 256l8 8m0-8l-8 8M1732 250l8 8m0-8l-8 8M1722 199l8 8m0-8l-8 8M1692 209l8 8m0-8l-8 8M1658 231l8 8m0-8l-8 8M1757 241l8 8m0-8l-8 8M1735 241l8 8m0-8l-8 8M1710 262l8 8m0-8l-8 8M1747 242l8 8m0-8l-8 8M1759 229l8 8m0-8l-8 8M1665 252l8 8m0-8l-8 8M1706 228l8 8m0-8l-8 8M1709 229l8 8m0-8l-8 8M1686 241l8 8m0-8l-8 8M1763 229l8 8m0-8l-8 8M1683 228l8 8m0-8l-8 8M1714 228l8 8m0-8l-8 8M1731 230l8 8m0-8l-8 8M1720 233l8 8m0-8l-8 8M1681 242l8 8m0-8l-8 8M1752 236l8 8m0-8l-8 8M1733 270l8 8m0-8l-8 8M1695 218l8 8m0-8l-8 8M1672 216l8 8m0-8l-8 8M1689 232l8 8m0-8l-8 8M1727 225l8 8m0-8l-8 8M1721 219l8 8m0-8l-8 8M1689 215l8 8m0-8l-8 8M1706 256l8 8m0-8l-8 8M1743 223l8 8m0-8l-8 8M1739 257l8 8m0-8l-8 8M1696 238l8 8m0-8l-8 8M1704 228l8 8m0-8l-8 8M1719 231l8 8m0-8l-8 8M1699 224l8 8m0-8l-8 8M1759 258l8 8m0-8l-8 8M1732 247l8 8m0-8l-8 8M1710 225l8 8m0-8l-8 8M1728 253l8 8m0-8l-8 8M1729 208l8 8m0-8l-8 8M1734 189l8 8m0-8l-8 8M1727 284l8 8m0-8l-8 8M1705 245l8 8m0-8l-8 8M1704 246l8 8m0-8l-8 8M1700 247l8 8m0-8l-8 8M1722 211l8 8m0-8l-8 8M1702 203l8 8m0-8l-8 8M1676 221l8 8m0-8l-8 8M1730 276l8 8m0-8l-8 8M1702 220l8 8m0-8l-8 8M1747 256l8 8m0-8l-8 8M1674 221l8 8m0-8l-8 8M1795 230l8 8m0-8l-8 8M1694 217l8 8m0-8l-8 8M1791 226l8 8m0-8l-8 8M1681 245l8 8m0-8l-8 8M1718 263l8 8m0-8l-8 8M1755 198l8 8m0-8l-8 8M1690 244l8 8m0-8l-8 8M1667 256l8 8m0-8l-8 8M1680 209l8 8m0-8l-8 8M1766 248l8 8m0-8l-8 8M1710 262l8 8m0-8l-8 8M1657 263l8 8m0-8l-8 8M1782 247l8 8m0-8l-8 8M1705 211l8 8m0-8l-8 8M1722 205l8 8m0-8l-8 8M1726 225l8 8m0-8l-8 8M1708 240l8 8m0-8l-8 8M1674 236l8 8m0-8l-8 8M1721 192l8 8m0-8l-8 8M1785 223l8 8m0-8l-8 8M1709 259l8 8m0-8l-8 8M1695 249l8 8m0-8l-8 8M1741 206l8 8m0-8l-8 8M1726 241l8 8m0-8l-8 8M1701 207l8 8m0-8l-8 8M1778 204l8 8m0-8l-8 8M1671 213l8 8m0-8l-8 8M1722 240l8 8m0-8l-8 8M1734 223l8 8m0-8l-8 8M1712 212l8 8m0-8l-8 8M1683 218l8 8m0-8l-8 8M1716 233l8 8m0-8l-8 8M1699 227l8 8m0-8l-8 8M1696 232l8 8m0-8l-8 8M1720 252l8 8m0-8l-8 8M1688 260l8 8m0-8l-8 8M1652 256l8 8m0-8l-8 8M1741 274l8 8m0-8l-8 8M1697 236l8 8m0-8l-8 8M1713 198l8 8m0-8l-8 8M1715 278l8 8m0-8l-8 8M1712 268l8 8m0-8l-8 8M1728 269l8 8m0-8l-8 8M1697 273l8 8m0-8l-8 8M1713 227l8 8m0-8l-8 8M1649 205l8 8m0-8l-8 8M1684 232l8 8m0-8l-8 8M1766 233l8 8m0-8l-8 8M1738 266l8 8m0-8l-8 8M1653 234l8 8m0-8l-8 8M1754 204l8 8m0-8l-8 8M1790 242l8 8m0-8l-8 8M1733 240l8 8m0-8l-8 8M1698 247l8 8m0-8l-8 8M1698 220l8 8m0-8l-8 8M1713 268l8 8m0-8l-8 8M1670 257l8 8m0-8l-8 8M1764 227l8 8m0-8l-8 8M1699 249l8 8m0-8l-8 8M1688 192l8 8m0-8l-8 8M1689 215l8 8m0-8l-8 8M1709 256l8 8m0-8l-8 8M1695 226l8 8m0-8l-8 8M1730 216l8 8m0-8l-8 8M1739 264l8 8m0-8l-8 8M1738 281l8 8m0-8l-8 8M1746 248l8 8m0-8l-8 8M1761 198l8 8m0-8l-8 8M1706 255l8 8m0-8l-8 8M1767 235l8 8m0-8l-8 8M1716 244l8 8m0-8l-8 8M1677 228l8 8m0-8l-8 8M1705 246l8 8m0-8l-8 8M1733 195l8 8m0-8l-8 8M1679 208l8 8m0-8l-8 8M1733 256l8 8m0-8l-8 8M1739 245l8 8m0-8l-8 8M1790 226l8 8m0-8l-8 8M1710 258l8 8m0-8l-8 8M1654 205l8 8m0-8l-8 8M1719 282l8 8m0-8l-8 8M1674 238l8 8m0-8l-8 8M1683 253l8 8m0-8l-8 8M1735 234l8 8m0-8l-8 8M1689 225l8 8m0-8l-8 8M1783 204l8 8m0-8l-8 8M1736 272l8 8m0-8l-8 8M1677 235l8 8m0-8l-8 8M1697 270l8 8m0-8l-8 8M1707 225l8 8m0-8l-8 8M1760 208l8 8m0-8l-8 8M1657 267l8 8m0-8l-8 8M1730 234l8 8m0-8l-8 8M1728 180l8 8m0-8l-8 8M1744 280l8 8m0-8l-8 8M1717 249l8 8m0-8l-8 8M1728 265l8 8m0-8l-8 8M1754 258l8 8m0-8l-8 8M1759 269l8 8m0-8l-8 8M1741 236l8 8m0-8l-8 8M1741 248l8 8m0-8l-8 8M1758 207l8 8m0-8l-8 8M1748 246l8 8m0-8l-8 8M1711 218l8 8m0-8l-8 8M1728 228l8 8m0-8l-8 8M1656 205l8 8m0-8l-8 8M1708 225l8 8m0-8l-8 8M1788 255l8 8m0-8l-8 8M1550 302l8 8m0-8l-8 8M1580 273l8 8m0-8l-8 8M1580 284l8 8m0-8l-8 8M1600 226l8 8m0-8l-8 8M1593 242l8 8m0-8l-8 8M1598 252l8 8m0-8l-8 8M1611 238l8 8m0-8l-8 8M1617 264l8 8m0-8l-8 8M1621 267l8 8m0-8l-8 8M1613 282l8 8m0-8l-8 8M1624 283l8 8m0-8l-8 8M1611 303l8 8m0-8l-8 8M1633 349l8 8m0-8l-8 8M1631 357l8 8m0-8l-8 8M1665 293l8 8m0-8l-8 8M1695 302l8 8m0-8l-8 8M1710 314l8 8m0-8l-8 8M1695 174l8 8m0-8l-8 8M1706 180l8 8m0-8l-8 8M1685 187l8 8m0-8l-8 8M1653 205l8 8m0-8l-8 8M1659 209l8 8m0-8l-8 8M1630 242l8 8m0-8l-8 8M1636 237l8 8m0-8l-8 8M1641 246l8 8m0-8l-8 8M1647 251l8 8m0-8l-8 8M1649 267l8 8m0-8l-8 8M1648 271l8 8m0-8l-8 8M1684 289l8 8m0-8l-8 8M1706 287l8 8m0-8l-8 8M1861 166l8 8m0-8l-8 8M1882 194l8 8m0-8l-8 8M1879 201l8 8m0-8l-8 8M1888 220l8 8m0-8l-8 8M1854 209l8 8m0-8l-8 8M1854 222l8 8m0-8l-8 8M1860 204l8 8m0-8l-8 8M1865 208l8 8m0-8l-8 8M1869 210l8 8m0-8l-8 8M1836 203l8 8m0-8l-8 8M1827 209l8 8m0-8l-8 8M1829 214l8 8m0-8l-8 8M1825 218l8 8m0-8l-8 8M1816 230l8 8m0-8l-8 8M1823 237l8 8m0-8l-8 8M1828 236l8 8m0-8l-8 8M1829 244l8 8m0-8l-8 8M1834 250l8 8m0-8l-8 8M1838 248l8 8m0-8l-8 8M1844 257l8 8m0-8l-8 8M1817 254l8 8m0-8l-8 8M1816 270l8 8m0-8l-8 8M1804 259l8 8m0-8l-8 8M1797 262l8 8m0-8l-8 8M1807 216l8 8m0-8l-8 8M1809 219l8 8m0-8l-8 8M1804 223l8 8m0-8l-8 8M1791 205l8 8m0-8l-8 8M1794 210l8 8m0-8l-8 8M1788 191l8 8m0-8l-8 8M1795 189l8 8m0-8l-8 8M1775 180l8 8m0-8l-8 8M1741 173l8 8m0-8l-8 8M1740 180l8 8m0-8l-8 8M1719 180l8 8m0-8l-8 8M1791 275l8 8m0-8l-8 8M1784 281l8 8m0-8l-8 8M1778 272l8 8m0-8l-8 8M1771 277l8 8m0-8l-8 8M1762 280l8 8m0-8l-8 8M1769 267l8 8m0-8l-8 8M1760 264l8 8m0-8l-8 8M1764 302l8 8m0-8l-8 8M1777 300l8 8m0-8l-8 8M1724 294l8 8m0-8l-8 8M1720 304l8 8m0-8l-8 8M1722 281l8 8m0-8l-8 8M1782 254l8 8m0-8l-8 8M1788 252l8 8m0-8l-8 8M1783 246l8 8m0-8l-8 8M1793 227l8 8m0-8l-8 8M1798 228l8 8m0-8l-8 8" stroke="#9C9C9C" stroke-width="1.3" fill="none"/><path d="M1353 200h0M1307 237h0M1312 205h0M1328 249h0M1339 233h0M1312 230h0M1291 222h0M1373 228h0M1292 213h0M1313 199h0M1375 219h0M1296 208h0M1292 225h0M1322 234h0M1300 215h0M1339 250h0M1389 241h0M1289 222h0M1348 201h0M1287 194h0M1325 208h0M1315 198h0M1338 204h0M1289 204h0M1287 241h0M1349 204h0M1303 274h0M1352 253h0M1344 224h0M1334 258h0M1332 246h0M1352 219h0M1310 212h0M1377 209h0M1319 218h0M1291 242h0M1327 235h0M1373 214h0M1332 209h0M1357 231h0M1362 256h0M1288 267h0M1290 207h0M1313 241h0M1309 266h0M1290 230h0M1294 224h0M1372 225h0M1338 241h0M1313 199h0M1294 219h0M1366 219h0M1314 229h0M1306 247h0M1353 203h0M1342 216h0M1354 240h0M1331 231h0M1285 198h0M1329 231h0M1312 241h0M1362 181h0M1340 266h0M1326 225h0M1329 236h0M1317 241h0M1310 226h0M1339 246h0M1324 234h0M1297 228h0M1340 266h0M1303 232h0M1313 240h0M1304 247h0M1296 268h0M1331 219h0M1332 231h0M1340 247h0M1331 211h0M1286 220h0M1299 251h0M1294 219h0M1337 257h0M1281 229h0M1358 185h0M1351 173h0M1326 204h0M1315 235h0M1376 200h0M1379 255h0M1284 233h0M1347 256h0M1352 213h0M1315 244h0M1306 235h0M1331 207h0M1362 206h0M1312 229h0M1325 199h0M1348 226h0M1321 203h0M1342 222h0M1347 244h0M1336 218h0M1340 201h0M1379 230h0M1289 231h0M1366 234h0M1311 242h0M1340 210h0M1340 197h0M1317 199h0M1358 244h0M1315 231h0M1327 238h0M1347 212h0M1268 218h0M1361 207h0M1335 220h0M1357 206h0M1339 229h0M1296 237h0M1359 229h0M1307 214h0M1288 205h0M1329 224h0M1352 192h0M1317 212h0M1333 199h0M1307 212h0M1336 195h0M1333 235h0M1332 250h0M1331 229h0M1335 244h0M1343 223h0M1350 204h0M1354 194h0M1369 205h0M1321 220h0M1344 180h0M1314 241h0M1339 197h0M1367 261h0M1302 219h0M1291 216h0M1322 273h0M1327 216h0M1313 241h0M1317 222h0M1323 226h0M1337 217h0M1304 243h0M1332 225h0M1268 232h0M1304 205h0M1313 206h0M1355 216h0M1301 227h0M1361 216h0M1338 208h0M1313 220h0M1311 238h0M1292 241h0M1298 232h0M1366 258h0M1283 245h0M1372 218h0M1370 200h0M1328 275h0M1351 242h0M1323 221h0M1356 222h0M1380 200h0M1301 239h0M1283 245h0M1372 259h0M1291 222h0M1354 211h0M1343 186h0M1325 239h0M1308 238h0M1331 218h0M1299 225h0M1339 218h0M1349 233h0M1293 231h0M1361 234h0M1319 196h0M1332 229h0M1364 218h0M1329 233h0M1371 240h0M1388 205h0M1361 226h0M1375 208h0M1352 237h0M1302 229h0M1323 215h0M1308 197h0M1341 225h0M1333 222h0M1339 209h0M1300 238h0M1339 235h0M1341 196h0M1294 214h0M1385 230h0M1295 252h0M1352 211h0M1350 226h0M1329 231h0M1365 235h0M1276 219h0M1371 268h0M1296 256h0M1284 259h0M1322 252h0M1348 205h0M1300 202h0M1297 232h0M1318 238h0M1315 241h0M1342 214h0M1292 188h0M1349 221h0M1272 216h0M1317 262h0M1361 216h0M1350 188h0M1315 218h0M1287 259h0M1317 256h0M1280 253h0M1354 198h0M1339 229h0M1350 213h0M1301 206h0M1334 211h0M1328 171h0M1321 187h0M1334 254h0M1339 217h0M1357 175h0M1313 251h0M1313 185h0M1298 241h0M1346 226h0M1358 224h0M1337 247h0M1342 274h0M1336 254h0M1347 233h0M1334 221h0M1376 238h0M1273 246h0M1381 193h0M1298 210h0M1326 250h0M1327 233h0M1280 190h0M1339 231h0M1308 234h0M1334 239h0M1312 228h0M1384 199h0M1317 215h0M1353 201h0M1288 214h0M1285 238h0M1387 231h0M1347 233h0M1319 192h0M1297 250h0M1294 221h0M1302 202h0M1315 223h0M1321 236h0M1333 254h0M1317 207h0M1308 226h0M1365 224h0M1317 231h0M1292 221h0M1308 205h0M1348 203h0M1309 203h0M1338 199h0M1356 233h0M1356 225h0M1336 200h0M1369 218h0M1308 243h0M1332 239h0M1329 249h0M1343 215h0M1330 249h0M1329 210h0M1334 237h0M1344 194h0M1295 224h0M1355 226h0M1377 253h0M1354 226h0M1325 207h0M1336 200h0M1357 184h0M1366 216h0M1307 232h0M1334 226h0M1359 222h0M1318 205h0M1333 247h0M1294 241h0M1345 176h0M1326 226h0M1320 238h0M1367 236h0M1366 240h0M1326 212h0M1292 188h0M1311 235h0M1325 224h0M1355 242h0M1322 224h0M1283 256h0M1329 221h0M1351 222h0M1344 210h0M1355 196h0M1325 230h0M1319 246h0M1341 229h0M1335 235h0M1347 201h0M1328 219h0M1319 228h0M1329 196h0M1321 248h0M1349 180h0M1311 236h0M1289 235h0M1376 228h0M1301 237h0M1275 231h0M1268 222h0M1270 217h0M1316 249h0M1340 263h0M1368 221h0M1349 200h0M1329 214h0M1298 252h0M1309 236h0M1319 247h0M1343 188h0M1351 247h0M1347 258h0M1312 213h0M1316 196h0M1299 255h0M1309 212h0M1368 232h0M1314 212h0M1323 228h0M1362 229h0M1302 225h0M1288 219h0M1314 246h0M1336 218h0M1306 210h0M1351 219h0M1339 238h0M1285 193h0M1342 244h0M1329 243h0M1282 225h0M1313 216h0M1313 250h0M1318 202h0M1338 194h0M1355 204h0M1370 226h0M1291 227h0M1325 238h0M1286 250h0M1299 188h0M1322 208h0M1330 259h0M1324 262h0M1336 254h0M1370 248h0M1329 254h0M1360 227h0M1302 243h0M1343 192h0M1294 258h0M1322 244h0M1320 198h0M1308 177h0M1345 191h0M1335 201h0M1283 230h0M1321 173h0M1329 205h0M1313 209h0M1299 192h0M1335 224h0M1326 217h0M1378 201h0M1313 264h0M1338 211h0M1303 218h0M1319 224h0M1375 187h0M1332 239h0M1350 216h0M1305 236h0M1349 219h0M1316 257h0M1321 224h0M1371 219h0M1329 220h0M1377 217h0M1373 236h0M1331 247h0M1311 272h0M1306 236h0M1358 228h0M1367 252h0M1294 223h0M1346 227h0M1323 236h0M1304 217h0M1366 227h0M1294 201h0M1337 260h0M1285 229h0M1371 195h0M1302 189h0M1345 184h0M1331 225h0M1310 217h0M1316 235h0M1305 209h0M1293 253h0M1371 230h0M1280 233h0M1344 244h0M1327 206h0M1305 238h0M1364 212h0M1345 228h0M1322 219h0M1325 198h0M1295 238h0M1317 220h0M1326 181h0M1297 220h0M1344 215h0M1325 181h0M1291 235h0M1333 247h0M1349 210h0M1331 209h0M1347 205h0M1342 232h0M1371 198h0M1328 193h0M1358 215h0M1308 203h0M1304 221h0M1318 257h0M1320 226h0M1266 220h0M1321 196h0M1347 239h0M1351 231h0M1376 216h0M1333 190h0M1374 221h0M1293 269h0M1363 217h0M1337 183h0M1333 175h0M1290 266h0M1335 183h0M1307 246h0M1321 227h0M1322 198h0M1318 194h0M1320 224h0M1321 229h0M1350 176h0M1329 252h0M1377 237h0M1286 214h0M1354 247h0M1314 220h0M1350 246h0M1313 203h0M1275 216h0M1278 214h0M1363 228h0M1312 249h0M1282 242h0M1310 236h0M1364 193h0M1347 218h0M1319 188h0M1324 222h0M1329 219h0M1292 262h0M1321 251h0M1317 207h0M1365 244h0M1314 229h0M1341 190h0M1311 180h0M1356 176h0M1320 195h0M1323 218h0M1311 237h0M1316 244h0M1335 197h0M1316 226h0M1351 247h0M1320 231h0M1326 231h0M1295 214h0M1351 248h0M1335 216h0M1341 207h0M1335 249h0M1316 205h0M1311 231h0M1361 218h0M1341 238h0M1337 236h0M1343 237h0M1303 214h0M1306 270h0M1322 216h0M1363 230h0M1317 251h0M1300 204h0M1302 258h0M1327 250h0M1293 190h0M1336 216h0M1269 238h0M1390 220h0M1286 215h0M1304 184h0M1296 204h0M1313 215h0M1331 234h0M1340 222h0M1300 231h0M1317 233h0M1349 238h0M1266 229h0M1282 250h0M1281 188h0M1299 269h0M1357 242h0M1309 234h0M1298 224h0M1362 243h0M1324 205h0M1312 190h0M1275 222h0M1340 249h0M1379 215h0M1349 179h0M1345 276h0M1349 255h0M1354 240h0M1364 193h0M1315 258h0M1307 256h0M1306 222h0M1305 250h0M1339 175h0M1292 205h0M1344 230h0M1271 245h0M1364 222h0M1327 216h0M1345 220h0M1293 222h0M1292 268h0M1292 270h0M1308 196h0M1319 263h0M1333 260h0M1355 228h0M1309 247h0M1333 213h0M1326 241h0M1338 252h0M1354 238h0M1346 220h0M1310 217h0M1300 245h0M1288 229h0M1302 211h0M1350 226h0M1358 200h0M1312 230h0M1350 234h0M1370 190h0M1324 211h0M1301 252h0M1300 189h0M1373 236h0M1310 205h0M1322 208h0M1307 245h0M1303 223h0M1306 245h0M1324 250h0M1289 216h0M1320 228h0M1314 273h0M1310 219h0M1286 221h0M1300 251h0M1317 239h0M1291 216h0M1373 219h0M1335 234h0M1357 207h0M1295 226h0M1357 212h0M1361 183h0M1307 204h0M1325 272h0M1344 197h0M1369 233h0M1391 233h0M1322 236h0M1322 201h0M1316 250h0M1297 252h0M1368 222h0M1317 244h0M1312 245h0M1347 220h0M1313 205h0M1324 200h0M1324 229h0M1317 237h0M1359 190h0M1327 205h0M1306 222h0M1360 246h0M1309 226h0M1321 220h0M1379 238h0M1271 242h0M1349 195h0M1375 237h0M1318 209h0M1306 212h0M1286 232h0M1280 254h0M1302 234h0M1372 266h0M1331 197h0M1289 190h0M1333 228h0M1305 262h0M1309 230h0M1358 240h0M1346 235h0M1338 250h0M1361 199h0M1344 223h0M1320 259h0M1334 231h0M1365 197h0M1311 221h0M1297 235h0M1299 236h0M1330 226h0M1344 215h0M1351 214h0M1329 223h0M1353 226h0M1302 272h0M1367 222h0M1350 203h0M1355 209h0M1351 225h0M1296 240h0M1327 215h0M1326 245h0M1336 214h0M1315 223h0M1280 214h0M1314 183h0M1387 214h0M1372 213h0M1328 223h0M1276 207h0M1344 214h0M1339 229h0M1287 205h0M1299 190h0M1291 230h0M1362 249h0M1347 207h0M1298 265h0M1336 205h0M1349 227h0M1333 219h0M1357 236h0M1350 227h0M1356 234h0M1267 233h0M1375 234h0M1300 188h0M1366 222h0M1344 204h0M1361 215h0M1322 198h0M1332 232h0M1298 217h0M1343 194h0M1339 243h0M1328 193h0M1326 250h0M1330 195h0M1353 229h0M1371 251h0M1351 216h0M1323 211h0M1327 202h0M1297 252h0M1336 224h0M1378 201h0M1342 201h0M1314 228h0M1321 209h0M1318 247h0M1302 199h0M1375 187h0M1318 197h0M1298 251h0M1350 214h0M1374 206h0M1361 228h0M1360 219h0M1340 220h0M1345 223h0M1324 210h0M1309 228h0M1355 226h0M1334 241h0M1123 319h0M1173 319h0M1184 322h0M1185 326h0M1184 282h0M1188 375h0M1201 351h0M1211 325h0M1213 295h0M1192 268h0M1196 263h0M1197 258h0M1216 261h0M1217 274h0M1222 282h0M1224 288h0M1223 272h0M1225 274h0M1226 229h0M1226 235h0M1231 248h0M1231 251h0M1231 268h0M1235 215h0M1236 298h0M1238 276h0M1241 291h0M1239 256h0M1242 234h0M1242 262h0M1245 244h0M1242 279h0M1250 206h0M1251 245h0M1253 248h0M1253 256h0M1256 260h0M1254 286h0M1255 296h0M1258 296h0M1260 234h0M1260 214h0M1263 269h0M1265 312h0M1265 349h0M1266 290h0M1272 302h0M1274 286h0M1276 286h0M1281 312h0M1281 355h0M1284 338h0M1279 277h0M1285 164h0M1292 179h0M1281 184h0M1284 191h0M1298 313h0M1294 298h0M1288 284h0M1298 284h0M1285 277h0M1290 275h0M1388 150h0M1387 157h0M1429 159h0M1434 169h0M1433 178h0M1368 170h0M1375 168h0M1424 202h0M1402 212h0M1405 219h0M1395 232h0M1400 228h0M1407 235h0M1411 237h0M1410 243h0M1398 256h0M1415 255h0M1418 265h0M1432 260h0M1434 253h0M1441 263h0M1462 300h0M1389 245h0M1387 274h0M1388 286h0M1384 294h0M1383 297h0M1377 297h0M1373 280h0M1388 318h0M1393 343h0M1357 322h0M1340 342h0M1341 302h0M1336 306h0M1313 302h0M1306 320h0M1357 286h0M1345 282h0M1328 288h0M1311 285h0M1387 184h0M1388 188h0M1385 182h0M1391 206h0M1392 219h0" stroke="#0072BD" stroke-width="4.2" stroke-linecap="round" fill="none"/></g>
<g clip-path="url(#cb2)"><path d="M1693 617l8.8 8.8m0-8.8l-8.8 8.8M1608 605l8.8 8.8m0-8.8l-8.8 8.8M1661 637l8.8 8.8m0-8.8l-8.8 8.8M1599 612l8.8 8.8m0-8.8l-8.8 8.8M1642 605l8.8 8.8m0-8.8l-8.8 8.8M1627 648l8.8 8.8m0-8.8l-8.8 8.8M1827 613l8.8 8.8m0-8.8l-8.8 8.8M1623 619l8.8 8.8m0-8.8l-8.8 8.8M1635 633l8.8 8.8m0-8.8l-8.8 8.8M1669 574l8.8 8.8m0-8.8l-8.8 8.8M1772 690l8.8 8.8m0-8.8l-8.8 8.8M1606 662l8.8 8.8m0-8.8l-8.8 8.8M1735 674l8.8 8.8m0-8.8l-8.8 8.8M1717 626l8.8 8.8m0-8.8l-8.8 8.8M1616 631l8.8 8.8m0-8.8l-8.8 8.8M1642 651l8.8 8.8m0-8.8l-8.8 8.8M1773 631l8.8 8.8m0-8.8l-8.8 8.8M1550 636l8.8 8.8m0-8.8l-8.8 8.8M1583 618l8.8 8.8m0-8.8l-8.8 8.8M1545 608l8.8 8.8m0-8.8l-8.8 8.8M1613 659l8.8 8.8m0-8.8l-8.8 8.8M1665 642l8.8 8.8m0-8.8l-8.8 8.8M1602 632l8.8 8.8m0-8.8l-8.8 8.8M1684 615l8.8 8.8m0-8.8l-8.8 8.8M1676 682l8.8 8.8m0-8.8l-8.8 8.8M1700 620l8.8 8.8m0-8.8l-8.8 8.8M1653 582l8.8 8.8m0-8.8l-8.8 8.8M1655 640l8.8 8.8m0-8.8l-8.8 8.8M1626 574l8.8 8.8m0-8.8l-8.8 8.8M1729 659l8.8 8.8m0-8.8l-8.8 8.8M1671 614l8.8 8.8m0-8.8l-8.8 8.8M1725 628l8.8 8.8m0-8.8l-8.8 8.8M1615 629l8.8 8.8m0-8.8l-8.8 8.8M1669 622l8.8 8.8m0-8.8l-8.8 8.8M1661 596l8.8 8.8m0-8.8l-8.8 8.8M1603 641l8.8 8.8m0-8.8l-8.8 8.8M1636 635l8.8 8.8m0-8.8l-8.8 8.8M1567 609l8.8 8.8m0-8.8l-8.8 8.8M1613 646l8.8 8.8m0-8.8l-8.8 8.8M1786 644l8.8 8.8m0-8.8l-8.8 8.8M1668 606l8.8 8.8m0-8.8l-8.8 8.8M1586 629l8.8 8.8m0-8.8l-8.8 8.8M1704 590l8.8 8.8m0-8.8l-8.8 8.8M1729 565l8.8 8.8m0-8.8l-8.8 8.8M1776 649l8.8 8.8m0-8.8l-8.8 8.8M1699 629l8.8 8.8m0-8.8l-8.8 8.8M1718 658l8.8 8.8m0-8.8l-8.8 8.8M1675 633l8.8 8.8m0-8.8l-8.8 8.8M1617 636l8.8 8.8m0-8.8l-8.8 8.8M1679 638l8.8 8.8m0-8.8l-8.8 8.8M1650 643l8.8 8.8m0-8.8l-8.8 8.8M1593 644l8.8 8.8m0-8.8l-8.8 8.8M1766 603l8.8 8.8m0-8.8l-8.8 8.8M1653 639l8.8 8.8m0-8.8l-8.8 8.8M1611 579l8.8 8.8m0-8.8l-8.8 8.8M1643 636l8.8 8.8m0-8.8l-8.8 8.8M1721 680l8.8 8.8m0-8.8l-8.8 8.8M1653 678l8.8 8.8m0-8.8l-8.8 8.8M1625 665l8.8 8.8m0-8.8l-8.8 8.8M1740 614l8.8 8.8m0-8.8l-8.8 8.8M1621 645l8.8 8.8m0-8.8l-8.8 8.8M1710 608l8.8 8.8m0-8.8l-8.8 8.8M1669 653l8.8 8.8m0-8.8l-8.8 8.8M1633 625l8.8 8.8m0-8.8l-8.8 8.8M1726 615l8.8 8.8m0-8.8l-8.8 8.8M1708 638l8.8 8.8m0-8.8l-8.8 8.8M1711 655l8.8 8.8m0-8.8l-8.8 8.8M1668 594l8.8 8.8m0-8.8l-8.8 8.8M1657 623l8.8 8.8m0-8.8l-8.8 8.8M1480 635l8.8 8.8m0-8.8l-8.8 8.8M1647 636l8.8 8.8m0-8.8l-8.8 8.8M1649 610l8.8 8.8m0-8.8l-8.8 8.8M1719 628l8.8 8.8m0-8.8l-8.8 8.8M1803 613l8.8 8.8m0-8.8l-8.8 8.8M1669 651l8.8 8.8m0-8.8l-8.8 8.8M1808 638l8.8 8.8m0-8.8l-8.8 8.8M1661 667l8.8 8.8m0-8.8l-8.8 8.8M1730 613l8.8 8.8m0-8.8l-8.8 8.8M1735 611l8.8 8.8m0-8.8l-8.8 8.8M1565 635l8.8 8.8m0-8.8l-8.8 8.8M1767 657l8.8 8.8m0-8.8l-8.8 8.8M1603 636l8.8 8.8m0-8.8l-8.8 8.8M1659 623l8.8 8.8m0-8.8l-8.8 8.8M1615 589l8.8 8.8m0-8.8l-8.8 8.8M1627 621l8.8 8.8m0-8.8l-8.8 8.8M1598 636l8.8 8.8m0-8.8l-8.8 8.8M1644 656l8.8 8.8m0-8.8l-8.8 8.8M1750 596l8.8 8.8m0-8.8l-8.8 8.8M1599 642l8.8 8.8m0-8.8l-8.8 8.8M1726 638l8.8 8.8m0-8.8l-8.8 8.8M1692 681l8.8 8.8m0-8.8l-8.8 8.8M1710 657l8.8 8.8m0-8.8l-8.8 8.8M1694 593l8.8 8.8m0-8.8l-8.8 8.8M1716 617l8.8 8.8m0-8.8l-8.8 8.8M1709 625l8.8 8.8m0-8.8l-8.8 8.8M1607 614l8.8 8.8m0-8.8l-8.8 8.8M1581 618l8.8 8.8m0-8.8l-8.8 8.8M1725 596l8.8 8.8m0-8.8l-8.8 8.8M1696 619l8.8 8.8m0-8.8l-8.8 8.8M1760 609l8.8 8.8m0-8.8l-8.8 8.8M1670 623l8.8 8.8m0-8.8l-8.8 8.8M1656 617l8.8 8.8m0-8.8l-8.8 8.8M1614 634l8.8 8.8m0-8.8l-8.8 8.8M1556 631l8.8 8.8m0-8.8l-8.8 8.8M1684 630l8.8 8.8m0-8.8l-8.8 8.8M1753 625l8.8 8.8m0-8.8l-8.8 8.8M1657 597l8.8 8.8m0-8.8l-8.8 8.8M1713 624l8.8 8.8m0-8.8l-8.8 8.8M1714 659l8.8 8.8m0-8.8l-8.8 8.8M1575 629l8.8 8.8m0-8.8l-8.8 8.8M1683 630l8.8 8.8m0-8.8l-8.8 8.8M1602 641l8.8 8.8m0-8.8l-8.8 8.8M1677 630l8.8 8.8m0-8.8l-8.8 8.8M1700 615l8.8 8.8m0-8.8l-8.8 8.8M1651 622l8.8 8.8m0-8.8l-8.8 8.8M1663 607l8.8 8.8m0-8.8l-8.8 8.8M1729 605l8.8 8.8m0-8.8l-8.8 8.8M1784 629l8.8 8.8m0-8.8l-8.8 8.8M1610 618l8.8 8.8m0-8.8l-8.8 8.8M1645 603l8.8 8.8m0-8.8l-8.8 8.8M1624 633l8.8 8.8m0-8.8l-8.8 8.8M1605 643l8.8 8.8m0-8.8l-8.8 8.8M1695 625l8.8 8.8m0-8.8l-8.8 8.8M1631 616l8.8 8.8m0-8.8l-8.8 8.8M1731 673l8.8 8.8m0-8.8l-8.8 8.8M1733 632l8.8 8.8m0-8.8l-8.8 8.8M1660 617l8.8 8.8m0-8.8l-8.8 8.8M1606 652l8.8 8.8m0-8.8l-8.8 8.8M1671 665l8.8 8.8m0-8.8l-8.8 8.8M1664 599l8.8 8.8m0-8.8l-8.8 8.8M1628 603l8.8 8.8m0-8.8l-8.8 8.8M1738 622l8.8 8.8m0-8.8l-8.8 8.8M1657 644l8.8 8.8m0-8.8l-8.8 8.8M1604 602l8.8 8.8m0-8.8l-8.8 8.8M1701 660l8.8 8.8m0-8.8l-8.8 8.8M1581 635l8.8 8.8m0-8.8l-8.8 8.8M1728 670l8.8 8.8m0-8.8l-8.8 8.8M1653 632l8.8 8.8m0-8.8l-8.8 8.8M1748 641l8.8 8.8m0-8.8l-8.8 8.8M1671 650l8.8 8.8m0-8.8l-8.8 8.8M1580 619l8.8 8.8m0-8.8l-8.8 8.8M1628 602l8.8 8.8m0-8.8l-8.8 8.8M1682 622l8.8 8.8m0-8.8l-8.8 8.8M1636 592l8.8 8.8m0-8.8l-8.8 8.8M1653 598l8.8 8.8m0-8.8l-8.8 8.8M1695 627l8.8 8.8m0-8.8l-8.8 8.8M1580 638l8.8 8.8m0-8.8l-8.8 8.8M1637 650l8.8 8.8m0-8.8l-8.8 8.8M1602 662l8.8 8.8m0-8.8l-8.8 8.8M1666 613l8.8 8.8m0-8.8l-8.8 8.8M1702 596l8.8 8.8m0-8.8l-8.8 8.8M1656 663l8.8 8.8m0-8.8l-8.8 8.8M1606 632l8.8 8.8m0-8.8l-8.8 8.8M1634 632l8.8 8.8m0-8.8l-8.8 8.8M1634 595l8.8 8.8m0-8.8l-8.8 8.8M1685 603l8.8 8.8m0-8.8l-8.8 8.8M1693 646l8.8 8.8m0-8.8l-8.8 8.8M1682 613l8.8 8.8m0-8.8l-8.8 8.8M1702 659l8.8 8.8m0-8.8l-8.8 8.8M1610 605l8.8 8.8m0-8.8l-8.8 8.8M1600 661l8.8 8.8m0-8.8l-8.8 8.8M1578 598l8.8 8.8m0-8.8l-8.8 8.8M1709 593l8.8 8.8m0-8.8l-8.8 8.8M1673 622l8.8 8.8m0-8.8l-8.8 8.8M1608 613l8.8 8.8m0-8.8l-8.8 8.8M1701 611l8.8 8.8m0-8.8l-8.8 8.8M1638 642l8.8 8.8m0-8.8l-8.8 8.8M1632 647l8.8 8.8m0-8.8l-8.8 8.8M1609 600l8.8 8.8m0-8.8l-8.8 8.8M1672 649l8.8 8.8m0-8.8l-8.8 8.8M1681 662l8.8 8.8m0-8.8l-8.8 8.8M1675 659l8.8 8.8m0-8.8l-8.8 8.8M1649 626l8.8 8.8m0-8.8l-8.8 8.8M1651 619l8.8 8.8m0-8.8l-8.8 8.8M1656 629l8.8 8.8m0-8.8l-8.8 8.8M1642 637l8.8 8.8m0-8.8l-8.8 8.8M1513 609l8.8 8.8m0-8.8l-8.8 8.8M1635 593l8.8 8.8m0-8.8l-8.8 8.8M1635 634l8.8 8.8m0-8.8l-8.8 8.8M1677 636l8.8 8.8m0-8.8l-8.8 8.8M1639 631l8.8 8.8m0-8.8l-8.8 8.8M1647 599l8.8 8.8m0-8.8l-8.8 8.8M1637 589l8.8 8.8m0-8.8l-8.8 8.8M1612 620l8.8 8.8m0-8.8l-8.8 8.8M1568 638l8.8 8.8m0-8.8l-8.8 8.8M1626 652l8.8 8.8m0-8.8l-8.8 8.8M1666 617l8.8 8.8m0-8.8l-8.8 8.8M1673 593l8.8 8.8m0-8.8l-8.8 8.8M1726 602l8.8 8.8m0-8.8l-8.8 8.8M1747 616l8.8 8.8m0-8.8l-8.8 8.8M1663 644l8.8 8.8m0-8.8l-8.8 8.8M1673 587l8.8 8.8m0-8.8l-8.8 8.8M1637 614l8.8 8.8m0-8.8l-8.8 8.8M1665 611l8.8 8.8m0-8.8l-8.8 8.8M1608 627l8.8 8.8m0-8.8l-8.8 8.8M1636 621l8.8 8.8m0-8.8l-8.8 8.8M1666 605l8.8 8.8m0-8.8l-8.8 8.8M1698 649l8.8 8.8m0-8.8l-8.8 8.8M1626 658l8.8 8.8m0-8.8l-8.8 8.8M1634 651l8.8 8.8m0-8.8l-8.8 8.8M1714 641l8.8 8.8m0-8.8l-8.8 8.8M1649 648l8.8 8.8m0-8.8l-8.8 8.8M1678 641l8.8 8.8m0-8.8l-8.8 8.8M1714 633l8.8 8.8m0-8.8l-8.8 8.8M1669 590l8.8 8.8m0-8.8l-8.8 8.8M1642 634l8.8 8.8m0-8.8l-8.8 8.8M1735 641l8.8 8.8m0-8.8l-8.8 8.8M1643 617l8.8 8.8m0-8.8l-8.8 8.8M1681 651l8.8 8.8m0-8.8l-8.8 8.8M1613 630l8.8 8.8m0-8.8l-8.8 8.8M1759 603l8.8 8.8m0-8.8l-8.8 8.8M1636 654l8.8 8.8m0-8.8l-8.8 8.8M1753 609l8.8 8.8m0-8.8l-8.8 8.8M1644 639l8.8 8.8m0-8.8l-8.8 8.8M1648 603l8.8 8.8m0-8.8l-8.8 8.8M1588 600l8.8 8.8m0-8.8l-8.8 8.8M1599 641l8.8 8.8m0-8.8l-8.8 8.8M1667 614l8.8 8.8m0-8.8l-8.8 8.8M1712 619l8.8 8.8m0-8.8l-8.8 8.8M1625 621l8.8 8.8m0-8.8l-8.8 8.8M1660 636l8.8 8.8m0-8.8l-8.8 8.8M1712 667l8.8 8.8m0-8.8l-8.8 8.8M1659 622l8.8 8.8m0-8.8l-8.8 8.8M1628 635l8.8 8.8m0-8.8l-8.8 8.8M1670 622l8.8 8.8m0-8.8l-8.8 8.8M1656 669l8.8 8.8m0-8.8l-8.8 8.8M1643 634l8.8 8.8m0-8.8l-8.8 8.8M1705 610l8.8 8.8m0-8.8l-8.8 8.8M1557 617l8.8 8.8m0-8.8l-8.8 8.8M1752 669l8.8 8.8m0-8.8l-8.8 8.8M1676 633l8.8 8.8m0-8.8l-8.8 8.8M1600 676l8.8 8.8m0-8.8l-8.8 8.8M1689 609l8.8 8.8m0-8.8l-8.8 8.8M1668 648l8.8 8.8m0-8.8l-8.8 8.8M1725 625l8.8 8.8m0-8.8l-8.8 8.8M1711 631l8.8 8.8m0-8.8l-8.8 8.8M1657 635l8.8 8.8m0-8.8l-8.8 8.8M1697 651l8.8 8.8m0-8.8l-8.8 8.8M1746 626l8.8 8.8m0-8.8l-8.8 8.8M1747 640l8.8 8.8m0-8.8l-8.8 8.8M1691 615l8.8 8.8m0-8.8l-8.8 8.8M1668 619l8.8 8.8m0-8.8l-8.8 8.8M1625 644l8.8 8.8m0-8.8l-8.8 8.8M1689 650l8.8 8.8m0-8.8l-8.8 8.8M1703 633l8.8 8.8m0-8.8l-8.8 8.8M1676 672l8.8 8.8m0-8.8l-8.8 8.8M1555 612l8.8 8.8m0-8.8l-8.8 8.8M1644 600l8.8 8.8m0-8.8l-8.8 8.8M1633 657l8.8 8.8m0-8.8l-8.8 8.8M1671 641l8.8 8.8m0-8.8l-8.8 8.8M1654 615l8.8 8.8m0-8.8l-8.8 8.8M1660 667l8.8 8.8m0-8.8l-8.8 8.8M1654 628l8.8 8.8m0-8.8l-8.8 8.8M1708 690l8.8 8.8m0-8.8l-8.8 8.8M1617 592l8.8 8.8m0-8.8l-8.8 8.8M1676 615l8.8 8.8m0-8.8l-8.8 8.8M1621 649l8.8 8.8m0-8.8l-8.8 8.8M1702 662l8.8 8.8m0-8.8l-8.8 8.8M1684 669l8.8 8.8m0-8.8l-8.8 8.8M1676 620l8.8 8.8m0-8.8l-8.8 8.8M1714 632l8.8 8.8m0-8.8l-8.8 8.8M1698 644l8.8 8.8m0-8.8l-8.8 8.8M1731 653l8.8 8.8m0-8.8l-8.8 8.8M1591 622l8.8 8.8m0-8.8l-8.8 8.8M1668 629l8.8 8.8m0-8.8l-8.8 8.8M1627 593l8.8 8.8m0-8.8l-8.8 8.8M1741 658l8.8 8.8m0-8.8l-8.8 8.8M1693 610l8.8 8.8m0-8.8l-8.8 8.8M1651 645l8.8 8.8m0-8.8l-8.8 8.8M1716 638l8.8 8.8m0-8.8l-8.8 8.8M1659 640l8.8 8.8m0-8.8l-8.8 8.8M1674 625l8.8 8.8m0-8.8l-8.8 8.8M1652 648l8.8 8.8m0-8.8l-8.8 8.8M1727 647l8.8 8.8m0-8.8l-8.8 8.8M1670 609l8.8 8.8m0-8.8l-8.8 8.8M1738 630l8.8 8.8m0-8.8l-8.8 8.8M1624 637l8.8 8.8m0-8.8l-8.8 8.8M1673 609l8.8 8.8m0-8.8l-8.8 8.8M1617 639l8.8 8.8m0-8.8l-8.8 8.8M1714 659l8.8 8.8m0-8.8l-8.8 8.8M1660 662l8.8 8.8m0-8.8l-8.8 8.8M1611 625l8.8 8.8m0-8.8l-8.8 8.8M1710 559l8.8 8.8m0-8.8l-8.8 8.8M1715 650l8.8 8.8m0-8.8l-8.8 8.8M1666 650l8.8 8.8m0-8.8l-8.8 8.8M1631 630l8.8 8.8m0-8.8l-8.8 8.8M1683 635l8.8 8.8m0-8.8l-8.8 8.8M1755 619l8.8 8.8m0-8.8l-8.8 8.8M1617 611l8.8 8.8m0-8.8l-8.8 8.8M1575 650l8.8 8.8m0-8.8l-8.8 8.8M1665 663l8.8 8.8m0-8.8l-8.8 8.8M1593 637l8.8 8.8m0-8.8l-8.8 8.8M1577 609l8.8 8.8m0-8.8l-8.8 8.8M1681 594l8.8 8.8m0-8.8l-8.8 8.8M1690 648l8.8 8.8m0-8.8l-8.8 8.8M1712 648l8.8 8.8m0-8.8l-8.8 8.8M1687 663l8.8 8.8m0-8.8l-8.8 8.8M1702 625l8.8 8.8m0-8.8l-8.8 8.8M1672 619l8.8 8.8m0-8.8l-8.8 8.8M1749 618l8.8 8.8m0-8.8l-8.8 8.8M1649 657l8.8 8.8m0-8.8l-8.8 8.8M1632 676l8.8 8.8m0-8.8l-8.8 8.8M1750 612l8.8 8.8m0-8.8l-8.8 8.8M1704 622l8.8 8.8m0-8.8l-8.8 8.8M1664 625l8.8 8.8m0-8.8l-8.8 8.8M1676 649l8.8 8.8m0-8.8l-8.8 8.8M1638 614l8.8 8.8m0-8.8l-8.8 8.8M1623 654l8.8 8.8m0-8.8l-8.8 8.8M1571 645l8.8 8.8m0-8.8l-8.8 8.8M1573 638l8.8 8.8m0-8.8l-8.8 8.8M1693 655l8.8 8.8m0-8.8l-8.8 8.8M1643 611l8.8 8.8m0-8.8l-8.8 8.8M1627 614l8.8 8.8m0-8.8l-8.8 8.8M1638 668l8.8 8.8m0-8.8l-8.8 8.8M1700 630l8.8 8.8m0-8.8l-8.8 8.8M1744 616l8.8 8.8m0-8.8l-8.8 8.8M1665 625l8.8 8.8m0-8.8l-8.8 8.8M1616 608l8.8 8.8m0-8.8l-8.8 8.8M1636 653l8.8 8.8m0-8.8l-8.8 8.8M1653 614l8.8 8.8m0-8.8l-8.8 8.8M1703 653l8.8 8.8m0-8.8l-8.8 8.8M1673 651l8.8 8.8m0-8.8l-8.8 8.8M1708 630l8.8 8.8m0-8.8l-8.8 8.8M1596 679l8.8 8.8m0-8.8l-8.8 8.8M1685 634l8.8 8.8m0-8.8l-8.8 8.8M1761 643l8.8 8.8m0-8.8l-8.8 8.8M1690 654l8.8 8.8m0-8.8l-8.8 8.8M1651 616l8.8 8.8m0-8.8l-8.8 8.8M1685 604l8.8 8.8m0-8.8l-8.8 8.8M1721 641l8.8 8.8m0-8.8l-8.8 8.8M1685 614l8.8 8.8m0-8.8l-8.8 8.8M1725 604l8.8 8.8m0-8.8l-8.8 8.8M1584 609l8.8 8.8m0-8.8l-8.8 8.8M1684 653l8.8 8.8m0-8.8l-8.8 8.8M1682 678l8.8 8.8m0-8.8l-8.8 8.8M1689 634l8.8 8.8m0-8.8l-8.8 8.8M1666 631l8.8 8.8m0-8.8l-8.8 8.8M1661 641l8.8 8.8m0-8.8l-8.8 8.8M1687 651l8.8 8.8m0-8.8l-8.8 8.8M1602 634l8.8 8.8m0-8.8l-8.8 8.8M1638 620l8.8 8.8m0-8.8l-8.8 8.8M1654 651l8.8 8.8m0-8.8l-8.8 8.8M1686 622l8.8 8.8m0-8.8l-8.8 8.8M1665 615l8.8 8.8m0-8.8l-8.8 8.8M1629 614l8.8 8.8m0-8.8l-8.8 8.8M1716 617l8.8 8.8m0-8.8l-8.8 8.8M1683 627l8.8 8.8m0-8.8l-8.8 8.8M1674 630l8.8 8.8m0-8.8l-8.8 8.8M1693 646l8.8 8.8m0-8.8l-8.8 8.8M1677 621l8.8 8.8m0-8.8l-8.8 8.8M1734 631l8.8 8.8m0-8.8l-8.8 8.8M1660 622l8.8 8.8m0-8.8l-8.8 8.8M1614 633l8.8 8.8m0-8.8l-8.8 8.8M1690 660l8.8 8.8m0-8.8l-8.8 8.8M1696 622l8.8 8.8m0-8.8l-8.8 8.8M1712 593l8.8 8.8m0-8.8l-8.8 8.8M1700 654l8.8 8.8m0-8.8l-8.8 8.8M1662 643l8.8 8.8m0-8.8l-8.8 8.8M1751 644l8.8 8.8m0-8.8l-8.8 8.8M1636 577l8.8 8.8m0-8.8l-8.8 8.8M1632 606l8.8 8.8m0-8.8l-8.8 8.8M1705 640l8.8 8.8m0-8.8l-8.8 8.8M1631 628l8.8 8.8m0-8.8l-8.8 8.8M1732 625l8.8 8.8m0-8.8l-8.8 8.8M1621 657l8.8 8.8m0-8.8l-8.8 8.8M1679 606l8.8 8.8m0-8.8l-8.8 8.8M1678 620l8.8 8.8m0-8.8l-8.8 8.8M1643 638l8.8 8.8m0-8.8l-8.8 8.8M1572 611l8.8 8.8m0-8.8l-8.8 8.8M1683 614l8.8 8.8m0-8.8l-8.8 8.8M1683 627l8.8 8.8m0-8.8l-8.8 8.8M1667 615l8.8 8.8m0-8.8l-8.8 8.8M1642 626l8.8 8.8m0-8.8l-8.8 8.8M1599 657l8.8 8.8m0-8.8l-8.8 8.8M1632 601l8.8 8.8m0-8.8l-8.8 8.8M1571 616l8.8 8.8m0-8.8l-8.8 8.8M1760 616l8.8 8.8m0-8.8l-8.8 8.8M1650 624l8.8 8.8m0-8.8l-8.8 8.8M1734 642l8.8 8.8m0-8.8l-8.8 8.8M1661 670l8.8 8.8m0-8.8l-8.8 8.8M1749 664l8.8 8.8m0-8.8l-8.8 8.8M1636 694l8.8 8.8m0-8.8l-8.8 8.8M1630 594l8.8 8.8m0-8.8l-8.8 8.8M1626 615l8.8 8.8m0-8.8l-8.8 8.8M1673 691l8.8 8.8m0-8.8l-8.8 8.8M1620 637l8.8 8.8m0-8.8l-8.8 8.8M1592 639l8.8 8.8m0-8.8l-8.8 8.8M1748 629l8.8 8.8m0-8.8l-8.8 8.8M1740 623l8.8 8.8m0-8.8l-8.8 8.8M1633 667l8.8 8.8m0-8.8l-8.8 8.8M1717 636l8.8 8.8m0-8.8l-8.8 8.8M1543 619l8.8 8.8m0-8.8l-8.8 8.8M1680 635l8.8 8.8m0-8.8l-8.8 8.8M1775 633l8.8 8.8m0-8.8l-8.8 8.8M1775 648l8.8 8.8m0-8.8l-8.8 8.8M1710 647l8.8 8.8m0-8.8l-8.8 8.8M1730 641l8.8 8.8m0-8.8l-8.8 8.8M1682 630l8.8 8.8m0-8.8l-8.8 8.8M1751 641l8.8 8.8m0-8.8l-8.8 8.8M1649 631l8.8 8.8m0-8.8l-8.8 8.8M1543 607l8.8 8.8m0-8.8l-8.8 8.8M1728 636l8.8 8.8m0-8.8l-8.8 8.8M1676 598l8.8 8.8m0-8.8l-8.8 8.8M1671 634l8.8 8.8m0-8.8l-8.8 8.8M1703 615l8.8 8.8m0-8.8l-8.8 8.8M1706 672l8.8 8.8m0-8.8l-8.8 8.8M1598 647l8.8 8.8m0-8.8l-8.8 8.8M1677 626l8.8 8.8m0-8.8l-8.8 8.8M1633 625l8.8 8.8m0-8.8l-8.8 8.8M1654 656l8.8 8.8m0-8.8l-8.8 8.8M1731 612l8.8 8.8m0-8.8l-8.8 8.8M1666 669l8.8 8.8m0-8.8l-8.8 8.8M1637 667l8.8 8.8m0-8.8l-8.8 8.8M1676 650l8.8 8.8m0-8.8l-8.8 8.8M1662 624l8.8 8.8m0-8.8l-8.8 8.8M1673 650l8.8 8.8m0-8.8l-8.8 8.8M1716 628l8.8 8.8m0-8.8l-8.8 8.8M1671 591l8.8 8.8m0-8.8l-8.8 8.8M1648 612l8.8 8.8m0-8.8l-8.8 8.8M1659 661l8.8 8.8m0-8.8l-8.8 8.8M1615 630l8.8 8.8m0-8.8l-8.8 8.8M1746 622l8.8 8.8m0-8.8l-8.8 8.8M1704 666l8.8 8.8m0-8.8l-8.8 8.8M1570 647l8.8 8.8m0-8.8l-8.8 8.8M1663 652l8.8 8.8m0-8.8l-8.8 8.8M1737 643l8.8 8.8m0-8.8l-8.8 8.8M1583 603l8.8 8.8m0-8.8l-8.8 8.8M1649 632l8.8 8.8m0-8.8l-8.8 8.8M1766 597l8.8 8.8m0-8.8l-8.8 8.8M1691 659l8.8 8.8m0-8.8l-8.8 8.8M1712 614l8.8 8.8m0-8.8l-8.8 8.8M1618 685l8.8 8.8m0-8.8l-8.8 8.8M1754 602l8.8 8.8m0-8.8l-8.8 8.8M1700 606l8.8 8.8m0-8.8l-8.8 8.8M1744 657l8.8 8.8m0-8.8l-8.8 8.8M1618 588l8.8 8.8m0-8.8l-8.8 8.8M1641 628l8.8 8.8m0-8.8l-8.8 8.8M1620 637l8.8 8.8m0-8.8l-8.8 8.8M1690 695l8.8 8.8m0-8.8l-8.8 8.8M1619 640l8.8 8.8m0-8.8l-8.8 8.8M1674 642l8.8 8.8m0-8.8l-8.8 8.8M1751 630l8.8 8.8m0-8.8l-8.8 8.8M1715 627l8.8 8.8m0-8.8l-8.8 8.8M1636 614l8.8 8.8m0-8.8l-8.8 8.8M1698 642l8.8 8.8m0-8.8l-8.8 8.8M1618 623l8.8 8.8m0-8.8l-8.8 8.8M1713 625l8.8 8.8m0-8.8l-8.8 8.8M1607 589l8.8 8.8m0-8.8l-8.8 8.8M1709 646l8.8 8.8m0-8.8l-8.8 8.8M1724 633l8.8 8.8m0-8.8l-8.8 8.8M1600 625l8.8 8.8m0-8.8l-8.8 8.8M1722 634l8.8 8.8m0-8.8l-8.8 8.8M1743 664l8.8 8.8m0-8.8l-8.8 8.8M1755 568l8.8 8.8m0-8.8l-8.8 8.8M1749 653l8.8 8.8m0-8.8l-8.8 8.8M1709 621l8.8 8.8m0-8.8l-8.8 8.8M1710 622l8.8 8.8m0-8.8l-8.8 8.8M1639 644l8.8 8.8m0-8.8l-8.8 8.8M1775 650l8.8 8.8m0-8.8l-8.8 8.8M1679 599l8.8 8.8m0-8.8l-8.8 8.8M1727 661l8.8 8.8m0-8.8l-8.8 8.8M1708 615l8.8 8.8m0-8.8l-8.8 8.8M1675 666l8.8 8.8m0-8.8l-8.8 8.8M1615 628l8.8 8.8m0-8.8l-8.8 8.8M1709 704l8.8 8.8m0-8.8l-8.8 8.8M1683 602l8.8 8.8m0-8.8l-8.8 8.8M1623 637l8.8 8.8m0-8.8l-8.8 8.8M1758 668l8.8 8.8m0-8.8l-8.8 8.8M1695 614l8.8 8.8m0-8.8l-8.8 8.8M1651 641l8.8 8.8m0-8.8l-8.8 8.8M1647 577l8.8 8.8m0-8.8l-8.8 8.8M1746 589l8.8 8.8m0-8.8l-8.8 8.8M1654 596l8.8 8.8m0-8.8l-8.8 8.8M1655 622l8.8 8.8m0-8.8l-8.8 8.8M1571 593l8.8 8.8m0-8.8l-8.8 8.8M1662 638l8.8 8.8m0-8.8l-8.8 8.8M1642 621l8.8 8.8m0-8.8l-8.8 8.8M1725 560l8.8 8.8m0-8.8l-8.8 8.8M1747 644l8.8 8.8m0-8.8l-8.8 8.8M1734 657l8.8 8.8m0-8.8l-8.8 8.8M1593 648l8.8 8.8m0-8.8l-8.8 8.8M1692 648l8.8 8.8m0-8.8l-8.8 8.8M1753 618l8.8 8.8m0-8.8l-8.8 8.8M1663 620l8.8 8.8m0-8.8l-8.8 8.8M1666 631l8.8 8.8m0-8.8l-8.8 8.8M1673 634l8.8 8.8m0-8.8l-8.8 8.8M1598 649l8.8 8.8m0-8.8l-8.8 8.8M1654 676l8.8 8.8m0-8.8l-8.8 8.8M1666 659l8.8 8.8m0-8.8l-8.8 8.8M1687 623l8.8 8.8m0-8.8l-8.8 8.8M1680 569l8.8 8.8m0-8.8l-8.8 8.8M1677 588l8.8 8.8m0-8.8l-8.8 8.8M1654 635l8.8 8.8m0-8.8l-8.8 8.8M1780 600l8.8 8.8m0-8.8l-8.8 8.8M1745 675l8.8 8.8m0-8.8l-8.8 8.8M1717 618l8.8 8.8m0-8.8l-8.8 8.8M1689 622l8.8 8.8m0-8.8l-8.8 8.8M1756 638l8.8 8.8m0-8.8l-8.8 8.8M1633 613l8.8 8.8m0-8.8l-8.8 8.8M1720 624l8.8 8.8m0-8.8l-8.8 8.8M1718 661l8.8 8.8m0-8.8l-8.8 8.8M1670 658l8.8 8.8m0-8.8l-8.8 8.8M1583 674l8.8 8.8m0-8.8l-8.8 8.8M1594 666l8.8 8.8m0-8.8l-8.8 8.8M1746 662l8.8 8.8m0-8.8l-8.8 8.8M1616 587l8.8 8.8m0-8.8l-8.8 8.8M1715 627l8.8 8.8m0-8.8l-8.8 8.8M1667 611l8.8 8.8m0-8.8l-8.8 8.8M1654 627l8.8 8.8m0-8.8l-8.8 8.8M1694 638l8.8 8.8m0-8.8l-8.8 8.8M1747 644l8.8 8.8m0-8.8l-8.8 8.8M1718 644l8.8 8.8m0-8.8l-8.8 8.8M1746 657l8.8 8.8m0-8.8l-8.8 8.8M1621 648l8.8 8.8m0-8.8l-8.8 8.8M1645 663l8.8 8.8m0-8.8l-8.8 8.8M1741 598l8.8 8.8m0-8.8l-8.8 8.8M1676 606l8.8 8.8m0-8.8l-8.8 8.8M1660 635l8.8 8.8m0-8.8l-8.8 8.8M1596 646l8.8 8.8m0-8.8l-8.8 8.8M1652 592l8.8 8.8m0-8.8l-8.8 8.8M1648 582l8.8 8.8m0-8.8l-8.8 8.8M1704 651l8.8 8.8m0-8.8l-8.8 8.8M1670 622l8.8 8.8m0-8.8l-8.8 8.8M1581 645l8.8 8.8m0-8.8l-8.8 8.8M1570 650l8.8 8.8m0-8.8l-8.8 8.8M1734 640l8.8 8.8m0-8.8l-8.8 8.8M1600 610l8.8 8.8m0-8.8l-8.8 8.8M1593 651l8.8 8.8m0-8.8l-8.8 8.8M1604 620l8.8 8.8m0-8.8l-8.8 8.8M1642 649l8.8 8.8m0-8.8l-8.8 8.8M1691 594l8.8 8.8m0-8.8l-8.8 8.8M1671 641l8.8 8.8m0-8.8l-8.8 8.8M1638 628l8.8 8.8m0-8.8l-8.8 8.8M1648 621l8.8 8.8m0-8.8l-8.8 8.8M1629 645l8.8 8.8m0-8.8l-8.8 8.8M1658 638l8.8 8.8m0-8.8l-8.8 8.8M1635 632l8.8 8.8m0-8.8l-8.8 8.8M1678 638l8.8 8.8m0-8.8l-8.8 8.8M1616 609l8.8 8.8m0-8.8l-8.8 8.8M1650 637l8.8 8.8m0-8.8l-8.8 8.8M1685 604l8.8 8.8m0-8.8l-8.8 8.8M1622 602l8.8 8.8m0-8.8l-8.8 8.8M1646 631l8.8 8.8m0-8.8l-8.8 8.8M1700 636l8.8 8.8m0-8.8l-8.8 8.8M1658 610l8.8 8.8m0-8.8l-8.8 8.8M1654 604l8.8 8.8m0-8.8l-8.8 8.8M1660 601l8.8 8.8m0-8.8l-8.8 8.8M1677 617l8.8 8.8m0-8.8l-8.8 8.8M1529 613l8.8 8.8m0-8.8l-8.8 8.8M1686 669l8.8 8.8m0-8.8l-8.8 8.8M1659 598l8.8 8.8m0-8.8l-8.8 8.8M1768 624l8.8 8.8m0-8.8l-8.8 8.8M1588 654l8.8 8.8m0-8.8l-8.8 8.8M1737 635l8.8 8.8m0-8.8l-8.8 8.8M1661 629l8.8 8.8m0-8.8l-8.8 8.8M1651 664l8.8 8.8m0-8.8l-8.8 8.8M1675 658l8.8 8.8m0-8.8l-8.8 8.8M1668 659l8.8 8.8m0-8.8l-8.8 8.8M1600 619l8.8 8.8m0-8.8l-8.8 8.8M1688 647l8.8 8.8m0-8.8l-8.8 8.8M1698 646l8.8 8.8m0-8.8l-8.8 8.8M1611 614l8.8 8.8m0-8.8l-8.8 8.8M1707 651l8.8 8.8m0-8.8l-8.8 8.8M1675 636l8.8 8.8m0-8.8l-8.8 8.8M1701 617l8.8 8.8m0-8.8l-8.8 8.8M1696 634l8.8 8.8m0-8.8l-8.8 8.8M1674 637l8.8 8.8m0-8.8l-8.8 8.8M1764 632l8.8 8.8m0-8.8l-8.8 8.8M1668 627l8.8 8.8m0-8.8l-8.8 8.8M1589 586l8.8 8.8m0-8.8l-8.8 8.8M1711 624l8.8 8.8m0-8.8l-8.8 8.8M1580 628l8.8 8.8m0-8.8l-8.8 8.8M1671 582l8.8 8.8m0-8.8l-8.8 8.8M1652 644l8.8 8.8m0-8.8l-8.8 8.8M1547 626l8.8 8.8m0-8.8l-8.8 8.8M1577 645l8.8 8.8m0-8.8l-8.8 8.8M1782 637l8.8 8.8m0-8.8l-8.8 8.8M1625 622l8.8 8.8m0-8.8l-8.8 8.8M1542 584l8.8 8.8m0-8.8l-8.8 8.8M1610 620l8.8 8.8m0-8.8l-8.8 8.8M1640 598l8.8 8.8m0-8.8l-8.8 8.8M1711 610l8.8 8.8m0-8.8l-8.8 8.8M1576 615l8.8 8.8m0-8.8l-8.8 8.8M1662 617l8.8 8.8m0-8.8l-8.8 8.8M1660 640l8.8 8.8m0-8.8l-8.8 8.8M1649 642l8.8 8.8m0-8.8l-8.8 8.8M1719 631l8.8 8.8m0-8.8l-8.8 8.8M1651 603l8.8 8.8m0-8.8l-8.8 8.8M1549 615l8.8 8.8m0-8.8l-8.8 8.8M1656 639l8.8 8.8m0-8.8l-8.8 8.8M1622 671l8.8 8.8m0-8.8l-8.8 8.8M1647 613l8.8 8.8m0-8.8l-8.8 8.8M1686 612l8.8 8.8m0-8.8l-8.8 8.8M1535 613l8.8 8.8m0-8.8l-8.8 8.8M1661 625l8.8 8.8m0-8.8l-8.8 8.8M1672 645l8.8 8.8m0-8.8l-8.8 8.8M1600 612l8.8 8.8m0-8.8l-8.8 8.8M1556 616l8.8 8.8m0-8.8l-8.8 8.8M1731 616l8.8 8.8m0-8.8l-8.8 8.8M1709 666l8.8 8.8m0-8.8l-8.8 8.8M1578 629l8.8 8.8m0-8.8l-8.8 8.8M1624 656l8.8 8.8m0-8.8l-8.8 8.8M1618 656l8.8 8.8m0-8.8l-8.8 8.8M1647 628l8.8 8.8m0-8.8l-8.8 8.8M1597 637l8.8 8.8m0-8.8l-8.8 8.8M1696 623l8.8 8.8m0-8.8l-8.8 8.8M1671 622l8.8 8.8m0-8.8l-8.8 8.8M1713 597l8.8 8.8m0-8.8l-8.8 8.8M1661 610l8.8 8.8m0-8.8l-8.8 8.8M1750 615l8.8 8.8m0-8.8l-8.8 8.8M1607 646l8.8 8.8m0-8.8l-8.8 8.8M1704 619l8.8 8.8m0-8.8l-8.8 8.8M1700 606l8.8 8.8m0-8.8l-8.8 8.8M1661 637l8.8 8.8m0-8.8l-8.8 8.8M1687 614l8.8 8.8m0-8.8l-8.8 8.8M1648 619l8.8 8.8m0-8.8l-8.8 8.8M1591 606l8.8 8.8m0-8.8l-8.8 8.8M1653 648l8.8 8.8m0-8.8l-8.8 8.8M1713 619l8.8 8.8m0-8.8l-8.8 8.8M1544 636l8.8 8.8m0-8.8l-8.8 8.8M1754 603l8.8 8.8m0-8.8l-8.8 8.8M1589 615l8.8 8.8m0-8.8l-8.8 8.8M1703 554l8.8 8.8m0-8.8l-8.8 8.8M1600 643l8.8 8.8m0-8.8l-8.8 8.8M1701 680l8.8 8.8m0-8.8l-8.8 8.8M1623 583l8.8 8.8m0-8.8l-8.8 8.8M1677 669l8.8 8.8m0-8.8l-8.8 8.8M1671 659l8.8 8.8m0-8.8l-8.8 8.8M1669 651l8.8 8.8m0-8.8l-8.8 8.8M1689 622l8.8 8.8m0-8.8l-8.8 8.8M1660 619l8.8 8.8m0-8.8l-8.8 8.8M1648 660l8.8 8.8m0-8.8l-8.8 8.8M1734 618l8.8 8.8m0-8.8l-8.8 8.8M1643 599l8.8 8.8m0-8.8l-8.8 8.8M1662 613l8.8 8.8m0-8.8l-8.8 8.8M1697 635l8.8 8.8m0-8.8l-8.8 8.8M1623 626l8.8 8.8m0-8.8l-8.8 8.8M1645 624l8.8 8.8m0-8.8l-8.8 8.8M1671 631l8.8 8.8m0-8.8l-8.8 8.8M1668 677l8.8 8.8m0-8.8l-8.8 8.8M1658 639l8.8 8.8m0-8.8l-8.8 8.8M1641 640l8.8 8.8m0-8.8l-8.8 8.8M1680 605l8.8 8.8m0-8.8l-8.8 8.8M1699 618l8.8 8.8m0-8.8l-8.8 8.8M1590 655l8.8 8.8m0-8.8l-8.8 8.8M1622 641l8.8 8.8m0-8.8l-8.8 8.8M1661 643l8.8 8.8m0-8.8l-8.8 8.8M1676 624l8.8 8.8m0-8.8l-8.8 8.8M1708 595l8.8 8.8m0-8.8l-8.8 8.8M1690 623l8.8 8.8m0-8.8l-8.8 8.8M1657 695l8.8 8.8m0-8.8l-8.8 8.8M1589 600l8.8 8.8m0-8.8l-8.8 8.8M1881 615l8.8 8.8m0-8.8l-8.8 8.8M1640 660l8.8 8.8m0-8.8l-8.8 8.8M1629 623l8.8 8.8m0-8.8l-8.8 8.8M1664 650l8.8 8.8m0-8.8l-8.8 8.8M1663 635l8.8 8.8m0-8.8l-8.8 8.8M1586 607l8.8 8.8m0-8.8l-8.8 8.8M1700 597l8.8 8.8m0-8.8l-8.8 8.8M1754 622l8.8 8.8m0-8.8l-8.8 8.8M1480 696l8.8 8.8m0-8.8l-8.8 8.8M1653 659l8.8 8.8m0-8.8l-8.8 8.8M1755 628l8.8 8.8m0-8.8l-8.8 8.8M1741 644l8.8 8.8m0-8.8l-8.8 8.8M1607 658l8.8 8.8m0-8.8l-8.8 8.8M1590 672l8.8 8.8m0-8.8l-8.8 8.8M1631 640l8.8 8.8m0-8.8l-8.8 8.8M1680 651l8.8 8.8m0-8.8l-8.8 8.8M1660 610l8.8 8.8m0-8.8l-8.8 8.8M1665 636l8.8 8.8m0-8.8l-8.8 8.8M1815 583l8.8 8.8m0-8.8l-8.8 8.8M1644 634l8.8 8.8m0-8.8l-8.8 8.8M1698 606l8.8 8.8m0-8.8l-8.8 8.8M1670 619l8.8 8.8m0-8.8l-8.8 8.8M1606 581l8.8 8.8m0-8.8l-8.8 8.8M1586 566l8.8 8.8m0-8.8l-8.8 8.8M1679 660l8.8 8.8m0-8.8l-8.8 8.8M1815 599l8.8 8.8m0-8.8l-8.8 8.8M1731 583l8.8 8.8m0-8.8l-8.8 8.8M1685 612l8.8 8.8m0-8.8l-8.8 8.8M1858 605l8.8 8.8m0-8.8l-8.8 8.8M1630 584l8.8 8.8m0-8.8l-8.8 8.8M1584 655l8.8 8.8m0-8.8l-8.8 8.8M1837 596l8.8 8.8m0-8.8l-8.8 8.8M1566 595l8.8 8.8m0-8.8l-8.8 8.8M1540 614l8.8 8.8m0-8.8l-8.8 8.8M1832 584l8.8 8.8m0-8.8l-8.8 8.8M1685 637l8.8 8.8m0-8.8l-8.8 8.8M1541 614l8.8 8.8m0-8.8l-8.8 8.8M1556 641l8.8 8.8m0-8.8l-8.8 8.8M1706 617l8.8 8.8m0-8.8l-8.8 8.8M1700 596l8.8 8.8m0-8.8l-8.8 8.8M1749 634l8.8 8.8m0-8.8l-8.8 8.8M1739 624l8.8 8.8m0-8.8l-8.8 8.8M1759 603l8.8 8.8m0-8.8l-8.8 8.8M1648 649l8.8 8.8m0-8.8l-8.8 8.8M1574 556l8.8 8.8m0-8.8l-8.8 8.8M1751 663l8.8 8.8m0-8.8l-8.8 8.8M1750 710l8.8 8.8m0-8.8l-8.8 8.8M1699 553l8.8 8.8m0-8.8l-8.8 8.8M1637 539l8.8 8.8m0-8.8l-8.8 8.8M1663 630l8.8 8.8m0-8.8l-8.8 8.8M1840 695l8.8 8.8m0-8.8l-8.8 8.8M1708 679l8.8 8.8m0-8.8l-8.8 8.8M1769 602l8.8 8.8m0-8.8l-8.8 8.8M1630 557l8.8 8.8m0-8.8l-8.8 8.8M1661 612l8.8 8.8m0-8.8l-8.8 8.8M1606 621l8.8 8.8m0-8.8l-8.8 8.8M1627 699l8.8 8.8m0-8.8l-8.8 8.8M1542 664l8.8 8.8m0-8.8l-8.8 8.8M1627 609l8.8 8.8m0-8.8l-8.8 8.8M1725 540l8.8 8.8m0-8.8l-8.8 8.8M1633 648l8.8 8.8m0-8.8l-8.8 8.8M1543 564l8.8 8.8m0-8.8l-8.8 8.8M1531 606l8.8 8.8m0-8.8l-8.8 8.8M1619 635l8.8 8.8m0-8.8l-8.8 8.8M1816 556l8.8 8.8m0-8.8l-8.8 8.8M1609 589l8.8 8.8m0-8.8l-8.8 8.8M1844 606l8.8 8.8m0-8.8l-8.8 8.8M1588 553l8.8 8.8m0-8.8l-8.8 8.8M1716 569l8.8 8.8m0-8.8l-8.8 8.8M1601 649l8.8 8.8m0-8.8l-8.8 8.8M1695 628l8.8 8.8m0-8.8l-8.8 8.8M1729 589l8.8 8.8m0-8.8l-8.8 8.8M1567 602l8.8 8.8m0-8.8l-8.8 8.8M1587 657l8.8 8.8m0-8.8l-8.8 8.8M1737 621l8.8 8.8m0-8.8l-8.8 8.8M1715 606l8.8 8.8m0-8.8l-8.8 8.8M1662 658l8.8 8.8m0-8.8l-8.8 8.8M1532 632l8.8 8.8m0-8.8l-8.8 8.8M1801 587l8.8 8.8m0-8.8l-8.8 8.8M1677 623l8.8 8.8m0-8.8l-8.8 8.8M1662 654l8.8 8.8m0-8.8l-8.8 8.8M1720 625l8.8 8.8m0-8.8l-8.8 8.8M1657 578l8.8 8.8m0-8.8l-8.8 8.8M1751 614l8.8 8.8m0-8.8l-8.8 8.8M1621 611l8.8 8.8m0-8.8l-8.8 8.8M1868 594l8.8 8.8m0-8.8l-8.8 8.8M1780 580l8.8 8.8m0-8.8l-8.8 8.8M1586 686l8.8 8.8m0-8.8l-8.8 8.8M1577 626l8.8 8.8m0-8.8l-8.8 8.8M1845 550l8.8 8.8m0-8.8l-8.8 8.8M1668 630l8.8 8.8m0-8.8l-8.8 8.8M1627 649l8.8 8.8m0-8.8l-8.8 8.8M1717 614l8.8 8.8m0-8.8l-8.8 8.8M1734 612l8.8 8.8m0-8.8l-8.8 8.8M1860 655l8.8 8.8m0-8.8l-8.8 8.8M1713 567l8.8 8.8m0-8.8l-8.8 8.8M1617 651l8.8 8.8m0-8.8l-8.8 8.8M1712 671l8.8 8.8m0-8.8l-8.8 8.8M1652 555l8.8 8.8m0-8.8l-8.8 8.8M1540 636l8.8 8.8m0-8.8l-8.8 8.8M1760 617l8.8 8.8m0-8.8l-8.8 8.8M1725 632l8.8 8.8m0-8.8l-8.8 8.8M1768 589l8.8 8.8m0-8.8l-8.8 8.8M1597 590l8.8 8.8m0-8.8l-8.8 8.8M1695 628l8.8 8.8m0-8.8l-8.8 8.8M1546 628l8.8 8.8m0-8.8l-8.8 8.8M1742 593l8.8 8.8m0-8.8l-8.8 8.8M1717 581l8.8 8.8m0-8.8l-8.8 8.8M1709 577l8.8 8.8m0-8.8l-8.8 8.8M1702 564l8.8 8.8m0-8.8l-8.8 8.8M1527 656l8.8 8.8m0-8.8l-8.8 8.8M1689 593l8.8 8.8m0-8.8l-8.8 8.8M1786 538l8.8 8.8m0-8.8l-8.8 8.8M1764 637l8.8 8.8m0-8.8l-8.8 8.8M1642 629l8.8 8.8m0-8.8l-8.8 8.8M1804 647l8.8 8.8m0-8.8l-8.8 8.8M1695 637l8.8 8.8m0-8.8l-8.8 8.8M1814 592l8.8 8.8m0-8.8l-8.8 8.8M1757 569l8.8 8.8m0-8.8l-8.8 8.8M1841 647l8.8 8.8m0-8.8l-8.8 8.8M1630 645l8.8 8.8m0-8.8l-8.8 8.8M1647 635l8.8 8.8m0-8.8l-8.8 8.8M1585 651l8.8 8.8m0-8.8l-8.8 8.8M1721 629l8.8 8.8m0-8.8l-8.8 8.8M1734 607l8.8 8.8m0-8.8l-8.8 8.8M1714 644l8.8 8.8m0-8.8l-8.8 8.8M1619 601l8.8 8.8m0-8.8l-8.8 8.8M1868 601l8.8 8.8m0-8.8l-8.8 8.8M1704 585l8.8 8.8m0-8.8l-8.8 8.8M1555 671l8.8 8.8m0-8.8l-8.8 8.8M1798 579l8.8 8.8m0-8.8l-8.8 8.8M1915 645l8.8 8.8m0-8.8l-8.8 8.8M1698 613l8.8 8.8m0-8.8l-8.8 8.8M1696 619l8.8 8.8m0-8.8l-8.8 8.8M1795 636l8.8 8.8m0-8.8l-8.8 8.8M1810 611l8.8 8.8m0-8.8l-8.8 8.8M1850 633l8.8 8.8m0-8.8l-8.8 8.8M1651 584l8.8 8.8m0-8.8l-8.8 8.8M1621 642l8.8 8.8m0-8.8l-8.8 8.8M1779 599l8.8 8.8m0-8.8l-8.8 8.8M1629 700l8.8 8.8m0-8.8l-8.8 8.8M1703 656l8.8 8.8m0-8.8l-8.8 8.8M1687 582l8.8 8.8m0-8.8l-8.8 8.8M1647 561l8.8 8.8m0-8.8l-8.8 8.8M1631 591l8.8 8.8m0-8.8l-8.8 8.8M1628 586l8.8 8.8m0-8.8l-8.8 8.8M1533 626l8.8 8.8m0-8.8l-8.8 8.8M1728 629l8.8 8.8m0-8.8l-8.8 8.8M1823 669l8.8 8.8m0-8.8l-8.8 8.8M1674 639l8.8 8.8m0-8.8l-8.8 8.8M1731 662l8.8 8.8m0-8.8l-8.8 8.8M1644 698l8.8 8.8m0-8.8l-8.8 8.8M1702 676l8.8 8.8m0-8.8l-8.8 8.8M1612 613l8.8 8.8m0-8.8l-8.8 8.8M1577 624l8.8 8.8m0-8.8l-8.8 8.8M1649 601l8.8 8.8m0-8.8l-8.8 8.8M1773 607l8.8 8.8m0-8.8l-8.8 8.8M1722 582l8.8 8.8m0-8.8l-8.8 8.8M1547 707l8.8 8.8m0-8.8l-8.8 8.8M1757 643l8.8 8.8m0-8.8l-8.8 8.8M1601 643l8.8 8.8m0-8.8l-8.8 8.8M1700 626l8.8 8.8m0-8.8l-8.8 8.8M1809 687l8.8 8.8m0-8.8l-8.8 8.8M1766 593l8.8 8.8m0-8.8l-8.8 8.8M1622 631l8.8 8.8m0-8.8l-8.8 8.8M1574 602l8.8 8.8m0-8.8l-8.8 8.8M1603 646l8.8 8.8m0-8.8l-8.8 8.8M1804 633l8.8 8.8m0-8.8l-8.8 8.8M1792 617l8.8 8.8m0-8.8l-8.8 8.8M1707 641l8.8 8.8m0-8.8l-8.8 8.8M1648 649l8.8 8.8m0-8.8l-8.8 8.8M1636 580l8.8 8.8m0-8.8l-8.8 8.8M1731 659l8.8 8.8m0-8.8l-8.8 8.8M1846 557l8.8 8.8m0-8.8l-8.8 8.8M1751 686l8.8 8.8m0-8.8l-8.8 8.8M1764 612l8.8 8.8m0-8.8l-8.8 8.8M1506 653l8.8 8.8m0-8.8l-8.8 8.8M1526 663l8.8 8.8m0-8.8l-8.8 8.8M1578 620l8.8 8.8m0-8.8l-8.8 8.8M1531 626l8.8 8.8m0-8.8l-8.8 8.8M1836 634l8.8 8.8m0-8.8l-8.8 8.8M1691 618l8.8 8.8m0-8.8l-8.8 8.8M1619 661l8.8 8.8m0-8.8l-8.8 8.8M1534 587l8.8 8.8m0-8.8l-8.8 8.8M1678 566l8.8 8.8m0-8.8l-8.8 8.8M1521 689l8.8 8.8m0-8.8l-8.8 8.8M1779 683l8.8 8.8m0-8.8l-8.8 8.8M1835 664l8.8 8.8m0-8.8l-8.8 8.8M1607 653l8.8 8.8m0-8.8l-8.8 8.8M1760 636l8.8 8.8m0-8.8l-8.8 8.8M1629 524l8.8 8.8m0-8.8l-8.8 8.8M1752 619l8.8 8.8m0-8.8l-8.8 8.8M1776 566l8.8 8.8m0-8.8l-8.8 8.8M1592 570l8.8 8.8m0-8.8l-8.8 8.8M1686 648l8.8 8.8m0-8.8l-8.8 8.8M1685 687l8.8 8.8m0-8.8l-8.8 8.8M1810 651l8.8 8.8m0-8.8l-8.8 8.8M1808 601l8.8 8.8m0-8.8l-8.8 8.8M1720 682l8.8 8.8m0-8.8l-8.8 8.8M1627 663l8.8 8.8m0-8.8l-8.8 8.8M1868 663l8.8 8.8m0-8.8l-8.8 8.8M1943 610l8.8 8.8m0-8.8l-8.8 8.8M1698 593l8.8 8.8m0-8.8l-8.8 8.8M1821 637l8.8 8.8m0-8.8l-8.8 8.8M1705 684l8.8 8.8m0-8.8l-8.8 8.8M1627 642l8.8 8.8m0-8.8l-8.8 8.8M1810 555l8.8 8.8m0-8.8l-8.8 8.8M1751 659l8.8 8.8m0-8.8l-8.8 8.8M1556 688l8.8 8.8m0-8.8l-8.8 8.8M1740 608l8.8 8.8m0-8.8l-8.8 8.8M1704 611l8.8 8.8m0-8.8l-8.8 8.8M1779 679l8.8 8.8m0-8.8l-8.8 8.8M1725 605l8.8 8.8m0-8.8l-8.8 8.8M1653 628l8.8 8.8m0-8.8l-8.8 8.8M1706 603l8.8 8.8m0-8.8l-8.8 8.8M1846 544l8.8 8.8m0-8.8l-8.8 8.8M1748 691l8.8 8.8m0-8.8l-8.8 8.8M1636 703l8.8 8.8m0-8.8l-8.8 8.8M1661 657l8.8 8.8m0-8.8l-8.8 8.8M1742 588l8.8 8.8m0-8.8l-8.8 8.8M1736 634l8.8 8.8m0-8.8l-8.8 8.8M1810 647l8.8 8.8m0-8.8l-8.8 8.8M1675 660l8.8 8.8m0-8.8l-8.8 8.8M1921 657l8.8 8.8m0-8.8l-8.8 8.8M1690 636l8.8 8.8m0-8.8l-8.8 8.8M1714 609l8.8 8.8m0-8.8l-8.8 8.8M1547 599l8.8 8.8m0-8.8l-8.8 8.8M1866 678l8.8 8.8m0-8.8l-8.8 8.8M1753 647l8.8 8.8m0-8.8l-8.8 8.8M1880 684l8.8 8.8m0-8.8l-8.8 8.8M1686 632l8.8 8.8m0-8.8l-8.8 8.8M1774 605l8.8 8.8m0-8.8l-8.8 8.8M1747 646l8.8 8.8m0-8.8l-8.8 8.8M1734 642l8.8 8.8m0-8.8l-8.8 8.8M1744 638l8.8 8.8m0-8.8l-8.8 8.8M1719 634l8.8 8.8m0-8.8l-8.8 8.8M1684 641l8.8 8.8m0-8.8l-8.8 8.8M1662 628l8.8 8.8m0-8.8l-8.8 8.8M1686 640l8.8 8.8m0-8.8l-8.8 8.8M1715 596l8.8 8.8m0-8.8l-8.8 8.8M1827 573l8.8 8.8m0-8.8l-8.8 8.8M1681 636l8.8 8.8m0-8.8l-8.8 8.8M1691 661l8.8 8.8m0-8.8l-8.8 8.8M1741 685l8.8 8.8m0-8.8l-8.8 8.8M1538 642l8.8 8.8m0-8.8l-8.8 8.8M1777 637l8.8 8.8m0-8.8l-8.8 8.8M1531 665l8.8 8.8m0-8.8l-8.8 8.8M1772 578l8.8 8.8m0-8.8l-8.8 8.8M1760 559l8.8 8.8m0-8.8l-8.8 8.8M1763 630l8.8 8.8m0-8.8l-8.8 8.8M1690 625l8.8 8.8m0-8.8l-8.8 8.8M1637 604l8.8 8.8m0-8.8l-8.8 8.8M1762 555l8.8 8.8m0-8.8l-8.8 8.8M1759 633l8.8 8.8m0-8.8l-8.8 8.8M1832 649l8.8 8.8m0-8.8l-8.8 8.8M1912 701l8.8 8.8m0-8.8l-8.8 8.8M1675 657l8.8 8.8m0-8.8l-8.8 8.8M1630 649l8.8 8.8m0-8.8l-8.8 8.8M1288 503l8.8 8.8m0-8.8l-8.8 8.8M1342 507l8.8 8.8m0-8.8l-8.8 8.8M1365 518l8.8 8.8m0-8.8l-8.8 8.8M1391 520l8.8 8.8m0-8.8l-8.8 8.8M1403 516l8.8 8.8m0-8.8l-8.8 8.8M1445 512l8.8 8.8m0-8.8l-8.8 8.8M1454 499l8.8 8.8m0-8.8l-8.8 8.8M1457 520l8.8 8.8m0-8.8l-8.8 8.8M1459 524l8.8 8.8m0-8.8l-8.8 8.8M1476 515l8.8 8.8m0-8.8l-8.8 8.8M1518 506l8.8 8.8m0-8.8l-8.8 8.8M1511 520l8.8 8.8m0-8.8l-8.8 8.8M1523 517l8.8 8.8m0-8.8l-8.8 8.8M1515 526l8.8 8.8m0-8.8l-8.8 8.8M1211 550l8.8 8.8m0-8.8l-8.8 8.8M1187 566l8.8 8.8m0-8.8l-8.8 8.8M1289 686l8.8 8.8m0-8.8l-8.8 8.8M1289 702l8.8 8.8m0-8.8l-8.8 8.8M1276 715l8.8 8.8m0-8.8l-8.8 8.8M1358 690l8.8 8.8m0-8.8l-8.8 8.8M1356 695l8.8 8.8m0-8.8l-8.8 8.8M1365 684l8.8 8.8m0-8.8l-8.8 8.8M1394 683l8.8 8.8m0-8.8l-8.8 8.8M1400 687l8.8 8.8m0-8.8l-8.8 8.8M1397 699l8.8 8.8m0-8.8l-8.8 8.8M1416 677l8.8 8.8m0-8.8l-8.8 8.8M1422 672l8.8 8.8m0-8.8l-8.8 8.8M1423 687l8.8 8.8m0-8.8l-8.8 8.8M1442 674l8.8 8.8m0-8.8l-8.8 8.8M1475 712l8.8 8.8m0-8.8l-8.8 8.8M1208 741l8.8 8.8m0-8.8l-8.8 8.8M1536 561l8.8 8.8m0-8.8l-8.8 8.8M1538 584l8.8 8.8m0-8.8l-8.8 8.8M1544 587l8.8 8.8m0-8.8l-8.8 8.8M1528 619l8.8 8.8m0-8.8l-8.8 8.8M1523 634l8.8 8.8m0-8.8l-8.8 8.8M1530 639l8.8 8.8m0-8.8l-8.8 8.8M1517 649l8.8 8.8m0-8.8l-8.8 8.8M1523 644l8.8 8.8m0-8.8l-8.8 8.8M1524 657l8.8 8.8m0-8.8l-8.8 8.8M1532 658l8.8 8.8m0-8.8l-8.8 8.8M1541 690l8.8 8.8m0-8.8l-8.8 8.8M1120 660l8.8 8.8m0-8.8l-8.8 8.8M1123 675l8.8 8.8m0-8.8l-8.8 8.8M1144 685l8.8 8.8m0-8.8l-8.8 8.8M1436 490l8.8 8.8m0-8.8l-8.8 8.8M1446 512l8.8 8.8m0-8.8l-8.8 8.8M1474 711l8.8 8.8m0-8.8l-8.8 8.8M1420 686l8.8 8.8m0-8.8l-8.8 8.8" stroke="#9C9C9C" stroke-width="1.3" fill="none"/><path d="M1375 623h0M1441 634h0M1350 665h0M1291 663h0M1244 611h0M1375 588h0M1406 621h0M1443 615h0M1182 656h0M1304 601h0M1368 587h0M1352 622h0M1216 685h0M1363 592h0M1338 634h0M1435 621h0M1286 622h0M1482 525h0M1289 646h0M1491 543h0M1365 615h0M1435 566h0M1348 599h0M1282 658h0M1461 546h0M1340 585h0M1445 586h0M1303 602h0M1302 629h0M1359 614h0M1464 608h0M1332 624h0M1535 594h0M1373 664h0M1484 572h0M1265 640h0M1347 618h0M1438 628h0M1462 523h0M1345 598h0M1536 604h0M1300 626h0M1393 649h0M1481 555h0M1443 672h0M1398 626h0M1455 595h0M1325 602h0M1439 579h0M1272 614h0M1303 629h0M1449 581h0M1439 618h0M1358 606h0M1296 646h0M1358 595h0M1326 628h0M1485 577h0M1546 623h0M1310 625h0M1401 621h0M1404 661h0M1415 617h0M1400 593h0M1437 603h0M1213 628h0M1336 642h0M1326 677h0M1344 672h0M1279 629h0M1332 625h0M1340 654h0M1407 633h0M1395 549h0M1292 606h0M1283 619h0M1253 617h0M1328 627h0M1326 639h0M1329 591h0M1423 634h0M1382 617h0M1432 629h0M1391 667h0M1401 600h0M1441 554h0M1444 594h0M1554 589h0M1369 606h0M1334 618h0M1243 609h0M1445 622h0M1496 640h0M1375 639h0M1347 595h0M1304 630h0M1371 631h0M1190 618h0M1426 608h0M1312 604h0M1407 659h0M1498 624h0M1245 643h0M1343 566h0M1300 648h0M1297 597h0M1437 635h0M1436 643h0M1412 647h0M1406 615h0M1342 597h0M1386 625h0M1430 620h0M1432 521h0M1344 602h0M1404 633h0M1324 615h0M1265 671h0M1509 601h0M1374 633h0M1370 633h0M1318 641h0M1379 655h0M1334 616h0M1423 583h0M1477 563h0M1333 628h0M1311 593h0M1366 589h0M1381 624h0M1341 613h0M1268 629h0M1394 664h0M1378 628h0M1366 604h0M1326 625h0M1372 588h0M1355 625h0M1308 643h0M1377 658h0M1355 633h0M1396 619h0M1354 631h0M1403 621h0M1258 625h0M1368 565h0M1254 622h0M1485 614h0M1365 637h0M1405 618h0M1349 617h0M1388 601h0M1386 607h0M1347 586h0M1258 692h0M1308 619h0M1389 620h0M1415 624h0M1340 597h0M1316 597h0M1362 601h0M1324 625h0M1402 634h0M1222 622h0M1280 616h0M1433 585h0M1380 623h0M1536 598h0M1294 652h0M1460 639h0M1387 630h0M1492 593h0M1480 587h0M1300 636h0M1318 621h0M1334 635h0M1547 616h0M1416 594h0M1286 648h0M1245 640h0M1404 572h0M1391 640h0M1338 621h0M1390 597h0M1248 654h0M1381 644h0M1398 586h0M1399 609h0M1323 588h0M1385 608h0M1340 629h0M1203 648h0M1198 643h0M1430 651h0M1293 653h0M1420 620h0M1307 636h0M1406 613h0M1470 587h0M1537 570h0M1353 617h0M1493 617h0M1402 597h0M1139 598h0M1191 663h0M1412 605h0M1461 625h0M1352 628h0M1365 589h0M1318 597h0M1314 613h0M1454 544h0M1355 677h0M1325 611h0M1411 601h0M1323 588h0M1392 618h0M1338 645h0M1396 659h0M1353 608h0M1244 680h0M1442 618h0M1428 571h0M1374 652h0M1333 609h0M1460 622h0M1303 642h0M1396 608h0M1408 603h0M1415 633h0M1355 603h0M1341 597h0M1507 633h0M1309 624h0M1239 684h0M1259 596h0M1370 617h0M1309 630h0M1424 586h0M1448 646h0M1235 638h0M1238 589h0M1346 639h0M1380 577h0M1274 637h0M1329 638h0M1231 706h0M1413 599h0M1465 607h0M1382 602h0M1396 598h0M1411 632h0M1458 638h0M1446 630h0M1420 540h0M1435 632h0M1275 629h0M1409 580h0M1320 603h0M1407 553h0M1377 632h0M1379 613h0M1416 616h0M1390 594h0M1352 596h0M1511 614h0M1383 639h0M1410 611h0M1356 617h0M1333 643h0M1319 678h0M1380 626h0M1375 617h0M1420 604h0M1343 638h0M1463 599h0M1442 615h0M1202 661h0M1266 617h0M1338 658h0M1379 677h0M1407 595h0M1398 640h0M1349 576h0M1489 624h0M1277 583h0M1337 663h0M1320 654h0M1379 570h0M1394 600h0M1370 565h0M1402 669h0M1368 664h0M1459 613h0M1329 595h0M1332 631h0M1407 620h0M1394 648h0M1399 675h0M1369 650h0M1273 665h0M1390 618h0M1316 623h0M1420 639h0M1394 617h0M1374 608h0M1337 594h0M1437 577h0M1365 602h0M1266 604h0M1439 574h0M1504 594h0M1437 578h0M1394 619h0M1313 631h0M1347 629h0M1423 574h0M1431 629h0M1378 585h0M1443 593h0M1503 608h0M1376 594h0M1419 676h0M1410 623h0M1418 617h0M1464 640h0M1329 569h0M1296 663h0M1339 597h0M1330 602h0M1323 568h0M1423 639h0M1434 608h0M1307 584h0M1211 639h0M1230 673h0M1362 596h0M1360 627h0M1287 603h0M1372 613h0M1434 664h0M1369 620h0M1408 595h0M1225 675h0M1404 564h0M1326 627h0M1375 641h0M1257 591h0M1313 645h0M1305 692h0M1294 675h0M1376 591h0M1350 639h0M1359 606h0M1449 595h0M1402 661h0M1394 621h0M1414 613h0M1381 618h0M1446 577h0M1405 577h0M1342 615h0M1350 629h0M1415 611h0M1315 672h0M1369 639h0M1367 607h0M1352 617h0M1360 676h0M1400 662h0M1443 629h0M1497 569h0M1401 593h0M1419 602h0M1436 621h0M1258 645h0M1280 650h0M1423 556h0M1398 619h0M1334 654h0M1421 626h0M1321 627h0M1287 621h0M1394 606h0M1396 586h0M1418 610h0M1565 624h0M1337 624h0M1429 652h0M1329 616h0M1361 606h0M1368 652h0M1480 571h0M1353 610h0M1250 598h0M1168 649h0M1460 579h0M1377 596h0M1449 586h0M1347 606h0M1286 651h0M1311 663h0M1449 705h0M1309 637h0M1407 646h0M1448 582h0M1246 645h0M1469 598h0M1390 621h0M1388 626h0M1373 610h0M1438 596h0M1340 604h0M1434 596h0M1384 629h0M1406 570h0M1335 671h0M1460 634h0M1419 588h0M1325 656h0M1375 633h0M1351 594h0M1400 592h0M1428 621h0M1244 617h0M1404 619h0M1445 596h0M1403 655h0M1364 584h0M1425 651h0M1305 610h0M1331 631h0M1323 683h0M1292 601h0M1392 581h0M1389 585h0M1398 553h0M1431 592h0M1341 692h0M1372 600h0M1285 623h0M1299 653h0M1269 651h0M1436 550h0M1392 629h0M1296 678h0M1338 668h0M1290 584h0M1227 648h0M1437 644h0M1393 640h0M1478 585h0M1362 630h0M1361 632h0M1326 613h0M1317 632h0M1333 629h0M1311 609h0M1343 614h0M1386 599h0M1329 669h0M1494 609h0M1345 651h0M1449 618h0M1492 630h0M1337 611h0M1459 613h0M1408 580h0M1297 639h0M1343 631h0M1165 602h0M1318 576h0M1392 586h0M1321 641h0M1364 598h0M1346 610h0M1339 565h0M1358 711h0M1339 614h0M1344 586h0M1413 568h0M1521 628h0M1324 621h0M1369 626h0M1344 631h0M1329 620h0M1395 632h0M1378 681h0M1466 590h0M1448 608h0M1330 644h0M1264 646h0M1390 654h0M1430 619h0M1414 601h0M1377 640h0M1365 577h0M1365 622h0M1352 631h0M1381 671h0M1404 596h0M1345 618h0M1278 632h0M1394 579h0M1321 622h0M1384 607h0M1339 611h0M1248 644h0M1352 672h0M1365 607h0M1422 631h0M1408 619h0M1391 606h0M1390 635h0M1453 644h0M1301 651h0M1486 610h0M1482 617h0M1386 604h0M1318 654h0M1471 613h0M1350 617h0M1386 602h0M1371 628h0M1390 581h0M1344 610h0M1407 574h0M1387 658h0M1350 666h0M1423 623h0M1406 586h0M1342 620h0M1350 671h0M1417 633h0M1271 667h0M1390 683h0M1383 672h0M1279 664h0M1340 635h0M1474 595h0M1421 614h0M1307 652h0M1355 654h0M1346 634h0M1326 629h0M1321 646h0M1364 676h0M1344 642h0M1482 563h0M1500 603h0M1387 626h0M1359 654h0M1273 608h0M1326 611h0M1326 598h0M1386 661h0M1496 608h0M1343 647h0M1476 630h0M1387 614h0M1396 565h0M1370 670h0M1196 597h0M1317 635h0M1354 637h0M1408 609h0M1308 639h0M1345 629h0M1292 640h0M1352 636h0M1318 579h0M1425 566h0M1311 660h0M1302 596h0M1363 628h0M1450 651h0M1371 629h0M1365 588h0M1415 616h0M1373 618h0M1424 608h0M1425 626h0M1373 602h0M1254 647h0M1392 653h0M1416 603h0M1450 623h0M1320 668h0M1310 644h0M1388 605h0M1369 559h0M1379 581h0M1332 638h0M1366 616h0M1366 622h0M1205 741h0M1444 627h0M1336 612h0M1245 682h0M1253 680h0M1363 624h0M1252 653h0M1339 635h0M1289 629h0M1338 599h0M1331 661h0M1492 630h0M1392 595h0M1460 618h0M1274 617h0M1348 594h0M1291 648h0M1405 614h0M1473 604h0M1373 627h0M1247 655h0M1354 641h0M1439 589h0M1472 608h0M1339 645h0M1362 586h0M1290 639h0M1246 605h0M1335 625h0M1455 629h0M1312 637h0M1400 616h0M1383 620h0M1333 599h0M1315 661h0M1249 608h0M1343 572h0M1400 604h0M1416 589h0M1376 632h0M1372 610h0M1255 607h0M1275 603h0M1318 594h0M1334 580h0M1264 633h0M1318 672h0M1344 597h0M1373 593h0M1365 611h0M1271 627h0M1301 627h0M1431 646h0M1296 626h0M1382 616h0M1467 604h0M1472 572h0M1266 605h0M1360 557h0M1332 605h0M1309 606h0M1425 607h0M1375 646h0M1455 546h0M1275 653h0M1196 692h0M1350 620h0M1362 622h0M1455 652h0M1338 644h0M1399 626h0M1451 583h0M1182 631h0M1353 643h0M1325 653h0M1285 635h0M1323 664h0M1348 667h0M1512 547h0M1294 623h0M1334 611h0M1437 620h0M1541 665h0M1269 611h0M1406 593h0M1314 649h0M1475 578h0M1417 602h0M1390 648h0M1445 649h0M1379 665h0M1361 653h0M1397 609h0M1253 636h0M1363 657h0M1441 597h0M1173 670h0M1239 624h0M1410 642h0M1408 635h0M1368 584h0M1409 602h0M1351 609h0M1460 630h0M1287 624h0M1477 543h0M1357 620h0M1310 635h0M1416 578h0M1336 661h0M1493 634h0M1335 586h0M1277 636h0M1220 573h0M1380 593h0M1525 560h0M1421 606h0M1364 625h0M1196 651h0M1267 619h0M1397 600h0M1327 639h0M1364 605h0M1364 662h0M1408 610h0M1321 622h0M1411 631h0M1446 598h0M1356 650h0M1407 638h0M1353 630h0M1326 593h0M1381 615h0M1344 616h0M1310 636h0M1352 628h0M1346 617h0M1431 608h0M1455 603h0M1244 615h0M1231 634h0M1310 610h0M1444 608h0M1276 597h0M1281 684h0M1224 672h0M1304 638h0M1343 609h0M1435 624h0M1498 590h0M1368 649h0M1396 618h0M1406 613h0M1376 562h0M1398 592h0M1245 645h0M1408 580h0M1423 605h0M1252 661h0M1295 671h0M1383 602h0M1395 529h0M1408 614h0M1476 620h0M1418 567h0M1534 629h0M1340 620h0M1299 674h0M1266 633h0M1422 616h0M1463 575h0M1311 648h0M1366 627h0M1271 614h0M1481 619h0M1382 604h0M1436 654h0M1302 645h0M1385 617h0M1455 601h0M1387 668h0M1254 639h0M1308 642h0M1343 594h0M1407 635h0M1392 619h0M1437 588h0M1360 593h0M1276 663h0M1443 608h0M1397 633h0M1253 657h0M1359 664h0M1280 671h0M1540 581h0M1352 615h0M1370 562h0M1439 609h0M1275 641h0M1418 567h0M1359 620h0M1399 615h0M1264 632h0M1404 617h0M1260 602h0M1374 618h0M1397 673h0M1409 610h0M1434 594h0M1249 629h0M1495 641h0M1356 582h0M1376 670h0M1442 592h0M1499 614h0M1311 648h0M1371 594h0M1383 607h0M1468 626h0M1397 611h0M1530 550h0M1425 623h0M1328 592h0M1325 639h0M1359 619h0M1369 576h0M1322 650h0M1388 620h0M1438 640h0M1347 625h0M1445 588h0M1421 556h0M1399 612h0M1477 570h0M1475 588h0M1287 567h0M1390 561h0M1411 612h0M1291 637h0M1260 691h0M1361 655h0M1301 598h0M1355 645h0M1280 624h0M1419 559h0M1287 645h0M1268 610h0M1347 590h0M1374 588h0M1292 627h0M1395 603h0M1284 619h0M1495 598h0M1399 631h0M1404 594h0M1377 601h0M1376 620h0M1256 644h0M1392 632h0M1418 651h0M1306 556h0M1383 647h0M1288 640h0M1434 639h0M1374 591h0M1483 606h0M1432 649h0M1332 667h0M1386 650h0M1506 606h0M1467 578h0M1335 620h0M1298 572h0M1326 614h0M1307 591h0M1333 614h0M1582 577h0M1403 627h0M1478 620h0M1297 640h0M1403 625h0M1435 616h0M1244 682h0M1318 620h0M1253 622h0M1267 606h0M1307 630h0M1423 633h0M1439 658h0M1332 617h0M1295 653h0M1479 596h0M1368 642h0M1351 587h0M1499 612h0M1352 639h0M1276 581h0M1444 601h0M1331 596h0M1259 638h0M1440 619h0M1303 631h0M1326 643h0M1414 620h0M1454 623h0M1221 634h0M1395 634h0M1438 574h0M1466 624h0M1364 601h0M1310 620h0M1402 620h0M1260 643h0M1470 633h0M1335 611h0M1265 643h0M1391 584h0M1451 567h0M1412 658h0M1281 627h0M1478 623h0M1401 616h0M1369 581h0M1359 645h0M1447 630h0M1403 638h0M1372 663h0M1384 611h0M1384 620h0M1375 599h0M1366 608h0M1382 596h0M1472 580h0M1293 615h0M1241 641h0M1311 605h0M1397 597h0M1338 601h0M1369 578h0M1418 589h0M1394 609h0M1402 624h0M1426 639h0M1405 636h0M1335 619h0M1337 611h0M1359 612h0M1291 628h0M1338 590h0M1291 645h0M1318 626h0M1241 631h0M1266 608h0M1458 641h0M1259 680h0M1393 584h0M1405 662h0M1437 600h0M1337 644h0M1384 568h0M1354 623h0M1383 645h0M1390 614h0M1429 639h0M1363 626h0M1327 655h0M1313 684h0M1288 606h0M1366 623h0M1410 586h0M1339 568h0M1402 585h0M1453 618h0M1315 651h0M1446 625h0M1383 623h0M1300 624h0M1306 606h0M1385 616h0M1359 611h0M1413 550h0M1230 668h0M1448 592h0M1448 566h0M1285 646h0M1317 636h0M1506 649h0M1424 594h0M1354 595h0M1343 652h0M1368 607h0M1422 642h0M1346 636h0M1400 568h0M1325 592h0M1222 604h0M1375 653h0M1327 645h0M1453 621h0M1388 578h0M1415 619h0M1274 530h0M1423 611h0M1242 635h0M1435 639h0" stroke="#0072BD" stroke-width="3.9" stroke-linecap="round" fill="none"/></g>
<path d="M136.5 119.2V401.1H956.9" stroke="#000" stroke-width="4.8" fill="none" stroke-linecap="square"/>
<path d="M136.5 492.6V769.8H958.3" stroke="#000" stroke-width="4.8" fill="none" stroke-linecap="square"/>
<path d="M1096.4 117.0V400.6H1917.6" stroke="#000" stroke-width="4.8" fill="none" stroke-linecap="square"/>
<path d="M1099.8 489.4V765.8H1912.2" stroke="#000" stroke-width="4.8" fill="none" stroke-linecap="square"/>
<rect x="681" y="296.3" width="239.4" height="79.5" fill="#fff" stroke="#000" stroke-width="3.8"/>
<path d="M691.2 322.3H784.6" stroke="#999" stroke-width="3.3"/><path d="M691.2 349H784.6" stroke="#0072BD" stroke-width="3.4"/>
<g font-family="Liberation Serif, Times New Roman, serif" fill="#000">
<text x="368.5" y="39.0" font-size="42.6" font-weight="bold">Raw Waveforms</text>
<text x="1233.2" y="30.8" font-size="42.7" font-weight="bold">Principal Component Space</text>
<text x="86.3" y="77" font-size="40" font-weight="bold">(a1)</text>
<text x="85.9" y="446.3" font-size="40" font-weight="bold">(b1)</text>
<text x="1043.6" y="84" font-size="40" font-weight="bold">(a2)</text>
<text x="1043.3" y="464.4" font-size="40" font-weight="bold">(b2)</text>
<text x="389" y="844.4" font-size="39" font-weight="bold">Time (Samples)</text>
<text x="1509" y="842.7" font-size="39" font-weight="bold">PC1</text>
<text x="35.8" y="590.5" font-size="39" font-weight="bold" transform="rotate(-91.5 35.8 590.5)">Amplitude [µ v]</text>
<text x="1017.8" y="476.7" font-size="39" font-weight="bold" transform="rotate(-91.5 1017.8 476.7)">PC2</text>
<text x="125.5" y="139.5" font-size="35.3" text-anchor="end">500</text>
<text x="125.5" y="255" font-size="35.3" text-anchor="end">0</text>
<text x="125.5" y="384.5" font-size="35.3" text-anchor="end">-500</text>
<text x="294.7" y="434" font-size="35.3" text-anchor="middle">10</text>
<text x="473.7" y="434" font-size="35.3" text-anchor="middle">20</text>
<text x="654.3" y="434" font-size="35.3" text-anchor="middle">30</text>
<text x="834.9" y="434" font-size="35.3" text-anchor="middle">40</text>
<text x="959.4" y="434" font-size="35.3" text-anchor="middle">48</text>
<text x="126" y="513.5" font-size="35.3" text-anchor="end">400</text>
<text x="126" y="629.5" font-size="35.3" text-anchor="end">0</text>
<text x="126" y="752.5" font-size="35.3" text-anchor="end">-400</text>
<text x="294.7" y="805.8" font-size="35.3" text-anchor="middle">10</text>
<text x="473.7" y="805.8" font-size="35.3" text-anchor="middle">20</text>
<text x="654.3" y="805.8" font-size="35.3" text-anchor="middle">30</text>
<text x="834.9" y="805.8" font-size="35.3" text-anchor="middle">40</text>
<text x="959.4" y="805.8" font-size="35.3" text-anchor="middle">48</text>
<text x="1086" y="138.2" font-size="35.3" text-anchor="end">500</text>
<text x="1086" y="248.5" font-size="35.3" text-anchor="end">0</text>
<text x="1086" y="364.4" font-size="35.3" text-anchor="end">-500</text>
<text x="1178.2" y="434" font-size="35.3" text-anchor="middle">-1000</text>
<text x="1370.6" y="434" font-size="35.3" text-anchor="middle">-500</text>
<text x="1553.6" y="434" font-size="35.3" text-anchor="middle">0</text>
<text x="1745.6" y="434" font-size="35.3" text-anchor="middle">500</text>
<text x="1918.3" y="434" font-size="35.3" text-anchor="middle">1000</text>
<text x="1087.8" y="541.9" font-size="35.3" text-anchor="end">200</text>
<text x="1087.8" y="632" font-size="35.3" text-anchor="end">0</text>
<text x="1087.8" y="728.6" font-size="35.3" text-anchor="end">-200</text>
<text x="1218.7" y="805.8" font-size="35.3" text-anchor="middle">-200</text>
<text x="1436.5" y="805.8" font-size="35.3" text-anchor="middle">0</text>
<text x="1667.2" y="805.8" font-size="35.3" text-anchor="middle">200</text>
<text x="1891.5" y="805.8" font-size="35.3" text-anchor="middle">400</text>
<text x="793" y="328.2" font-size="35.5">Artifacts</text>
<text x="813.9" y="359.9" font-size="35.5">Spike</text>
</g></svg>
</body></html>
